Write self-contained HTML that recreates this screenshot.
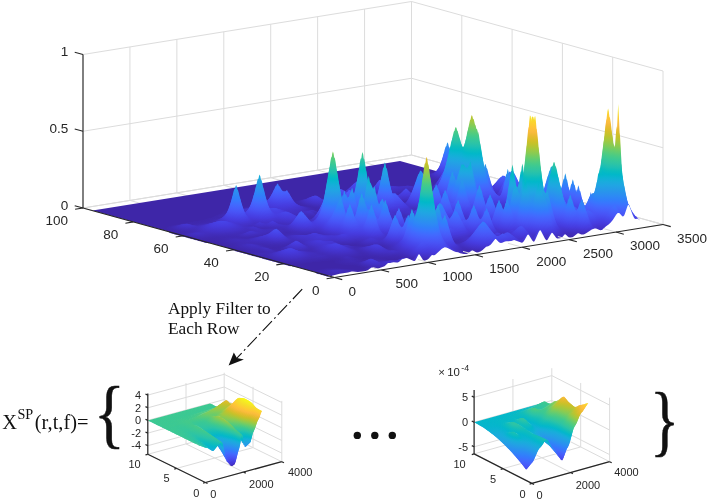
<!DOCTYPE html><html><head><meta charset="utf-8"><title>Figure</title><style>
html,body{margin:0;padding:0;background:#fff}
svg{display:block}
.g{stroke:#dcdcdc;stroke-width:1;fill:none}
.a{stroke:#262626;stroke-width:1.1;fill:none}
.t{font-family:"Liberation Sans",Arial,sans-serif;font-size:13.5px;fill:#262626}
.s{font-family:"Liberation Sans",Arial,sans-serif;font-size:11px;fill:#262626}
.a2{stroke:#262626;stroke-width:1.25;fill:none}
.r{font-family:"Liberation Serif","Times New Roman",serif;fill:#111}
</style></head><body>
<svg width="708" height="502" viewBox="0 0 708 502">
<defs><linearGradient id="pg" gradientUnits="userSpaceOnUse" x1="0" y1="0" x2="-19.551" y2="-121.181"><stop offset="0" stop-color="#3e26a8"/><stop offset="0.02778" stop-color="#4331c7"/><stop offset="0.05556" stop-color="#463bde"/><stop offset="0.08333" stop-color="#4747eb"/><stop offset="0.1111" stop-color="#4853f5"/><stop offset="0.1389" stop-color="#465efb"/><stop offset="0.1667" stop-color="#4269fe"/><stop offset="0.1944" stop-color="#3975fe"/><stop offset="0.2222" stop-color="#3080fa"/><stop offset="0.25" stop-color="#2d8af4"/><stop offset="0.2778" stop-color="#2993ed"/><stop offset="0.3056" stop-color="#259ce7"/><stop offset="0.3333" stop-color="#20a5e3"/><stop offset="0.3611" stop-color="#19acdc"/><stop offset="0.3889" stop-color="#0db3d3"/><stop offset="0.4167" stop-color="#01b8c9"/><stop offset="0.4444" stop-color="#0abdbd"/><stop offset="0.4722" stop-color="#1fc0b2"/><stop offset="0.5" stop-color="#2dc4a5"/><stop offset="0.5278" stop-color="#37c898"/><stop offset="0.5556" stop-color="#45cb89"/><stop offset="0.5833" stop-color="#59cc78"/><stop offset="0.6111" stop-color="#6fcd65"/><stop offset="0.6389" stop-color="#88cb53"/><stop offset="0.6667" stop-color="#9fc942"/><stop offset="0.6944" stop-color="#b5c533"/><stop offset="0.7222" stop-color="#c9c129"/><stop offset="0.75" stop-color="#dbbd29"/><stop offset="0.7778" stop-color="#ebba31"/><stop offset="0.8056" stop-color="#f9ba3d"/><stop offset="0.8333" stop-color="#fec13a"/><stop offset="0.8611" stop-color="#fdcb33"/><stop offset="0.8889" stop-color="#fad52e"/><stop offset="0.9167" stop-color="#f6df29"/><stop offset="0.9444" stop-color="#f5e825"/><stop offset="0.9722" stop-color="#f6f21e"/><stop offset="1" stop-color="#f9fb15"/></linearGradient><linearGradient id="sg1" gradientUnits="userSpaceOnUse" x1="7.695" y1="28.265" x2="-5.611" y2="-20.610"><stop offset="0" stop-color="#3e26a8"/><stop offset="0.04167" stop-color="#4331c7"/><stop offset="0.08333" stop-color="#463de0"/><stop offset="0.125" stop-color="#484cef"/><stop offset="0.1667" stop-color="#475bf9"/><stop offset="0.2083" stop-color="#426afe"/><stop offset="0.25" stop-color="#347afd"/><stop offset="0.2917" stop-color="#2d89f5"/><stop offset="0.3333" stop-color="#2797eb"/><stop offset="0.375" stop-color="#21a3e3"/><stop offset="0.4167" stop-color="#17aeda"/><stop offset="0.4583" stop-color="#02b7cb"/><stop offset="0.5" stop-color="#12beb9"/><stop offset="0.5417" stop-color="#2cc4a6"/><stop offset="0.5833" stop-color="#3dc990"/><stop offset="0.625" stop-color="#5ccc76"/><stop offset="0.6667" stop-color="#81cc59"/><stop offset="0.7083" stop-color="#a6c83c"/><stop offset="0.75" stop-color="#c8c129"/><stop offset="0.7917" stop-color="#e5bb2d"/><stop offset="0.8333" stop-color="#fbbc3d"/><stop offset="0.875" stop-color="#feca33"/><stop offset="0.9167" stop-color="#f7db2b"/><stop offset="0.9583" stop-color="#f5eb23"/><stop offset="1" stop-color="#f9fb15"/></linearGradient><linearGradient id="sg2" gradientUnits="userSpaceOnUse" x1="7.167" y1="25.662" x2="-8.447" y2="-30.245"><stop offset="0" stop-color="#3e26a8"/><stop offset="0.04167" stop-color="#4331c7"/><stop offset="0.08333" stop-color="#463de0"/><stop offset="0.125" stop-color="#484cef"/><stop offset="0.1667" stop-color="#475bf9"/><stop offset="0.2083" stop-color="#426afe"/><stop offset="0.25" stop-color="#347afd"/><stop offset="0.2917" stop-color="#2d89f5"/><stop offset="0.3333" stop-color="#2797eb"/><stop offset="0.375" stop-color="#21a3e3"/><stop offset="0.4167" stop-color="#17aeda"/><stop offset="0.4583" stop-color="#02b7cb"/><stop offset="0.5" stop-color="#12beb9"/><stop offset="0.5417" stop-color="#2cc4a6"/><stop offset="0.5833" stop-color="#3dc990"/><stop offset="0.625" stop-color="#5ccc76"/><stop offset="0.6667" stop-color="#81cc59"/><stop offset="0.7083" stop-color="#a6c83c"/><stop offset="0.75" stop-color="#c8c129"/><stop offset="0.7917" stop-color="#e5bb2d"/><stop offset="0.8333" stop-color="#fbbc3d"/><stop offset="0.875" stop-color="#feca33"/><stop offset="0.9167" stop-color="#f7db2b"/><stop offset="0.9583" stop-color="#f5eb23"/><stop offset="1" stop-color="#f9fb15"/></linearGradient></defs>
<rect width="708" height="502" fill="#fff"/>
<line class="g" x1="334.50" y1="277.50" x2="83.00" y2="208.00"/>
<line class="g" x1="381.43" y1="269.93" x2="129.93" y2="200.43"/>
<line class="g" x1="428.36" y1="262.36" x2="176.86" y2="192.86"/>
<line class="g" x1="475.29" y1="254.79" x2="223.79" y2="185.29"/>
<line class="g" x1="522.21" y1="247.21" x2="270.71" y2="177.71"/>
<line class="g" x1="569.14" y1="239.64" x2="317.64" y2="170.14"/>
<line class="g" x1="616.07" y1="232.07" x2="364.57" y2="162.57"/>
<line class="g" x1="663.00" y1="224.50" x2="411.50" y2="155.00"/>
<line class="g" x1="334.50" y1="277.50" x2="663.00" y2="224.50"/>
<line class="g" x1="284.20" y1="263.60" x2="612.70" y2="210.60"/>
<line class="g" x1="233.90" y1="249.70" x2="562.40" y2="196.70"/>
<line class="g" x1="183.60" y1="235.80" x2="512.10" y2="182.80"/>
<line class="g" x1="133.30" y1="221.90" x2="461.80" y2="168.90"/>
<line class="g" x1="83.00" y1="208.00" x2="411.50" y2="155.00"/>
<line class="g" x1="83.00" y1="208.00" x2="83.00" y2="54.50"/>
<line class="g" x1="129.93" y1="200.43" x2="129.93" y2="46.93"/>
<line class="g" x1="176.86" y1="192.86" x2="176.86" y2="39.36"/>
<line class="g" x1="223.79" y1="185.29" x2="223.79" y2="31.79"/>
<line class="g" x1="270.71" y1="177.71" x2="270.71" y2="24.21"/>
<line class="g" x1="317.64" y1="170.14" x2="317.64" y2="16.64"/>
<line class="g" x1="364.57" y1="162.57" x2="364.57" y2="9.07"/>
<line class="g" x1="411.50" y1="155.00" x2="411.50" y2="1.50"/>
<line class="g" x1="83.00" y1="208.00" x2="411.50" y2="155.00"/>
<line class="g" x1="83.00" y1="131.25" x2="411.50" y2="78.25"/>
<line class="g" x1="83.00" y1="54.50" x2="411.50" y2="1.50"/>
<line class="g" x1="663.00" y1="224.50" x2="663.00" y2="71.00"/>
<line class="g" x1="612.70" y1="210.60" x2="612.70" y2="57.10"/>
<line class="g" x1="562.40" y1="196.70" x2="562.40" y2="43.20"/>
<line class="g" x1="512.10" y1="182.80" x2="512.10" y2="29.30"/>
<line class="g" x1="461.80" y1="168.90" x2="461.80" y2="15.40"/>
<line class="g" x1="411.50" y1="155.00" x2="411.50" y2="1.50"/>
<line class="g" x1="411.50" y1="155.00" x2="663.00" y2="224.50"/>
<line class="g" x1="411.50" y1="78.25" x2="663.00" y2="147.75"/>
<line class="g" x1="411.50" y1="1.50" x2="663.00" y2="71.00"/>
<polygon fill="#3e26a8" points="92.6,210.6 400.0,161.0 640.0,227.3 332.5,276.9"/><g fill="url(#pg)"><polygon transform="translate(132.8,221.7)" points="290.7,-47.4 298.4,-48.9 306.1,-49.9 307.3,-47.8 291.9,-45.3"/>
<polygon transform="translate(134,222.1)" points="287.9,-46.9 298.4,-49.2 307.5,-50.2 308.7,-48.1 289.1,-44.9"/>
<polygon transform="translate(135.3,222.4)" points="285.8,-46.5 297.7,-49.4 307.5,-50.4 308.7,-48.1 287,-44.6"/>
<polygon transform="translate(136.5,222.8)" points="284.4,-46.3 297.7,-49.9 301.2,-50.3 307.5,-50.6 308.7,-48.1 285.6,-44.3"/>
<polygon transform="translate(137.8,223.1)" points="283,-46.1 297.7,-50.5 301.2,-50.9 307.5,-50.8 308.7,-48.1 284.2,-44.1"/>
<polygon transform="translate(139,223.5)" points="282.3,-46 288.6,-47.9 295.6,-50.9 297.7,-51.6 301.2,-51.8 307.5,-51.1 308.7,-48.1 283.5,-44"/>
<polygon transform="translate(140.3,223.8)" points="110.7,-18.4 124,-20.5 125.2,-18.5 111.9,-16.3"/>
<polygon transform="translate(140.3,223.8)" points="281.6,-45.9 288.6,-48.2 295.6,-52.1 297.7,-53 300.5,-53.2 307.5,-51.5 308.7,-48.1 282.8,-43.9"/>
<polygon transform="translate(141.5,224.2)" points="105.1,-17.5 117.7,-19.9 128.2,-21.2 129.4,-19.1 106.3,-15.4"/>
<polygon transform="translate(141.5,224.2)" points="280.9,-45.7 285.1,-47 288.6,-48.6 290.7,-49.9 295.6,-53.8 297,-54.6 298.4,-55.1 299.8,-55.1 301.2,-54.7 307.5,-51.9 308.7,-48.1 282.1,-43.8"/>
<polygon transform="translate(142.8,224.5)" points="81.2,-13.6 89,-15.1 101.6,-17 117.7,-20.2 130.3,-21.5 131.5,-19.5 82.5,-11.6"/>
<polygon transform="translate(142.8,224.5)" points="280.2,-45.6 285.1,-47.2 288.6,-49 291.4,-51.3 296.3,-56.7 298.4,-57.8 299.1,-57.8 300.5,-57.3 305.4,-53.6 307.5,-52.4 308.7,-48.1 281.4,-43.7"/>
<polygon transform="translate(144.1,224.9)" points="78.4,-13.2 88.3,-15.2 102.3,-17.3 117.7,-20.6 132.4,-21.9 133.6,-19.8 79.7,-11.1"/>
<polygon transform="translate(144.1,224.9)" points="185.6,-30.5 189.8,-31.2 191.1,-29.1 186.9,-28.4"/>
<polygon transform="translate(144.1,224.9)" points="279.5,-45.5 285.1,-47.3 288.6,-49.4 290,-50.7 292.1,-53.3 297,-60.9 298.4,-61.9 299.1,-61.8 300.5,-60.7 304.7,-55.4 307.5,-53 308.7,-48.1 280.7,-43.5"/>
<polygon transform="translate(145.3,225.2)" points="76.3,-12.8 88.3,-15.5 103,-17.7 117.7,-21.1 121.2,-21.5 134.5,-22.2 135.7,-20.1 77.6,-10.8"/>
<polygon transform="translate(145.3,225.2)" points="180,-29.5 187.7,-31.1 196.1,-32.2 197.4,-30.1 181.3,-27.5"/>
<polygon transform="translate(145.3,225.2)" points="279.5,-45.5 283,-46.6 285.8,-47.8 287.9,-49.2 289.3,-50.6 291.4,-53.4 292.8,-55.9 297,-66 297.7,-66.9 298.4,-67.3 299.1,-67.1 299.8,-66.4 304,-57.8 305.4,-55.7 307.5,-53.5 308.7,-48.1 280.7,-43.5"/>
<polygon transform="translate(146.6,225.6)" points="74.9,-12.6 88.3,-15.7 103.7,-18.1 117.7,-21.9 121.2,-22.2 129.6,-22 135.9,-22.4 137.1,-20.4 76.2,-10.5"/>
<polygon transform="translate(146.6,225.6)" points="148.5,-24.4 154.1,-25.6 159,-26.1 160.2,-24.1 149.7,-22.4"/>
<polygon transform="translate(146.6,225.6)" points="177.9,-29.2 186.3,-31.1 194.7,-32.3 202.4,-33.8 212.9,-34.9 214.2,-32.8 179.2,-27.2"/>
<polygon transform="translate(146.6,225.6)" points="279.5,-45.5 283,-46.6 285.8,-47.9 287.9,-49.5 290,-52 291.4,-54.3 292.8,-57.5 297,-71.6 297.7,-73 298.4,-73.6 299.1,-73.3 299.8,-72.1 304,-59.3 305.4,-56.6 307.5,-54 308.7,-48.1 280.7,-43.5"/>
<polygon transform="translate(147.8,225.9)" points="72.1,-12.2 88.3,-16.1 104.4,-18.6 108.6,-19.8 114.9,-22.1 117.7,-22.8 121.2,-23 130.3,-22.3 137.3,-22.6 138.5,-20.6 73.4,-10.1"/>
<polygon transform="translate(147.8,225.9)" points="146.4,-24 154.1,-26 161.1,-26.4 162.3,-24.4 147.6,-22.1"/>
<polygon transform="translate(147.8,225.9)" points="175.8,-28.8 185.6,-31.2 193.3,-32.5 202.4,-34.8 205.9,-35.1 216.4,-35.4 217.7,-33.4 177.1,-26.8"/>
<polygon transform="translate(147.8,225.9)" points="278.8,-45.4 283.7,-46.9 286.5,-48.5 288.6,-50.4 290.7,-53.6 292.8,-58.8 297,-76.7 297.7,-79 298.4,-80 299.1,-79.3 299.8,-77.2 304,-60.6 305.4,-57.3 307.5,-54.3 308.7,-48.1 280,-43.4"/>
<polygon transform="translate(149.1,226.3)" points="68.6,-11.6 77,-13.4 88.3,-16.4 104.4,-19 107.9,-20 114.9,-23 117.7,-23.8 121.2,-24 131,-22.5 138,-22.7 139.2,-20.7 69.9,-9.5"/>
<polygon transform="translate(149.1,226.3)" points="145,-23.8 154.1,-26.5 162.5,-26.6 163.7,-24.7 146.2,-21.8"/>
<polygon transform="translate(149.1,226.3)" points="174.4,-28.7 184.9,-31.4 191.9,-32.8 198.9,-35.4 202.4,-36.3 205.9,-36.5 214.3,-35.7 219.2,-35.8 220.5,-33.8 175.7,-26.6"/>
<polygon transform="translate(149.1,226.3)" points="224.8,-36.8 232.5,-38.3 240.9,-39.4 242.2,-37.3 226.1,-34.7"/>
<polygon transform="translate(149.1,226.3)" points="278.8,-45.4 283.7,-47 286.5,-48.5 288.6,-50.5 290.7,-53.8 292.1,-57 293.5,-61.9 297.7,-82.4 298.4,-84.1 299.1,-82.6 302.6,-66.3 304,-61 305.4,-57.5 307.5,-54.4 308.7,-48.1 280,-43.4"/>
<polygon transform="translate(150.3,226.6)" points="65.1,-11 77.7,-13.8 88.3,-16.8 105.1,-19.6 108.6,-20.9 114.9,-24.2 117.7,-25.1 121.2,-25.1 128.2,-23.3 131,-22.8 134.5,-22.7 139.4,-22.9 140.6,-20.9 66.4,-9"/>
<polygon transform="translate(150.3,226.6)" points="144.3,-23.7 152,-26.6 154.1,-27.1 156.2,-27.2 161.1,-26.8 163.9,-26.9 165.1,-24.9 145.5,-21.7"/>
<polygon transform="translate(150.3,226.6)" points="172.3,-28.3 177.2,-29.5 184.9,-31.8 190.5,-33.1 193.3,-34.3 198.9,-37.3 202.4,-38.3 205.9,-38.3 213.6,-36.4 218.5,-36 222,-36.4 233.2,-38.8 244.4,-40 245.7,-37.9 173.6,-26.3"/>
<polygon transform="translate(150.3,226.6)" points="278.8,-45.4 283.7,-46.9 286.5,-48.5 288.6,-50.4 290.7,-53.6 292.8,-58.8 297,-76.7 297.7,-79 298.4,-80 299.1,-79.3 299.8,-77.2 304,-60.6 305.4,-57.3 307.5,-54.3 308.7,-48.1 280,-43.4"/>
<polygon transform="translate(151.6,227)" points="62.3,-10.6 79.1,-14.4 88.3,-17.2 105.1,-20.1 108.6,-21.6 115.6,-25.9 118.4,-26.8 121.2,-26.5 127.5,-24 131,-23.1 135.2,-22.9 140.1,-23.1 141.3,-21.1 63.6,-8.5"/>
<polygon transform="translate(151.6,227)" points="142.9,-23.4 145.7,-24.3 151.3,-27 154.1,-27.8 156.2,-27.9 161.8,-27 165.3,-27.2 166.6,-25.1 144.1,-21.5"/>
<polygon transform="translate(151.6,227)" points="168.1,-27.7 175.8,-29.3 184.2,-32.1 189.8,-33.6 192.6,-35 198.9,-39.4 201,-40.3 202.4,-40.6 203.8,-40.7 205.9,-40.3 214.3,-36.9 218.5,-36.2 221.3,-36.5 233.2,-39.3 249.3,-40.8 250.6,-38.7 169.4,-25.6"/>
<polygon transform="translate(151.6,227)" points="278.8,-45.4 283,-46.6 285.8,-47.9 287.9,-49.5 290,-52 291.4,-54.3 292.8,-57.5 297,-71.6 297.7,-73 298.4,-73.6 299.1,-73.3 299.8,-72.1 304,-59.3 305.4,-56.6 307.5,-54 308.7,-48.1 280,-43.4"/>
<polygon transform="translate(152.9,227.3)" points="60.2,-10.3 64.4,-11.2 72.8,-13.4 79.8,-14.9 88.3,-17.6 105.1,-20.6 108.6,-22.3 116.3,-28.1 118.4,-28.9 120.5,-28.5 126.8,-25 130.3,-23.6 134.5,-23 140.8,-23.2 142,-21.2 61.5,-8.2"/>
<polygon transform="translate(152.9,227.3)" points="142.2,-23.4 145.7,-24.5 151.3,-27.6 154.1,-28.6 156.2,-28.6 161.1,-27.4 163.2,-27.2 170.9,-28.4 177.2,-30 183.5,-32.4 190.5,-34.7 193.3,-36.6 198.9,-41.5 201,-42.7 202.4,-43.1 203.8,-43 205.2,-42.6 214.3,-37.5 216.4,-36.8 218.5,-36.5 221.3,-36.7 229,-39 233.2,-39.9 243.7,-40.5 254.2,-41.5 255.5,-39.5 143.4,-21.4"/>
<polygon transform="translate(152.9,227.3)" points="278.8,-45.5 282.3,-46.4 285.1,-47.4 287.2,-48.7 289.3,-50.6 291.4,-53.4 292.8,-55.9 297,-66 297.7,-66.9 298.4,-67.3 299.1,-67.1 299.8,-66.4 304,-57.8 305.4,-55.7 307.5,-53.5 308.7,-48.1 280,-43.4"/>
<polygon transform="translate(154.1,227.7)" points="57.4,-9.9 63.7,-11.1 73.5,-14 80.5,-15.4 88.3,-18 105.8,-21.4 107.9,-22.5 110,-24 112.8,-26.6 116.3,-30.6 117.7,-31.7 118.4,-31.9 119.1,-31.8 120.5,-31 124.7,-27.2 128.2,-25 131.7,-23.6 135.2,-23.2 140.8,-23.3 143.6,-23.8 146.4,-25.1 152,-28.8 154.1,-29.5 156.2,-29.4 161.1,-27.7 163.2,-27.4 166.7,-27.9 174.4,-29.5 177.9,-30.6 184.2,-33.3 190.5,-35.4 193.3,-37.5 199.6,-43.9 201,-44.9 202.4,-45.4 203.8,-45.1 205.2,-44.4 211.5,-39.8 214.3,-38 216.4,-37.1 218.5,-36.7 221.3,-37 229.7,-39.8 233.2,-40.6 243,-40.8 257,-41.9 258.3,-39.9 58.7,-7.7"/>
<polygon transform="translate(154.1,227.7)" points="278.1,-45.4 284.4,-47.1 286.5,-48 288.6,-49.4 290,-50.7 292.1,-53.3 297,-60.9 298.4,-61.9 299.1,-61.8 300.5,-60.7 304.7,-55.4 307.5,-53 308.7,-48.1 279.3,-43.3"/>
<polygon transform="translate(155.4,228)" points="51.1,-8.9 62.3,-10.9 73.5,-14.4 81.2,-15.8 88.3,-18.4 98.8,-20.8 103.7,-21.4 105.8,-21.9 108.6,-23.6 111.4,-26.2 113.5,-29 116.3,-33.7 117.7,-35.2 118.4,-35.4 119.1,-35.3 120.5,-34.1 124.7,-28.4 126.8,-26.6 128.9,-25.2 131,-24.2 133.8,-23.5 140.1,-23.3 142.9,-23.7 145,-24.5 147.1,-25.9 151.3,-29.1 152.7,-30 154.1,-30.4 156.2,-30.2 161.1,-28.1 163.2,-27.7 167.4,-28.4 177.9,-31 184.9,-34.2 189.8,-35.6 191.2,-36.3 194,-38.5 200.3,-45.4 201.7,-46.5 202.4,-46.7 204.5,-45.7 210.8,-40.6 213.6,-38.7 216.4,-37.4 218.5,-36.9 221.3,-37.2 229.7,-40.5 233.2,-41.4 242.3,-41.2 250,-41.9 258.4,-42.1 259.7,-40.2 52.4,-6.7"/>
<polygon transform="translate(155.4,228)" points="276,-45.1 283.7,-46.8 287.9,-48.5 290.7,-50.7 296.3,-56.7 298.4,-57.8 299.1,-57.8 300.5,-57.3 305.4,-53.6 307.5,-52.4 308.7,-48.1 277.2,-43"/>
<polygon transform="translate(156.6,228.3)" points="23.8,-4.4 61.6,-10.8 65.8,-12 73.5,-14.8 81.2,-16.1 88.3,-18.6 98.1,-21.3 104.4,-22 105.8,-22.4 108.6,-24.1 111.4,-27 113.5,-30.6 117,-38.1 117.7,-39 118.4,-39.3 119.1,-39.1 119.8,-38.3 123.3,-31.8 124.7,-29.7 128.2,-26.3 130.3,-24.9 133.1,-23.9 135.9,-23.4 139.4,-23.3 142.2,-23.6 145,-24.7 147.1,-26.2 152,-30.4 154.1,-31.3 156.2,-31 161.1,-28.5 163.2,-28.1 166,-28.5 177.9,-31.5 185.6,-35.2 190.5,-36.2 191.9,-36.8 194,-38.3 199.6,-43.7 201,-44.7 202.4,-45.2 203.8,-45 205.2,-44.3 211.5,-39.9 213.6,-38.7 216.4,-37.7 219.2,-37.2 222,-37.6 230.4,-41.4 233.2,-42.1 241.6,-41.6 249.3,-42.3 259.8,-42.3 261.1,-40.4 25.1,-2.3"/>
<polygon transform="translate(156.6,228.3)" points="273.9,-44.7 284.4,-47 287.2,-47.9 290.7,-49.9 296.3,-54.3 298.4,-55.1 299.8,-55.1 301.2,-54.7 307.5,-51.9 308.7,-48.1 275.1,-42.6"/>
<polygon transform="translate(157.9,228.7)" points="10.5,-2.2 17.5,-3.6 48.3,-8.5 61.6,-10.9 65.8,-12.1 73.5,-14.9 81.9,-16.4 87.6,-18.5 92.5,-19.9 98.1,-21.8 100.2,-22.2 103.7,-22.3 105.8,-22.8 108.6,-24.6 111.4,-27.7 113.5,-31.8 117,-41.2 117.7,-42.6 118.4,-43.1 119.1,-42.7 119.8,-41.5 122.6,-35 124,-32.4 128.2,-27.2 130.3,-25.4 132.4,-24.4 135.2,-23.6 138.7,-23.4 142.2,-23.7 145,-24.9 147.1,-26.5 152,-31.2 153.4,-32 154.1,-32.2 155.5,-32.1 160.4,-29.2 161.8,-28.6 163.2,-28.4 164.6,-28.7 172.3,-31.2 179.3,-32.7 186.3,-36.2 191.2,-36.5 192.6,-36.9 194.7,-38.1 199.6,-41.8 201,-42.5 202.4,-42.9 203.8,-42.9 205.2,-42.5 212.2,-39.2 220.6,-37.7 223.4,-38.4 231.1,-42.2 233.2,-42.8 240.9,-42 248.6,-42.7 260.5,-42.5 261.8,-40.5 11.8,-0.1"/>
<polygon transform="translate(157.9,228.7)" points="271.8,-44.3 287.2,-47.7 290.7,-49.2 295.6,-52.1 298.4,-53.1 301.2,-53.1 307.5,-51.5 308.7,-48.1 273,-42.3"/>
<polygon transform="translate(159.1,229)" points="7.7,-1.8 16.1,-3.6 25.9,-4.9 44.8,-8 63,-11.4 73.5,-14.7 81.9,-16.5 98.1,-22.1 100.2,-22.5 103.7,-22.6 105.8,-23.1 107.2,-23.8 109.3,-25.5 110.7,-27 112.1,-29.2 114.2,-34.3 117.7,-44.6 118.4,-45.6 119.1,-44.8 122.6,-36.5 128.2,-28.2 129.6,-26.6 131,-25.4 133.1,-24.4 135.9,-23.7 138.7,-23.5 142.2,-23.7 145,-25 147.1,-26.7 152,-31.8 153.4,-32.9 154.1,-33.1 155.5,-32.8 161.1,-29.2 163.2,-28.9 165.3,-29.5 172.3,-32.5 180,-33.7 186.3,-37 187.7,-37.1 191.9,-36.6 194,-37 199.6,-39.8 202.4,-40.7 205.2,-40.7 209.4,-39.5 210.8,-39.4 215.7,-40.4 217.1,-40.1 220.6,-38.4 222,-38.2 224.1,-38.7 231.1,-42.2 233.2,-42.8 240.2,-42.1 247.9,-43.2 257,-42.6 261.2,-42.6 262.5,-40.6 9,0.3"/>
<polygon transform="translate(159.1,229)" points="271.1,-44.2 279.5,-46.3 287.2,-47.5 290,-48.4 295.6,-50.9 298.4,-51.7 301.2,-51.8 307.5,-51.1 308.7,-48.1 272.3,-42.2"/>
<polygon transform="translate(160.4,229.4)" points="5.6,-1.4 16.1,-4 26.6,-5.1 42.7,-7.7 64.4,-11.8 73.5,-14.5 81.9,-16.7 98.1,-22 103.7,-22.7 105.8,-23.2 108.6,-25 111.4,-28 113.5,-32.1 117,-41.5 117.7,-42.9 118.4,-43.5 119.1,-43.1 121.9,-38.4 124.7,-35.6 128.9,-28.2 130.3,-26.5 131.7,-25.3 133.8,-24.4 136.6,-23.7 139.4,-23.6 142.2,-23.8 145,-25.1 147.8,-27.6 152.7,-33 154.1,-33.9 155.5,-33.4 160.4,-29.7 162.5,-29.2 164.6,-29.9 170.2,-33 172.3,-34 174.4,-34.4 178.6,-34.3 180.7,-34.6 186.3,-37.6 187.7,-37.7 192.6,-36.7 194.7,-36.6 196.8,-37 203.1,-38.9 205.2,-39.1 208.7,-39 210.1,-39.4 213.6,-42.1 215,-42.7 215.7,-42.7 217.1,-42.3 221.3,-39 222.7,-38.5 224.1,-38.7 230.4,-41.5 233.2,-42.2 240.2,-42.1 247.2,-43.6 257,-42.6 261.9,-42.6 263.2,-40.7 6.9,0.6"/>
<polygon transform="translate(160.4,229.4)" points="269.7,-43.9 279.5,-46.5 287.9,-47.5 297.7,-50.5 301.2,-50.9 307.5,-50.8 308.7,-48.1 270.9,-42"/>
<polygon transform="translate(161.6,229.7)" points="4.9,-1.3 16.1,-4.4 18.9,-4.8 25.9,-5.1 29.4,-5.6 45.5,-8.3 57.4,-10.9 66.5,-12.4 81.9,-16.8 96.7,-21.6 105.1,-23 106.5,-23.6 108.6,-24.9 111.4,-27.7 113.5,-31.2 117,-38.7 117.7,-39.6 118.4,-40.1 119.1,-40 121.2,-38.6 121.9,-38.4 124,-38.5 124.7,-37.8 128.9,-28.9 130.3,-26.9 131.7,-25.6 133.1,-24.9 135.2,-24.1 140.1,-23.7 142.9,-24 145.7,-25.6 147.8,-27.6 152.7,-33.2 154.1,-34.2 155.5,-33.6 159.7,-30.3 161.1,-29.6 162.5,-29.6 165.3,-31 170.9,-34.9 173.7,-36 175.8,-36 179.3,-35.4 180.7,-35.4 182.8,-36 186.3,-37.8 187.7,-38.1 189.1,-37.9 194.7,-36.4 197.5,-36.3 205.2,-38.2 208,-38.6 209.4,-39.4 213.6,-44.4 215,-45.3 215.7,-45.3 217.1,-44.6 221.3,-39.9 222.7,-38.8 223.4,-38.6 224.8,-38.8 231.8,-41.3 240.9,-42.1 246.5,-43.8 248.6,-43.7 257,-42.7 261.9,-42.7 263.2,-40.7 6.2,0.8"/>
<polygon transform="translate(161.6,229.7)" points="269,-43.8 276.7,-46.1 280.2,-46.9 287.9,-47.4 299.1,-50.1 307.5,-50.6 308.7,-48.1 270.2,-41.8"/>
<polygon transform="translate(162.9,230.1)" points="3.5,-1.1 7,-2 16.1,-5 19.6,-5.3 25.9,-5.3 29.4,-5.7 45.5,-8.4 58.1,-11.4 67.9,-12.9 96,-21.4 105.1,-23 107.9,-24.3 111.4,-27.2 113.5,-30 116.3,-34.6 117.7,-36.2 118.4,-36.6 121.2,-37.1 124,-40 124.7,-39 128.9,-29.3 131,-26.4 133.1,-25 135.2,-24.3 138,-23.9 140.8,-23.8 143.6,-24.3 145.7,-25.6 147.8,-27.6 152.7,-32.9 154.1,-33.8 155.5,-33.3 159.7,-30.3 161.1,-29.8 161.8,-29.8 163.2,-30.3 164.6,-31.2 170.9,-36.4 172.3,-37.2 173.7,-37.7 175.8,-37.6 179.3,-36.4 181.4,-36.1 182.8,-36.4 186.3,-38 188.4,-38.4 195.4,-36.4 198.2,-36.1 201,-36.5 207.3,-38.3 208.7,-39.2 209.4,-39.9 213.6,-46.7 215,-48 215.7,-48 216.4,-47.6 217.8,-45.9 222,-39.8 223.4,-38.8 224.1,-38.6 225.5,-38.8 231.8,-40.8 240.2,-41.8 247.2,-43.5 257.7,-42.6 261.9,-42.7 263.2,-40.7 4.8,1"/>
<polygon transform="translate(162.9,230.1)" points="267.6,-43.6 279.5,-47.1 282.3,-47.4 288.6,-47.4 298.4,-49.5 307.5,-50.4 308.7,-48.1 268.8,-41.6"/>
<polygon transform="translate(164.2,230.4)" points="2.8,-1 7,-2.1 13.3,-4.7 16.1,-5.6 18.9,-5.9 25.9,-5.5 29.4,-5.8 45.5,-8.5 58.1,-12 68.6,-13.3 79.1,-16.8 95.3,-21.3 105.8,-23.2 107.9,-24.1 110.7,-26 112.8,-27.9 117,-32.5 120.5,-34.5 123.3,-37.8 124,-38 124.7,-37.5 125.4,-36.4 128.9,-29.2 131,-26.5 133.1,-25.2 135.2,-24.4 138,-24 141.5,-23.9 143.6,-24.3 145.7,-25.5 152,-31.7 153.4,-32.8 154.1,-33 155.5,-32.7 159,-30.5 160.4,-29.9 161.1,-29.8 162.5,-30.2 165.3,-32.3 170.9,-37.8 172.3,-38.9 173.7,-39.4 175.8,-39.1 179.3,-37.3 181.4,-36.7 183.5,-36.9 187,-38.4 188.4,-38.7 190.5,-38.3 196.1,-36.5 198.2,-36.1 201,-36.3 206.6,-37.8 208,-38.6 209.4,-40.3 213.6,-48.4 215,-50.4 215.7,-50.3 216.4,-49.5 222,-40.2 223.4,-38.9 224.1,-38.6 225.5,-38.6 231.1,-40.2 239.5,-41.3 247.2,-43.1 250,-43.1 257.7,-42.5 261.9,-42.7 263.2,-40.7 4.1,1.1"/>
<polygon transform="translate(164.2,230.4)" points="264.8,-43.2 279.5,-47.4 282.3,-47.6 289.3,-47.5 299.1,-49.3 307.5,-50.2 308.7,-48.1 266,-41.2"/>
<polygon transform="translate(165.4,230.8)" points="2.1,-0.9 6.3,-2 13.3,-5.2 16.1,-6.2 18.9,-6.4 25.2,-5.8 28,-5.8 43.4,-8.3 48.3,-9.5 57.4,-12.7 60.2,-13.1 65.8,-13.2 68.6,-13.6 79.8,-17.6 86.8,-19.1 96.7,-21.9 106.5,-23.4 110,-25 116.3,-29.6 119.8,-31.6 122.6,-34.5 123.3,-35 124,-35.2 124.7,-34.9 125.4,-34.2 129.6,-27.7 131.7,-26 133.8,-25 135.9,-24.4 141.5,-24 143.6,-24.3 145.7,-25.4 151.3,-30.5 153.4,-31.9 154.1,-32.1 155.5,-31.9 159,-30.2 160.4,-29.7 161.1,-29.7 162.5,-30.3 165.3,-32.6 171.6,-39.7 173,-40.8 173.7,-41 175.1,-40.8 179.3,-38 181.4,-37.1 183.5,-37.2 187,-38.6 188.4,-38.8 190.5,-38.5 197.5,-36.3 200.3,-36.1 203.1,-36.6 206.6,-37.5 208,-38.4 208.7,-39.2 210.1,-41.4 214.3,-49.9 215,-50.7 215.7,-50.6 216.4,-49.7 222,-40.2 223.4,-38.8 224.8,-38.3 231.1,-39.8 238.8,-40.8 247.2,-42.5 250,-42.7 257.7,-42.5 261.9,-42.8 264.8,-43.5 273.2,-46.4 278.8,-47.7 281.6,-47.9 287.2,-47.5 290,-47.5 299.1,-49 306.1,-49.9 307.3,-47.8 3.4,1.2"/>
<polygon transform="translate(166.7,231.1)" points="1.4,-0.8 6.3,-2.1 14,-6 16.1,-6.8 18.9,-7 24.5,-6.1 27.3,-5.9 42.7,-8.3 47.6,-9.6 54.6,-12.8 57.4,-13.8 60.2,-14.1 65.8,-13.8 68.6,-14 71.4,-14.9 77,-17.5 79.8,-18.4 87.6,-19.7 97.4,-22.4 107.2,-23.5 110,-24.6 115.6,-27.6 119.1,-29.2 122.6,-31.8 124,-32.3 125.4,-31.7 129.6,-27.3 132.4,-25.6 134.5,-24.8 137.3,-24.3 141.5,-24 143.6,-24.2 146.4,-25.7 151.3,-29.8 153.4,-31 155.5,-31.1 159.7,-29.5 161.1,-29.5 161.8,-29.8 163.2,-30.8 165.3,-32.8 171.6,-40.6 173,-42 173.7,-42.2 175.1,-41.7 179.3,-38.4 181.4,-37.3 183.5,-37.2 187,-38.6 189.1,-38.8 196.8,-36.4 198.9,-36 201,-36 205.9,-36.8 208,-38 210.1,-40.8 213.6,-47 215,-48.4 215.7,-48.4 217.1,-47.2 221.3,-40.7 222.7,-39.1 223.4,-38.5 224.8,-38.1 247.2,-42 257.7,-42.4 260.5,-42.7 264.1,-43.8 271.1,-47.3 274.6,-48.3 280.2,-48.5 286.5,-47.7 289.3,-47.5 299.8,-48.9 301,-46.8 2.7,1.3"/>
<polygon transform="translate(167.9,231.5)" points="0.7,-0.6 3.5,-1.3 6.3,-2.2 16.1,-7.4 18.2,-7.6 24.5,-6.3 27.3,-6.1 43.4,-8.7 46.2,-9.4 48.3,-10.2 54.6,-13.9 57.4,-15.1 60.2,-15.4 66.5,-14.3 68.6,-14.4 70.7,-15.1 76.3,-18.2 79.1,-19.3 81.9,-19.8 87.6,-20.2 94.6,-22.2 98.1,-22.9 107.9,-23.6 110,-24.2 119.1,-27.7 123.3,-29.8 124,-29.9 125.4,-29.5 130.3,-26.4 133.8,-25 138.7,-24.2 143.6,-24.2 146.4,-25.4 151.3,-29.1 153.4,-30.1 155.5,-30.3 159.7,-29.2 161.8,-29.6 165.3,-32.7 172.3,-41.1 173.7,-42 175.1,-41.6 180,-37.9 182.1,-37.1 183.5,-37.2 187,-38.4 188.4,-38.6 190.5,-38.3 197.5,-36.1 201.7,-35.8 205.9,-36.4 208,-37.3 209.4,-38.8 212.9,-43.9 214.3,-45.4 215,-45.7 215.7,-45.8 217.1,-45 222,-39.2 223.4,-38.1 224.8,-37.8 247.2,-41.6 257,-42.3 259.8,-42.7 261.9,-43.4 264.1,-44.6 271.1,-49.7 273.9,-50.7 277.4,-50.4 284.4,-48.3 287.9,-47.7 299.1,-48.8 300.3,-46.7 2,1.4"/>
<polygon transform="translate(169.2,231.8)" points="0,-0.5 3.5,-1.3 6.3,-2.3 15.4,-7.5 16.8,-8 18.2,-8 23.8,-6.6 26.6,-6.3 42.7,-8.8 45.5,-9.5 47.6,-10.4 55.3,-15.8 58.1,-16.9 60.9,-16.8 66.5,-15 68.6,-15 70.7,-15.8 76.3,-19.4 79.1,-20.6 81.9,-21 86.1,-20.7 88.3,-20.8 95.3,-22.8 98.1,-23.3 108.6,-23.6 123.3,-28 125.4,-28 131.7,-25.6 135.9,-24.5 140.8,-24.1 144.3,-24.3 146.4,-25.2 151.3,-28.3 153.4,-29.3 155.5,-29.5 159.7,-28.8 161.8,-29.4 165.3,-32.4 171.6,-39.4 173.7,-40.6 174.4,-40.6 175.8,-40.2 180,-37.6 182.1,-36.9 183.5,-36.9 187,-37.9 189.1,-38.1 197.5,-35.9 199.6,-35.6 202.4,-35.6 205.9,-36 208,-36.6 209.4,-37.7 212.9,-41.7 215,-43.1 215.7,-43.1 217.1,-42.6 222,-38.4 223.4,-37.7 224.8,-37.5 247.2,-41.2 259.1,-42.7 261.2,-43.6 263.4,-45.1 269,-50.9 271.1,-52.7 272.5,-53.5 273.9,-53.8 275.3,-53.7 276.7,-53.3 283,-49.4 286.5,-48.1 288.6,-47.8 294.2,-48.7 300.5,-48.9 301.7,-46.9 1.3,1.5"/>
<polygon transform="translate(170.4,232.2)" points="0,-0.6 3.5,-1.3 6.3,-2.3 14.7,-7.1 16.8,-8 18.2,-7.9 23.8,-6.6 26.6,-6.5 44.8,-9.6 48.3,-11.3 55.3,-17.6 56.7,-18.5 58.1,-19 60.2,-18.9 65.8,-16.1 67.9,-15.5 70,-16.1 76.3,-20.9 78.4,-22 79.8,-22.3 81.9,-22.4 86.1,-21.6 88.3,-21.4 90.4,-21.8 95.3,-23.3 98.1,-23.8 109.3,-23.6 122.6,-26.7 124.7,-27 126.8,-26.7 132.4,-25.1 135.9,-24.4 140.8,-24 144.3,-24.3 146.4,-25 151.3,-27.7 153.4,-28.6 155.5,-28.9 159.7,-28.7 161.8,-29.3 164.6,-31.2 170.9,-37.5 172.3,-38.5 173.7,-39 175.8,-38.9 180,-37 182.1,-36.5 189.1,-37.4 198.2,-35.5 202.4,-35.2 206.6,-35.7 208.7,-36.3 212.9,-39.5 215,-40.6 217.1,-40.4 222,-37.6 224.1,-37.3 257.7,-42.5 260.5,-43.6 262.7,-45.3 264.8,-47.8 270.4,-55.4 271.8,-56.6 273.2,-57.3 274.6,-57.3 276.7,-56.3 283,-50.4 285.1,-48.9 286.5,-48.3 288.6,-48.1 294.2,-49.1 301.2,-49 302.4,-47 1.3,1.5"/>
<polygon transform="translate(171.7,232.5)" points="0,-0.6 3.5,-1.3 6.3,-2.3 14.7,-6.8 16.8,-7.5 18.2,-7.6 23.1,-6.8 25.9,-6.6 44.8,-9.9 46.9,-10.9 49,-12.6 51.8,-15.6 56,-20.7 57.4,-21.8 58.1,-22.1 58.8,-22.1 60.2,-21.5 65.8,-17 67.2,-16.4 68.6,-16.3 70.7,-17.4 77,-23.1 78.4,-23.9 79.8,-24.2 81.9,-24.1 86.8,-22.3 89,-22 97.4,-24.2 100.2,-24.2 107.2,-23.4 110,-23.4 124.7,-25.9 127.5,-25.8 137.3,-24.1 141.5,-24 144.3,-24.3 147.1,-25.2 153.4,-28.2 155.5,-28.6 160.4,-29 162.5,-29.6 165.3,-31.3 170.9,-36.1 173,-37.2 174.4,-37.5 176.5,-37.3 181.4,-36 189.8,-36.7 198.2,-35.2 203.1,-35 208.7,-35.7 213.6,-38 215,-38.5 217.1,-38.4 222,-37.1 224.1,-37.2 257,-42.4 259.8,-43.5 262.7,-46.1 264.8,-49.1 270.4,-58.5 271.8,-60.2 273.2,-61.1 274.6,-61 276,-60 283,-51.3 285.1,-49.4 286.5,-48.6 288.6,-48.5 292.1,-49.5 294.2,-49.8 299.8,-49.2 302.6,-49.1 303.8,-47.3 1.3,1.5"/>
<polygon transform="translate(173,232.9)" points="0,-0.6 6.3,-2.2 14,-6 16.1,-6.8 18.2,-7.1 25.2,-6.8 35,-8.9 43.4,-10 45.5,-10.6 47.6,-12 50.4,-15 52.5,-18 56,-24.5 57.4,-26.2 58.1,-26.6 58.8,-26.5 60.2,-25.3 63,-21 65.1,-18.6 67.2,-17.1 68.6,-17 70.7,-18.3 77,-25.4 79.1,-26.7 81.2,-26.5 86.1,-23.5 87.6,-22.9 89,-22.6 91.1,-22.9 96,-24.4 98.1,-24.7 100.9,-24.5 107.2,-23.4 110,-23.2 114.2,-23.5 122.6,-24.9 125.4,-25.1 136.6,-24 142.2,-23.9 145.7,-24.7 154.8,-28.5 163.2,-29.9 165.3,-31 170.9,-35.1 173.7,-36 175.8,-36.1 180.7,-35.4 189.8,-36 198.9,-34.8 204.5,-34.7 209.4,-35.4 215,-36.9 220.6,-36.9 224.1,-37.3 243.7,-40.2 257,-42.5 258.4,-43 259.8,-43.8 261.2,-45 262.7,-46.7 265.5,-51.4 271.1,-62.4 272.5,-64.3 273.2,-64.8 273.9,-64.8 275.3,-63.7 282.3,-53 284.4,-50.4 285.8,-49.3 287.2,-48.8 287.9,-48.8 292.1,-50.2 294.2,-50.5 300.5,-49.3 303.3,-49.2 304.5,-47.4 1.3,1.5"/>
<polygon transform="translate(174.2,233.2)" points="0,-0.6 6.3,-2.1 13.3,-5.3 16.1,-6.2 18.2,-6.6 24.5,-6.9 34.3,-9.3 44.1,-10.6 46.2,-11.4 48.3,-13.2 51.1,-17 53.2,-21.4 56.7,-30.9 57.4,-31.9 58.1,-32.4 58.8,-32.2 60.2,-30.1 63,-23.2 64.4,-20.6 66.5,-18.2 67.9,-17.6 69.3,-18 70.7,-19.2 72.8,-22 77,-28.8 78.4,-30.2 79.1,-30.5 79.8,-30.6 81.2,-29.8 85.4,-25.2 87.6,-23.7 89,-23.2 91.1,-23.3 95.3,-24.8 98.1,-25.1 100.9,-24.8 107.9,-23.2 110.7,-22.9 114.2,-23 125.4,-24.4 137.3,-23.7 141.5,-23.8 145.7,-24.7 156.2,-29.2 157.6,-29.5 161.8,-30 163.9,-30.6 166,-31.9 169.5,-34.9 171.6,-35.9 173.7,-35.9 178.6,-34.7 189.1,-35.4 199.6,-34.4 204.5,-34.5 210.1,-35.1 222,-37.2 233.9,-39.1 243.7,-40.3 257,-42.6 258.4,-43.1 259.8,-43.9 261.2,-45.2 262.7,-47 265.5,-51.8 271.8,-65.3 273.2,-67.2 273.9,-67.2 274.6,-66.4 282.3,-53.3 284.4,-50.6 285.8,-49.4 286.5,-49.2 287.9,-49.2 291.4,-50.8 293.5,-51.3 295.6,-51 300.5,-49.6 304,-49.3 305.2,-47.5 1.3,1.5"/>
<polygon transform="translate(175.5,233.6)" points="0,-0.6 6.3,-2.1 16.1,-5.7 23.8,-7 33.6,-9.8 37.1,-10.4 43.4,-10.9 46.2,-11.9 47.6,-13 49,-14.6 50.4,-16.6 51.8,-19.5 53.2,-23.7 56.7,-36.6 57.4,-38.2 58.1,-38.8 58.8,-38.4 59.5,-37.1 63,-25.5 64.4,-21.8 65.8,-19.6 67.2,-18.4 67.9,-18.2 69.3,-18.6 71.4,-21.1 73.5,-25 77,-33.3 78.4,-35.5 79.1,-35.9 79.8,-35.8 81.2,-34.3 84,-28.8 86.1,-25.7 88.3,-24 89.7,-23.5 91.1,-23.7 95.3,-25.3 97.4,-25.6 100.2,-25.2 107.9,-23 111.4,-22.6 114.9,-22.7 125.4,-23.8 139.4,-23.5 142.2,-23.8 145,-24.4 156.2,-29.1 162.5,-30.9 165.3,-32.8 169.5,-37.5 170.9,-38.4 171.6,-38.5 173,-38.1 176.5,-35.2 178.6,-34.1 189.1,-34.8 198.9,-34.1 203.1,-34.1 212.9,-35.3 222,-37.5 233.9,-39.4 244.4,-40.6 257,-42.7 258.4,-43.1 259.8,-43.9 261.2,-45.1 262.7,-46.8 265.5,-51.5 271.1,-62.7 272.5,-64.8 273.2,-65.3 273.9,-65.3 275.3,-64.1 282.3,-53 284.4,-50.5 285.8,-49.5 287.2,-49.4 291.4,-51.6 293.5,-52.1 295.6,-51.7 300.5,-49.8 304,-49.4 305.2,-47.5 1.3,1.5"/>
<polygon transform="translate(176.7,233.9)" points="0,-0.7 7,-2.2 14.7,-4.9 22.4,-6.9 32.2,-10.1 37.1,-11 44.1,-11.5 45.5,-11.9 46.9,-12.7 48.3,-14.1 49.7,-16 51.8,-20.5 53.2,-25.4 56.7,-41.8 57.4,-44.1 58.1,-45.2 58.8,-44.4 59.5,-42.3 63,-27.2 64.4,-22.7 65.8,-20.1 67.2,-18.8 67.9,-18.6 68.6,-18.7 70,-20 72.1,-23.5 74.2,-29.2 77,-38.8 78.4,-41.8 79.1,-42.4 79.8,-42.1 81.2,-39.7 84,-31.4 85.4,-28 86.8,-25.8 88.3,-24.5 89.7,-23.9 91.1,-23.9 95.3,-25.7 97.4,-26 99.5,-25.5 107.9,-22.8 110.7,-22.3 113.5,-22.2 125.4,-23.4 131.7,-23.7 136.6,-23.3 140.1,-23.4 142.9,-23.8 145.7,-24.5 157.6,-29.3 162.5,-32.2 165.3,-34.6 169.5,-40.6 170.9,-42 171.6,-42 173,-40.9 176.5,-36 177.9,-34.4 178.6,-33.9 180,-33.6 188.4,-34.2 199.6,-33.8 203.8,-34.1 214.3,-35.6 221.3,-37.6 231.8,-39.4 243.7,-40.7 257.7,-43 259.1,-43.4 260.5,-44.2 262.7,-46.3 264.8,-49.3 270.4,-59 271.8,-60.7 273.2,-61.7 274.6,-61.5 276,-60.5 282.3,-52.2 283.7,-50.6 285.1,-49.6 285.8,-49.3 287.2,-49.6 291.4,-52.5 293.5,-53 295.6,-52.4 301.2,-49.8 304.7,-49.5 305.9,-47.6 1.3,1.5"/>
<polygon transform="translate(178,234.2)" points="0,-0.7 9.8,-3 21,-6.6 32.2,-10.8 37.1,-11.7 44.8,-12.1 46.2,-12.6 47.6,-13.6 49.7,-16.2 51.8,-20.8 53.9,-29.4 57.4,-47.5 58.1,-49.2 58.8,-47.7 62.3,-30.9 63.7,-25.2 64.4,-23.1 65.8,-20.3 67.2,-19 67.9,-18.8 68.6,-19.1 70,-20.5 72.1,-24.6 73.5,-29 77.7,-46.9 78.4,-48.6 79.1,-49.3 79.8,-48.9 81.2,-45.2 84,-34 85.4,-29.4 86.8,-26.5 88.3,-24.8 89.7,-24 91.1,-24 92.5,-24.4 95.3,-25.9 97.4,-26.1 107.9,-22.6 112.8,-21.9 131.7,-24 137.3,-23.2 141.5,-23.4 145.7,-24.4 152.7,-26.8 156.9,-28.9 165.3,-36.2 167.4,-38.8 170.9,-44.2 171.6,-44.2 172.3,-43.4 176.5,-36.2 177.9,-34.3 179.3,-33.3 180.7,-33.1 184.9,-33.5 189.8,-33.7 199.6,-33.6 202.4,-33.9 209.4,-35.8 215.7,-36.2 221.3,-37.9 226.2,-38.7 231.8,-39.8 243.7,-41 257.7,-43.2 259.8,-43.7 261.2,-44.4 263.4,-46.3 270.4,-55.8 271.8,-57.2 273.2,-57.9 274.6,-57.9 276.7,-56.7 283,-50.4 285.1,-49.2 285.8,-49.2 287.2,-49.9 291.4,-53.3 292.8,-53.8 293.5,-53.8 295.6,-53.1 301.2,-50 303.3,-49.5 305.4,-49.6 306.6,-47.7 1.3,1.5"/>
<polygon transform="translate(179.2,234.6)" points="0,-0.8 8.4,-2.6 14,-4.3 20.3,-6.6 29.4,-10.5 32.9,-11.7 37.1,-12.4 44.8,-12.6 46.2,-12.9 47.6,-13.8 49.7,-16.1 51.8,-20.5 53.2,-25.4 56.7,-41.7 57.4,-44.1 58.1,-45.1 58.8,-44.4 59.5,-42.2 63,-27.1 64.4,-22.7 65.1,-21.2 66.5,-19.3 67.2,-18.9 67.9,-18.9 68.6,-19.2 69.3,-19.8 70.7,-22 72.8,-27.7 74.2,-33.8 77.7,-52.3 78.4,-55 79.1,-56.1 79.8,-55.3 80.5,-52.9 84,-35.8 85.4,-30.4 86.1,-28.4 87.6,-25.8 88.3,-25 89.7,-24 90.4,-23.8 91.8,-24 95.3,-25.5 97.4,-25.8 107.9,-22.3 110.7,-21.8 112.8,-21.6 121.9,-22.8 125.4,-23.6 128.2,-23.6 131,-24.4 132.4,-24.3 137.3,-23.1 140.8,-23.2 142,-21.2 1.3,1.5"/>
<polygon transform="translate(179.2,234.6)" points="143.6,-23.6 151.3,-25.9 154.8,-27.5 156.9,-29.3 161.1,-34.2 163.2,-36.3 169.5,-41 170.9,-41.7 171.6,-41.6 173,-40.4 177.2,-34.5 179.3,-32.7 180.7,-32.6 186.3,-33.1 198.2,-33.4 201.7,-34 206.6,-36.3 209.4,-37.1 216.4,-36.8 221.3,-38.3 225.5,-38.8 232.5,-40.4 243.7,-41.3 260.5,-43.9 262.7,-44.9 264.1,-46 269,-51.3 271.1,-53.2 272.5,-54 273.9,-54.3 275.3,-54.2 276.7,-53.7 282.3,-49.9 284.4,-48.9 285.1,-48.9 286.5,-49.5 291.4,-54 292.8,-54.7 293.5,-54.7 294.9,-54.1 299.1,-51.2 301.2,-50.1 303.3,-49.6 305.4,-49.6 306.6,-47.7 144.8,-21.6"/>
<polygon transform="translate(180.5,234.9)" points="0,-0.9 9.1,-2.9 14,-4.4 19.6,-6.6 29.4,-11.1 32.9,-12.4 37.1,-13.1 44.8,-13 46.2,-13.2 47.6,-13.8 49.7,-15.8 51.8,-19.6 53.2,-23.7 56.7,-36.6 57.4,-38.1 58.1,-38.7 58.8,-38.3 59.5,-37 63,-25.3 64.4,-21.7 65.1,-20.5 66.5,-18.9 67.2,-18.6 67.9,-18.7 68.6,-19.1 69.3,-19.8 70.7,-22.1 72.8,-28.1 74.2,-34.5 78.4,-58.4 79.1,-60.3 79.8,-58.7 84,-36.4 85.4,-30.6 86.8,-27 87.6,-25.8 89,-24.3 89.7,-23.8 91.1,-23.6 96,-25 98.1,-25 107.9,-22 112.1,-21.4 114.2,-21.5 119.1,-22.5 121.9,-22.9 125.4,-23.9 128.2,-23.8 131,-24.8 132.4,-24.6 137.3,-23.1 140.1,-23 141.3,-21.1 1.3,1.5"/>
<polygon transform="translate(180.5,234.9)" points="145.7,-23.9 151.3,-25.5 154.1,-27.1 156.9,-30 162.5,-37.7 164.6,-39.4 166,-39.8 169.5,-39.4 171.6,-38.6 173,-37.6 177.2,-33.1 179.3,-32 186.3,-32.6 197.5,-33.1 200.3,-33.7 206.6,-37.7 209.4,-38.6 211.5,-38.6 215,-37.8 216.4,-37.8 220.6,-39.1 226.2,-39.4 232.5,-40.8 243,-41.5 252.1,-43 261.9,-44.3 264.8,-45.6 271.1,-50.2 273.9,-51.2 276.7,-51 283,-48.8 285.1,-48.8 287.2,-50.2 291.4,-54.6 292.8,-55.4 294.2,-55 299.1,-51.4 301.2,-50.2 303.3,-49.7 305.4,-49.6 306.6,-47.7 146.9,-22"/>
<polygon transform="translate(181.7,235.3)" points="0,-1 9.1,-3.1 14,-4.5 18.9,-6.5 29.4,-11.7 33.6,-13.3 37.1,-13.8 44.8,-13.4 47.6,-13.8 49.7,-15.4 51.8,-18.4 53.2,-21.5 56,-29.3 57.4,-31.8 58.1,-32.3 58.8,-32.1 59.5,-31.2 63,-23 65.1,-19.5 66.5,-18.3 67.2,-18.2 68.6,-18.8 70.7,-21.8 72.8,-27.6 74.2,-33.6 77.7,-52.2 78.4,-54.8 79.1,-55.9 79.8,-55.1 80.5,-52.7 84,-35.5 85.4,-30.1 86.1,-28.1 87.6,-25.4 88.3,-24.6 89.7,-23.5 91.8,-23.2 96,-24.3 98.1,-24.4 100.9,-23.8 107.9,-21.7 112.1,-21.1 114.9,-21.5 119.1,-22.6 121.9,-22.9 125.4,-24.2 128.2,-23.8 131,-24.7 132.4,-24.5 137.3,-23.1 140.1,-22.9 141.3,-21.1 1.3,1.5"/>
<polygon transform="translate(181.7,235.3)" points="147.8,-24.3 151.3,-25.4 154.1,-27.4 156.9,-30.8 162.5,-39.7 163.9,-41.2 165.3,-41.9 166.7,-41.5 168.1,-40.4 175.8,-32.7 177.9,-31.5 179.3,-31.4 184.9,-32.1 196.8,-32.9 198.9,-33.3 201.7,-35 207.3,-39.5 209.4,-40.3 210.8,-40.2 213.6,-39.2 215,-39 216.4,-39.3 219.2,-40.6 220.6,-41 222,-41.1 226.9,-40.2 233.2,-41.4 242.3,-41.8 252.8,-43.6 264.1,-44.8 266.2,-45.5 272.5,-48.4 276,-49.5 278.8,-49.7 283.7,-48.7 285.1,-48.8 287.2,-50.3 291.4,-54.8 292.8,-55.8 294.2,-55.2 300.5,-50.6 302.6,-49.8 305.4,-49.7 306.6,-47.7 149,-22.3"/>
<polygon transform="translate(183,235.6)" points="0,-1.2 10.5,-3.6 14.7,-5 19.6,-7.2 30.1,-12.6 33.6,-14 37.1,-14.4 45.5,-13.6 46.9,-13.7 48.3,-14 49.7,-14.9 51.8,-17.1 56,-24.4 57.4,-26.1 58.1,-26.4 58.8,-26.4 60.2,-25.1 63,-20.8 65.1,-18.4 66.5,-17.6 67.9,-17.8 68.6,-18.3 70,-20.1 72.1,-24.3 73.5,-28.8 77.7,-46.5 78.4,-48.2 79.1,-48.9 79.8,-48.5 81.2,-44.8 84,-33.4 85.4,-28.8 86.1,-27.1 87.6,-24.8 89.7,-23.1 91.8,-22.9 96,-23.8 98.1,-23.9 100.9,-23.4 107.9,-21.4 111.4,-20.9 114.2,-21.2 119.1,-22.5 121.9,-22.9 125.4,-24.6 128.2,-23.7 132.4,-24 137.3,-22.9 139.4,-22.8 140.6,-20.9 1.3,1.5"/>
<polygon transform="translate(183,235.6)" points="147.8,-24.2 151.3,-25.6 154.8,-28.8 157.6,-32.6 163.2,-42.5 164.6,-43.9 165.3,-44.1 166,-43.9 167.4,-42.5 172.3,-35.5 174.4,-32.9 176.5,-31.3 178.6,-30.9 184.2,-31.6 195.4,-32.6 198.2,-33.2 201,-34.8 207.3,-40.7 208.7,-41.7 209.4,-41.8 210.8,-41.5 212.9,-40.5 214.3,-40.2 215.7,-40.7 219.2,-43.1 220.6,-43.6 222.7,-43.2 226.2,-41.3 227.6,-40.9 229,-40.9 233.2,-41.8 240.9,-42 252.8,-44.1 264.1,-44.9 267.6,-45.5 270.4,-46.4 276,-49.6 278.1,-50.3 280.2,-50.3 283.7,-49.2 285.1,-49 286.5,-49.7 291.4,-54.5 292.8,-55.3 294.2,-54.9 299.1,-51.4 301.2,-50.2 303.3,-49.7 305.4,-49.7 306.6,-47.7 149,-22.3"/>
<polygon transform="translate(184.3,236)" points="0,-1.4 11.2,-4 14.7,-5.1 19.6,-7.4 30.8,-13.4 34.3,-14.8 37.8,-15 46.9,-13.7 49,-14 50.4,-14.8 51.8,-16 56.7,-21.3 58.1,-21.9 58.8,-21.9 60.2,-21.3 65.1,-17.3 66.5,-16.8 67.9,-17.2 70,-19.4 72.1,-23.1 74.2,-28.8 77,-38.3 78.4,-41.3 79.1,-41.8 79.8,-41.5 81.2,-39 84,-30.6 86.1,-25.9 87.6,-24.1 89.7,-22.8 91.1,-22.6 95.3,-23.5 98.1,-23.6 100.9,-23.1 107.9,-21 111.4,-20.7 113.5,-20.9 121.9,-22.8 125.4,-24.7 128.9,-23.3 132.4,-23.4 137.3,-22.8 139.4,-22.8 140.6,-20.9 1.3,1.5"/>
<polygon transform="translate(184.3,236)" points="147.1,-24 149.2,-24.7 151.3,-26.1 156.2,-31.5 159,-35.7 163.9,-45 164.6,-45.8 165.3,-46 166.7,-44.7 171.6,-36.7 174.4,-32.8 176.5,-31.1 178.6,-30.6 192.6,-32.2 198.2,-33.2 199.6,-33.9 201.7,-35.5 208.7,-42.3 209.4,-42.5 210.1,-42.3 212.9,-40.9 214.3,-41 215.7,-41.9 219.2,-45.6 220.6,-46.3 222,-45.8 226.2,-42.2 228.3,-41.3 233.2,-42.2 240.2,-42.2 252.8,-44.9 264.8,-45.2 268.3,-45.6 270.4,-46.4 275.3,-50.4 276.7,-51.3 278.1,-51.8 280.2,-51.7 284.4,-49.6 285.8,-49.4 287.2,-50.1 291.4,-53.9 292.8,-54.5 293.5,-54.5 294.9,-54 299.1,-51.2 301.2,-50.1 303.3,-49.7 305.4,-49.7 306.6,-47.7 148.3,-22.2"/>
<polygon transform="translate(185.5,236.3)" points="0,-1.7 4.9,-3 11.9,-4.4 14.7,-5.3 18.9,-7.3 32.2,-14.4 35,-15.5 37.8,-15.4 46.9,-13.6 49,-13.6 51.1,-14.4 56.7,-18.4 58.8,-18.9 60.9,-18.4 65.1,-16.2 66.5,-16 67.2,-16.1 69.3,-17.7 71.4,-20.6 73.5,-24.4 77,-32.6 78.4,-34.7 79.1,-35.1 79.8,-35 81.2,-33.4 85.4,-25.5 86.8,-23.9 89,-22.6 90.4,-22.5 94.6,-23.5 97.4,-23.7 100.2,-23.2 107.2,-20.9 110.7,-20.5 112.8,-20.7 121.2,-22.3 125.4,-24.3 129.6,-22.8 138,-22.6 139.2,-20.7 1.3,1.5"/>
<polygon transform="translate(185.5,236.3)" points="147.1,-24.1 149.2,-25 150.6,-26.1 154.8,-31.6 158.3,-35.1 159.7,-37.2 163.9,-45 164.6,-45.9 165.3,-46.1 166.7,-44.8 171.6,-36.7 174.4,-32.8 176.5,-31 177.9,-30.4 179.3,-30.4 190.5,-31.8 198.9,-33.5 201.7,-35.3 208,-40.8 209.4,-41.3 212.9,-40.6 214.3,-41 215.7,-42.2 219.2,-46.8 219.9,-47.6 220.6,-47.8 222,-46.8 226.2,-42.5 227.6,-41.7 229,-41.5 232.5,-42.3 237.4,-42.3 240.2,-42.6 249.3,-45.2 252.8,-45.8 256.3,-45.9 265.5,-45.6 268.3,-45.8 270.4,-46.9 275.3,-51.8 276.7,-52.9 278.1,-53.5 279.5,-53.4 280.9,-52.9 284.4,-50.4 285.8,-49.7 287.2,-50 291.4,-53.2 293.5,-53.7 295.6,-53 299.1,-51 301.2,-50 303.3,-49.6 305.4,-49.7 306.6,-47.7 148.3,-22.2"/>
<polygon transform="translate(186.8,236.7)" points="0,-1.9 4.9,-3.4 11.9,-4.6 15.4,-5.7 32.9,-15 35,-15.7 37.1,-15.6 46.2,-13.6 49,-13.3 51.1,-13.7 56,-16.1 58.1,-16.8 60.9,-16.6 65.1,-15.2 67.2,-15.4 68.6,-16.3 70.7,-18.5 72.8,-21.3 77,-27.9 78.4,-29.3 79.1,-29.5 80.5,-29.2 85.4,-23.9 86.8,-22.9 88.3,-22.4 89.7,-22.4 94.6,-24 96.7,-24.1 99.5,-23.6 107.2,-20.7 110.7,-20.3 121.2,-22 125.4,-23.8 130.3,-22.3 137.3,-22.5 138.5,-20.6 1.3,1.5"/>
<polygon transform="translate(186.8,236.7)" points="139.4,-22.9 143.6,-24 147.1,-24.3 149.2,-25.3 151.3,-27.9 154.8,-33.8 156.2,-35.2 158.3,-36 159.7,-37.1 163.9,-43.5 164.6,-44.1 165.3,-44.3 166,-44 167.4,-42.6 172.3,-35.2 174.4,-32.5 176.5,-30.8 177.9,-30.4 179.3,-30.3 189.8,-31.7 199.6,-33.7 201.7,-34.8 205.9,-38 208,-39.3 210.1,-39.7 212.9,-39.6 214.3,-40.1 218.5,-44.5 219.9,-45.6 220.6,-45.7 222,-45.3 226.2,-42.1 228.3,-41.3 232.5,-42.1 239.5,-42.8 248.6,-46.1 252.1,-46.9 256.3,-47 265.5,-46 268.3,-46.2 270.4,-47.4 276,-54 278.1,-55.3 278.8,-55.3 280.2,-54.8 285.1,-50.6 286.5,-49.9 287.9,-50.1 291.4,-52.4 293.5,-52.8 295.6,-52.3 301.2,-49.9 303.3,-49.6 305.4,-49.7 306.6,-47.7 140.6,-20.9"/>
<polygon transform="translate(188,237)" points="0,-2.2 5.6,-3.9 11.9,-4.8 15.4,-5.8 32.2,-14.4 35,-15.5 37.8,-15.4 46.9,-13.3 49.7,-12.9 51.8,-13.2 56.7,-14.8 58.8,-15.2 60.9,-15.1 65.1,-14.4 66.5,-14.5 67.9,-15.1 69.3,-16.1 76.3,-23.8 77.7,-24.9 79.1,-25.5 81.2,-25.2 85.4,-22.6 87.6,-21.9 89.7,-22.4 93.9,-24.5 95.3,-24.8 96.7,-24.8 99.5,-23.9 106.5,-20.9 110,-20.1 121.2,-21.7 125.4,-23.3 126.8,-23.1 129.6,-22.2 131.7,-22.1 138,-22.8 143.6,-24.7 147.8,-24.7 149.2,-25.6 150.6,-27.6 154.1,-34.9 155.5,-37.1 156.2,-37.6 156.9,-37.7 159,-36.9 159.7,-36.9 161.1,-38.1 163.9,-41.4 165.3,-42 166.7,-41.5 168.1,-40.1 172.3,-34.5 174.4,-32.1 176.5,-30.7 178.6,-30.3 189.1,-31.5 196.1,-33.1 200.3,-33.8 202.4,-34.7 208,-37.7 209.4,-38.1 213.6,-38.4 215,-39.2 218.5,-42.2 220.6,-43 222.7,-42.7 226.9,-40.8 229,-40.9 238.8,-43 248.6,-47.6 252.8,-48.5 256.3,-48.3 264.8,-46.6 266.9,-46.4 268.3,-46.6 270.4,-48 276,-55.4 277.4,-56.8 278.1,-57.1 278.8,-57.1 280.2,-56.3 285.1,-51.1 286.5,-50 287.2,-49.8 288.6,-50.1 292.1,-51.8 293.5,-52 295.6,-51.6 301.2,-49.7 305.4,-49.7 306.6,-47.7 1.3,1.5"/>
<polygon transform="translate(189.3,237.4)" points="0,-2.3 5.6,-4.3 12.6,-5.1 15.4,-5.8 31.5,-13.7 35,-14.9 38.5,-14.8 47.6,-12.9 50.4,-12.5 52.5,-12.7 58.8,-13.9 64.4,-13.9 66.5,-14.1 69.3,-15.4 75.6,-20.9 77.7,-22.3 79.1,-22.7 80.5,-22.8 85.4,-21.4 87.6,-21.5 89.7,-22.4 93.2,-24.8 95.3,-25.6 96.7,-25.4 98.1,-24.9 107.2,-20.6 110.7,-20 121.2,-21.4 125.4,-22.8 130.3,-22.2 137.3,-23.1 138.7,-23.4 142.2,-25.4 143.6,-25.9 145,-25.8 147.8,-25.1 148.5,-25.3 149.2,-25.9 150.6,-28.1 154.8,-38.4 155.5,-39.6 156.2,-40.2 156.9,-40 159,-37.3 159.7,-36.7 160.4,-36.5 161.1,-36.8 163.2,-38.6 164.6,-39.4 165.3,-39.6 166.7,-39.2 168.8,-37.6 172.3,-33.6 174.4,-31.6 176.5,-30.6 178.6,-30.5 189.1,-31.6 196.1,-33.1 201.7,-33.9 208,-36.4 213.6,-37 215,-37.6 218.5,-39.7 220.6,-40.4 222,-40.5 226.2,-40 228.3,-40.3 238.1,-43.2 240.9,-44.7 247.2,-48.7 249.3,-49.7 251.4,-50.3 253.5,-50.4 255.6,-50.2 264.1,-47.4 266.9,-46.9 268.3,-47 269.7,-47.7 271.1,-49.2 276.7,-57.5 278.1,-58.7 278.8,-58.7 279.5,-58.2 285.1,-51.4 287.2,-49.7 288.6,-49.6 291.4,-50.7 293.5,-51.2 295.6,-51 301.2,-49.6 305.4,-49.7 306.6,-47.7 1.3,1.5"/>
<polygon transform="translate(190.5,237.7)" points="0,-2.4 6.3,-4.8 11.9,-5 15.4,-5.7 30.8,-12.9 35,-14.3 39.2,-14.2 49,-12.4 51.8,-12.1 60.9,-13.2 67.9,-14.5 70,-15.3 75.6,-19.2 77.7,-20.3 79.8,-20.8 84.7,-20.4 86.8,-20.8 89,-21.9 93.9,-25.7 95.3,-26.2 97.4,-25.6 106.5,-20.8 108.6,-20.1 110.7,-19.8 121.2,-21.1 125.4,-22.3 128.9,-22.5 138,-23.8 139.4,-24.6 142.2,-27 143.6,-27.6 145,-27.4 147.8,-25.7 148.5,-25.6 149.2,-26.1 150.6,-28.5 155.5,-41.5 156.2,-42.4 156.9,-41.7 159,-37.4 160.4,-35.6 161.1,-35.3 161.8,-35.5 164.6,-37 166.7,-37 168.8,-35.7 173.7,-31.6 175.1,-30.9 177.2,-30.7 182.1,-31.3 189.8,-31.8 196.8,-33.1 202.4,-33.8 208.7,-36 214.3,-36.1 219.9,-38.2 226.9,-39.5 234.6,-42 237.4,-43.3 240.2,-45.2 247.2,-50.7 249.3,-51.9 251.4,-52.5 253.5,-52.7 255.6,-52.2 262.7,-48.8 265.5,-47.8 267.6,-47.4 269,-47.7 270.4,-48.6 271.8,-50.3 276.7,-58 278.1,-59.5 278.8,-59.4 279.5,-58.8 285.8,-50.7 287.9,-49.3 289.3,-49.3 292.1,-50.2 294.2,-50.4 300.5,-49.6 306.1,-49.8 307.3,-47.8 1.3,1.5"/>
<polygon transform="translate(191.8,238.1)" points="0,-2.4 6.3,-4.7 12.6,-5 15.4,-5.6 18.2,-6.6 30.1,-12.1 35,-13.6 37.1,-13.7 39.9,-13.6 51.1,-11.9 56.7,-12.1 59.5,-12.4 65.1,-14.7 69.3,-14.9 70.7,-15.3 77.7,-18.7 79.8,-19.1 84,-19.3 85.4,-19.6 88.3,-21.2 93.9,-25.7 95.3,-26.1 97.4,-25.5 106.5,-20.7 109.3,-19.9 111.4,-19.7 121.2,-20.9 131.7,-23.8 138,-24.7 139.4,-25.7 142.2,-29 143.6,-29.8 145,-29.4 148.5,-26.2 149.2,-26.3 150.6,-28.4 154.8,-39.5 155.5,-41.1 156.2,-41.9 156.9,-41.3 159.7,-35.5 161.1,-33.9 161.8,-33.8 165.3,-34.9 166.7,-34.8 168.8,-33.9 173,-31.3 174.4,-30.9 175.8,-30.9 181.4,-31.7 191.2,-32.1 201.7,-33.6 204.5,-34.2 208.7,-36.2 210.1,-36.2 213.6,-35.6 215,-35.6 224.1,-38.2 232.5,-41.3 236,-43 239.5,-45.6 247.2,-53 249.3,-54.4 251.4,-55.2 253.5,-55.3 255.6,-54.6 264.1,-49.2 267.6,-48 269.7,-48.3 271.1,-49.4 276.7,-57.3 278.1,-58.5 278.8,-58.5 279.5,-58.1 285.1,-51.3 286.5,-49.9 287.9,-49 289.3,-48.9 294.2,-49.8 301.2,-49.8 307.5,-50.1 308.7,-48.1 1.3,1.5"/>
<polygon transform="translate(193.1,238.4)" points="0,-2.3 6.3,-4.3 12.6,-4.8 16.1,-5.6 30.1,-11.5 35,-12.8 39.9,-13 50.4,-11.7 58.8,-12 60.2,-12.5 65.1,-15.7 66.5,-15.8 69.3,-15.1 70.7,-15.1 77.7,-17.4 82.6,-18.1 84.7,-18.6 87.6,-20.3 93.2,-24.6 95.3,-25.4 96.7,-25.3 98.1,-24.8 107.2,-20.4 110,-19.7 112.1,-19.6 121.2,-20.8 123.3,-21.4 131.7,-24.8 133.8,-25.2 138,-25.6 139.4,-26.9 142.2,-31.3 142.9,-32 143.6,-32.3 144.3,-32.1 145,-31.6 147.8,-27.7 148.5,-26.8 149.2,-26.5 149.9,-27 150.6,-28 154.8,-37.8 155.5,-38.9 156.2,-39.3 156.9,-39.1 157.6,-38.2 159.7,-34.3 161.1,-32.4 161.8,-32.1 162.5,-32.1 164.6,-32.7 166.7,-32.8 173,-30.9 174.4,-31 180.7,-32.3 191.9,-32.3 200.3,-33.3 203.8,-34.1 208.7,-36.5 209.4,-36.6 213.6,-35.6 216.4,-35.7 221.3,-37.1 226.9,-39 231.8,-41 234.6,-42.5 236.7,-44 238.8,-46 247.2,-55.7 249.3,-57.4 251.4,-58.4 252.8,-58.4 254.9,-57.8 257,-56.3 264.1,-50.3 266.2,-49 268.3,-48.4 269.7,-48.5 271.1,-49.3 276,-55.3 277.4,-56.5 278.1,-56.8 278.8,-56.9 280.2,-56.1 285.8,-50.2 287.2,-49.1 288.6,-48.6 290,-48.6 294.2,-49.7 297.7,-50.1 307.5,-50.2 308.7,-48.1 1.3,1.5"/>
<polygon transform="translate(194.3,238.8)" points="0,-2.1 5.6,-3.7 13.3,-4.7 16.1,-5.3 29.4,-10.6 34.3,-12 39.2,-12.4 49,-11.5 53.9,-12 58.1,-11.7 60.2,-12.6 65.1,-16.5 65.8,-16.6 69.3,-15.3 70.7,-15.2 82.6,-17.2 86.1,-18.8 92.5,-23.4 95.3,-24.5 96.7,-24.5 98.8,-24 106.5,-20.6 110,-19.6 113.5,-19.6 121.2,-20.9 124,-21.8 132.4,-25.9 134.5,-26.2 137.3,-26.1 138,-26.4 139.4,-28.1 142.2,-33.7 142.9,-34.6 143.6,-34.9 144.3,-34.7 145,-33.9 148.5,-27.6 149.2,-26.8 149.9,-26.7 151.3,-28.6 154.8,-35.4 155.5,-36.2 156.2,-36.5 156.9,-36.4 157.6,-35.8 161.1,-31 162.5,-30.6 166,-31.2 170.9,-30.7 172.3,-30.8 177.9,-32.8 180.7,-33.2 191.2,-32.6 196.8,-32.8 203.8,-34.2 208,-36.1 209.4,-36.5 214.3,-35.6 218.5,-36.2 223.4,-37.6 228.3,-39.4 231.8,-41.1 234.6,-42.9 236.7,-44.7 239.5,-48 247.9,-59.7 250,-61.6 251.4,-62.2 252.8,-62.2 254.9,-61.1 263.4,-52.1 266.2,-49.9 268.3,-48.9 269.7,-48.8 271.1,-49.2 272.5,-50.2 276.7,-54.4 278.1,-55 278.8,-55.1 280.9,-54.1 286.5,-49.2 288.6,-48.3 290,-48.5 295.6,-50.5 298.4,-51.1 300.5,-51.1 307.5,-50.5 308.7,-48.1 1.3,1.5"/>
<polygon transform="translate(195.6,239.1)" points="0,-1.8 5.6,-3.3 13.3,-4.4 16.1,-5 29.4,-10 34.3,-11.3 39.9,-11.8 49,-11.3 53.9,-12.4 58.8,-11.8 60.2,-12.4 65.1,-16.2 66.5,-16.2 68.6,-15.5 70,-15.4 73.5,-16.1 78.4,-15.9 81.9,-16.3 85.4,-17.9 92.5,-22.6 95.3,-23.7 96.7,-23.8 98.8,-23.5 107.2,-20.3 110.7,-19.6 113.5,-19.6 121.9,-21.4 125.4,-22.7 133.1,-26.9 134.5,-27 137.3,-26.6 138,-26.9 139.4,-29 142.2,-35.9 142.9,-37.1 143.6,-37.6 144.3,-37.2 145,-36.1 148.5,-28.3 149.2,-27.2 149.9,-26.6 150.6,-26.8 151.3,-27.7 154.8,-32.9 156.2,-33.8 157.6,-33.3 161.1,-29.7 162.5,-29.4 170.9,-30.6 177.2,-33.7 180,-34.5 192.6,-33.2 196.8,-33.1 203.1,-34.2 208.7,-36.1 215,-36 220.6,-36.7 225.5,-38.3 229.7,-40.1 232.5,-41.7 235.3,-44 237.4,-46.4 240.2,-50.4 247.9,-63.8 250,-66.3 251.4,-67 252.8,-66.8 254.2,-65.8 255.6,-64.2 260.5,-57 263.4,-53.4 266.2,-50.7 269,-49.2 270.4,-49 271.8,-49.3 276.7,-52.8 278.8,-53.3 280.9,-52.6 285.8,-49.1 287.9,-48.3 290,-48.7 295.6,-51.7 298.4,-52.4 301.2,-52.2 307.5,-50.8 308.7,-48.1 1.3,1.5"/>
<polygon transform="translate(196.8,239.5)" points="0,-1.5 5.6,-2.9 16.1,-4.8 29.4,-9.3 34.3,-10.6 39.2,-11.1 49,-11.1 53.9,-12.8 58.8,-11.8 60.2,-12.2 63.7,-14.5 65.1,-15.2 69.3,-15.4 72.1,-16.7 73.5,-17 74.9,-16.9 79.1,-15.7 81.9,-15.9 85.4,-17.4 92.5,-21.9 96,-23.2 97.4,-23.3 99.5,-23.1 107.2,-20.3 110.7,-19.7 113.5,-20 119.1,-21.8 124.7,-22.6 132.4,-26.4 133.8,-26.7 136.6,-26.5 137.3,-26.6 138,-27.1 139.4,-29.6 142.9,-39.3 143.6,-40.1 144.3,-39.3 145,-37.7 148.5,-28.7 149.9,-26.6 150.6,-26.4 151.3,-26.8 154.1,-29.9 155.5,-31 156.2,-31.2 157.6,-31 159.7,-29.6 161.1,-29.1 164.6,-29.8 168.8,-30.1 170.9,-30.9 176.5,-34.9 177.9,-35.7 179.3,-36.2 181.4,-36.2 186.3,-34.9 195.4,-33.6 197.5,-33.5 202.4,-34.4 210.8,-36.5 215,-37 220.6,-37 222.7,-37.4 226.9,-38.9 231.1,-41.1 233.9,-43.2 236,-45.5 238.8,-49.5 241.6,-54.6 248.6,-70.1 250,-72 251.4,-72.9 252.8,-72.5 254.2,-71 260.5,-59.1 264.1,-53.9 266.9,-50.9 269.7,-49.3 271.8,-49.2 276.7,-51.3 278.8,-51.7 280.9,-51.1 285.8,-48.5 287.9,-48.3 290,-49.3 295.6,-53.1 298.4,-54 301.2,-53.6 307.5,-51.2 308.7,-48.1 1.3,1.5"/>
<polygon transform="translate(198.1,239.8)" points="0,-1.3 5.6,-2.6 16.1,-4.5 29.4,-8.7 34.3,-9.9 39.2,-10.5 48.3,-10.8 50.4,-11.5 53.9,-13.3 55.3,-13.1 58.1,-11.9 60.2,-11.9 64.4,-13.9 68.6,-15.1 72.1,-17.8 73.5,-18.3 74.9,-18 79.1,-15.8 80.5,-15.6 82.6,-15.8 85.4,-17 93.2,-21.8 96.7,-23.1 99.5,-22.9 107.2,-20.3 110.7,-19.9 112.8,-20.4 117,-22.5 119.1,-23.2 121.2,-23.5 126.1,-23.3 132.4,-25.5 136.6,-26.1 137.3,-26.3 138,-26.9 138.7,-28.1 142.9,-39.9 143.6,-40.9 144.3,-39.9 148.5,-28.9 149.9,-26.7 150.6,-26.3 152,-26.6 154.8,-28.6 156.2,-29.1 159.7,-29.1 163.2,-30.7 164.6,-31 168.8,-30.6 170.2,-31.1 172.3,-32.6 177.2,-37.7 179.3,-38.9 180.7,-38.8 185.6,-36.6 190.5,-35.8 195.4,-34.3 197.5,-34 199.6,-34.2 203.8,-35.1 210.8,-38 213.6,-38.8 216.4,-38.7 221.3,-37.7 222.7,-37.7 224.8,-38.2 229,-40 232.5,-42.4 235.3,-45.3 237.4,-48.3 240.2,-53.5 242.3,-58.2 248.6,-76.2 250,-78.7 250.7,-79.5 251.4,-79.8 252.1,-79.7 252.8,-79.2 254.2,-77.1 259.8,-62.9 262.7,-57.3 266.2,-52.4 268.3,-50.5 269.7,-49.7 271.8,-49.3 276,-50.3 278.1,-50.3 280.9,-49.8 285.1,-48.2 287.2,-48.2 289.3,-49.4 295.6,-54.8 297,-55.6 298.4,-55.9 299.8,-55.8 301.2,-55.3 307.5,-51.7 308.7,-48.1 1.3,1.5"/>
<polygon transform="translate(199.3,240.1)" points="0,-1.1 16.1,-4.3 29.4,-8.2 33.6,-9.2 37.8,-9.8 48.3,-10.7 50.4,-11.5 53.9,-13.7 58.8,-11.8 60.9,-11.8 67.2,-13.9 69.3,-15.5 72.8,-19.2 73.5,-19.4 78.4,-16.2 79.8,-15.8 81.9,-15.7 85.4,-16.7 94.6,-22.2 97.4,-23.2 99.5,-22.9 107.2,-20.4 110,-20.1 112.1,-20.9 117.7,-24.7 119.8,-25.4 121.9,-25.4 126.1,-24 128.2,-23.7 135.9,-25.4 137.3,-26 138.7,-27.8 142.2,-36.9 142.9,-38.4 143.6,-39 144.3,-38.4 145,-37.1 148.5,-28.8 149.9,-26.8 151.3,-26.3 152.7,-26.5 157.6,-28.2 159,-29.1 162.5,-32.1 163.9,-32.8 165.3,-32.8 168.8,-31.5 170.2,-31.8 172.3,-33.6 174.4,-36.5 177.2,-41.2 178.6,-42.7 179.3,-43.1 180.7,-42.7 183.5,-39.9 185.6,-38.5 190.5,-37.4 196.1,-35 198.2,-34.6 201,-34.9 204.5,-36.1 210.8,-40.7 212.2,-41.4 213.6,-41.8 215,-41.8 216.4,-41.4 222,-38.6 223.4,-38.4 225.5,-38.7 229,-40.3 232.5,-42.8 235.3,-46 238.1,-50.5 240.2,-55 242.3,-60.5 248.6,-82.8 250,-86 250.7,-87 251.4,-87.4 252.1,-87.2 252.8,-86.5 254.2,-83.7 259.1,-67.7 261.9,-60.3 263.4,-57.5 265.5,-54.2 267.6,-51.6 269,-50.5 271.1,-49.7 274.6,-50.2 276,-50.2 283.7,-48 285.8,-47.8 287.2,-48.3 289.3,-50 295.6,-56.7 297,-57.6 298.4,-58 299.8,-57.8 301.2,-57.1 307.5,-52.3 308.7,-48.1 1.3,1.5"/>
<polygon transform="translate(200.6,240.5)" points="0,-0.9 15.4,-3.9 32.9,-8.5 47.6,-10.5 49.7,-11.2 53.9,-13.6 59.5,-11.7 61.6,-11.8 64.4,-12.4 67.2,-13.4 72.1,-17.8 73.5,-18.5 74.9,-18.1 79.1,-16.1 81.2,-15.8 84,-16.1 86.8,-17.2 95.3,-22.3 97.4,-23.2 99.5,-22.8 106.5,-20.6 109.3,-20.4 110.7,-20.9 112.1,-22 117,-26.7 118.4,-27.6 119.8,-28.1 121.2,-28.1 122.6,-27.6 128.2,-24 129.6,-23.7 131.7,-23.9 135.9,-25.2 137.3,-25.9 138,-26.6 139.4,-28.9 142.2,-35.1 142.9,-36.1 143.6,-36.5 144.3,-36.2 145,-35.3 147.8,-29.7 149.2,-27.6 149.9,-27.1 151.3,-26.6 154.8,-26.8 156.2,-27.3 157.6,-28.3 161.8,-33.2 163.2,-34.4 163.9,-34.8 165.3,-34.6 168.8,-32.4 170.2,-32.5 170.9,-33 172.3,-34.7 173.7,-37.2 177.9,-47.8 178.6,-48.8 179.3,-49.3 180,-49.1 180.7,-48.4 183.5,-43 184.9,-41.2 186.3,-40.3 190.5,-39.2 196.1,-36 198.2,-35.2 201,-35.4 203.8,-36.6 205.9,-38.5 210.8,-44.4 212.2,-45.5 213.6,-46 215,-45.9 216.4,-45.2 221.3,-40.8 222.7,-39.9 224.8,-39.2 226.9,-39.6 230.4,-41.5 233.2,-43.9 236,-47.7 238.8,-53 240.9,-58.2 243,-65.2 248.6,-89.4 250,-93.6 250.7,-94.8 251.4,-95.3 252.1,-95 252.8,-94.1 254.2,-90.3 259.1,-70.7 261.9,-61.9 263.4,-58.8 265.5,-55.1 267.6,-52.3 269,-51 270.4,-50.3 271.1,-50.3 273.9,-50.9 275.3,-50.9 276.7,-50.5 279.5,-48.8 281.6,-47.9 283.7,-47.5 285.8,-47.8 287.2,-48.6 289.3,-50.5 295.6,-58.6 297,-59.8 298.4,-60.2 299.8,-59.9 301.2,-59 307.5,-52.9 308.7,-48.1 1.3,1.5"/>
<polygon transform="translate(201.8,240.8)" points="0,-0.7 15.4,-3.8 32.2,-7.8 46.9,-10.3 49,-10.9 53.9,-13.2 55.3,-13 59.5,-11.8 61.6,-11.9 65.8,-12.5 67.9,-13.4 71.4,-16 73.5,-17 74.9,-17 80.5,-16.1 82.6,-16.1 84.7,-16.4 87.6,-17.4 95.3,-21.8 97.4,-22.6 99.5,-22.5 106.5,-20.6 108.6,-20.6 110,-21.2 111.4,-22.5 117,-29.6 118.4,-30.7 119.8,-31.2 121.2,-31.1 122.6,-30.4 128.2,-25 129.6,-24.1 131,-23.8 133.8,-24.6 138,-26.9 139.4,-28.6 142.2,-33.2 142.9,-33.9 143.6,-34.2 144.3,-34 145,-33.4 147.8,-29.3 149.2,-27.9 152,-27 154.1,-26.9 155.5,-27.1 157.6,-28.6 162.5,-35.1 163.9,-36.5 164.6,-36.4 165.3,-35.9 167.4,-33.9 168.8,-33 169.5,-32.9 170.2,-33.1 170.9,-33.7 172.3,-35.8 173.7,-39.2 177.9,-55 178.6,-56.6 179.3,-57.2 180,-56.9 180.7,-55.7 183.5,-46.7 184.9,-43.7 186.3,-42.5 189.1,-41.8 190.5,-41.2 196.1,-36.9 198.2,-35.9 199.6,-35.7 201,-35.9 202.4,-36.5 203.8,-37.7 205.9,-40.6 210.8,-48.9 212.2,-50.4 213.6,-51.1 215,-50.9 216.4,-49.9 221.3,-43.7 223.4,-41.5 225.5,-40.4 226.9,-40.3 228.3,-40.7 229.7,-41.4 231.8,-43 234.6,-46.1 237.4,-50.9 240.2,-57.5 242.3,-64.5 243.7,-70.4 249.3,-98.4 250.7,-102.6 251.4,-103.2 252.1,-102.8 253.5,-99.2 259.1,-73.3 261.2,-65.5 262.7,-61.6 264.8,-57.2 266.9,-53.8 268.3,-52.2 269.7,-51.1 270.4,-50.9 271.8,-51.1 273.9,-52 275.3,-52 276.7,-51.3 280.2,-48.4 281.6,-47.7 283.7,-47.3 285.1,-47.5 286.5,-48.3 288.6,-50.2 290.7,-52.9 295.6,-60.4 297,-61.9 298.4,-62.4 299.8,-61.9 301.2,-60.7 305.4,-55.6 307.5,-53.4 308.7,-48.1 1.3,1.5"/>
<polygon transform="translate(203.1,241.2)" points="0,-0.6 13.3,-3.3 32.2,-7.4 44.1,-9.6 48.3,-10.7 53.2,-12.7 54.6,-12.8 58.8,-12 62.3,-12.1 67.9,-13.1 72.1,-15.2 74.2,-15.9 77.7,-16.4 82.6,-16.3 85.4,-16.7 89,-18 95.3,-21.2 97.4,-21.9 99.5,-21.9 105.8,-20.7 107.9,-20.8 109.3,-21.4 110.7,-22.9 117,-32.7 118.4,-34.1 119.8,-34.7 121.2,-34.5 122.6,-33.5 128.2,-26.3 129.6,-25 131,-24.3 133.1,-24.7 137.3,-27.2 139.4,-28.8 142.2,-31.8 143.6,-32.5 145,-32 147.8,-29.4 149.9,-28.2 154.1,-27.3 156.2,-27.5 158.3,-29.3 162.5,-34.9 163.9,-36.1 164.6,-36.1 165.3,-35.7 167.4,-33.9 168.8,-33.1 169.5,-33.1 170.2,-33.5 171.6,-35.4 173,-38.8 173.7,-41.2 177.9,-62.7 178.6,-64.9 179.3,-65.8 180,-65.2 180.7,-63.3 183.5,-50.6 184.9,-46.2 185.6,-45.2 186.3,-44.7 189.1,-43.9 190.5,-43.1 196.1,-37.8 198.2,-36.5 199.6,-36.2 201,-36.5 203.1,-38.1 205.2,-41.4 210.8,-53.8 212.2,-55.8 213.6,-56.8 215,-56.5 216.4,-55.2 222,-46.2 224.8,-42.9 226.2,-41.9 227.6,-41.5 229.7,-42 231.8,-43.4 233.2,-44.8 236,-48.8 238.8,-54.6 240.9,-60.6 243.7,-72.2 249.3,-103.8 250.7,-109.5 251.4,-110.5 252.1,-109.8 253.5,-104.6 258.4,-78.7 261.2,-67 262.7,-62.8 264.8,-58.1 266.9,-54.5 268.3,-52.8 269.7,-51.7 270.4,-51.6 271.8,-52 273.9,-53.1 275.3,-53.1 276.7,-52.3 280.2,-48.7 281.6,-47.7 283,-47.3 285.1,-47.6 286.5,-48.4 288.6,-50.5 290.7,-53.4 296.3,-62.9 297.7,-64.3 298.4,-64.4 299.1,-64.3 300.5,-63.1 305.4,-56.3 307.5,-53.8 308.7,-48.1 1.3,1.5"/>
<polygon transform="translate(204.4,241.5)" points="0,-0.6 33.6,-7.5 42,-9 46.9,-10.3 53.2,-12.4 54.6,-12.5 59.5,-12 68.6,-13.3 77.7,-16.4 83.3,-16.6 87.6,-17.4 95.3,-20.6 97.4,-21.2 99.5,-21.3 105.1,-20.8 107.2,-20.9 108.6,-21.5 110,-23 112.1,-26.5 117,-36 118.4,-37.8 119.8,-38.5 121.2,-38.1 122.6,-36.8 128.2,-27.7 129.6,-26 131,-25 132.4,-25.1 133.8,-25.8 141.5,-31.2 142.9,-31.8 143.6,-31.9 145,-31.6 150.6,-28.9 153.4,-28 155.5,-27.7 157.6,-28.5 162.5,-33.5 163.9,-34.3 165.3,-34.2 168.1,-32.9 169.5,-33 170.2,-33.6 171.6,-35.9 173,-39.8 173.7,-42.7 177.9,-69.4 178.6,-72.9 179.3,-74.3 180,-73.2 180.7,-70 183.5,-53.5 184.9,-48.3 185.6,-47.1 186.3,-46.6 188.4,-46.3 189.8,-45.4 195.4,-39.3 197.5,-37.4 198.9,-36.7 200.3,-36.8 201.7,-37.5 203.1,-39.1 204.5,-41.6 205.9,-45 210.8,-58.6 212.2,-61.4 212.9,-62.3 213.6,-62.8 214.3,-62.7 215,-62.3 216.4,-60.5 222.7,-48.6 225.5,-44.7 226.9,-43.4 228.3,-42.7 229,-42.7 230.4,-43.1 231.8,-44 233.2,-45.3 236,-49.3 238.8,-55.1 240.9,-61.2 242.3,-66.6 244.4,-76.9 250,-110.1 250.7,-113.2 251.4,-114.6 252.1,-113.5 252.8,-110.7 257.7,-83.7 260.5,-70.7 261.9,-65.9 264.1,-60.5 266.2,-56.4 268.3,-53.5 269.7,-52.4 270.4,-52.3 271.8,-52.8 273.9,-54.3 274.6,-54.5 275.3,-54.3 276.7,-53.2 280.2,-49.1 281.6,-47.9 283,-47.4 285.1,-47.6 287.2,-49 289.3,-51.5 291.4,-54.8 296.3,-63.8 297.7,-65.6 298.4,-66 299.1,-65.8 300.5,-64.2 305.4,-56.6 307.5,-54 308.7,-48.1 1.3,1.5"/>
<polygon transform="translate(205.6,241.9)" points="1.4,-0.8 28,-6.1 35,-7.9 44.1,-9.6 52.5,-12 54.6,-12.2 58.8,-12.1 70,-13.6 72.8,-14.3 77.7,-16.1 89,-18 97.4,-20.5 100.2,-20.8 105.1,-20.9 107.2,-21.2 108.6,-22.2 110,-24 112.1,-28.1 117,-39.3 118.4,-41.5 119.8,-42.3 120.5,-42.2 121.2,-41.8 122.6,-40 128.2,-29 129.6,-27 131,-25.8 131.7,-25.7 133.1,-26.2 140.1,-31.4 141.5,-32.2 142.9,-32.7 144.3,-32.7 145.7,-32.3 152,-29.3 154.8,-28.7 156.9,-28.9 158.3,-29.4 162.5,-31.9 163.9,-32.4 165.3,-32.5 167.4,-32.1 168.8,-32.3 170.2,-33.6 171.6,-36.1 173,-40.2 173.7,-43.3 175.1,-51.7 178.6,-77.2 179.3,-79.7 180,-77.5 183.5,-54.8 184.9,-49.4 185.6,-48.3 186.3,-48 187.7,-48.3 189.1,-47.6 195.4,-39.8 197.5,-37.7 198.9,-37 199.6,-37 201,-37.4 202.4,-38.7 203.8,-41.1 206.6,-48.5 211.5,-64.6 212.9,-67.8 213.6,-68.5 214.3,-68.3 215,-67.6 216.4,-65.3 222.7,-51.8 225.5,-46.9 226.9,-45.1 228.3,-43.9 229,-43.7 230.4,-43.8 231.8,-44.5 233.2,-45.8 236,-49.6 238.8,-55.4 240.9,-61.4 243.7,-73.1 249.3,-104.6 250.7,-110.4 251.4,-111.4 252.1,-110.7 253.5,-105.7 258.4,-80.6 261.2,-69.2 262.7,-65 264.8,-60 266.9,-56.2 268.3,-54.3 269.7,-53.2 270.4,-53 271.8,-53.6 273.9,-55.5 274.6,-55.7 275.3,-55.5 280.9,-48.6 283,-47.5 285.1,-47.6 287.2,-49 289.3,-51.4 291.4,-54.8 296.3,-63.8 297.7,-65.8 298.4,-66.2 299.1,-66 299.8,-65.3 305.4,-56.7 307.5,-54 308.7,-48.1 2.7,1.3"/>
<polygon transform="translate(206.9,242.2)" points="2.8,-1 18.2,-4.3 28.7,-6.1 35,-8.3 39.9,-9.5 46.9,-10.5 52.5,-11.8 58.1,-12.1 64.4,-13.2 71.4,-13.8 84.7,-18 91.1,-18.6 98.1,-20.2 106.5,-21.4 107.9,-22.1 108.6,-22.8 110,-24.8 112.1,-29.4 117,-42.3 118.4,-45 119.1,-45.9 119.8,-46.2 120.5,-46 121.9,-44.2 128.2,-30.2 129.6,-27.9 131,-26.6 132.4,-26.6 133.8,-27.4 140.1,-33 141.5,-34 142.9,-34.4 144.3,-34.5 145.7,-34.1 151.3,-30.9 152.7,-30.5 154.1,-30.5 158.3,-31.5 166,-31.1 168.1,-31.5 169.5,-32.6 170.9,-34.5 172.3,-37.6 173,-39.9 174.4,-46.4 177.9,-69.4 178.6,-72.9 179.3,-74.4 180,-73.2 180.7,-70.1 183.5,-53.9 184.9,-49.2 185.6,-48.5 186.3,-48.4 187.7,-49 188.4,-48.9 189.1,-48.3 195.4,-39.9 196.8,-38.4 198.2,-37.4 199.6,-37 201,-37.4 202.4,-38.8 203.8,-41.3 206.6,-49.1 212.2,-68.9 212.9,-70.7 213.6,-71.6 214.3,-71.3 215,-70.4 217.8,-65.8 223.4,-52.4 226.2,-47.2 227.6,-45.4 229,-44.4 229.7,-44.3 231.1,-44.6 233.9,-46.9 236,-49.8 238.1,-53.8 240.2,-59.1 242.3,-66.3 243.7,-72.3 249.3,-100.3 250.7,-104.6 251.4,-105.4 252.1,-105.1 253.5,-102 259.1,-77.9 261.9,-68.1 265.5,-59.7 267.6,-56.2 269,-54.6 270.4,-53.9 271.1,-54 272.5,-55 273.9,-56.5 274.6,-56.8 275.3,-56.4 276,-55.5 278.8,-51.4 280.9,-48.8 283,-47.6 285.1,-47.7 287.2,-48.9 289.3,-51.2 296.3,-62.7 297.7,-64.3 298.4,-64.7 299.1,-64.6 300.5,-63.3 305.4,-56.4 307.5,-53.9 308.7,-48.1 4.1,1.1"/>
<polygon transform="translate(208.1,242.6)" points="3.5,-1.1 18.2,-4.4 28.7,-6.1 31.5,-7.1 37.1,-9.7 39.9,-10.6 42,-10.9 47.6,-10.8 58.1,-12.1 64.4,-13.4 71.4,-13.8 76.3,-15.3 79.1,-16.5 83.3,-18.8 85.4,-19.5 86.8,-19.6 91.1,-19 93.2,-19 106.5,-21.9 108.6,-23.4 110.7,-27 112.8,-32.2 117.7,-46.5 119.1,-49.3 119.8,-49.7 120.5,-49.4 121.9,-46.8 128.2,-31.1 129.6,-28.6 131,-27.4 132.4,-27.4 133.8,-28.3 135.9,-30.2 140.8,-35.6 142.2,-36.5 143.6,-36.8 145,-36.6 146.4,-36 150.6,-33 152,-32.5 153.4,-32.7 156.9,-34.7 159,-34.9 161.1,-34 165.3,-31 166.7,-30.7 167.4,-30.8 168.8,-31.7 170.2,-33.2 171.6,-35.4 173,-38.8 174.4,-44.3 177.9,-62.7 178.6,-65 179.3,-65.9 180,-65.3 180.7,-63.5 183.5,-51.3 184.2,-49.2 184.9,-47.9 185.6,-47.4 187.7,-47.8 189.1,-47.3 190.5,-45.9 196.1,-38.9 197.5,-37.6 198.9,-36.9 200.3,-36.8 201.7,-37.7 203.8,-40.9 206.6,-48.5 211.5,-64.6 212.9,-67.9 213.6,-68.7 214.3,-68.8 215,-68.5 217.8,-65.5 219.2,-62.8 223.4,-52.6 226.2,-47.5 228.3,-45 229,-44.7 230.4,-44.6 233.2,-46.4 235.3,-48.7 237.4,-52.2 239.5,-56.9 241.6,-63 243,-68 249.3,-95.2 250.7,-98.8 251.4,-99.6 252.1,-99.8 252.8,-99.2 253.5,-98.1 254.9,-94.5 260.5,-73.9 263.4,-65.8 266.2,-59.7 267.6,-57.5 269,-55.9 270.4,-55.1 271.1,-55.1 272.5,-55.7 273.9,-56.9 274.6,-57.2 275.3,-56.7 278.8,-51.5 280.9,-48.9 283,-47.7 285.1,-47.8 286.5,-48.4 288.6,-50.3 290.7,-53 295.6,-60.3 297,-61.9 298.4,-62.6 299.8,-62.2 301.2,-61 305.4,-55.7 307.5,-53.5 308.7,-48.1 4.8,1"/>
<polygon transform="translate(209.4,242.9)" points="3.5,-1.1 18.2,-4.5 28.7,-6 31.5,-7.1 38.5,-11.1 40.6,-11.9 46.2,-11 49,-10.9 57.4,-12 63.7,-13.5 70,-13.6 72.8,-14 75.6,-14.9 77.7,-16 83.3,-20.6 85.4,-21.5 87.6,-21.3 91.8,-19.5 93.9,-19.2 96.7,-19.7 106.5,-22.6 108.6,-24 110.7,-27.5 112.8,-32.8 118.4,-49.7 119.1,-51.2 119.8,-51.8 120.5,-51.2 121.2,-49.8 126.1,-36.6 128.2,-31.6 129.6,-29.1 130.3,-28.4 131,-28 131.7,-27.9 133.1,-28.5 135.2,-30.4 141.5,-38.5 142.2,-39.1 143.6,-39.6 145.7,-39.2 150.6,-35.1 152,-34.7 153.4,-35.4 156.9,-38.7 158.3,-39.1 159,-38.9 161.1,-37.3 164.6,-33 166,-31.6 167.4,-31 168.8,-31.5 170.9,-33.7 173,-37.4 174.4,-41.5 177.9,-55.1 178.6,-56.7 179.3,-57.3 180,-57 180.7,-55.9 183.5,-47.8 184.2,-46.5 184.9,-45.8 185.6,-45.5 187.7,-45.8 189.1,-45.5 191.2,-43.8 195.4,-39.2 197.5,-37.3 199.6,-36.4 201,-36.6 202.4,-37.8 204.5,-41.4 211.5,-60.3 212.9,-62.8 214.3,-63.7 215.7,-63.3 217.8,-61.2 219.2,-59 224.1,-49.8 226.2,-46.6 228.3,-44.6 229,-44.3 230.4,-44.4 233.2,-46.2 235.3,-48.5 237.4,-51.9 239.5,-56.4 243,-66.6 249.3,-90.9 250.7,-94.5 251.4,-95.6 252.1,-96.3 252.8,-96.4 253.5,-96 254.2,-95.2 256.3,-90.6 261.2,-73.9 264.1,-65.7 266.2,-61.2 267.6,-59.2 269,-57.8 271.1,-56.7 272.5,-56.6 274.6,-56.9 275.3,-56.4 280.2,-49.6 281.6,-48.4 283,-47.8 285.1,-48.1 287.2,-49.3 289.3,-51.4 294.9,-58.6 296.3,-59.8 297.7,-60.5 299.1,-60.5 300.5,-59.8 307.5,-53 308.7,-48.1 4.8,1"/>
<polygon transform="translate(210.6,243.3)" points="3.5,-1.1 18.2,-4.6 29.4,-6.2 32.2,-7.3 38.5,-11 40.6,-11.8 42,-11.7 46.9,-10.8 49.7,-10.8 56.7,-11.7 63.7,-13.5 70,-13.6 72.8,-13.9 75.6,-15 77.7,-16.4 83.3,-22.7 85.4,-24 86.1,-24 87.6,-23.5 92.5,-20 94.6,-19.6 97.4,-20.2 107.2,-23.7 109.3,-25.4 110.7,-27.7 112.8,-32.7 117.7,-47 119.1,-49.9 119.8,-50.4 120.5,-50 121.9,-47.4 128.2,-31.8 129.6,-29.4 131,-28.4 132.4,-28.7 134.5,-30.5 136.6,-33.4 141.5,-41.5 142.9,-43.1 144.3,-43.7 145,-43.5 146.4,-42.4 149.9,-37.9 151.3,-36.9 152,-36.9 153.4,-37.9 156.9,-42.6 157.6,-43.1 158.3,-43.2 159,-42.9 160.4,-41.3 166,-32.5 167.4,-31.4 168.8,-31.4 170.9,-33.1 173,-36 174.4,-38.9 177.9,-47.9 178.6,-49 179.3,-49.5 180,-49.4 180.7,-48.7 182.8,-45.3 184.2,-43.7 185.6,-43.4 188.4,-43.6 189.8,-43.1 191.9,-41.7 197.5,-36.7 199.6,-35.9 201,-36.1 202.4,-37 204.5,-39.9 210.1,-52.5 211.5,-55.2 212.9,-57 214.3,-57.8 215.7,-57.6 217.8,-55.9 223.4,-48.3 226.2,-45.1 228.3,-43.8 230.4,-44 233.2,-45.9 235.3,-48.2 237.4,-51.5 239.5,-55.8 241.6,-61.1 243.7,-67.5 250,-90.6 252.1,-95.7 252.8,-96.6 253.5,-97 254.2,-97 254.9,-96.5 255.6,-95.5 257,-92.2 262.7,-71.9 264.1,-67.6 265.5,-64.3 266.2,-63.1 267.6,-61.5 270.4,-60 272.5,-58.1 275.3,-56 279.5,-50.4 280.9,-48.9 282.3,-48.1 283,-48 284.4,-48.3 285.8,-49.2 288.6,-51.8 293.5,-57.9 294.9,-58.9 296.3,-59.5 297.7,-59.5 299.8,-58.6 307.5,-52.5 308.7,-48.1 4.8,1"/>
<polygon transform="translate(211.9,243.6)" points="4.2,-1.2 18.9,-4.9 28,-5.8 30.1,-6.2 32.2,-7 37.8,-9.7 40.6,-10.5 49.7,-10.5 56,-11.4 63.7,-13.3 70,-13.5 72.8,-13.9 75.6,-15.2 77.7,-17 83.3,-25.1 84.7,-26.4 85.4,-26.6 86.1,-26.6 87.6,-25.9 91.8,-21.3 93.2,-20.4 95.3,-20.1 97.4,-20.6 103.7,-23.5 107.9,-25.1 110,-26.9 112.1,-30.6 117.7,-44.8 119.1,-46.9 119.8,-47.3 120.5,-47.1 121.9,-45.3 128.2,-31.9 129.6,-29.7 131,-28.7 131.7,-28.7 133.1,-29.6 135.2,-32.3 138,-37.6 142.2,-47.4 143.6,-49.3 144.3,-49.6 145,-49.4 145.7,-48.7 149.9,-40.4 151.3,-38.7 152,-38.5 152.7,-38.7 153.4,-39.3 156.9,-45.3 157.6,-46.2 158.3,-46.3 159.7,-44.5 165.3,-34 166.7,-32.2 168.1,-31.3 168.8,-31.3 170.2,-32 172.3,-33.9 174.4,-36.7 177.9,-42.2 179.3,-43.3 180.7,-43.1 182.8,-41.7 184.2,-41.1 187.7,-41.4 189.8,-41.1 191.9,-40.1 196.1,-37 198.2,-35.8 200.3,-35.4 201.7,-35.7 203.1,-36.7 205.2,-39.3 209.4,-46.7 211.5,-49.9 212.9,-51.3 214.3,-51.9 215.7,-51.8 217.1,-51.1 222.7,-45.9 225.5,-43.9 227.6,-43.2 229,-43.3 230.4,-43.8 233.2,-45.6 236,-48.8 238.1,-52.3 240.9,-58.5 243,-64.2 245.1,-71 251.4,-96.1 252.8,-100 253.5,-101.2 254.2,-101.8 254.9,-101.8 255.6,-101.1 257,-98 258.4,-93 262.7,-74.7 264.1,-69.7 265.5,-66.3 266.2,-65.3 266.9,-64.9 269,-65.3 269.7,-65.1 270.4,-64.5 273.9,-58 278.1,-51.9 280.2,-49.5 281.6,-48.5 282.3,-48.4 283,-48.4 284.4,-49.2 287.2,-52 292.8,-59.5 294.2,-60.6 294.9,-60.8 296.3,-60.7 297.7,-59.9 303.3,-54.7 305.4,-53.1 307.5,-52 308.7,-48.1 5.5,0.9"/>
<polygon transform="translate(213.2,244)" points="4.2,-1.2 18.9,-5.1 30.8,-6.2 37.8,-8.6 40.6,-9.3 47.6,-9.9 53.9,-10.8 63.7,-13.1 70,-13.4 72.8,-13.9 75.6,-15.4 77.7,-17.5 79.1,-19.6 83.3,-27.4 84.7,-29.1 85.4,-29.4 86.1,-29.3 87.6,-28.2 91.1,-23.2 93.2,-21.1 94.6,-20.6 96.7,-20.9 104.4,-25.2 109.3,-27.1 110.7,-28.2 112.8,-31.5 117.7,-41.9 119.1,-43.5 119.8,-43.8 120.5,-43.7 121.2,-43.3 122.6,-41.7 126.1,-36.3 129.6,-30.3 131,-29.1 131.7,-29.1 132.4,-29.4 133.8,-31 136.6,-36.2 138.7,-41.9 142.2,-54.2 143.6,-57.2 144.3,-57.7 145,-57.4 146.4,-54.6 149.9,-43.2 151.3,-40.3 152,-39.5 152.7,-39.2 153.4,-39.4 154.8,-40.8 156.9,-43.6 157.6,-44.2 158.3,-44.2 159,-43.8 160.4,-42 165.3,-33.7 166.7,-32 168.1,-31.3 169.5,-31.4 171.6,-32.6 177.9,-38.4 180,-39.3 183.5,-38.8 187.7,-39.3 189.8,-39.2 192.6,-38.2 196.1,-36.2 198.2,-35.3 200.3,-35 201.7,-35.2 203.8,-36.2 205.2,-37.5 211.5,-45.2 212.9,-46.2 214.3,-46.7 215.7,-46.6 217.1,-46.2 222,-43.5 224.1,-42.9 227.6,-43.1 231.1,-44.1 233.9,-46 236.7,-49.5 239.5,-54.6 242.3,-61.5 244.4,-67.9 246.5,-76.1 252.1,-103.1 253.5,-107.6 254.2,-108.7 254.9,-109.1 255.6,-108.5 256.3,-107.1 257.7,-102.2 262.7,-77.5 264.8,-69.8 265.5,-68.3 266.2,-67.8 266.9,-68 269,-70.7 269.7,-70.9 270.4,-70.1 274.6,-57.5 276.7,-53.7 279.5,-50 280.9,-48.9 281.6,-48.7 282.3,-48.7 283.7,-49.7 285.8,-52.3 292.1,-61.7 293.5,-63.2 294.9,-63.8 295.6,-63.6 297,-62.5 301.2,-56.4 303.3,-54 305.4,-52.5 307.5,-51.7 308.7,-48.1 5.5,0.9"/>
<polygon transform="translate(214.4,244.3)" points="4.2,-1.2 18.9,-5.2 31.5,-6.2 40.6,-8.4 56,-11 63,-12.8 70,-13.2 72.8,-13.9 75.6,-15.5 77.7,-17.9 79.8,-21.7 84,-30.5 84.7,-31.6 85.4,-32 86.1,-31.8 86.8,-31.1 91.1,-24.2 92.5,-22.3 93.9,-21.3 94.6,-21.1 96,-21.3 98.8,-22.9 105.1,-27.6 106.5,-28.2 110,-28.9 111.4,-29.6 113.5,-32 117.7,-38.8 119.1,-40.1 119.8,-40.4 121.2,-40.2 123.3,-39.1 125.4,-38.9 126.1,-38.6 127.5,-36.4 128.9,-33.2 130.3,-30.6 131,-30 131.7,-29.8 132.4,-30.1 133.1,-30.7 134.5,-32.9 135.9,-35.9 137.3,-39.7 138.7,-45 142.2,-62.3 143.6,-66.6 144.3,-67.3 145,-66.8 145.7,-65.2 147.1,-59.6 149.9,-46.2 150.6,-43.7 152,-40.2 152.7,-39.2 153.4,-38.7 154.1,-38.6 157.6,-40.3 159,-40.1 161.1,-38.2 165.3,-32.7 166.7,-31.5 167.4,-31.2 168.8,-31.2 170.9,-32 178.6,-36.3 180,-36.6 184.2,-36.9 187.7,-37.4 189.8,-37.5 191.9,-37.2 196.8,-35.3 198.9,-34.7 201,-34.7 202.4,-34.9 205.2,-36.2 210.8,-40.9 213.6,-42.3 215.7,-42.6 220.6,-41.8 222,-41.8 226.9,-43.7 231.1,-44.5 232.5,-45 233.9,-46 235.3,-47.4 238.1,-51.5 240.9,-57.4 243.7,-65.3 245.8,-73.3 247.2,-80.1 252.8,-112 254.2,-116.7 254.9,-117.3 255.6,-116.7 257,-112 262.7,-79.9 264.8,-71.4 265.5,-70.1 266.2,-69.9 266.9,-70.7 269,-76.3 269.7,-76.9 270.4,-75.8 271.1,-73.3 274.6,-58.2 276,-54.7 278.1,-51.4 280.2,-49.3 281.6,-48.9 282.3,-49.3 283.7,-51 287.9,-58.3 292.8,-66 294.2,-67.2 294.9,-67.3 295.6,-66.9 297,-65.1 301.2,-57 303.3,-53.9 305.4,-52.3 307.5,-51.6 308.7,-48.1 5.5,0.9"/>
<polygon transform="translate(215.7,244.7)" points="4.2,-1.2 18.9,-5.4 31.5,-6.3 49,-9.7 55.3,-10.7 63,-12.6 69.3,-13 72.1,-13.6 74.2,-14.6 75.6,-15.6 77.7,-18.1 79.8,-22.1 84,-31.7 84.7,-33 85.4,-33.7 86.1,-33.3 86.8,-32.3 90.4,-25.9 92.5,-22.8 93.9,-21.8 95.3,-21.7 96.7,-22.3 98.1,-23.3 103.7,-29.1 105.8,-30.8 107.9,-31.5 111.4,-30.9 112.8,-31.1 113.5,-31.5 118.4,-36.5 119.8,-37.2 121.9,-37.6 122.6,-38 123.3,-39 125.4,-43.3 126.1,-43.7 126.8,-43 127.5,-41.2 130.3,-32.3 131,-31.3 131.7,-30.8 132.4,-30.9 133.8,-32.4 135.2,-35.2 137.3,-41.5 138.7,-48 142.9,-74 143.6,-76.5 144.3,-77.4 145,-76.6 145.7,-74.3 149.9,-49.2 151.3,-43.1 152.7,-39.3 153.4,-38.1 154.8,-36.8 155.5,-36.5 158.3,-36.4 159.7,-35.9 161.1,-35 164.6,-31.9 166,-31.2 168.1,-31.2 179.3,-34.7 189.1,-36 192.6,-36 198.9,-34.5 201,-34.5 203.1,-34.8 205.9,-35.8 212.9,-39.3 215,-39.9 219.2,-40.5 220.6,-41 225.5,-44.4 226.9,-45 228.3,-45.3 231.8,-45.2 233.2,-45.7 234.6,-46.7 236,-48.1 238.8,-52.5 241.6,-58.8 244.4,-67.6 247.2,-81 252.8,-117.5 254.2,-124.2 254.9,-125.3 255.6,-124.3 257,-117.9 261.9,-85.7 263.4,-77.9 264.8,-72.4 265.5,-71 266.2,-70.9 266.9,-71.9 269,-79.5 269.7,-81 270.4,-79 273.2,-64.4 274.6,-58.4 276,-54.5 277.4,-52.1 278.8,-50.3 280.2,-49.2 280.9,-49.1 281.6,-49.4 282.3,-50.1 283.7,-52.6 287.9,-61.6 292.8,-69.3 294.2,-70.8 294.9,-70.8 296.3,-69.1 301.2,-57.8 303.3,-54.1 305.4,-52.3 307.5,-51.6 308.7,-48.1 5.5,0.9"/>
<polygon transform="translate(216.9,245)" points="4.2,-1.2 19.6,-5.6 30.1,-6.3 47.6,-9.4 55.3,-10.5 63,-12.3 69.3,-12.8 72.1,-13.5 74.2,-14.6 75.6,-15.6 77.7,-18.1 79.8,-22 84,-31.1 84.7,-32.1 85.4,-32.6 86.1,-32.5 86.8,-31.8 91.1,-24.8 92.5,-23.1 93.9,-22.2 95.3,-22.3 96.7,-23.1 98.8,-25.2 104.4,-33.4 106.5,-35.6 107.2,-35.9 108.6,-35.7 112.8,-32.4 114.2,-32 115.6,-32.3 121.2,-35.3 121.9,-36.1 122.6,-37.6 125.4,-49 126.1,-50.2 126.8,-49.1 130.3,-34.3 131,-32.9 131.7,-32.1 132.4,-31.9 133.1,-32.3 134.5,-34.4 135.9,-37.8 138,-46.2 139.4,-55 142.9,-81.9 143.6,-85.7 144.3,-87.3 145,-85.9 145.7,-82.2 149.2,-56 151.3,-44.2 152.7,-39.5 154.1,-36.5 155.5,-34.7 156.9,-33.7 163.9,-30.9 165.3,-30.7 166.7,-30.8 171.6,-32.5 182.8,-33.8 191.2,-35.4 193.3,-35.4 198.9,-34.5 201.7,-34.6 207.3,-36 218.5,-39.9 220.6,-41.2 224.8,-45.2 226.9,-46.5 228.3,-46.6 231.8,-45.9 233.9,-46.4 235.3,-47.4 236.7,-49 239.5,-53.7 242.3,-60.4 244.4,-67.4 245.8,-73.5 247.9,-85.5 253.5,-124.6 254.2,-128.3 254.9,-130 255.6,-128.6 256.3,-125.1 261.9,-86.5 263.4,-78.4 264.8,-72.6 265.5,-71 266.2,-70.5 266.9,-71.2 269,-76.4 269.7,-77.1 270.4,-75.9 271.1,-73.3 274.6,-57.8 276,-54 277.4,-51.7 279.5,-49.5 280.2,-49.2 280.9,-49.3 281.6,-49.9 283,-52.5 286.5,-62 287.9,-65 291.4,-69.3 294.2,-74 294.9,-73.9 295.6,-72.8 300.5,-60 302.6,-55.4 304.7,-52.8 306.1,-52 307.5,-51.7 308.7,-48.1 5.5,0.9"/>
<polygon transform="translate(218.2,245.4)" points="4.2,-1.2 19.6,-5.7 28.7,-6.3 42,-8.8 56,-10.5 62.3,-11.9 69.3,-12.7 72.1,-13.5 74.9,-15 77,-17 79.1,-20.3 83.3,-28.5 84.7,-30.3 85.4,-30.7 86.1,-30.7 87.6,-29.6 91.1,-24.6 92.5,-23.1 93.9,-22.6 94.6,-22.6 96,-23.4 97.4,-24.8 99.5,-27.8 105.1,-39.9 106.5,-41.8 107.2,-42.1 107.9,-42.1 109.3,-40.9 112.8,-34.9 114.9,-32.4 115.6,-32 117,-31.8 119.8,-32.4 121.2,-33.6 121.9,-34.9 122.6,-37.2 125.4,-52.6 126.1,-55.1 126.8,-53 128.9,-42.1 130.3,-36.7 131.7,-33.9 132.4,-33.3 133.1,-33.3 133.8,-33.8 134.5,-34.9 135.9,-38.2 138,-46.9 139.4,-56.2 143.6,-90.7 144.3,-93.3 145,-90.8 149.2,-57.1 151.3,-44.6 152.7,-39.7 154.1,-36.3 156.2,-33 158.3,-31.3 161.1,-30.4 163.9,-30.2 166,-30.7 170.2,-32.4 171.6,-32.8 176.5,-32.5 180.7,-32.7 187.7,-34.4 191.9,-35.1 198.9,-34.6 201.7,-34.9 212.2,-37.5 217.1,-39.4 219.9,-41.2 225.5,-47.1 226.9,-48 228.3,-48 231.1,-46.9 232.5,-46.6 234.6,-47.1 236.7,-49 239.5,-53.5 242.3,-60.1 244.4,-66.9 245.8,-72.9 247.9,-84.6 253.5,-122.2 254.2,-125.3 254.9,-126.7 255.6,-126 257,-119.8 261.9,-86 263.4,-77.9 264.8,-72 265.5,-70 266.2,-69 266.9,-68.9 269,-71.1 269.7,-71.1 270.4,-70.3 271.8,-66.3 274.6,-56.4 276.7,-52.1 278.8,-49.7 280.2,-49.2 280.9,-49.5 281.6,-50.4 283,-53.6 286.5,-64.8 287.9,-68.4 288.6,-69.4 289.3,-69.9 291.4,-70.8 294.2,-74.7 294.9,-74.5 295.6,-73.2 300.5,-60 302.6,-55.4 304.7,-52.8 306.1,-52 307.5,-51.8 308.7,-48.1 5.5,0.9"/>
<polygon transform="translate(219.4,245.7)" points="4.2,-1.2 19.6,-5.6 27.3,-6.3 42,-9.2 56,-10.4 71.4,-13.2 74.9,-14.8 77,-16.7 79.1,-19.7 83.3,-27.1 84,-27.9 85.4,-28.8 86.8,-28.6 87.6,-28.1 91.8,-23.4 93.2,-22.8 94.6,-23.1 96.7,-24.9 98.8,-28.3 100.9,-33.6 105.1,-47.3 106.5,-49.9 107.2,-50.3 107.9,-50.2 109.3,-48.3 114.2,-35.2 115.6,-32.9 117,-31.6 118.4,-31.1 119.8,-31.3 121.2,-32.4 121.9,-33.8 123.3,-39.3 125.4,-49.7 126.1,-51.4 126.8,-50.9 127.5,-49 131.7,-36.6 132.4,-35.2 133.1,-34.5 133.8,-34.5 134.5,-35.2 135.9,-38.2 138,-46.5 139.4,-55.3 142.9,-82.1 143.6,-86 144.3,-87.5 145,-86.1 145.7,-82.4 149.2,-56.2 151.3,-44.3 152.7,-39.5 154.8,-34.8 156.9,-31.9 159,-30.5 161.1,-30 163.9,-30.2 171.6,-32.8 177.2,-32.1 180.7,-32.2 182.8,-32.7 187,-34.3 191.2,-35 198.2,-34.7 201,-35.1 206.6,-36.8 212.9,-38 216.4,-39.4 219.9,-41.9 225.5,-48.2 226.9,-49.3 227.6,-49.3 231.8,-47.2 233.2,-46.9 234.6,-47.3 236.7,-49 239.5,-53.2 242.3,-59.5 244.4,-66 247.2,-78.7 253.5,-116.7 254.2,-119.4 254.9,-121 255.6,-121.1 256.3,-119.8 257.7,-113.2 261.9,-84.3 263.4,-76.6 264.8,-70.7 266.2,-67.1 266.9,-66.2 267.6,-65.9 269,-65.8 269.7,-65.5 270.4,-64.7 271.8,-61.8 274.6,-54.8 276.7,-51.4 278.1,-49.9 279.5,-49.1 280.2,-49.1 280.9,-49.7 281.6,-50.8 283.7,-56.8 287.2,-69.5 287.9,-71.5 288.6,-72.5 289.3,-72.5 290.7,-71.5 291.4,-71.2 292.1,-71.3 294.2,-72.4 294.9,-72.1 296.3,-69.9 300.5,-59.4 302.6,-55.1 304.7,-52.7 306.1,-52.1 307.5,-51.9 308.7,-48.1 5.5,0.9"/>
<polygon transform="translate(220.7,246)" points="4.2,-1.2 18.2,-5.2 26.6,-6.4 39.2,-9.4 44.8,-10 56.7,-10.5 71.4,-13.2 74.9,-14.7 77,-16.4 79.1,-19 83.3,-25.3 84,-26 85.4,-26.6 86.1,-26.6 87.6,-26.1 90.4,-23.7 91.8,-22.9 93.2,-22.8 93.9,-23 95.3,-24.1 96.7,-25.8 98.8,-30.1 100.9,-37.2 105.1,-55.9 106.5,-59.4 107.2,-59.9 107.9,-59.7 109.3,-56.9 113.5,-40.3 114.9,-36 116.3,-33.2 117.7,-31.6 119.1,-30.9 119.8,-30.9 121.2,-31.7 121.9,-32.8 123.3,-37 125.4,-45.3 126.1,-47.2 126.8,-48.4 127.5,-49 128.2,-49.1 128.9,-48.6 129.6,-47.4 133.1,-36 133.8,-35.3 134.5,-35.5 135.2,-36.4 136.6,-39.7 138,-45 142.2,-70.9 143.6,-77 144.3,-77.9 145,-77.1 145.7,-74.7 149.9,-49.4 152,-40.8 153.4,-37.2 155.5,-33.4 156.9,-31.7 159,-30.4 161.1,-30.1 163.9,-30.4 171.6,-32.4 177.2,-31.7 180,-31.7 182.1,-32.3 186.3,-34.3 189.1,-34.9 191.9,-35.2 197.5,-34.9 199.6,-35.1 206.6,-37.8 212.9,-38.5 215.7,-39.5 218.5,-41.6 224.8,-48.3 226.9,-49.7 228.3,-49.4 231.8,-47.3 233.2,-47 234.6,-47.3 236.7,-48.9 239.5,-52.9 242.3,-58.8 244.4,-64.8 247.2,-76.1 253.5,-110.4 254.9,-115.8 255.6,-117.2 256.3,-116.9 257,-114.5 261.9,-81.7 263.4,-74.5 264.8,-69 266.9,-63.9 270.4,-60.1 275.3,-52.2 277.4,-49.9 278.8,-49 279.5,-48.8 280.2,-49 280.9,-49.7 281.6,-50.9 283,-54.8 287.2,-70.9 287.9,-73.3 288.6,-74.5 289.3,-73.9 291.4,-70.8 292.1,-70.3 294.2,-69.6 295.6,-68.4 297,-66.1 301.2,-56.9 303.3,-53.7 304.7,-52.6 307.5,-52.1 308.7,-48.1 5.5,0.9"/>
<polygon transform="translate(221.9,246.4)" points="3.5,-1 17.5,-5 25.9,-6.4 35,-9 39.2,-10 44.8,-10.7 56.7,-10.6 70.7,-13.1 74.2,-14.2 76.3,-15.4 78.4,-17.3 82.6,-22.4 84.7,-24.1 86.8,-24.2 90.4,-22.7 91.8,-22.4 93.2,-22.7 93.9,-23.1 95.3,-24.5 96.7,-26.7 98.8,-31.9 100.9,-40.9 105.1,-64.9 106.5,-69.5 107.2,-70.2 107.9,-69.8 109.3,-65.9 113.5,-44 114.9,-38.3 115.6,-36.2 117,-33.3 118.4,-31.7 119.8,-31.2 121.2,-31.5 121.9,-32.2 123.3,-34.9 124.7,-39.6 127.5,-51.4 128.2,-53.7 128.9,-54.6 129.6,-53.3 130.3,-50.5 133.1,-37.5 133.8,-35.9 134.5,-35.5 135.2,-36 136.6,-38.7 138,-43 142.2,-63 143.6,-67.3 144.3,-67.9 145,-67.4 146.4,-63.3 149.9,-46.5 152,-39.6 153.4,-36.4 155.5,-33 156.9,-31.5 159,-30.5 161.1,-30.3 163.9,-30.6 171.6,-31.9 177.9,-31.4 180,-31.4 182.1,-32.1 186.3,-34.2 189.8,-35.3 191.9,-35.4 196.8,-35 198.9,-35.3 201,-36.2 205.2,-38.8 206.6,-39.3 208.7,-39.5 212.2,-39.1 214.3,-39.5 215.7,-40.1 217.1,-41.2 219.2,-43.5 222.7,-48.2 224.1,-49.5 225.5,-50.2 226.9,-50.2 227.6,-49.9 231.1,-47.7 232.5,-47.1 234.6,-47.2 236,-48.1 237.4,-49.5 240.2,-53.7 243,-59.6 245.1,-65.5 246.5,-70.3 248.6,-79.3 254.9,-110.4 255.6,-113.2 256.3,-114.3 257,-111.5 261.2,-82.2 262.7,-75 264.1,-69.3 265.5,-65 267.6,-60.6 273.9,-52.6 276,-50.4 278.1,-49 279.5,-48.6 280.2,-48.8 280.9,-49.5 281.6,-50.8 283,-54.6 287.2,-69.9 287.9,-71.9 288.6,-72.9 289.3,-72.5 291.4,-69.4 294.9,-66.1 296.3,-64.5 301.2,-55.8 302.6,-53.9 303.3,-53.3 304.7,-52.6 307.5,-52.4 308.7,-48.1 4.8,1"/>
<polygon transform="translate(223.2,246.7)" points="3.5,-1 16.8,-4.7 25.9,-6.6 35.7,-9.9 40.6,-11 45.5,-11.4 52.5,-10.7 56.7,-10.7 72.1,-13.6 74.9,-14.4 77,-15.5 82.6,-20.6 84.7,-21.9 86.8,-22.2 91.1,-21.8 93.2,-22.6 95.3,-24.9 96.7,-27.3 98.8,-33.4 100.9,-44.2 105.1,-73.4 106.5,-79.6 107.2,-80.7 107.9,-80 109.3,-74.5 113.5,-47.3 114.9,-40.3 115.6,-37.7 117,-34.3 118.4,-32.4 119.8,-31.6 121.2,-31.7 121.9,-32 123.3,-33.9 124,-35.6 125.4,-41.3 128.2,-56.9 128.9,-59.1 129.6,-56.9 133.1,-38.1 133.8,-36.1 134.5,-35.3 135.2,-35.4 135.9,-36.3 137.3,-39 138.7,-42.9 142.2,-55.1 143.6,-58.1 144.3,-58.5 145,-58.2 146.4,-55.4 149.9,-43.5 152.7,-36.7 154.8,-33.4 156.2,-31.8 157.6,-30.9 159,-30.5 165.3,-30.8 171.6,-31.5 179.3,-31.1 182.1,-31.9 187,-34.5 189.8,-35.6 191.2,-35.7 195.4,-35.2 197.5,-35.3 198.9,-35.7 200.3,-36.5 204.5,-40.4 206.6,-41.7 208.7,-41.5 212.2,-40.1 214.3,-40.1 215.7,-40.8 217.8,-43.1 222.7,-51.9 224.1,-53.3 224.8,-53.5 226.2,-52.8 229.7,-49 231.8,-47.4 233.2,-47 235.3,-47.5 237.4,-49.3 240.2,-53.1 243,-58.4 245.1,-63.5 247.2,-69.9 249.3,-77.7 254.9,-102.1 255.6,-104.2 256.3,-104.8 257,-103 257.7,-99.5 261.2,-78 262.7,-71.7 264.1,-66.9 265.5,-63.1 267.6,-58.8 269.7,-55.8 272.5,-52.7 275.3,-50.2 278.1,-48.6 279.5,-48.3 280.2,-48.5 280.9,-49.2 281.6,-50.3 283,-53.8 287.2,-67.2 287.9,-68.6 288.6,-69.3 289.3,-69.2 290,-68.5 292.1,-65.9 296.3,-61.5 300.5,-55.5 301.9,-54 304,-52.9 307.5,-52.9 308.7,-48.1 4.8,1"/>
<polygon transform="translate(224.5,247.1)" points="2.8,-0.9 14.7,-4.2 25.2,-6.5 36.4,-10.7 42,-12.1 45.5,-12.3 52.5,-11 56.7,-10.9 74.2,-14.1 77.7,-15.5 84,-19.7 86.1,-20.4 90.4,-21 91.8,-21.5 93.2,-22.5 95.3,-25 96.7,-27.7 98.1,-31.7 99.5,-37.8 101.6,-51.6 105.8,-85 106.5,-88.8 107.2,-90.4 107.9,-89.2 108.6,-85.8 112.8,-54.5 114.9,-41.8 115.6,-38.8 117,-35 118.4,-33 119.1,-32.5 120.5,-32 121.9,-32.1 122.6,-32.5 124,-34.7 125.4,-39.7 127.5,-50.3 128.2,-53.1 128.9,-54.3 129.6,-53.2 130.3,-50.5 133.1,-37.3 133.8,-35.5 134.5,-34.6 135.2,-34.7 136.6,-36.2 138.7,-40.3 142.2,-48.4 143.6,-50.3 144.3,-50.6 145,-50.4 146.4,-48.5 150.6,-39.3 153.4,-34.5 154.8,-32.7 156.2,-31.4 157.6,-30.7 159,-30.4 170.9,-31.1 179.3,-30.9 182.1,-31.9 187,-34.8 189.8,-36 191.2,-36.2 196.1,-35.3 197.5,-35.5 198.9,-36.2 200.3,-37.4 205.2,-44.4 206.6,-45.4 208,-45.2 212.2,-41.3 213.6,-40.8 215,-41.1 216.4,-42.3 217.8,-44.4 219.2,-47.5 222,-55.6 223.4,-58.4 224.1,-58.9 224.8,-58.9 225.5,-58.2 229,-51.1 231.1,-48.2 231.8,-47.6 233.2,-47 235.3,-47.4 237.4,-49 239.5,-51.4 241.6,-54.6 244.4,-60 246.5,-64.9 248.6,-70.8 254.9,-91.9 255.6,-93.2 256.3,-93.4 257,-92.3 257.7,-90 261.2,-73.5 264.1,-64.4 266.2,-59.7 268.3,-56.1 270.4,-53.5 273.2,-50.9 276,-49.1 278.1,-48.3 279.5,-48.1 280.9,-48.8 281.6,-49.8 283,-52.7 286.5,-62.3 287.9,-64.8 288.6,-65.3 289.3,-65.3 290,-64.9 293.5,-60.9 301.2,-53.9 303.3,-53.3 307.5,-53.4 308.7,-48.1 4.1,1.1"/>
<polygon transform="translate(225.7,247.4)" points="2.8,-0.9 13.3,-3.9 25.2,-6.6 29.4,-8.1 37.8,-11.8 42.7,-13.4 45.5,-13.5 51.8,-11.5 56,-11 74.9,-14.2 78.4,-15.4 84.7,-18.6 90.4,-20.3 92.5,-21.7 94.6,-24 96.7,-27.8 98.1,-31.9 99.5,-38.2 101.6,-52.6 105.8,-88.6 106.5,-93.6 107.2,-96 107.9,-93.9 108.6,-89.3 112.8,-55.5 114.9,-42.3 116.3,-37 117.7,-34.1 119.1,-32.9 121.2,-32.2 122.6,-32.3 124,-33.7 125.4,-37.2 127.5,-44.9 128.2,-46.6 128.9,-47.3 129.6,-46.8 130.3,-45.2 133.1,-35.6 133.8,-34.3 134.5,-33.7 135.2,-33.7 136.6,-35 142.2,-43.6 143.6,-44.6 144.3,-44.8 145,-44.6 146.4,-43.5 152,-35.3 154.1,-32.7 156.2,-30.9 158.3,-30.3 170.9,-30.8 178.6,-30.7 181.4,-31.7 187,-35.5 189.8,-36.6 191.9,-36.6 195.4,-35.7 197.5,-35.8 198.9,-36.7 200.3,-38.4 201.7,-40.9 205.2,-48.9 205.9,-49.8 206.6,-50.2 207.3,-50.2 208,-49.6 211.5,-43.7 212.9,-42 214.3,-41.5 215.7,-42.3 217.1,-44.3 218.5,-47.7 222.7,-63.1 223.4,-64.7 224.1,-65.4 224.8,-65.2 225.5,-64 229,-53.2 230.4,-49.9 231.1,-48.8 232.5,-47.5 233.9,-47.2 235.3,-47.4 237.4,-48.7 239.5,-50.8 241.6,-53.6 243.7,-57 247.9,-65.3 254.2,-80.7 255.6,-82.8 256.3,-82.9 257,-82.1 257.7,-80.6 261.9,-67.2 265.5,-59.2 267.6,-55.7 269.7,-53 271.8,-51 273.9,-49.6 276,-48.6 278.1,-48 279.5,-47.9 280.9,-48.6 283,-51.7 286.5,-59.2 287.9,-61.1 288.6,-61.4 289.3,-61.4 290,-61.1 294.2,-57.1 299.8,-54 301.9,-53.7 307.5,-54 308.7,-48.1 4.1,1.1"/>
<polygon transform="translate(227,247.8)" points="2.1,-0.8 13.3,-4 21.7,-5.6 25.9,-6.8 32.9,-9.7 41.3,-14 43.4,-14.9 44.8,-15 46.2,-14.7 52.5,-11.7 54.6,-11.3 56.7,-11.3 63.7,-12.6 73.5,-13.8 77,-14.5 88.3,-18.8 91.8,-20.9 93.9,-23 96,-26.2 97.4,-29.4 98.8,-34.4 100.9,-46.4 105.8,-85 106.5,-88.8 107.2,-90.4 107.9,-89.2 108.6,-85.8 113.5,-49.7 115.6,-39 116.3,-36.8 117.7,-34.1 119.1,-33 121.9,-32.1 123.3,-32.2 124.7,-33.4 127.5,-39.2 128.2,-40.2 128.9,-40.6 129.6,-40.3 130.3,-39.4 133.1,-33.7 133.8,-32.9 134.5,-32.7 135.2,-32.8 136.6,-33.8 141.5,-39.7 142.9,-40.6 144.3,-40.8 145.7,-40.4 147.1,-39.4 153.4,-32.6 155.5,-30.9 156.9,-30.3 159,-30 170.2,-30.6 175.8,-30.4 178.6,-30.8 181.4,-32.1 187,-36.4 189.1,-37.4 191.2,-37.5 196.1,-35.9 197.5,-36.1 198.2,-36.5 199.6,-38.1 201,-40.9 205.2,-53.7 205.9,-55 206.6,-55.6 207.3,-55.4 208,-54.5 212.2,-44.2 213.6,-42.4 214.3,-42.2 215,-42.3 216.4,-43.8 217.1,-45.1 218.5,-49.2 222.7,-68.5 223.4,-70.9 224.1,-72 224.8,-71.4 225.5,-69.4 229.7,-52.8 231.1,-49.7 231.8,-48.8 233.2,-48 235.3,-48 237.4,-48.7 238.8,-49.6 240.9,-51.7 245.8,-58.8 253.5,-72 254.9,-73.7 255.6,-74.1 256.3,-74.1 257.7,-72.8 264.1,-59.8 266.9,-55.2 270.4,-51.3 272.5,-49.8 274.6,-48.8 278.1,-47.8 279.5,-48 280.2,-48.4 282.3,-50.5 286.5,-56.6 287.9,-57.7 288.6,-57.9 290,-57.6 293.5,-54.9 295.6,-54.2 299.1,-53.8 304.7,-54.5 307.5,-54.5 308.7,-48.1 3.4,1.2"/>
<polygon transform="translate(228.2,248.1)" points="1.4,-0.6 13.3,-4.2 22.4,-5.7 27.3,-7.2 35.7,-10.8 37.8,-12.2 42,-15.6 44.1,-16.5 46.2,-16.1 52.5,-12 53.9,-11.5 56,-11.4 63.7,-12.9 72.8,-13.6 77,-14.3 80.5,-15.2 85.4,-17.1 88.3,-18.3 90.4,-19.6 93.2,-22.2 95.3,-25 97.4,-29.1 98.8,-33.5 100.9,-44.2 105.1,-73.4 106.5,-79.7 107.2,-80.7 107.9,-80 109.3,-74.5 113.5,-47.5 115.6,-38 117,-34.6 118.4,-33 119.8,-32.3 122.6,-31.6 124,-31.7 124.7,-32 127.5,-34.7 128.9,-35.5 130.3,-34.9 133.1,-32.2 133.8,-31.8 135.2,-31.9 136.6,-32.7 141.5,-37.2 143.6,-37.9 145,-37.8 147.1,-36.9 149.9,-34.9 154.8,-30.8 156.2,-30.1 158.3,-29.7 170.2,-30.4 175.1,-30.3 177.2,-30.6 180.7,-32.3 187,-37.5 189.1,-38.5 191.2,-38.4 196.1,-36.3 197.5,-36.4 198.9,-37.6 199.6,-38.7 201,-42 205.2,-58 205.9,-60 206.6,-60.9 207.3,-60.4 208,-58.8 212.2,-45.3 213.6,-43.1 214.3,-42.7 215,-42.7 215.7,-43.3 217.1,-45.7 218.5,-50.1 223.4,-74.6 224.1,-76.4 224.8,-75.1 228.3,-59.2 229.7,-54 231.1,-51 231.8,-50.3 232.5,-50.2 235.3,-50.3 238.1,-49.6 238.8,-49.6 240.2,-50.3 243.7,-54 252.1,-65 254.2,-67.1 255.6,-67.7 257,-67.5 259.1,-65.6 261.2,-62.7 265.5,-55.7 268.3,-52.2 271.8,-49.6 276,-48 278.1,-47.8 279.5,-48.4 284.4,-54 286.5,-55.3 288.6,-55.3 292.8,-53.2 294.2,-53 303.3,-55 307.5,-55.1 308.7,-48.1 2.7,1.3"/>
<polygon transform="translate(229.5,248.5)" points="1.4,-0.7 13.3,-4.3 21.7,-5.4 24.5,-6.1 32.2,-8.8 34.3,-9.7 36.4,-11.1 42,-16.9 43.4,-17.9 44.1,-18.1 44.8,-18.1 46.2,-17.4 50.4,-13.8 52.5,-12.3 53.9,-11.7 55.3,-11.6 63.7,-13.3 72.8,-13.5 77,-14 83.3,-15.8 88.3,-18 91.1,-20.2 93.9,-23.4 96.7,-27.5 98.1,-30.4 99.5,-34.8 100.9,-41.1 105.1,-65 106.5,-69.6 107.2,-70.3 107.9,-69.9 109.3,-66.1 113.5,-44.2 115.6,-36.5 117,-33.7 118.4,-32.3 120.5,-31.5 123.3,-31 125.4,-31.3 128.9,-32.8 130.3,-32.6 133.8,-31.3 135.2,-31.3 136.6,-31.8 141.5,-35 142.9,-35.5 144.3,-35.5 145.7,-35.3 147.8,-34.5 149.9,-33.4 154.1,-30.6 156.9,-29.5 159.7,-29.3 170.2,-30.3 174.4,-30.3 176.5,-30.8 179.3,-32.1 182.1,-34.3 187,-38.8 189.1,-39.9 189.8,-39.9 191.2,-39.6 196.1,-36.7 197.5,-36.7 198.9,-37.8 199.6,-38.9 201,-42.5 205.9,-62.8 206.6,-64.3 207.3,-63.2 210.8,-50.1 212.2,-45.9 213.6,-43.4 214.3,-43 215,-43.1 216.4,-44.7 217.8,-48 219.2,-53.2 222.7,-69.7 223.4,-72.1 224.1,-73.2 224.8,-72.6 225.5,-70.7 229,-57.2 230.4,-54 231.1,-53.5 231.8,-53.6 233.9,-55 234.6,-55.1 235.3,-55 236.7,-53.7 238.8,-51 239.5,-50.4 240.2,-50.2 241.6,-50.8 243,-51.9 249.3,-58.6 252.1,-61.2 254.2,-62.6 256.3,-63.1 258.4,-62.8 260.5,-61.4 265.5,-54.3 268.3,-51.3 271.8,-49.2 276,-47.8 277.4,-47.7 278.8,-48.3 280.2,-49.9 283,-54.2 284.4,-55.7 285.1,-56.1 286.5,-56 290.7,-52.7 292.1,-52.1 292.8,-52.1 294.2,-52.6 297,-54.2 298.4,-54.8 304,-55.7 307.5,-55.6 308.7,-48.1 2.7,1.3"/>
<polygon transform="translate(230.7,248.8)" points="0.7,-0.5 13.3,-4.6 16.1,-5 23.8,-5.7 28,-6.9 32.9,-8.7 35,-9.9 36.4,-11 42.7,-18.7 44.1,-19.6 44.8,-19.5 46.2,-18.5 51.8,-12.9 53.2,-12.1 54.6,-11.7 56.7,-11.9 60.2,-13 63.7,-13.7 72.8,-13.5 77,-13.9 82.6,-15.2 86.8,-17 89.7,-19.1 91.8,-21.4 96.7,-28 98.8,-31.6 100.9,-37.9 105.1,-56.1 106.5,-59.5 107.2,-60.1 107.9,-59.9 109.3,-57.1 113.5,-40.6 114.9,-36.3 116.3,-33.5 117,-32.6 118.4,-31.5 121.2,-30.6 124,-30.5 125.4,-30.8 128.9,-32.5 130.3,-32.7 131.7,-32.5 134.5,-31.4 135.9,-31.2 137.3,-31.4 141.5,-33.1 144.3,-33.5 147.8,-32.7 154.8,-29.5 158.3,-29 166.7,-29.6 173.7,-30.6 176.5,-31.4 180,-33.5 187,-40.1 189.1,-41.4 189.8,-41.4 191.2,-40.8 196.1,-37.2 197.5,-36.9 198.2,-37.2 199.6,-38.8 201,-42.1 205.2,-58.1 205.9,-60.1 206.6,-61 207.3,-60.5 208,-58.9 212.2,-45.6 213.6,-43.5 214.3,-43.2 215,-43.5 216.4,-45.5 217.8,-48.8 222.7,-66.6 223.4,-68.2 224.1,-69 224.8,-68.9 225.5,-68 228.3,-60.4 229.7,-57.7 230.4,-57.3 231.1,-57.7 233.9,-61.5 234.6,-61.7 235.3,-61.4 236.7,-59.3 240.2,-51.1 240.9,-50.4 241.6,-50.3 243.7,-51.4 249.3,-56.1 252.1,-58 254.9,-59.3 259.1,-60.4 260.5,-60.1 261.2,-59.5 265.5,-53.3 267.6,-51.2 272.5,-48.7 276,-47.6 277.4,-47.7 278.8,-48.7 283,-56.1 284.4,-57.9 285.1,-58.3 285.8,-58.2 286.5,-57.7 290.7,-52.4 292.1,-51.8 293.5,-52.5 296.3,-55.3 297.7,-56.2 299.1,-56.3 301.2,-56.1 304.7,-56.3 307.5,-56 308.7,-48.1 2,1.4"/>
<polygon transform="translate(232,249.2)" points="0.7,-0.5 13.3,-4.8 16.1,-5.2 21.7,-5.3 24.5,-5.7 28.7,-6.9 32.9,-8.4 35,-9.6 36.4,-10.8 38.5,-13.4 42.7,-19.3 44.1,-20.5 44.8,-20.3 45.5,-19.7 51.8,-13 53.2,-12.1 54.6,-11.8 56.7,-12 60.2,-13.3 63.7,-14.1 66.5,-14.1 72.1,-13.7 76.3,-13.9 81.2,-14.7 85.4,-16.1 87.6,-17.4 89.7,-19.4 95.3,-27.3 99.5,-32.7 101.6,-37.1 105.1,-47.6 106.5,-50.1 107.2,-50.6 107.9,-50.5 109.3,-48.6 113.5,-37 114.9,-34.1 116.3,-32.1 118.4,-30.6 121.2,-30 124,-30.2 125.4,-31 128.9,-34.4 130.3,-35.1 131.7,-34.7 135.2,-32 137.3,-31.1 138.7,-31.1 142.9,-31.7 145,-31.7 147.8,-31.1 154.8,-28.9 158.3,-28.6 167.4,-29.5 177.2,-32.8 180,-34.6 187,-41.3 189.1,-42.8 190.5,-42.3 196.1,-37.7 197.5,-37.2 198.2,-37.3 199.6,-38.5 201,-41.1 205.2,-53.9 205.9,-55.2 206.6,-55.9 207.3,-55.7 208,-54.8 212.2,-45 212.9,-44.1 213.6,-43.6 214.3,-43.6 215.7,-45.3 217.1,-48.5 222.7,-65.6 224.1,-67.7 224.8,-67.9 225.5,-67.5 226.2,-66.7 228.3,-63 229,-62 229.7,-61.6 230.4,-62 231.1,-63.1 233.2,-68 233.9,-69 234.6,-69.3 235.3,-68.9 236.7,-65.7 240.2,-53.1 240.9,-51.4 241.6,-50.3 242.3,-49.9 243.7,-50.3 250.7,-54.7 256.3,-57.1 259.8,-59.5 260.5,-59.5 261.2,-58.8 264.1,-54.5 266.2,-52.2 273.9,-48.3 276,-47.6 277.4,-47.7 278.8,-49.1 283.7,-59.2 284.4,-60.2 285.1,-60.6 285.8,-60.4 286.5,-59.6 290,-53.5 291.4,-52.1 292.1,-52 292.8,-52.4 296.3,-57.6 297.7,-58.6 299.1,-58.4 301.9,-56.8 304.7,-56.7 307.5,-56.2 308.7,-48.1 2,1.4"/>
<polygon transform="translate(233.2,249.5)" points="0.7,-0.6 14,-5.2 16.1,-5.5 21.7,-5.3 24.5,-5.6 28,-6.4 32.9,-8.2 35,-9.4 36.4,-10.6 42,-17.8 43.4,-19.2 44.1,-19.5 44.8,-19.5 46.2,-18.5 51.8,-12.9 53.2,-12.1 54.6,-11.7 56.7,-12.1 61.6,-14 63.7,-14.5 65.8,-14.5 72.1,-14 76.3,-14.1 80.5,-14.6 84,-15.5 86.8,-16.9 89,-18.9 91.1,-21.9 96,-30 97.4,-31.7 101.6,-35.3 105.8,-41.6 107.2,-42.6 107.9,-42.5 109.3,-41.3 113.5,-34 115.6,-31.4 117.7,-29.9 120.5,-29.3 122.6,-29.5 124,-30.4 124.7,-31.1 126.1,-33.1 128.9,-38.6 129.6,-39.5 130.3,-40 131,-39.8 131.7,-39.2 135.2,-33.7 136.6,-32 138,-31 140.1,-30.4 146.4,-30.1 153.4,-28.5 156.2,-28.2 164.6,-28.9 166.7,-29.3 168.8,-30.1 173.7,-32.8 177.9,-34.4 179.3,-35.2 186.3,-41.9 187.7,-43 189.1,-43.5 189.8,-43.4 191.2,-42.6 195.4,-38.8 196.8,-37.8 198.2,-37.4 198.9,-37.6 199.6,-38.1 201,-39.9 205.2,-49.2 206.6,-50.8 207.3,-50.9 208.7,-49.7 212.2,-44.6 212.9,-44.1 213.6,-44 214.3,-44.4 215,-45.3 216.4,-48.5 221.3,-64.2 223.4,-69.3 224.1,-70.2 224.8,-70.6 225.5,-70.6 226.2,-70.1 229,-66.4 229.7,-66.2 230.4,-66.9 231.1,-68.5 233.2,-75.3 233.9,-76.8 234.6,-77.3 235.3,-76.6 236.7,-71.9 239.5,-58.3 240.9,-52.7 241.6,-50.8 242.3,-49.7 243,-49.4 244.4,-49.6 250,-52.3 254.9,-54.1 257,-55.6 259.8,-58.4 260.5,-58.5 264.8,-53.4 266.2,-52.8 269,-52.5 270.4,-51.7 274.6,-48.2 276,-47.7 277.4,-47.8 278.1,-48.4 279.5,-50.6 283.7,-60.5 284.4,-61.9 285.1,-62.6 285.8,-62.1 286.5,-60.9 290,-53.9 291.4,-52.3 292.1,-52.4 292.8,-53.2 296.3,-60.5 297,-61.3 297.7,-61.7 298.4,-61.6 299.1,-61 301.2,-58.2 302.6,-57 307.5,-56.1 308.7,-48.1 2,1.4"/>
<polygon transform="translate(234.5,249.9)" points="0,-0.4 4.9,-1.9 14,-5.4 16.1,-5.7 21.7,-5.3 24.5,-5.5 28,-6.2 32.2,-7.7 34.3,-8.6 35.7,-9.6 37.8,-11.7 42,-16.6 43.4,-17.7 44.1,-17.9 44.8,-17.9 46.2,-17.3 51.8,-12.6 53.2,-11.9 54.6,-11.7 56.7,-12.1 61.6,-14.3 63.7,-14.9 70.7,-14.5 78.4,-14.6 81.2,-14.8 84,-15.5 86.1,-16.5 88.3,-18.4 90.4,-21.5 96.7,-33.2 98.1,-34.8 100.2,-36 103.7,-35.7 106.5,-36.5 107.9,-36.5 110,-35.2 113.5,-31.6 116.3,-29.5 119.1,-28.6 120.5,-28.6 121.9,-28.9 123.3,-29.9 124,-30.8 125.4,-33.5 128.9,-45.5 129.6,-47.2 130.3,-47.9 131,-47.5 131.7,-46.2 134.5,-37.8 136.6,-33.6 138,-31.7 139.4,-30.4 140.8,-29.7 142.2,-29.4 155.5,-27.8 160.4,-28.1 166,-29 168.8,-30.4 174.4,-34.5 177.9,-35.5 179.3,-36.2 181.4,-38.1 185.6,-42.5 187,-43.5 188.4,-44.1 189.8,-44 191.2,-43.1 196.8,-38.2 198.2,-37.7 199.6,-37.9 201.7,-39.8 205.9,-46.1 207.3,-47.1 208,-47.2 209.4,-46.9 212.9,-44.7 213.6,-44.7 214.3,-45.3 215,-46.5 216.4,-50.3 221.3,-68 223.4,-74 224.1,-75.1 224.8,-75.7 225.5,-75.8 226.9,-74.2 229,-70.7 229.7,-70.4 230.4,-71 231.8,-75.2 233.9,-84 234.6,-85 235.3,-83.6 236,-80.6 239.5,-60.4 240.9,-53.8 242.3,-49.7 243,-48.9 244.4,-48.7 254.2,-51.9 256.3,-53.3 259.1,-56.2 259.8,-56.7 260.5,-56.8 261.2,-56.5 263.4,-54.4 264.8,-53.9 265.5,-54.1 267.6,-55.8 268.3,-56 269,-55.8 270.4,-54.3 273.2,-50.3 274.6,-48.8 276,-47.9 277.4,-47.8 278.1,-48.4 279.5,-50.6 283.7,-60.5 284.4,-61.9 285.1,-62.6 285.8,-62.1 286.5,-60.9 290,-53.8 290.7,-52.9 291.4,-52.5 292.1,-52.9 292.8,-54.1 296.3,-63.7 297,-64.8 297.7,-65.2 298.4,-64.9 299.1,-64 301.2,-59.5 302.6,-57.1 304,-56.3 307.5,-55.8 308.7,-48.1 1.3,1.5"/>
<polygon transform="translate(235.8,250.2)" points="0,-0.4 4.9,-1.9 14,-5.6 16.1,-5.9 21.7,-5.4 24.5,-5.4 27.3,-5.9 30.8,-7 33.6,-8 35.7,-9.2 42,-15.2 44.1,-16.2 46.2,-15.8 51.1,-12.5 52.5,-11.8 53.9,-11.5 56.7,-12.1 61.6,-14.5 63.7,-15.3 80.5,-15 82.6,-15.2 84.7,-15.8 86.8,-17.1 89,-19.6 91.8,-24.7 97.4,-37.1 98.8,-39 100.2,-39.8 100.9,-39.7 101.6,-39.2 105.1,-34.2 106.5,-33.1 110,-31.7 114.2,-29.3 116.3,-28.4 119.1,-27.8 121.2,-28.2 122.6,-29.2 123.3,-30.1 124.7,-33.1 125.4,-35.3 128.9,-54 129.6,-56.6 130.3,-57.7 131,-57.1 131.7,-54.9 134.5,-42.1 136.6,-35.8 138,-32.9 139.4,-30.9 140.8,-29.6 142.9,-28.6 150.6,-27.6 155.5,-27.4 161.8,-28.1 166,-29 168.8,-30.7 174.4,-35.7 175.8,-36.3 177.9,-36.4 179.3,-37 181.4,-38.9 185.6,-43.6 187.7,-44.9 189.1,-44.9 190.5,-44.2 195.4,-39.7 197.5,-38.3 198.9,-37.9 200.3,-38.2 201.7,-39 203.1,-40.3 207.3,-45.3 208.7,-46.6 210.1,-47 212.9,-45.6 213.6,-45.6 214.3,-46.3 215,-47.6 216.4,-51.7 222,-74.3 224.1,-80.7 224.8,-81.5 225.5,-81.5 226.9,-79.2 229,-74.3 229.7,-73.5 230.4,-73.6 231.1,-74.9 231.8,-77.2 233.9,-87.2 234.6,-88.7 235.3,-86.6 239.5,-61 240.9,-54 242.3,-49.5 243,-48.5 243.7,-48 245.1,-48.1 254.2,-50.4 255.6,-51.2 258.4,-53.9 259.8,-54.9 261.2,-54.9 263.4,-54.1 264.1,-54.4 264.8,-55.2 267.6,-61.2 268.3,-61.7 269,-61.3 269.7,-60.1 272.5,-53 273.9,-50.5 275.3,-48.7 276.7,-47.9 277.4,-47.9 278.1,-48.3 278.8,-49.1 283.7,-59.1 284.4,-60.2 285.1,-60.6 285.8,-60.4 286.5,-59.5 290,-53.4 290.7,-52.6 291.4,-52.5 292.1,-53.4 292.8,-55.1 296.3,-67.1 297,-68.5 297.7,-69 298.4,-68.5 299.1,-67.2 301.9,-59 303.3,-56.4 304.7,-55.6 307.5,-55.4 308.7,-48.1 1.3,1.5"/>
<polygon transform="translate(237,250.6)" points="0,-0.4 4.9,-1.9 14.7,-5.9 23.8,-5.3 26.6,-5.6 30.8,-6.8 35.7,-8.7 41.3,-13.1 42.7,-14 44.1,-14.5 46.2,-14.3 51.1,-11.9 52.5,-11.4 53.9,-11.3 56.7,-12.1 62.3,-15.1 63.7,-15.6 68.6,-15.5 74.2,-15.9 81.2,-15.4 83.3,-15.5 85.4,-16.2 87.6,-17.9 90.4,-22.2 93.9,-30.2 97.4,-40.2 98.8,-42.9 100.2,-44.5 100.9,-44.5 101.6,-43.8 102.3,-42.5 105.1,-34.5 105.8,-32.8 107.2,-30.8 109.3,-29.7 115.6,-27.6 119.1,-27.2 121.2,-27.7 122.6,-29 123.3,-30.2 124.7,-33.9 125.4,-36.8 126.8,-45.6 128.9,-61.8 129.6,-66.1 130.3,-68 131,-66.8 134.5,-47.5 137.3,-36.7 138.7,-33 140.1,-30.6 141.5,-29.1 142.9,-28.2 144.3,-27.7 147.1,-27.3 154.8,-27.1 161.1,-27.8 166,-29.1 168.8,-30.8 174.4,-35.9 175.8,-36.4 177.9,-36.6 179.3,-37.4 181.4,-39.4 185.6,-44.6 187,-45.8 187.7,-46 188.4,-45.9 189.8,-45.1 194.7,-40.6 196.8,-39 198.9,-38.3 201,-38.7 203.1,-39.8 204.5,-41.1 208,-46.5 209.4,-48.2 210.1,-48.4 210.8,-48.1 212.9,-46.5 213.6,-46.4 214.3,-47 215,-48.3 216.4,-52.5 217.8,-57.9 223.4,-82.7 224.1,-85.1 224.8,-86.4 225.5,-86.2 226.2,-84.9 229,-76.8 229.7,-75.4 230.4,-74.7 231.1,-75 231.8,-76.4 233.9,-82.7 234.6,-83.3 235.3,-82 236.7,-75.7 239.5,-59.8 240.9,-53.2 242.3,-49 243,-47.9 243.7,-47.4 245.1,-47.4 249.3,-48.4 254.2,-49.1 255.6,-49.9 259.1,-52.8 260.5,-53.3 262.7,-53.6 263.4,-54.1 264.1,-55.4 264.8,-57.4 266.9,-66.2 267.6,-68.3 268.3,-69.1 269,-68.4 269.7,-66.4 271.8,-57.4 273.2,-53 274.6,-50.2 276,-48.5 277.4,-47.9 278.1,-48.1 278.8,-48.7 280.2,-50.9 283,-56.1 284.4,-57.9 285.1,-58.2 285.8,-58.1 286.5,-57.6 290,-52.7 290.7,-52.2 291.4,-52.5 292.8,-56 296.3,-70.1 297,-72.1 297.7,-72.8 298.4,-72 299.1,-70 301.9,-59.8 303.3,-56.3 304,-55.4 304.7,-55.1 307.5,-54.9 308.7,-48.1 1.3,1.5"/>
<polygon transform="translate(238.3,250.9)" points="0,-0.4 4.9,-1.9 14.7,-5.9 23.8,-5.3 26.6,-5.6 30.1,-6.4 35.7,-8.3 41.3,-11.8 44.1,-12.8 46.2,-12.8 51.1,-11.3 53.2,-11.1 54.6,-11.3 56.7,-12.1 63.7,-15.9 67.9,-15.9 73.5,-16.8 81.2,-15.7 83.3,-15.8 85.4,-16.3 86.8,-17.2 88.3,-18.7 91.1,-23.7 94.6,-32.3 98.8,-45.8 100.2,-49.2 100.9,-49.6 101.6,-48.7 102.3,-46.6 105.8,-33.1 106.5,-31.2 107.9,-29 110,-28 116.3,-26.9 119.1,-26.7 121.2,-27.3 122.6,-28.8 123.3,-30.1 124.7,-34.1 125.4,-37.4 126.8,-46.9 129.6,-71.5 130.3,-75.1 131,-72.7 133.1,-60.2 136.6,-42.9 138.7,-34.3 140.1,-31.1 142.2,-28.5 144.3,-27.4 147.1,-26.8 152,-26.7 156.9,-27 162.5,-28 166.7,-29.4 168.8,-30.6 173.7,-34.3 177.9,-36.3 179.3,-37.2 181.4,-39.5 185.6,-44.8 187,-46.1 187.7,-46.3 189.1,-45.7 196.1,-39.7 197.5,-39 198.9,-38.9 202.4,-39.7 204.5,-41.2 205.9,-43.1 209.4,-49.5 210.1,-49.8 212.9,-47.1 213.6,-47 214.3,-47.6 215.7,-50.5 217.1,-55.2 223.4,-82.3 224.8,-86.3 225.5,-86.5 226.9,-84.2 229.7,-76.8 231.1,-74.2 231.8,-73.9 233.9,-75.7 234.6,-75.7 235.3,-74.7 236.7,-70.3 240.9,-51.6 242.3,-48.1 243,-47.2 243.7,-46.8 245.1,-46.8 250,-47.9 254.2,-48.1 255.6,-48.7 259.1,-51.2 261.9,-52.3 262.7,-53 263.4,-54.3 264.1,-56.4 267.6,-75.6 268.3,-77.1 269,-75.8 271.8,-59.9 273.2,-54.1 274.6,-50.7 275.3,-49.6 276.7,-48.2 278.1,-48 278.8,-48.4 280.2,-50 283,-54.2 284.4,-55.5 285.1,-55.8 286.5,-55.4 290,-51.8 290.7,-51.6 291.4,-52.3 292.8,-56.4 297,-75 297.7,-76.1 298.4,-74.6 301.9,-60.2 303.3,-56.1 304,-55 304.7,-54.5 307.5,-54.3 308.7,-48.1 1.3,1.5"/>
<polygon transform="translate(239.5,251.3)" points="0,-0.4 4.9,-1.9 12.6,-5.1 14.7,-5.7 23.1,-5.2 25.9,-5.4 29.4,-6.1 34.3,-7.4 42,-10.9 44.1,-11.4 46.2,-11.5 51.8,-10.8 53.9,-11 56.7,-12.1 63,-15.6 67.9,-16.3 72.1,-17.6 74.2,-17.6 79.1,-16.4 81.9,-16 84,-16.1 86.1,-16.7 87.6,-17.8 89.7,-20.7 93.2,-28 95.3,-33.8 100.2,-51.7 100.9,-52.9 101.6,-51.4 105.8,-33.1 106.5,-31 107.9,-28.4 109.3,-27.4 110.7,-27.2 119.1,-26.5 121.2,-27 122.6,-28.4 123.3,-29.7 124.7,-33.5 125.4,-36.5 126.8,-45.3 128.9,-61.8 129.6,-66.3 130.3,-68.8 131,-68.5 133.8,-62 134.5,-59.1 138,-38.4 139.4,-33.2 140.8,-30.3 142.9,-28 145,-26.9 147.8,-26.4 152.7,-26.4 157.6,-26.9 163.2,-28.3 168.1,-30.1 177.9,-35.6 180,-37.5 184.9,-43.3 187,-45 187.7,-45.1 189.1,-44.8 194,-41.1 196.1,-39.9 197.5,-39.5 198.9,-39.5 203.1,-40.7 204.5,-41.5 205.9,-43.2 209.4,-49.3 210.1,-49.6 212.2,-47.9 212.9,-47.6 213.6,-47.7 215,-49.5 216.4,-52.8 218.5,-59.8 223.4,-78.6 224.8,-82.3 225.5,-83.4 226.2,-83.9 226.9,-84 227.6,-83.6 228.3,-82.5 231.8,-71.7 232.5,-70.3 234.6,-68.3 236,-65.8 240.9,-49.6 241.6,-48.1 243,-46.4 243.7,-46.2 245.1,-46.2 250,-47.6 253.5,-47.2 254.9,-47.4 260.5,-50.3 261.9,-51.4 263.4,-54.1 264.1,-56.7 265.5,-64.8 267.6,-79.8 268.3,-82.6 269,-79.9 272.5,-57.2 273.2,-54.5 274.6,-51 275.3,-49.8 276.7,-48.4 278.1,-48 279.5,-48.5 283,-52.2 284.4,-53.3 285.1,-53.5 286.5,-53.3 290,-50.8 290.7,-51 291.4,-52.1 292.8,-56.4 296.3,-72.4 297,-75.3 297.7,-76.5 298.4,-74.9 301.9,-60.1 303.3,-55.8 304,-54.6 304.7,-54 307.5,-53.7 308.7,-48.1 1.3,1.5"/>
<polygon transform="translate(240.8,251.6)" points="0,-0.4 4.2,-1.6 12.6,-4.9 14.7,-5.5 16.8,-5.6 23.1,-5.2 26.6,-5.4 34.3,-7.2 43.4,-10.2 45.5,-10.5 51.1,-10.4 53.2,-10.7 56.7,-12 63,-15.4 67.9,-16.5 72.1,-18.5 74.2,-18.4 78.4,-17 81.2,-16.4 84,-16.3 86.1,-16.8 87.6,-17.7 89.7,-20.3 93.2,-27 96,-34.4 99.5,-46.5 100.2,-48.3 100.9,-49 101.6,-48.1 102.3,-46 105.8,-32.3 106.5,-30.3 107.9,-28 109.3,-27.4 114.2,-27.6 119.1,-26.7 121.2,-26.8 122.6,-27.9 123.3,-29 124.7,-32.2 126.1,-37.7 129.6,-57.3 130.3,-59.5 132.4,-62.7 133.1,-64.4 133.8,-65.3 134.5,-62.1 137.3,-43.1 138.7,-35.9 139.4,-33.5 140.1,-31.7 141.5,-29.3 142.9,-27.9 145,-26.8 147.1,-26.3 149.9,-26.1 153.4,-26.2 156.9,-26.7 161.8,-28 173,-32 175.8,-33.3 177.9,-34.8 184.2,-41.4 185.6,-42.6 187,-43.3 189.1,-43.3 194,-40.9 196.1,-40.3 198.2,-40.4 203.8,-41.6 205.2,-42.3 205.9,-43 209.4,-47.9 210.1,-48.2 212.2,-48.2 212.9,-48.5 215,-51.6 217.8,-57 219.2,-60.5 225.5,-80.3 226.9,-84 227.6,-85.2 228.3,-85.3 229,-83.7 231.8,-70.3 233.2,-65 236.7,-57.7 240.2,-48.9 241.6,-46.7 243,-45.7 245.1,-45.7 250,-47.4 253.5,-46.6 255.6,-46.7 260.5,-49 261.9,-50.4 263.4,-53.3 264.1,-55.8 266.9,-72.1 267.6,-75.6 268.3,-77.1 269,-75.7 271.8,-59.9 273.2,-54.1 274.6,-50.8 275.3,-49.8 276.7,-48.5 278.1,-48 279.5,-48.2 280.9,-48.9 283.7,-51 285.1,-51.4 286.5,-51.3 289.3,-50.1 290,-50 290.7,-50.5 291.4,-51.6 292.8,-55.9 296.3,-70.6 297,-72.7 297.7,-73.4 298.4,-72.5 299.1,-70.4 301.9,-59.4 303.3,-55.3 304,-54.1 304.7,-53.4 305.4,-53.2 307.5,-53.3 308.7,-48.1 1.3,1.5"/>
<polygon transform="translate(242,252)" points="0,-0.4 4.2,-1.6 11.9,-4.5 14.7,-5.3 16.8,-5.5 23.1,-5.1 26.6,-5.3 32.9,-6.6 43.4,-9.5 52.5,-10.4 56,-11.7 63,-15.1 67.9,-16.7 72.1,-19.1 73.5,-19.1 78.4,-17.3 81.2,-16.7 84.7,-16.6 86.8,-17.2 88.3,-18.1 89.7,-19.7 92.5,-24.4 95.3,-30.3 99.5,-41.7 100.2,-42.8 100.9,-43.2 101.6,-42.6 102.3,-41.3 105.8,-30.9 107.2,-28.6 107.9,-28.1 108.6,-28 112.1,-29.1 113.5,-29.2 115.6,-28.7 119.8,-27.1 121.2,-26.9 121.9,-27.1 123.3,-28.2 124,-29.3 125.4,-32.4 130.3,-50.8 133.1,-58.8 133.8,-59.3 134.5,-57.7 138,-38.6 139.4,-33.5 140.8,-30.4 142.2,-28.4 143.6,-27.3 145.7,-26.4 150.6,-26 156.2,-26.5 160.4,-27.6 168.8,-30.8 175.1,-32.3 177.9,-34.1 184.2,-40 187,-41.6 189.1,-41.8 193.3,-41.1 196.8,-41.8 201.7,-42.4 205.2,-42.4 206.6,-43.3 208.7,-45.6 211.5,-48.1 212.9,-50.5 215.7,-57 217.1,-58.5 219.2,-59.5 220.6,-61.4 222,-64.7 223.4,-68.9 227.6,-85.8 228.3,-87.1 229,-85 232.5,-65 233.9,-59 235.3,-55.3 238.8,-48.9 240.9,-46.2 242.3,-45.3 243.7,-45.1 245.1,-45.2 250,-46.7 254.2,-45.9 255.6,-45.9 259.1,-47.1 261.2,-48.4 262.7,-50.5 264.1,-54 266.9,-66 267.6,-68.2 268.3,-69 269,-68.3 269.7,-66.3 271.8,-57.4 273.2,-53 274.6,-50.4 275.3,-49.5 276.7,-48.5 279.5,-48.2 285.1,-49.8 289.3,-49.3 290,-49.4 290.7,-50 291.4,-51.1 292.8,-54.9 296.3,-67.5 297,-69.1 297.7,-69.6 298.4,-69 299.1,-67.5 301.9,-58.3 303.3,-54.6 304,-53.6 304.7,-53.1 307.5,-53.1 308.7,-48.1 1.3,1.5"/>
<polygon transform="translate(243.3,252.3)" points="0,-0.5 4.2,-1.6 14.7,-5.2 16.8,-5.4 22.4,-5 26.6,-5.2 32.2,-6.3 42.7,-8.8 51.8,-10.2 55.3,-11.4 62.3,-14.6 67.2,-16.4 72.1,-18.8 73.5,-18.9 80.5,-17.1 84.7,-16.9 86.8,-17.2 89,-18.5 91.8,-22 95.3,-28.4 98.8,-36 100.2,-37.8 100.9,-37.9 101.6,-37.5 102.3,-36.6 105.1,-30.9 106.5,-29 107.2,-28.8 107.9,-28.9 111.4,-31.5 112.8,-31.8 114.9,-31.1 120.5,-27.5 121.9,-27.2 122.6,-27.2 124,-28.2 126.1,-31.9 132.4,-50.4 133.1,-51.8 133.8,-52.2 134.5,-51.4 135.2,-49.5 138.7,-35.7 140.8,-30.6 142.2,-28.5 143.6,-27.2 145,-26.6 147.1,-26.2 152,-26 156.2,-26.4 160.4,-27.7 168.8,-31.3 170.9,-31.8 175.1,-32.2 176.5,-32.6 178.6,-33.9 184.9,-38.9 187,-39.9 191.9,-40.8 193.3,-41.8 195.4,-44 196.8,-44.9 198.2,-44.8 205.2,-42.4 206.6,-42.7 209.4,-45 210.8,-47.1 212.2,-50.9 215,-60.8 215.7,-62.4 216.4,-63.3 217.1,-63.3 217.8,-62.5 219.9,-59.3 220.6,-59 221.3,-59.3 222,-60.2 224.1,-66.2 226.9,-77.9 227.6,-80.1 228.3,-80.8 229,-79.7 229.7,-77 233.2,-58.9 234.6,-53.7 236,-50.6 237.4,-48.4 239.5,-46.1 241.6,-45 244.4,-44.6 250,-45.9 255.6,-45.3 258.4,-45.9 260.5,-46.8 261.9,-48.2 263.4,-50.5 266.9,-59.6 267.6,-60.9 268.3,-61.5 269,-61.1 269.7,-59.9 271.8,-54.6 273.2,-51.7 275.3,-49.2 276.7,-48.6 278.8,-48.4 285.1,-48.9 288.6,-48.8 290,-49 291.4,-50.5 292.1,-51.9 295.6,-62.4 297,-65.2 297.7,-65.6 298.4,-65.3 299.1,-64.2 301.9,-56.8 303.3,-54 304,-53.4 304.7,-53.3 307.5,-53.6 308.7,-48.1 1.3,1.5"/>
<polygon transform="translate(244.6,252.6)" points="0,-0.5 4.9,-1.7 15.4,-5.3 17.5,-5.3 22.4,-4.9 26.6,-5.1 42,-8.3 50.4,-9.8 53.9,-10.9 72.1,-18.3 74.2,-18.4 81.2,-17.3 85.4,-17.1 87.6,-17.5 89.7,-18.8 91.8,-21.2 94.6,-25.8 98.8,-33.9 100.2,-35.2 100.9,-35.2 101.6,-34.8 105.1,-30 105.8,-29.5 106.5,-29.5 107.9,-30.6 110,-34 111.4,-35.8 112.1,-36.2 112.8,-36.2 114.2,-35.2 117,-31.6 119.1,-29.4 121.2,-27.9 122.6,-27.3 123.3,-27.3 124.7,-28.2 126.1,-30.2 128.2,-35.1 132.4,-46.7 133.1,-47.9 133.8,-48.3 134.5,-47.9 135.2,-46.8 139.4,-34.7 141.5,-30 142.9,-28 145,-26.7 150.6,-26 155.5,-26.3 159.7,-27.6 166.7,-31 169.5,-32.1 171.6,-32.5 175.8,-32.4 177.2,-32.7 179.3,-33.6 184.9,-37.4 190.5,-39.6 191.9,-41.1 192.6,-42.3 195.4,-48.1 196.1,-49.1 196.8,-49.5 197.5,-49.5 198.2,-49 201,-45.6 204.5,-42.8 205.9,-42.2 206.6,-42.1 208,-42.7 209.4,-44.1 210.8,-47.2 212.2,-52.5 215,-65.6 215.7,-68 216.4,-69.2 217.1,-68.6 217.8,-66.8 220.6,-57.7 221.3,-56.6 222,-56.4 222.7,-57.1 223.4,-58.6 226.9,-70.3 227.6,-71.7 228.3,-72.2 229,-71.6 229.7,-69.9 233.2,-55.8 235.3,-49.8 236.7,-47.6 238.1,-46.2 240.2,-44.9 242.3,-44.3 245.1,-44.2 250,-45.1 256.3,-44.7 259.8,-45.6 261.2,-46.5 262.7,-47.9 266.9,-54.5 267.6,-55.2 268.3,-55.6 269,-55.4 269.7,-54.9 273.2,-50.4 275.3,-48.9 276.7,-48.7 281.6,-48.7 287.9,-48.7 290,-48.9 291.4,-49.9 292.1,-50.9 295.6,-59.3 297,-61.5 297.7,-61.8 298.4,-61.6 299.1,-60.8 302.6,-54.4 303.3,-54 304,-53.9 307.5,-54.7 308.7,-48.1 1.3,1.5"/>
<polygon transform="translate(245.8,253)" points="0,-0.6 7,-2.3 15.4,-5.3 16.8,-5.5 21.7,-4.8 26.6,-5.1 49,-9.4 52.5,-10.4 69.3,-17.2 72.1,-18 74.2,-18.1 85.4,-17.4 88.3,-17.8 90.4,-19.2 93.2,-22.8 95.3,-26.9 98.1,-34 99.5,-36.4 100.2,-36.8 100.9,-36.7 101.6,-36 104.4,-31.4 105.1,-30.6 105.8,-30.4 106.5,-30.8 107.2,-31.8 110.7,-40.6 111.4,-41.7 112.1,-42.3 112.8,-42.1 113.5,-41.4 117,-33.9 119.1,-30.7 121.9,-28 123.3,-27.4 124,-27.3 124.7,-27.7 125.4,-28.4 126.8,-31 131.7,-45.5 133.1,-48.4 133.8,-49 134.5,-48.8 135.9,-46.4 140.8,-32.3 142.9,-28.4 143.6,-27.7 145,-27 149.9,-26.3 154.1,-26.1 157.6,-26.9 160.4,-28.1 167.4,-32.2 170.2,-33.1 172.3,-33.3 176.5,-32.6 178.6,-32.7 188.4,-37.5 189.8,-38.5 191.2,-40.6 195.4,-53 196.1,-54.3 196.8,-54.9 197.5,-54.7 198.2,-53.7 201,-47.3 202.4,-45.1 203.8,-43.4 205.2,-42.2 206.6,-41.6 207.3,-41.6 208.7,-42.4 209.4,-43.4 210.8,-47.1 212.2,-53 215.7,-71.2 216.4,-73 217.1,-71.6 220.6,-56.7 221.3,-54.6 222,-53.4 222.7,-53.3 223.4,-54 226.9,-62.4 227.6,-63.4 228.3,-63.7 229,-63.4 229.7,-62.4 233.2,-52.5 235.3,-48.2 236.7,-46.5 238.1,-45.4 240.2,-44.4 242.3,-43.8 245.1,-43.7 250.7,-44.4 255.6,-44.2 259.1,-44.8 261.9,-46.2 266.2,-50.5 267.6,-51.6 268.3,-51.8 269.7,-51.6 273.2,-49.4 274.6,-49 288.6,-49.1 290.7,-49.3 292.1,-50.2 296.3,-57.3 297,-58 297.7,-58.3 298.4,-58.2 299.1,-57.7 301.2,-55.1 301.9,-54.5 302.6,-54.3 306.1,-55.9 307.5,-56.1 308.7,-48.1 1.3,1.5"/>
<polygon transform="translate(247.1,253.3)" points="0,-0.7 9.1,-2.9 15.4,-5.5 16.8,-5.6 21.7,-4.7 25.2,-4.9 47.6,-9 51.1,-10 68.6,-16.9 71.4,-17.8 81.9,-17.9 86.1,-17.6 87.6,-17.8 89,-18.2 90.4,-19.2 91.8,-20.7 93.9,-24.2 95.3,-27.9 98.8,-39.2 99.5,-40.6 100.2,-41.2 100.9,-40.9 101.6,-39.9 104.4,-33.1 105.1,-32.1 105.8,-31.9 106.5,-32.5 107.9,-36.3 110.7,-46.8 111.4,-48.4 112.1,-49.2 112.8,-48.9 113.5,-47.6 117,-36.4 118.4,-33.1 119.8,-31 121.2,-29.3 122.6,-28.1 124,-27.4 124.7,-27.6 125.4,-28.2 126.8,-31 132.4,-49.8 133.1,-51.5 133.8,-52.4 134.5,-52.2 135.2,-50.9 140.1,-35.2 142.2,-30 142.9,-29 144.3,-28 151.3,-26.4 154.8,-26.3 157.6,-27 160.4,-28.4 166,-32.5 169.5,-34 172.3,-34.1 177.9,-32.6 180,-32.6 182.1,-33.3 185.6,-34.9 188.4,-36.6 189.8,-38.2 191.2,-41.2 195.4,-57.4 196.1,-59.5 196.8,-60.4 197.5,-59.8 198.2,-58.1 201,-48.7 202.4,-45.3 203.8,-43.2 205.2,-41.9 206.6,-41.2 208,-41.2 209.4,-42.7 210.8,-46.2 215,-65.2 215.7,-67.6 216.4,-68.7 217.1,-68 217.8,-66.1 221.3,-52.6 222,-51 222.7,-50.2 223.4,-50.2 224.1,-50.9 226.2,-54.2 227.6,-55.9 228.3,-56.2 229,-56.1 230.4,-54.5 233.9,-48.4 236,-46 238.8,-44.3 243,-43.3 245.1,-43.2 250,-43.7 255.6,-43.8 259.1,-44.3 261.9,-45.5 266.2,-48.5 268.3,-49.4 269.7,-49.4 273.9,-48.9 285.1,-50 291.4,-49.8 292.8,-50.5 295.6,-53.8 297,-55.1 298.4,-55.3 300.5,-54.4 301.9,-54.3 305.4,-56.9 306.8,-57.5 307.5,-57.5 308.7,-48.1 1.3,1.5"/>
<polygon transform="translate(248.3,253.7)" points="0,-0.8 9.8,-3 11.9,-3.9 14.7,-5.5 16.1,-5.9 21,-4.7 24.5,-4.7 30.1,-5.6 38.5,-7.5 46.9,-8.8 50.4,-9.9 57.4,-12.8 63,-14.6 68.6,-17.1 70.7,-17.8 72.8,-18 77.7,-17.8 81.9,-18.3 86.1,-17.9 89,-18.5 90.4,-19.4 91.8,-20.8 93.9,-24.6 95.3,-29 98.8,-43.4 99.5,-45.5 100.2,-46.4 100.9,-45.8 101.6,-44 104.4,-34.9 105.1,-33.6 105.8,-33.2 106.5,-34 107.9,-38.7 110.7,-52.4 111.4,-55 112.1,-56.1 112.8,-55.4 113.5,-53.3 116.3,-41.3 118.4,-34.6 120.5,-31 123.3,-28.1 124,-27.7 124.7,-27.8 125.4,-28.3 126.8,-31 128.9,-37.8 132.4,-51.2 133.1,-53.5 133.8,-54.9 134.5,-54.4 135.2,-52.6 140.1,-35.5 142.2,-30.6 143.6,-29.4 146.4,-28.6 149.9,-27.1 152,-26.5 154.1,-26.3 156.2,-26.6 158.3,-27.5 160.4,-29 165.3,-33.3 166.7,-34.2 168.8,-35.1 170.2,-35.3 172.3,-35.1 178.6,-32.6 180.7,-32.3 182.1,-32.5 184.2,-33.3 187.7,-35.3 189.8,-37.9 191.2,-41.4 192.6,-46.6 196.1,-62.4 196.8,-63.9 197.5,-62.7 201,-49 202.4,-45 203.1,-43.7 204.5,-42 205.9,-41 207.3,-40.6 208.7,-41 210.1,-43.1 211.5,-47 215,-59.9 215.7,-61.5 216.4,-62.2 217.1,-61.9 217.8,-60.7 221.3,-50.3 222.7,-47.9 223.4,-47.6 224.1,-47.7 227.6,-50.3 229,-50.5 230.4,-49.7 233.9,-46.4 236.7,-44.5 240.2,-43.4 244.4,-42.8 254.9,-43.4 258.4,-43.8 261.9,-45 267.6,-47.7 280.2,-50.1 284.4,-51.2 286.5,-51.3 291.4,-50.3 292.8,-50.4 297,-52.9 299.8,-53.4 301.2,-53.9 306.1,-58.4 306.8,-58.7 307.5,-58.7 308.7,-48.1 1.3,1.5"/>
<polygon transform="translate(249.6,254)" points="0,-1 9.8,-2.9 11.9,-3.8 15.4,-6.1 16.1,-6.2 20.3,-4.8 23.1,-4.6 30.1,-5.7 38.5,-8.1 46.9,-8.8 50.4,-10 57.4,-13.1 63.7,-15 68.6,-17.3 70.7,-18 72.1,-18.2 77,-17.8 81.9,-18.5 86.1,-18.3 88.3,-18.7 89.7,-19.3 91.8,-21.1 93.2,-23.3 93.9,-24.9 96,-32.3 99.5,-48.3 100.2,-49.9 100.9,-48.7 104.4,-35.7 105.1,-34.2 105.8,-33.8 106.5,-34.7 107.9,-39.7 111.4,-58.7 112.1,-60.7 112.8,-59.3 116.3,-43 117.7,-38 119.8,-33.3 121.9,-30.3 123.3,-28.8 124.7,-28.2 125.4,-28.5 126.8,-30.8 128.2,-34.7 132.4,-49.2 133.1,-50.9 133.8,-51.9 134.5,-51.6 135.2,-50.4 139.4,-37.1 140.8,-33.4 141.5,-32.1 142.2,-31.5 144.3,-31.4 145.7,-30.9 148.5,-28.7 150.6,-27.3 152,-26.8 154.1,-26.5 156.2,-26.7 158.3,-27.8 160.4,-29.6 165.3,-34.8 166.7,-35.8 168.1,-36.3 170.2,-36.6 171.6,-36.3 173.7,-35.5 179.3,-32.6 181.4,-32.1 184.2,-32.6 187,-34.2 189.1,-36.4 190.5,-39.1 191.9,-43.2 195.4,-57.3 196.1,-59.4 196.8,-60.3 197.5,-59.7 198.2,-57.9 201,-48 202.4,-44.2 203.1,-42.9 204.5,-41.3 205.9,-40.5 207.3,-40.1 208.7,-40.3 210.1,-41.8 211.5,-44.6 215,-54 215.7,-55.1 216.4,-55.6 217.1,-55.5 217.8,-54.8 221.3,-47.9 222,-46.8 223.4,-45.7 224.8,-45.6 228.3,-46.8 229.7,-46.7 235.3,-44.2 238.1,-43.3 242.3,-42.7 246.5,-42.6 254.9,-43.1 259.1,-43.7 261.2,-44.5 266.2,-46.9 271.1,-48 276,-49.8 279.5,-50.6 285.1,-52.8 286.5,-52.9 287.9,-52.6 292.1,-51 294.2,-50.9 299.8,-52.8 301.9,-54.2 306.1,-58.2 307.5,-58.4 308.7,-48.1 1.3,1.5"/>
<polygon transform="translate(250.8,254.4)" points="0,-1.1 9.8,-2.8 11.9,-3.8 15.4,-6.1 16.1,-6.2 20.3,-4.8 23.1,-4.6 29.4,-5.7 36.4,-8.5 38.5,-9 41.3,-9.2 45.5,-8.9 47.6,-9.2 57.4,-13.4 63.7,-15 70.7,-17.9 72.1,-18.1 77,-17.8 81.2,-18.6 86.8,-18.9 89.7,-19.7 91.8,-21.4 93.9,-24.8 95.3,-29 98.8,-43.2 99.5,-45.4 100.2,-46.3 100.9,-45.8 101.6,-44.1 104.4,-35.2 105.1,-33.9 105.8,-33.5 106.5,-34.3 107.9,-39 110.7,-52.8 111.4,-55.4 112.1,-56.7 112.8,-56.2 113.5,-54.4 116.3,-43.6 118.4,-37.6 121.9,-31.6 124,-29.3 124.7,-29.1 125.4,-29.2 126.8,-30.7 128.2,-33.8 131.7,-43.6 133.1,-46.3 133.8,-46.9 134.5,-46.8 135.9,-44.8 139.4,-35.7 140.8,-33.2 141.5,-32.9 143.6,-34.7 144.3,-35 145,-34.8 146.4,-33.2 148.5,-29.9 149.9,-28.4 152,-27.1 154.1,-26.6 156.2,-26.8 158.3,-28 160.4,-30.2 165.3,-36.4 166,-37 167.4,-37.6 169.5,-37.7 171.6,-37.3 173.7,-36.3 179.3,-32.8 181.4,-32 183.5,-32 186.3,-33.3 188.4,-35.2 190.5,-38.3 191.9,-41.8 195.4,-52.8 196.1,-54.1 196.8,-54.7 197.5,-54.4 198.2,-53.4 201.7,-44.2 203.1,-41.7 203.8,-41 205.2,-40.2 208,-39.5 209.4,-40 210.8,-41.4 215,-48.6 216.4,-49.8 217.1,-49.8 217.8,-49.5 222,-45.1 224.1,-44.1 229.7,-44.5 236.7,-43 240.9,-42.5 248.6,-42.5 253.5,-42.8 257.7,-43.3 259.8,-43.8 266.2,-47.5 269.7,-47.7 271.8,-48.2 276,-50 279.5,-51.2 283.7,-54 285.1,-54.5 287.2,-54.4 292.1,-51.7 293.5,-51.3 294.9,-51.3 297.7,-51.8 299.8,-52.5 305.4,-56.5 307.5,-57.1 308.7,-48.1 1.3,1.5"/>
<polygon transform="translate(252.1,254.7)" points="0,-1.3 9.8,-2.8 11.9,-3.7 14.7,-5.4 16.1,-5.9 21.7,-4.5 27.3,-5.3 30.1,-6.2 35.7,-9.2 38.5,-10.2 40.6,-10.3 45.5,-9.4 47.6,-9.4 49.7,-10.1 57.4,-13.7 63.7,-15 70,-17.3 72.1,-17.6 77,-17.7 87.6,-19.7 89.7,-20.3 91.8,-21.6 93.9,-24.4 95.3,-27.8 98.8,-38.9 99.5,-40.3 100.2,-40.9 100.9,-40.7 101.6,-39.9 104.4,-33.7 105.1,-32.7 105.8,-32.5 106.5,-33.2 107.9,-36.9 110.7,-47.8 111.4,-49.7 112.1,-50.7 112.8,-50.8 113.5,-50.1 117,-42.2 120.5,-35.5 122.6,-32.1 124,-31 125.4,-31 127.5,-32.5 128.9,-34.4 132.4,-40.7 133.8,-41.8 134.5,-41.8 135.9,-40.4 138.7,-35 139.4,-33.9 140.1,-33.3 140.8,-33.5 141.5,-34.7 143.6,-39.1 144.3,-39.6 145,-39.2 146.4,-36.6 148.5,-31.3 149.9,-29.1 152,-27.3 153.4,-26.8 154.8,-26.7 156.9,-27.2 159,-28.8 161.1,-31.4 165.3,-37.6 166.7,-38.8 170.2,-38.5 172.3,-37.8 179.3,-33.1 181.4,-32.1 183.5,-31.9 185.6,-32.7 188.4,-34.9 190.5,-37.5 191.9,-40 194.7,-46.6 196.1,-48.7 196.8,-49.1 197.5,-49 198.2,-48.3 201.7,-42.1 203.1,-40.5 204.5,-39.7 208,-38.9 209.4,-39.2 210.1,-39.6 211.5,-40.9 215,-44.8 216.4,-45.7 217.1,-45.8 218.5,-45.6 223.4,-43.3 225.5,-42.9 230.4,-43.1 238.8,-42.5 244.4,-42.7 251.4,-42.5 254.9,-42.8 258.4,-43.3 260.5,-44.1 266.2,-48.1 266.9,-48.2 269.7,-47.8 272.5,-48.4 279.5,-51.8 283.7,-55.6 285.1,-56.3 285.8,-56.5 287.2,-56.1 292.1,-52.5 293.5,-51.8 294.9,-51.7 299.8,-52.3 305.4,-55.2 307.5,-55.6 308.7,-48.1 1.3,1.5"/>
<polygon transform="translate(253.3,255.1)" points="0,-1.4 10.5,-3.1 14.7,-5.1 16.1,-5.5 21.7,-4.5 26.6,-5.3 30.1,-6.6 35.7,-10.3 38.5,-11.5 40.6,-11.5 46.2,-9.8 48.3,-9.8 58.1,-14.2 64.4,-15.2 70.7,-16.9 77,-17.3 84.7,-19.7 90.4,-21 92.5,-22.4 93.9,-24 95.3,-26.4 98.8,-34.3 100.2,-35.7 100.9,-35.8 101.6,-35.4 104.4,-31.8 105.1,-31.3 105.8,-31.3 106.5,-31.8 107.9,-34.5 111.4,-44.3 112.1,-45.4 112.8,-46 113.5,-46.2 114.2,-46.1 115.6,-45.3 117,-43.8 121.2,-35.9 122.6,-33.9 123.3,-33.5 124,-33.5 126.8,-35.1 130.3,-35.4 132.4,-36.7 133.8,-37.3 134.5,-37.2 135.9,-36.2 138.7,-32.7 139.4,-32.3 140.1,-32.9 140.8,-34.4 142.9,-41.5 143.6,-43.5 144.3,-44.4 145,-43.7 145.7,-41.9 148.5,-32.5 149.9,-29.6 152,-27.5 153.4,-26.9 154.8,-26.8 156.9,-27.3 159,-28.9 161.1,-31.4 165.3,-37.7 166.7,-38.9 170.2,-39 171.6,-38.8 173,-38 180,-32.8 182.1,-31.9 183.5,-31.8 184.9,-32.2 186.3,-32.9 189.1,-35.1 191.2,-37.5 194.7,-42.6 196.1,-43.9 196.8,-44.1 198.2,-43.7 201.7,-40.1 203.1,-39.2 205.2,-38.7 208.7,-38.5 210.8,-39.4 215.7,-43.5 217.1,-44.2 218.5,-44.5 220.6,-44.1 224.8,-42.5 227.6,-42.2 236.7,-42.4 244.4,-43.2 253.5,-42.6 259.1,-43.4 261.2,-44.4 266.2,-47.6 269.7,-47.6 271.1,-47.8 277.4,-50.8 280.2,-52.9 284.4,-57.7 285.8,-58.4 287.2,-57.8 292.1,-53.1 294.2,-52.1 300.5,-52.3 305.4,-53.9 307.5,-54.2 308.7,-48.1 1.3,1.5"/>
<polygon transform="translate(254.6,255.4)" points="0,-1.4 10.5,-3.2 16.1,-5.2 21.7,-4.5 26.6,-5.4 30.1,-7 35.7,-11.4 37.1,-12.3 38.5,-12.8 40.6,-12.8 46.2,-10.3 48.3,-10 50.4,-10.8 56,-13.8 58.1,-14.6 60.2,-15 64.4,-15.1 70.7,-16.3 77,-17 79.8,-17.9 85.4,-20.6 91.1,-21.6 93.2,-23 94.6,-24.4 98.1,-29.7 99.5,-31.2 100.2,-31.6 101.6,-31.6 104.4,-30.1 105.1,-30 106.5,-30.7 107.9,-32.6 111.4,-40.2 112.8,-42.6 114.9,-45.3 115.6,-45.9 116.3,-46.1 117,-45.6 117.7,-44.4 120.5,-38.3 121.9,-36.1 122.6,-35.7 123.3,-36 126.1,-40 126.8,-40.4 127.5,-40.2 128.2,-39.6 130.3,-36.3 131.7,-34.7 135.2,-33.4 138,-31.2 138.7,-31 139.4,-31.4 140.1,-32.7 141.5,-37.4 143.6,-46 144.3,-47.6 145,-46.2 147.8,-35.3 149.2,-31.1 149.9,-29.8 151.3,-28.1 152.7,-27.2 154.8,-26.8 156.9,-27.3 159,-28.7 166,-37.3 167.4,-38.1 170.9,-39.2 172.3,-38.9 180,-32.9 182.1,-31.9 183.5,-31.7 185.6,-32.4 187.7,-33.6 194,-39.1 196.1,-40.3 198.2,-40.3 201.7,-38.6 203.8,-38 207.3,-37.9 209.4,-38.3 210.8,-39.1 212.2,-40.2 217.1,-45.2 218.5,-45.9 219.2,-45.9 220.6,-45.4 223.4,-43.4 225.5,-42.3 228.3,-41.7 233.2,-42 243.7,-43.8 246.5,-43.6 252.8,-42.8 259.1,-43.4 261.2,-44.1 266.2,-46.6 269.7,-47.2 271.8,-47.9 277.4,-50.6 280.2,-53.2 284.4,-59 285.1,-59.8 285.8,-60 287.2,-59 292.1,-53.7 294.2,-52.5 301.2,-52.1 307.5,-52.9 308.7,-48.1 1.3,1.5"/>
<polygon transform="translate(255.9,255.8)" points="0,-1.4 4.9,-2.5 11.2,-3.5 15.4,-4.7 21.7,-4.7 27.3,-5.7 30.1,-7.3 36.4,-12.9 38.5,-14.1 39.2,-14.2 40.6,-13.9 46.2,-10.7 48.3,-10.2 50.4,-10.9 56,-14.1 58.1,-15 60.2,-15.3 65.8,-15.3 76.3,-16.3 79.8,-17.7 84.7,-20.8 86.1,-21.5 89.7,-21.5 91.8,-21.9 93.9,-23.2 98.1,-27.4 99.5,-28.5 100.9,-29 104.4,-28.9 105.8,-29.5 106.5,-30.1 108.6,-32.9 114.9,-43.8 115.6,-44.8 116.3,-45.2 117,-44.9 117.7,-43.8 120.5,-38.2 121.2,-37.2 121.9,-36.9 122.6,-37.4 123.3,-38.8 126.1,-46 126.8,-46.5 127.5,-46.2 128.9,-43.3 131,-37.2 132.4,-34.3 133.8,-32.9 136.6,-31 138,-30.4 138.7,-30.5 139.4,-31 140.1,-32.2 142.9,-41.5 143.6,-43.5 144.3,-44.3 145,-43.6 145.7,-41.8 148.5,-32.5 149.9,-29.6 152,-27.5 153.4,-26.9 154.8,-26.8 156.9,-27.2 159,-28.5 166,-35.9 168.1,-37.4 170.9,-38.8 171.6,-38.9 173,-38.2 180,-32.8 182.1,-31.8 183.5,-31.7 186.3,-32.6 193.3,-37.1 195.4,-38 198.2,-38.2 203.8,-37.3 206.6,-37.4 208.7,-37.9 210.8,-39.2 212.2,-40.7 213.6,-42.7 216.4,-47.7 217.8,-49.5 218.5,-49.8 219.2,-49.8 220.6,-48.6 223.4,-44.7 224.8,-43.2 226.2,-42.3 228.3,-41.7 231.8,-41.9 243.7,-44.4 245.8,-44.3 252.8,-43 259.1,-43.5 261.2,-44 270.4,-47.1 276.7,-49.9 278.1,-51 279.5,-52.5 284.4,-59.5 285.1,-60.2 285.8,-60.5 287.2,-59.8 292.1,-54.4 294.2,-52.8 301.9,-51.9 307.5,-51.9 308.7,-48.1 1.3,1.5"/>
<polygon transform="translate(257.1,256.1)" points="0,-1.5 5.6,-2.8 11.2,-3.6 15.4,-4.6 21.7,-4.9 27.3,-5.9 28.7,-6.5 30.8,-8 37.1,-14.3 38.5,-15.3 39.2,-15.3 40.6,-14.7 46.2,-10.9 48.3,-10.4 50.4,-11.1 56,-14.5 58.1,-15.5 59.5,-15.7 65.1,-15.3 75.6,-15.7 79.1,-17 86.1,-21.8 90.4,-21.4 92.5,-21.9 94.6,-23.1 98.8,-26.1 104.4,-28.3 105.8,-29.8 109.3,-34.7 115.6,-41.3 116.3,-41.5 117,-41.3 117.7,-40.7 120.5,-36.9 121.2,-36.6 121.9,-37.1 123.3,-40.9 126.1,-51.7 126.8,-52.7 127.5,-52 128.2,-50 131.7,-37.2 132.4,-35.5 133.8,-33.4 135.2,-32.2 137.3,-30.9 138.7,-30.7 139.4,-31 140.8,-33 142.9,-37.9 143.6,-39.1 144.3,-39.6 145,-39.2 145.7,-38.1 148.5,-31.3 149.9,-29 152,-27.3 154.1,-26.7 156.9,-27.1 159,-28.1 161.1,-29.8 166.7,-35.2 169.5,-37.2 170.9,-37.8 171.6,-37.9 173,-37.5 180,-32.7 181.4,-32 182.8,-31.7 184.2,-31.8 185.6,-32.2 192.6,-35.8 194.7,-36.6 197.5,-37 203.8,-36.8 208,-37.5 210.1,-38.8 212.2,-41.6 213.6,-44.6 216.4,-52.4 217.8,-55 218.5,-55.4 219.2,-55.3 219.9,-54.5 223.4,-46.6 224.8,-44.2 226.9,-42.4 229,-41.9 231.8,-42.3 243,-45.1 245.1,-45.1 251.4,-43.4 254.2,-43.1 261.2,-44 267.6,-45.8 274.6,-48.6 277.4,-50.3 279.5,-52.7 284.4,-60.5 285.8,-61.6 286.5,-61.7 287.2,-61.5 288.6,-60.4 292.8,-54.8 294.9,-53 296.3,-52.5 299.8,-52 307.5,-51.4 308.7,-48.1 1.3,1.5"/>
<polygon transform="translate(258.4,256.5)" points="0,-1.4 6.3,-3 15.4,-4.6 24.5,-5.5 28,-6.2 30.8,-8 37.1,-14.3 38.5,-15.3 39.9,-15.1 46.2,-10.9 48.3,-10.4 50.4,-11.2 56.7,-15.2 58.8,-16.1 72.8,-15.2 75.6,-15.3 77,-15.7 79.1,-16.7 84.7,-20.5 86.1,-21.2 91.1,-21 93.2,-21.6 102.3,-26.4 103.7,-27.6 105.1,-29.9 107.9,-36.3 109.3,-38.1 110,-38.3 110.7,-38.1 112.1,-37.3 113.5,-36.9 115.6,-37.4 117,-37.3 119.8,-35.1 120.5,-34.8 121.2,-35.2 121.9,-36.4 122.6,-38.6 126.1,-55 126.8,-56.7 127.5,-55.3 130.3,-43.1 131.7,-38.3 133.1,-35.4 134.5,-33.6 137.3,-31.5 138.7,-31.2 139.4,-31.3 140.8,-32.1 143.6,-35 144.3,-35.2 145,-35 145.7,-34.3 148.5,-30 149.9,-28.4 152,-27 154.1,-26.6 156.9,-27 159.7,-28.2 168.1,-35.2 170.9,-36.7 173,-36.5 180,-32.5 181.4,-32.1 182.8,-32 186.3,-32.8 194.7,-35.8 198.2,-36.2 204.5,-36.5 208,-37.4 210.1,-39.1 212.2,-42.6 213.6,-46.7 217.1,-59.6 217.8,-61.2 218.5,-61.8 219.2,-61.5 219.9,-60.2 223.4,-48.8 224.8,-45.4 226.2,-43.5 226.9,-42.9 228.3,-42.5 231.1,-42.7 236,-44.2 239.5,-44.7 243.7,-45.9 245.8,-45.5 250.7,-43.8 252.8,-43.4 259.8,-43.9 265.5,-45 273.2,-47.7 276,-49.1 278.1,-51.2 280.2,-54.8 284.4,-63.3 285.8,-64.9 286.5,-65.2 287.2,-65.1 288.6,-63.9 293.5,-55.4 295.6,-53.2 297,-52.5 299.1,-52 307.5,-51.2 308.7,-48.1 1.3,1.5"/>
<polygon transform="translate(259.6,256.8)" points="0,-1.3 15.4,-4.8 25.9,-5.9 28,-6.3 30.8,-7.9 36.4,-13 38.5,-14.2 39.2,-14.3 40.6,-13.9 46.2,-10.7 48.3,-10.4 50.4,-11.3 57.4,-15.9 58.8,-16.4 63.7,-15.8 68.6,-15.8 73.5,-14.9 75.6,-14.9 78.4,-15.8 85.4,-20 87.6,-20.4 91.8,-20.4 93.9,-21 100.9,-24.5 102.3,-25.7 103,-26.6 104.4,-29.6 107.9,-41.1 108.6,-42.6 109.3,-43.3 110,-43.1 110.7,-42.1 112.8,-37.4 114.2,-35 114.9,-34.4 119.1,-32.5 119.8,-32.2 120.5,-32.4 121.2,-33.2 121.9,-34.8 125.4,-49.3 126.1,-51.6 126.8,-52.7 127.5,-52 128.2,-50.1 130.3,-42.3 131.7,-38.2 133.1,-35.8 134.5,-34 136.6,-32.3 138,-31.6 139.4,-31.5 143.6,-32.2 145,-31.8 149.9,-27.8 152.7,-26.6 154.1,-26.5 156.2,-26.7 159.7,-27.9 162.5,-29.7 168.1,-34.1 170.9,-35.5 172.3,-35.6 173.7,-35.3 178.6,-33 180.7,-32.6 194.7,-35.2 203.8,-36.1 206.6,-36.7 208.7,-37.9 210.1,-39.3 211.5,-41.7 212.2,-43.5 213.6,-48.4 217.1,-64.8 217.8,-67.1 218.5,-68.2 219.2,-67.4 219.9,-65.4 224.1,-48.2 225.5,-45 226.2,-44.1 227.6,-43.2 229.7,-43.2 235.3,-44.8 239.5,-45.2 243.7,-46.3 252.1,-43.6 254.2,-43.5 259.1,-44 265.5,-45.2 274.6,-48.1 276.7,-49.8 278.1,-51.9 280.2,-56.5 284.4,-67.8 285.8,-69.9 286.5,-70.4 287.2,-70.3 288.6,-68.8 293.5,-57.3 295.6,-54 297,-52.9 299.1,-52 302.6,-51.4 307.5,-51 308.7,-48.1 1.3,1.5"/>
<polygon transform="translate(260.9,257.2)" points="0,-1.2 15.4,-5.2 19.6,-5.8 26.6,-6.3 28.7,-6.7 31.5,-8.1 36.4,-11.9 38.5,-12.9 40.6,-12.8 45.5,-10.6 47.6,-10.2 49,-10.6 50.4,-11.3 57.4,-16 58.8,-16.6 63.7,-16 67.9,-16.2 74.2,-14.7 76.3,-14.7 78.4,-15.4 83.3,-18.1 85.4,-19 87.6,-19.4 91.8,-19.6 95.3,-20.7 98.8,-22.4 100.9,-23.7 102.3,-25.2 103,-26.5 104.4,-30.7 107.9,-45.8 108.6,-48 109.3,-49 110,-48.3 110.7,-46.4 113.5,-36.1 114.9,-32.5 116.3,-30.8 119.1,-29.5 119.8,-29.5 120.5,-29.9 121.2,-30.8 122.6,-34.5 125.4,-44.2 126.1,-45.8 126.8,-46.4 127.5,-46.2 128.2,-45.1 131.7,-36.6 133.1,-34.8 134.5,-33.5 136.6,-32.2 138,-31.6 144.3,-30.4 149.9,-27.2 152.7,-26.4 156.2,-26.6 159.7,-27.6 162.5,-29.1 168.1,-33.1 170.9,-34.4 173,-34.5 177.9,-33.1 179.3,-33 184.2,-34.7 186.3,-35.1 194.7,-34.9 203.1,-35.8 205.9,-36.4 208,-37.4 209.4,-38.6 210.8,-40.5 212.2,-43.8 214.3,-52.4 217.8,-70.5 218.5,-72.3 219.2,-70.8 222.7,-54.2 224.1,-48.8 225.5,-45.5 226.2,-44.6 227.6,-43.9 229.7,-44.1 236,-45.7 240.2,-45.5 243.7,-46 245.8,-45.6 251.4,-43.9 254.9,-43.7 260.5,-44.6 267.6,-46.6 274.6,-48.2 276,-49.2 276.7,-50.1 278.1,-52.6 280.2,-58.5 284.4,-72.8 285.8,-75.8 286.5,-76.4 287.2,-76.3 287.9,-75.6 288.6,-74.2 293.5,-59.2 295.6,-55 297,-53.6 299.8,-52.1 302.6,-51.4 307.5,-50.9 308.7,-48.1 1.3,1.5"/>
<polygon transform="translate(262.1,257.5)" points="0,-1.1 11.2,-4.7 15.4,-5.8 19.6,-6.4 27.3,-6.6 29.4,-6.9 31.5,-7.8 36.4,-10.8 38.5,-11.6 40.6,-11.6 45.5,-10.1 47.6,-10.1 50.4,-11.3 56.7,-15.4 58.8,-16.4 63.7,-16.1 67.9,-16.6 73.5,-14.8 76.3,-14.4 78.4,-14.9 85.4,-18 92.5,-19 97.4,-20.8 99.5,-21.9 100.9,-22.9 102.3,-24.8 103,-26.3 105.1,-34 108.6,-51.1 109.3,-52.8 110,-51.4 113.5,-36 114.9,-31.3 116.3,-28.7 117.7,-27.6 119.1,-27.2 119.8,-27.3 121.2,-28.6 122.6,-31.5 125.4,-38.6 126.1,-39.7 126.8,-40.2 127.5,-40.1 128.2,-39.5 131,-35.1 133.1,-33.2 135.9,-32 142.2,-30.6 149.9,-26.8 152.7,-26.2 156.9,-26.8 160.4,-27.8 163.2,-29.2 168.1,-32.2 170.2,-33.1 172.3,-33.5 176.5,-33 177.9,-33.1 179.3,-33.6 183.5,-35.9 185.6,-36.6 187.7,-36.6 193.3,-35.1 196.8,-34.8 203.8,-35.7 205.9,-36.3 208,-37.3 210.1,-39.4 211.5,-41.7 212.2,-43.5 213.6,-48.4 217.1,-64.7 217.8,-67.1 218.5,-68.2 219.2,-67.4 219.9,-65.4 222.7,-53.5 224.1,-48.5 225.5,-45.7 226.9,-44.8 229,-44.9 236,-46.6 240.2,-45.6 245.1,-45.4 250.7,-44.1 253.5,-43.8 259.1,-44.9 268.3,-48.2 274.6,-48.7 276,-49.5 276.7,-50.4 278.1,-53.2 280.2,-60.1 284.4,-77.5 285.8,-81.4 286.5,-82.2 287.2,-82 288.6,-79.1 293.5,-60.9 294.2,-59 295.6,-56.3 297.7,-54.2 301.2,-52 304,-51.2 307.5,-50.9 308.7,-48.1 1.3,1.5"/>
<polygon transform="translate(263.4,257.9)" points="0,-1 11.9,-5.4 16.1,-6.6 20.3,-7.1 27.3,-7 30.1,-7.2 32.2,-7.8 37.1,-10 39.2,-10.4 41.3,-10.4 45.5,-9.7 46.9,-9.8 49.7,-11 56.7,-15.2 58.8,-16 63.7,-16.1 67.9,-16.8 74.2,-14.6 77,-14.2 79.1,-14.7 84.7,-16.9 92.5,-18.2 96.7,-19.7 99.5,-21.2 100.9,-22.3 102.3,-24.2 103,-25.7 104.4,-30.2 107.9,-45.6 108.6,-47.9 109.3,-48.8 110,-48.1 110.7,-46.2 114.9,-30.3 115.6,-28.7 117,-26.7 117.7,-26.1 119.1,-25.7 120.5,-26.2 121.2,-26.8 125.4,-33.5 126.8,-34.7 128.2,-34.5 131,-32.4 133.1,-31.6 135.2,-31.4 139.4,-31.7 140.8,-31.4 142.9,-30.5 149.2,-26.9 151.3,-26.2 152.7,-26.2 156.2,-26.7 159.7,-27.7 168.1,-31.5 170.2,-32.2 172.3,-32.5 175.8,-32.6 177.2,-33 179.3,-34.1 183.5,-37.3 185.6,-38.2 187.7,-38 193.3,-35.4 196.1,-34.7 199.6,-34.8 205.2,-36.1 208.7,-37.9 210.1,-39.2 211.5,-41.3 213.6,-46.8 217.1,-59.6 217.8,-61.2 218.5,-61.8 219.2,-61.5 219.9,-60.3 224.1,-47.7 224.8,-46.6 226.2,-45.6 227.6,-45.6 236,-47.4 240.9,-45.5 252.1,-44.1 255.6,-44.7 259.1,-45.7 265.5,-49 268.3,-50.1 270.4,-50.3 275.3,-49.7 276,-50 276.7,-50.7 277.4,-51.9 278.8,-55.7 280.9,-64.4 284.4,-81.4 285.8,-86.5 286.5,-87.6 287.2,-87.2 287.9,-85.6 292.8,-64.8 294.2,-60.5 294.9,-59.1 296.3,-57.3 301.9,-52.3 304,-51.3 307.5,-50.8 308.7,-48.1 1.3,1.5"/>
<polygon transform="translate(264.7,258.2)" points="0,-1.1 11.9,-6 16.8,-7.4 20.3,-7.7 30.1,-7.3 32.9,-7.8 38.5,-9.2 44.1,-9.2 46.2,-9.5 49,-10.7 56,-14.6 58.8,-15.7 63.7,-16 67.9,-16.6 74.9,-14.3 77.7,-14 84.7,-16.1 91.1,-17.2 93.9,-18.1 99.5,-20.6 100.9,-21.7 102.3,-23.4 104.4,-28.4 107.9,-40.6 108.6,-42.1 109.3,-42.7 110,-42.4 110.7,-41.2 114.2,-30.7 115.6,-27.6 117,-25.8 118.4,-25 119.8,-24.9 121.2,-25.6 125.4,-29.8 126.8,-30.7 128.2,-30.9 131,-30.3 133.1,-30.3 135.2,-30.7 139.4,-32.3 141.5,-31.7 148.5,-27.1 150.6,-26.3 152,-26.2 156.9,-27.3 163.2,-30 166,-30.9 175.8,-32.3 177.9,-33.4 184.2,-38.8 185.6,-39.5 187,-39.2 194,-35.3 196.8,-34.5 198.9,-34.5 201,-34.9 206.6,-36.9 208.7,-38 210.1,-39.1 212.2,-41.9 213.6,-44.8 217.1,-54.1 217.8,-55.2 218.5,-55.6 219.2,-55.5 219.9,-54.8 223.4,-47.9 224.1,-47.1 225.5,-46.2 226.9,-46.3 231.1,-47.6 236,-47.7 240.9,-45.6 247.9,-44.5 250,-44.4 252.1,-44.8 259.1,-46.9 261.2,-48 266.2,-51.4 268.3,-52.3 269.7,-52.5 271.1,-52.3 274.6,-51 276,-50.7 276.7,-51.1 277.4,-52.1 278.1,-53.7 279.5,-58.6 285.1,-87.2 285.8,-90.2 286.5,-91.9 287.2,-91.2 287.9,-88.7 292.1,-68.6 293.5,-63.9 294.2,-62.4 297,-59.5 301.2,-53.9 302.6,-52.5 304.7,-51.2 307.5,-50.7 308.7,-48.1 1.3,1.5"/>
<polygon transform="translate(265.9,258.5)" points="0,-1.1 3.5,-2.6 11.9,-6.6 16.1,-8.1 20.3,-8.5 27.3,-7.7 30.8,-7.6 44.1,-8.9 47.6,-10.1 55.3,-14.2 58.8,-15.4 67.9,-16.1 74.9,-14.1 77.7,-13.8 91.1,-16.8 99.5,-20.4 100.9,-21.2 102.3,-22.6 104.4,-26.3 107.9,-35.1 108.6,-36.1 109.3,-36.5 110,-36.4 110.7,-35.7 114.2,-28.6 115.6,-26.4 117,-25.1 118.4,-24.4 119.8,-24.3 121.2,-24.8 125.4,-27.8 126.8,-28.5 128.2,-28.9 131.7,-29 133.8,-29.5 139.4,-32.9 140.8,-32.5 148.5,-27.2 150.6,-26.5 152,-26.4 154.1,-26.8 156.9,-27.9 162.5,-31.5 164.6,-32.3 167.4,-32.5 173,-31.5 175.1,-31.8 177.9,-33.3 183.5,-38 185.6,-39 187.7,-38.6 193.3,-35.5 196.1,-34.5 198.9,-34.5 202.4,-35.5 208,-38 210.8,-39.9 212.9,-42.5 217.1,-49.8 218.5,-50.9 219.2,-50.9 219.9,-50.5 222.7,-47.8 224.1,-47 226.2,-47 229.7,-48.4 231.1,-48.6 236,-47.7 240.2,-46.2 243,-46 247.9,-44.8 249.3,-45.1 254.2,-47.2 258.4,-48 259.8,-48.5 261.9,-49.8 266.9,-53.7 269,-54.7 271.1,-54.4 275.3,-51.8 276,-51.5 276.7,-51.6 277.4,-52.2 278.1,-53.6 279.5,-58.2 285.1,-86.2 285.8,-89.1 286.5,-90.5 287.2,-89.9 287.9,-87.7 291.4,-71.6 292.8,-67 293.5,-66 294.2,-65.7 295.6,-65.7 296.3,-65.1 300.5,-56.4 302.6,-53.2 304.7,-51.4 307.5,-50.7 308.7,-48.1 1.3,1.5"/>
<polygon transform="translate(267.2,258.9)" points="0,-1.2 3.5,-2.8 12.6,-7.6 15.4,-8.7 17.5,-9.1 21,-9.1 26.6,-8.2 30.1,-7.9 40.6,-8.3 43.4,-8.7 45.5,-9.3 55.3,-14.2 58.8,-15.3 67.9,-15.6 74.9,-14 77.7,-13.6 80.5,-14 88.3,-15.6 91.8,-16.9 100.9,-21 102.3,-21.9 104.4,-24.3 107.9,-30 109.3,-31 110,-31 111.4,-30 114.2,-26.6 115.6,-25.3 117,-24.4 118.4,-23.9 119.8,-23.9 121.2,-24.3 125.4,-27 127.5,-27.9 131.7,-28.1 133.1,-28.4 134.5,-29.1 138,-31.8 139.4,-32.5 140.8,-32.3 146.4,-28.5 148.5,-27.4 150.6,-26.8 152,-26.8 154.1,-27.3 156.2,-28.4 162.5,-34 163.9,-34.8 165.3,-35.2 167.4,-34.9 172.3,-32.2 174.4,-31.7 176.5,-32.4 182.8,-36.8 185.6,-37.7 188.4,-37.3 194,-35.1 196.1,-34.6 198.2,-34.5 200.3,-35 207.3,-38.2 210.8,-40.4 212.9,-42.7 216.4,-48.3 217.8,-49.6 218.5,-49.8 219.9,-49.4 222,-48.1 223.4,-47.6 225.5,-47.7 229.7,-49.3 231.1,-49.4 238.8,-46.8 243,-47.2 245.8,-46 247.2,-45.7 248.6,-46.3 251.4,-48.6 253.5,-49.9 255.6,-50.3 259.1,-50 261.2,-50.5 263.4,-52 267.6,-55.8 269,-56.6 270.4,-56.3 275.3,-52.4 276.7,-51.8 277.4,-52.1 278.1,-53.2 279.5,-57.2 284.4,-79.3 285.8,-83.9 286.5,-84.8 287.2,-84.5 287.9,-83.1 290.7,-72.8 292.1,-68.8 292.8,-68.4 293.5,-69.3 294.9,-72.3 295.6,-72.8 296.3,-72 297,-70.2 299.8,-59.8 301.2,-56.4 302.6,-53.9 304,-52.2 305.4,-51.3 307.5,-50.8 308.7,-48.1 1.3,1.5"/>
<polygon transform="translate(268.4,259.2)" points="0,-1.3 4.2,-3.4 12.6,-8.2 15.4,-9.4 17.5,-10 20.3,-9.9 26.6,-8.6 29.4,-8.2 39.9,-8.1 42.7,-8.6 44.8,-9.2 54.6,-14 58.8,-15.3 61.6,-15.4 67.9,-15.1 74.9,-13.8 77.7,-13.6 80.5,-13.8 86.8,-15 90.4,-16.3 97.4,-20 103,-21.9 104.4,-22.9 107.9,-26.2 109.3,-26.9 110,-27 111.4,-26.6 116.3,-23.9 117.7,-23.5 119.1,-23.5 120.5,-23.8 121.9,-24.5 126.8,-27.6 128.2,-27.9 131,-27.6 133.1,-27.9 134.5,-28.5 138,-31 140.1,-31.6 141.5,-31.2 147.8,-28.1 150.6,-27.5 152.7,-27.6 154.8,-28.4 156.2,-29.5 162.5,-37 163.9,-38.1 165.3,-38.5 167.4,-37.9 173,-33.2 175.1,-32.4 177.2,-33.1 181.4,-36 184.2,-36.9 187.7,-36.7 195.4,-35 198.9,-35 201,-35.7 203.8,-37 208.7,-39.7 210.8,-41.2 212.9,-43.9 216.4,-51.2 217.8,-52.7 218.5,-52.7 219.2,-52.3 222,-49.4 223.4,-48.6 225.5,-48.6 229.7,-49.6 231.1,-49.6 236.7,-47.4 238.8,-47 240.2,-47.4 242.3,-48.6 243,-48.5 245.8,-47 246.5,-46.9 247.2,-47.2 252.1,-53 254.2,-54.4 256.3,-54.2 260.5,-52 261.9,-52.1 264.1,-53.2 267.6,-55.9 269,-56.5 269.7,-56.5 271.1,-55.8 276,-51.9 276.7,-51.6 277.4,-51.7 278.1,-52.4 279.5,-55.7 283.7,-72 285.1,-76.4 285.8,-77.8 286.5,-78.4 287.2,-78.3 287.9,-77.4 290.7,-70 291.4,-68.6 292.1,-68.6 292.8,-70.1 294.9,-79.4 295.6,-80.7 296.3,-79.4 299.1,-64.6 299.8,-61.5 301.2,-57.3 302.6,-54.4 304,-52.5 305.4,-51.4 307.5,-50.8 308.7,-48.1 1.3,1.5"/>
<polygon transform="translate(269.7,259.6)" points="0,-1.4 4.2,-3.6 13.3,-9.2 15.4,-10.2 17.5,-10.8 20.3,-10.6 25.9,-9 28.7,-8.5 35.7,-8.1 40.6,-8.3 44.8,-9.4 53.9,-14 58.1,-15.3 62.3,-15.4 77.7,-13.7 81.2,-13.9 86.1,-14.7 89.7,-16 98.1,-20.7 103.7,-21.7 109.3,-24.3 111.4,-24.4 117,-23.1 119.1,-23.1 121.9,-24.3 126.1,-27.2 127.5,-27.9 131.7,-27.2 133.1,-27.4 134.5,-27.9 138,-29.9 139.4,-30.4 141.5,-30.4 145.7,-29.4 150.6,-28.6 153.4,-28.7 154.8,-29.4 156.2,-30.8 162.5,-40.5 163.9,-41.8 165.3,-42.2 166.7,-41.9 168.1,-40.8 173,-34.8 174.4,-33.7 175.1,-33.5 175.8,-33.4 177.2,-34 180.7,-37.2 182.8,-38 184.2,-37.9 188.4,-36.6 195.4,-35.6 197.5,-35.4 199.6,-35.6 203.8,-37.6 208.7,-40.5 210.8,-42.1 212.2,-44.1 212.9,-45.6 216.4,-55.5 217.1,-56.8 217.8,-57.4 218.5,-57.3 219.2,-56.5 222,-51.3 223.4,-49.9 226.2,-49.5 231.1,-49.4 236.7,-47.2 238.1,-46.9 239.5,-47.1 242.3,-48.9 243,-48.9 245.1,-47.9 245.8,-47.9 246.5,-48.3 247.9,-50.2 252.1,-57.8 253.5,-59.2 254.2,-59.5 254.9,-59.6 256.3,-59 260.5,-54.5 261.9,-53.6 263.4,-53.4 267.6,-55 269.7,-55.1 271.8,-54.2 276,-51.3 277.4,-51 278.1,-51.4 279.5,-53.9 283.7,-67.1 285.1,-70.5 285.8,-71.5 286.5,-72 287.2,-72 287.9,-71.4 290.7,-66.6 291.4,-66.4 292.1,-67.7 292.8,-70.6 294.9,-83.7 295.6,-86.4 296.3,-83.8 299.1,-65.8 300.5,-59.7 301.9,-56 304,-52.7 305.4,-51.5 307.5,-50.8 308.7,-48.1 1.3,1.5"/>
<polygon transform="translate(270.9,259.9)" points="0,-1.5 4.2,-3.7 13.3,-9.7 16.1,-11.2 17.5,-11.6 19.6,-11.4 25.2,-9.5 28,-8.8 35.7,-8.3 40.6,-8.4 44.8,-9.6 53.9,-14.4 57.4,-15.6 60.9,-15.7 67.9,-14.8 78.4,-13.9 81.2,-14 84.7,-14.4 86.8,-14.8 89,-15.7 97.4,-20.9 98.8,-21.5 104.4,-21.4 110.7,-23 117,-22.7 119.1,-22.9 121.2,-23.8 126.1,-27.1 127.5,-27.8 128.9,-27.7 131.7,-27 133.1,-26.9 134.5,-27.3 138.7,-29.2 140.8,-29.7 147.8,-30.3 153.4,-29.8 154.8,-30.5 156.2,-32.2 162.5,-44.1 163.9,-45.7 165.3,-46.3 166,-46.1 167.4,-45 168.8,-43.2 173,-36.6 174.4,-35.1 175.1,-34.7 175.8,-34.7 177.2,-35.6 180.7,-40.6 182.1,-41.5 183.5,-41.2 186.3,-38.6 188.4,-37.5 197.5,-36.1 200.3,-36.3 203.1,-37.7 208.7,-41.4 210.1,-42.4 211.5,-44.1 212.2,-45.4 213.6,-49.3 216.4,-59.6 217.1,-61.5 217.8,-62.4 218.5,-62 222,-52.9 223.4,-51 226.9,-49.8 231.8,-48.9 237.4,-46.7 239.5,-46.8 242.3,-48.1 244.4,-48.1 245.1,-48.3 245.8,-48.8 247.2,-51.2 252.1,-62.8 253.5,-64.8 254.2,-65.2 254.9,-65.2 256.3,-64.1 260.5,-57.5 262.7,-55.3 264.1,-54.6 267.6,-54.4 269.7,-53.9 271.8,-53 276,-50.5 277.4,-50.1 278.1,-50.3 279.5,-52 283.7,-62.2 285.1,-64.8 285.8,-65.5 286.5,-65.9 287.2,-65.9 287.9,-65.6 290,-63.5 290.7,-63.2 291.4,-63.8 292.1,-65.6 292.8,-68.7 294.9,-79.6 295.6,-80.9 296.3,-79.7 299.1,-65 299.8,-61.9 301.2,-57.5 302.6,-54.6 304,-52.7 305.4,-51.5 307.5,-50.9 308.7,-48.1 1.3,1.5"/>
<polygon transform="translate(272.2,260.3)" points="0,-1.5 4.2,-3.8 11.9,-9.1 16.1,-11.6 17.5,-12.1 19.6,-11.8 24.5,-9.8 27.3,-9 34.3,-8.4 38.5,-8.3 41.3,-8.6 44.1,-9.4 46.9,-10.8 53.9,-14.8 56,-15.7 58.1,-16.2 60.9,-16.1 67.2,-15 73.5,-14.8 79.1,-14.1 85.4,-14.6 87.6,-15.1 89.7,-16 98.8,-21.7 100.2,-21.7 103,-21.2 105.1,-21.1 112.1,-22.4 118.4,-22.6 121.2,-23.7 126.1,-26.8 127.5,-27.3 128.9,-27.3 132.4,-26.5 134.5,-26.7 147.1,-31.9 149.2,-31.9 152,-31.1 153.4,-31 154.8,-31.7 156.2,-33.7 162.5,-47.7 163.9,-49.7 164.6,-50.2 165.3,-50.4 166,-50.1 167.4,-48.6 173,-38.3 174.4,-36.5 175.1,-36.1 175.8,-36 176.5,-36.5 177.2,-37.5 180.7,-45.2 181.4,-46.1 182.1,-46.6 182.8,-46.4 183.5,-45.8 187,-40 188.4,-38.8 193.3,-37.9 197.5,-36.7 198.9,-36.5 200.3,-36.7 202.4,-37.6 205.2,-39.5 210.1,-43.3 211.5,-44.9 212.2,-46.2 213.6,-50.2 217.1,-64.2 217.8,-65.7 218.5,-64.7 222,-53.4 223.4,-51.1 225.5,-50 231.8,-48.4 237.4,-46.3 239.5,-46.2 243.7,-47.5 245.1,-48.6 247.2,-53 252.8,-69.2 253.5,-70.4 254.2,-70.9 254.9,-70.8 256.3,-69.1 261.2,-59.6 263.4,-57.1 274.6,-50.4 276.7,-49.5 278.1,-49.4 278.8,-49.7 280.2,-51.4 283.7,-57.7 285.8,-60.2 287.2,-60.6 289.3,-59.8 290,-59.8 290.7,-60.2 291.4,-61.2 292.1,-63 294.9,-72.9 295.6,-73.7 296.3,-73 297,-71.2 299.8,-60.8 301.9,-55.7 303.3,-53.4 304.7,-52 306.1,-51.2 307.5,-50.9 308.7,-48.1 1.3,1.5"/>
<polygon transform="translate(273.4,260.6)" points="0,-1.5 4.2,-3.8 11.9,-9.3 16.1,-11.6 17.5,-12.1 18.9,-12 25.2,-9.6 28,-8.9 35.7,-8.4 40.6,-8.6 42.7,-9.1 44.8,-9.9 53.9,-15.3 57.4,-16.6 60.2,-16.6 67.2,-15.2 72.8,-15.3 79.1,-14.3 86.1,-14.8 87.6,-15.1 89.7,-16 96.7,-20.3 98.8,-21.3 100.2,-21.4 103.7,-20.9 105.8,-20.9 112.8,-22.6 119.1,-22.8 121.2,-23.6 125.4,-26 127.5,-26.8 128.9,-26.8 133.1,-26.1 135.9,-26.5 139.4,-28.2 145,-32.6 147.1,-33.7 149.2,-33.7 152,-32.4 153.4,-32.1 154.1,-32.3 154.8,-32.9 156.9,-36.7 161.8,-49.6 163.2,-52.5 164.6,-54.3 165.3,-54.4 166.7,-52.9 173,-39.7 174.4,-37.7 175.1,-37.2 175.8,-37.3 176.5,-38.1 177.2,-39.5 180.7,-50.3 181.4,-51.7 182.1,-52.2 182.8,-52 183.5,-50.9 187,-42 188.4,-40.2 189.1,-39.8 192.6,-39 198.2,-37 200.3,-37 202.4,-37.8 205.2,-39.7 208.7,-42.6 210.8,-44.5 212.2,-46.3 213.6,-49.8 216.4,-59.8 217.1,-61.7 217.8,-62.6 218.5,-62.1 219.2,-60.6 222,-52.6 222.7,-51.2 224.1,-49.7 231.1,-48 238.1,-45.9 239.5,-45.8 241.6,-46.2 243.7,-47.2 244.4,-47.9 245.8,-50.4 247.9,-56.2 252.8,-73 253.5,-74.9 254.2,-75.9 254.9,-75.6 255.6,-74.3 259.8,-65.1 261.9,-61.7 270.4,-52.8 272.5,-51.1 274.6,-49.9 277.4,-49 278.8,-49.1 279.5,-49.4 280.9,-50.6 285.1,-55.3 286.5,-56 289.3,-56.6 290,-57.2 291.4,-59.5 294.2,-67.5 294.9,-68.9 295.6,-69.4 296.3,-69 297,-67.8 299.8,-60 302.6,-54.2 304.7,-52 306.1,-51.3 307.5,-51 308.7,-48.1 1.3,1.5"/>
<polygon transform="translate(274.7,261)" points="0,-1.5 4.2,-3.8 11.9,-9.1 15.4,-10.8 17.5,-11.5 19.6,-11.3 25.2,-9.4 28,-8.8 34.3,-8.4 39.9,-8.6 42.7,-9.2 44.8,-10 54.6,-16.1 57.4,-17.2 60.2,-17.1 67.2,-15.3 72.8,-15.4 79.8,-14.4 86.1,-14.9 88.3,-15.3 89.7,-15.9 96,-19.5 98.8,-20.6 105.8,-20.8 107.9,-21.5 111.4,-23.3 112.8,-23.7 114.2,-23.8 118.4,-23.1 119.8,-23.2 121.2,-23.6 125.4,-25.6 127.5,-26.3 129.6,-26.3 133.8,-25.7 135.9,-25.9 137.3,-26.5 139.4,-28.1 145,-34 147.1,-35.5 147.8,-35.7 149.2,-35.4 152,-33.6 153.4,-33.1 154.1,-33.2 154.8,-33.9 155.5,-35 156.9,-38.4 161.1,-51 163.2,-55.4 164.6,-57.4 165.3,-57.4 166,-56.6 167.4,-53.7 172.3,-41.9 173.7,-39.3 174.4,-38.4 175.1,-38 175.8,-38.2 176.5,-39.2 177.2,-41.1 180.7,-54.9 181.4,-57 182.1,-57.9 182.8,-57.2 183.5,-55.5 186.3,-45.6 187.7,-42.1 188.4,-41.2 189.1,-40.7 191.9,-40 196.1,-37.9 198.2,-37.2 200.3,-37.1 202.4,-37.8 205.2,-39.7 211.5,-44.9 212.9,-46.8 213.6,-48.4 216.4,-55.9 217.1,-57.2 217.8,-57.7 218.5,-57.5 219.2,-56.7 222,-50.8 222.7,-49.7 224.1,-48.6 229.7,-48 237.4,-45.9 239.5,-45.7 241.6,-46.1 243.7,-47.2 245.8,-50.6 247.9,-56.3 252.8,-73.1 253.5,-74.9 254.2,-75.9 254.9,-75.8 255.6,-75 260.5,-66.6 265.5,-60.4 270.4,-53.4 272.5,-51.1 274.6,-49.8 277.4,-49.1 278.8,-49 280.2,-49.3 285.1,-52.3 288.6,-54 290,-56 290.7,-57.4 292.1,-61.4 294.2,-69.1 294.9,-70.8 295.6,-71.5 296.3,-71 297,-69.4 299.8,-60.1 301.9,-55.4 303.3,-53.3 304.7,-52 306.1,-51.4 307.5,-51.1 308.7,-48.1 1.3,1.5"/>
<polygon transform="translate(276,261.3)" points="0,-1.5 4.2,-3.7 11.2,-8.4 14,-9.6 16.8,-10.6 19.6,-10.6 25.9,-9 29.4,-8.4 37.8,-8.5 42,-9 46.2,-10.9 54.6,-16.6 57.4,-17.8 59.5,-17.7 65.8,-15.6 68.6,-15.1 79.1,-14.4 86.8,-15.1 89.7,-15.8 96,-18.9 98.1,-19.8 100.2,-20.2 103.7,-20.3 105.8,-20.9 107.9,-22.3 111.4,-25.3 112.8,-25.9 114.2,-25.9 118.4,-23.9 120.5,-23.6 121.9,-23.8 127.5,-25.8 129.6,-25.9 133.8,-25.4 135.9,-25.6 137.3,-26.3 139.4,-28.1 145.7,-35.8 147.1,-37.1 147.8,-37.3 148.5,-37.1 152.7,-33.9 153.4,-33.7 154.1,-33.9 154.8,-34.6 156.2,-37.8 160.4,-52.4 161.8,-55.2 163.2,-56.7 164.6,-57.6 165.3,-57.4 166.7,-55.5 172.3,-42.1 173.7,-39.5 174.4,-38.6 175.1,-38.2 175.8,-38.5 176.5,-39.7 177.2,-41.7 181.4,-59.9 182.1,-61.5 182.8,-60.2 186.3,-46.4 187.7,-42.5 188.4,-41.4 189.1,-40.8 191.9,-39.8 196.8,-37.6 198.9,-37 200.3,-37 201.7,-37.3 203.8,-38.5 212.2,-44.5 213.6,-46.5 216.4,-51.9 217.1,-52.8 217.8,-53.2 218.5,-53.1 219.2,-52.5 222,-48.8 223.4,-47.8 224.8,-47.8 227.6,-48.3 229,-48.3 234.6,-46.5 237.4,-46 240.9,-46.5 243.7,-47.6 245.1,-49.1 246.5,-51.8 252.8,-70.1 254.2,-72.5 254.9,-73 256.3,-73 257.7,-72.1 263.4,-66.2 265.5,-63.1 270.4,-54.2 271.8,-52.3 273.2,-50.9 275.3,-49.8 279.5,-49.3 282.3,-49.7 285.8,-51 287.2,-51.7 288.6,-53.2 290.7,-57.6 292.1,-62.7 294.9,-76.3 295.6,-77.5 296.3,-76.5 299.1,-63.5 299.8,-60.8 301.2,-56.9 302.6,-54.4 304,-52.7 305.4,-51.8 307.5,-51.2 308.7,-48.1 1.3,1.5"/>
<polygon transform="translate(277.2,261.7)" points="0,-1.4 4.2,-3.5 11.2,-7.9 14,-9 16.8,-9.8 20.3,-9.8 26.6,-8.5 30.1,-8.2 39.2,-8.6 42,-9.1 46.2,-10.9 55.3,-17.4 57.4,-18.3 59.5,-18.1 67.2,-15.2 70.7,-14.6 77.7,-14.3 89,-15.5 97.4,-18.9 103,-20 105.1,-20.8 107.2,-22.7 111.4,-28.6 112.8,-29.5 114.2,-29.2 118.4,-25.1 120.5,-24.1 122.6,-24.1 128.2,-25.5 134.5,-25.2 135.9,-25.4 137.3,-26.2 139.4,-28.1 145.7,-36.2 147.1,-37.6 147.8,-37.8 148.5,-37.5 152.7,-34.1 153.4,-33.9 154.1,-34.1 154.8,-35 156.2,-38.6 160.4,-55.5 161.1,-57.1 161.8,-57.5 162.5,-57.3 164.6,-55.8 166.7,-53.3 173,-40.3 174.4,-38.3 175.1,-37.9 175.8,-38.2 176.5,-39.3 177.2,-41.1 180.7,-54.9 181.4,-57 182.1,-57.9 182.8,-57.3 183.5,-55.5 186.3,-45.7 187.7,-42 188.4,-40.9 189.8,-39.7 196.8,-37.2 198.9,-36.7 200.3,-36.7 203.1,-37.7 211.5,-42.7 213.6,-44.8 216.4,-48.8 217.1,-49.5 217.8,-49.7 219.2,-49.2 221.3,-47.6 222.7,-47.2 224.1,-47.8 226.9,-49.6 228.3,-49.9 229.7,-49.6 233.9,-47.2 236,-46.7 239.5,-47 244.4,-48.7 245.8,-49.9 247.2,-52.3 252.1,-65.1 254.2,-69.5 256.3,-72.1 257.7,-72.8 259.1,-72.3 261.9,-70.6 263.4,-69.3 264.8,-67 270.4,-55.1 271.8,-52.8 273.2,-51.2 275.3,-50.1 278.1,-49.7 281.6,-49.6 284.4,-50.1 286.5,-50.9 287.9,-52.2 289.3,-54.4 290.7,-57.8 292.1,-63.5 294.9,-80 295.6,-82.4 296.3,-80.1 299.1,-64.2 300.5,-58.8 301.9,-55.6 303.3,-53.5 305.4,-51.9 307.5,-51.4 308.7,-48.1 1.3,1.5"/>
<polygon transform="translate(278.5,262)" points="0,-1.3 3.5,-3 11.2,-7.3 16.1,-8.9 20.3,-9.1 26.6,-8.1 30.1,-7.9 39.2,-8.6 42,-9.1 44.1,-9.8 46.9,-11.4 55.3,-17.4 57.4,-18.5 59.5,-18.1 67.9,-14.9 72.8,-14 76.3,-14.1 82.6,-15.1 89,-15.5 91.1,-15.9 97.4,-18.3 103,-19.8 105.1,-21.2 107.2,-24 111.4,-33 112.1,-33.9 112.8,-34.3 113.5,-34.2 114.9,-32.7 118.4,-26.7 119.8,-25.3 121.2,-24.5 123.3,-24.3 128.9,-25.3 134.5,-25.2 135.9,-25.4 137.3,-26.1 138.7,-27.3 145,-34.6 147.1,-36.4 147.8,-36.5 149.2,-36.1 152.7,-33.7 153.4,-33.6 154.1,-33.9 154.8,-34.9 156.2,-38.7 160.4,-57.1 161.1,-58.9 161.8,-58.5 163.9,-54.4 168.1,-48.1 173,-39.3 174.4,-37.6 175.1,-37.2 175.8,-37.3 176.5,-38.1 177.9,-41.5 180.7,-50.3 181.4,-51.7 182.1,-52.3 182.8,-52.1 183.5,-51.1 187,-42.3 187.7,-41 189.1,-39.3 191.2,-38.1 196.8,-36.5 198.9,-36.2 200.3,-36.2 203.1,-37.2 211.5,-41.7 213.6,-43.5 217.1,-47.6 217.8,-47.8 220.6,-46.7 222,-46.9 223.4,-48.2 226.2,-52.2 227.6,-53.2 229,-53 233.2,-49.1 234.6,-48.2 236,-47.7 237.4,-47.6 239.5,-47.9 245.8,-49.9 247.2,-51.3 248.6,-53.7 253.5,-65.8 256.3,-72 257.7,-73.9 258.4,-74 260.5,-73.1 262.7,-72.7 263.4,-72 269.7,-57.1 271.8,-53.2 273.2,-51.5 275.3,-50.2 278.1,-49.9 282.3,-50 285.8,-50.8 287.2,-51.7 288.6,-53.3 290.7,-57.7 292.1,-62.9 294.9,-76.4 295.6,-77.6 296.3,-76.5 299.1,-63.3 299.8,-60.5 301.2,-56.8 302.6,-54.4 304,-52.8 305.4,-52 307.5,-51.5 308.7,-48.1 1.3,1.5"/>
<polygon transform="translate(279.7,262.4)" points="0,-1.2 11.2,-6.7 16.1,-8.1 20.3,-8.4 26.6,-7.8 30.1,-7.7 39.9,-8.6 42,-9 46.2,-10.9 55.3,-17.2 57.4,-18.2 59.5,-17.9 65.8,-15.5 69.3,-14.4 72.1,-13.8 74.2,-13.8 82.6,-15.5 91.1,-15.8 100.9,-18.8 103,-19.7 104.4,-20.8 106.5,-23.8 107.9,-27.2 111.4,-37.8 112.1,-39 112.8,-39.6 113.5,-39.4 114.2,-38.5 118.4,-28.4 119.8,-26.4 121.2,-25.2 122.6,-24.6 124,-24.5 129.6,-25.3 135.2,-25.6 136.6,-25.9 138.7,-27.1 144.3,-32.8 146.4,-34.4 148.5,-34.8 152.7,-33 153.4,-33 154.1,-33.3 154.8,-34.2 156.2,-37.8 159.7,-51.6 160.4,-53.8 161.1,-55 161.8,-54.9 165.3,-49 168.8,-44.7 173,-38.3 174.4,-36.7 175.1,-36.3 175.8,-36.3 176.5,-36.7 177.2,-37.6 180.7,-45.3 181.4,-46.3 182.1,-46.8 182.8,-46.7 183.5,-46.3 187.7,-40 189.1,-38.5 190.5,-37.4 192.6,-36.6 197.5,-35.7 199.6,-35.7 201,-35.9 211.5,-40.9 213.6,-42.6 217.1,-46.4 217.8,-46.6 219.9,-46.2 220.6,-46.3 221.3,-46.7 222.7,-48.8 226.2,-57.4 226.9,-58.6 227.6,-59.1 228.3,-59.1 229,-58.4 231.8,-53.4 233.2,-51.5 234.6,-50.2 236,-49.5 238.1,-48.9 239.5,-48.8 243.7,-49.9 245.8,-50.1 247.2,-50.7 248.6,-52.4 250,-55.2 257,-73.7 257.7,-74.8 258.4,-75 260.5,-73.7 262.7,-73.5 263.4,-72.8 270.4,-56 272.5,-52.4 274.6,-50.5 277.4,-50 282.3,-50.3 285.8,-51.2 287.9,-52.6 289.3,-54.5 290.7,-57.4 292.1,-61.7 294.2,-69.6 294.9,-71.2 295.6,-71.7 296.3,-70.9 297,-69.1 299.1,-61.5 301.2,-56.3 302.6,-54.2 304,-52.9 305.4,-52.2 307.5,-51.7 308.7,-48.1 1.3,1.5"/>
<polygon transform="translate(281,262.7)" points="0,-1.1 10.5,-5.8 15.4,-7.2 19.6,-7.6 29.4,-7.4 42,-9 46.2,-10.8 54.6,-16.4 57.4,-17.6 60.2,-17.3 69.3,-14.2 73.5,-13.7 75.6,-14 79.8,-15.3 82.6,-15.8 90.4,-15.8 92.5,-15.9 100.2,-18.3 102.3,-19.3 103.7,-20.3 105.1,-22 106.5,-24.6 107.9,-28.7 111.4,-42 112.1,-44 112.8,-44.9 113.5,-44.4 114.2,-42.8 117.7,-31.7 119.1,-28.6 121.2,-26 122.6,-25.2 124,-24.8 126.1,-24.9 131.7,-26 136.6,-26.2 138,-26.6 140.1,-27.9 145,-32 147.1,-33 149.2,-33.1 152.7,-32 154.1,-32.4 154.8,-33.2 156.2,-36.2 159.7,-47.1 160.4,-48.6 161.1,-49.4 161.8,-49.6 162.5,-49.2 165.3,-46 168.8,-43.3 173.7,-36.9 175.1,-35.7 175.8,-35.4 176.5,-35.5 177.2,-36 180.7,-40.8 182.1,-42 182.8,-42.2 184.2,-42 185.6,-41.4 189.8,-37.3 191.9,-35.9 196.8,-35.1 200.3,-35.4 211.5,-40.1 212.9,-41.1 216.4,-44.4 217.8,-45.2 219.9,-45.6 220.6,-46.3 221.3,-47.3 222.7,-50.8 226.2,-65.4 226.9,-67.4 227.6,-68.3 228.3,-67.9 229,-66.5 231.1,-59.4 232.5,-55.8 234.6,-53.1 238.1,-50.6 240.2,-49.7 245.8,-49.9 247.2,-50.3 248.6,-51.7 250,-54.2 252.1,-59.4 257,-72.9 257.7,-74 258.4,-74.3 262.7,-71.9 263.4,-71.1 264.8,-68.5 269,-58.7 271.1,-54.5 273.2,-51.5 274.6,-50.5 276.7,-50.1 281.6,-50.6 285.8,-51.7 287.9,-52.9 289.3,-54.6 290.7,-57.4 293.5,-66.8 294.2,-68.9 294.9,-69.9 295.6,-69.7 296.3,-68.4 299.1,-59.8 301.2,-55.7 302.6,-54 304,-52.9 307.5,-51.9 308.7,-48.1 1.3,1.5"/>
<polygon transform="translate(282.2,263.1)" points="0,-1 9.8,-5 14.7,-6.4 19.6,-7 28.7,-7.1 42,-8.9 45.5,-10.3 53.9,-15.5 56,-16.5 57.4,-16.9 60.2,-16.8 68.6,-14.2 72.8,-13.6 74.9,-13.9 81.9,-16.2 84.7,-16.4 92.5,-15.9 95.3,-16.4 99.5,-17.8 101.6,-18.8 103.7,-20.4 105.1,-22.2 106.5,-24.9 108.6,-32 112.1,-46.9 112.8,-48.4 113.5,-47.3 117,-35.1 119.1,-29.8 120.5,-27.8 121.9,-26.5 123.3,-25.7 124.7,-25.3 126.8,-25.5 132.4,-26.8 138.7,-27 140.8,-27.9 145,-30.6 147.1,-31.4 149.2,-31.5 152,-31.1 153.4,-31.2 154.8,-32.2 155.5,-33.2 159.7,-42.3 160.4,-43.4 161.8,-44.5 164.6,-44.2 167.4,-44.3 168.8,-43.7 170.2,-42.3 173.7,-37.3 175.1,-35.9 175.8,-35.6 176.5,-35.5 177.9,-35.9 182.1,-39 184.2,-40.3 185.6,-40.8 186.3,-40.6 187,-40.1 190.5,-36.2 192.6,-34.9 194,-34.6 196.8,-34.5 200.3,-35.2 206.6,-38.2 212.2,-39.9 216.4,-43 219.2,-44.6 219.9,-45.3 221.3,-48.1 222.7,-53.2 226.2,-75.2 226.9,-78.3 227.6,-79.6 228.3,-78.9 229,-76.4 231.1,-64.9 232.5,-59.9 233.9,-57.7 238.8,-52.1 240.2,-50.8 241.6,-50 243.7,-49.5 245.8,-49.4 247.2,-49.8 248.6,-51.2 250,-53.6 251.4,-56.8 256.3,-69.6 257.7,-71.8 258.4,-72.1 259.1,-72 260.5,-71.1 263.4,-68.6 265.5,-65.1 271.1,-54.2 272.5,-52.2 273.9,-50.9 275.3,-50.3 278.1,-50.3 282.3,-51.1 286.5,-52.4 288.6,-53.9 290,-56 290.7,-57.6 292.1,-62.8 294.2,-72.6 294.9,-73.9 295.6,-72.9 298.4,-61.1 299.1,-59.1 300.5,-56.2 301.9,-54.5 303.3,-53.4 307.5,-52.1 308.7,-48.1 1.3,1.5"/>
<polygon transform="translate(283.5,263.4)" points="0,-0.9 9.8,-4.5 14,-5.6 18.2,-6.2 28,-6.9 42,-8.9 46.2,-10.5 54.6,-15.3 57.4,-16.2 60.9,-16.1 68.6,-14.1 72.1,-13.6 74.2,-13.9 79.8,-16.1 82.6,-16.8 85.4,-16.8 93.2,-16.1 96,-16.5 98.8,-17.4 100.9,-18.4 103,-19.8 104.4,-21.2 105.8,-23.3 107.9,-28.8 111.4,-42.3 112.1,-44.3 112.8,-45.2 113.5,-44.8 114.2,-43.4 117,-35.5 119.1,-31.1 120.5,-29.2 122.6,-27.2 124,-26.3 125.4,-26 126.8,-26.1 131,-27.5 133.1,-27.9 138.7,-27.6 140.8,-27.7 146.4,-29.7 152,-30.4 153.4,-30.8 154.8,-31.8 156.2,-33.2 159.7,-38.5 161.1,-40.2 166,-45 167.4,-45.8 168.1,-45.8 169.5,-44.9 173.7,-38.9 175.1,-37.7 176.5,-37.4 180.7,-38.1 182.8,-39.1 185.6,-41.1 186.3,-41 187,-40.3 191.2,-35.4 192.6,-34.5 194,-34.1 196.8,-34.2 199.6,-34.9 207.3,-39.4 208.7,-39.7 212.2,-39.9 213.6,-40.3 217.8,-42.8 219.2,-44.1 220.6,-46.8 221.3,-48.9 222.7,-55.2 223.4,-59.7 226.2,-84.3 226.9,-89.2 227.6,-91.4 228.3,-89.8 229,-85.6 231.1,-70.2 231.8,-66.8 232.5,-64.8 235.3,-61.4 238.1,-55.6 240.2,-52.1 241.6,-50.5 243,-49.6 245.1,-49.1 246.5,-49.2 247.9,-50 248.6,-50.8 250.7,-54.4 256.3,-67.3 257.7,-69.1 258.4,-69.4 259.1,-69.4 260.5,-68.6 263.4,-66 265.5,-63.1 271.1,-53.7 272.5,-52 273.9,-50.8 276,-50.3 278.1,-50.5 283,-51.7 287.2,-53.2 289.3,-55 290.7,-57.8 292.1,-63.4 294.2,-75.6 294.9,-78.1 295.6,-75.7 298.4,-60.9 299.8,-57.1 301.2,-55.1 302.6,-54 307.5,-52.4 308.7,-48.1 1.3,1.5"/>
<polygon transform="translate(284.8,263.8)" points="0,-0.7 9.1,-3.8 13.3,-4.9 17.5,-5.6 25.9,-6.4 33.6,-7.8 42.7,-9 46.2,-10.3 53.9,-14.4 57.4,-15.5 60.9,-15.5 69.3,-13.7 72.1,-13.5 74.2,-14 79.8,-16.6 82.6,-17.3 85.4,-17.3 93.2,-16.2 95.3,-16.4 98.1,-17.1 100.9,-18.4 103,-19.7 104.4,-21 105.8,-22.8 107.9,-27.5 111.4,-38.3 112.1,-39.7 112.8,-40.4 113.5,-40.4 114.2,-39.8 117.7,-34.9 123.3,-28 124.7,-27 126.1,-26.7 127.5,-27 131.7,-28.7 133.8,-29.2 138.7,-29.5 143.6,-28.7 145.7,-28.6 149.9,-29.5 152.7,-30.7 156.2,-33.1 159.7,-36.7 162.5,-40.5 166,-46.8 167.4,-48.3 168.1,-48.4 168.8,-48.1 169.5,-47.4 173,-41.8 174.4,-40.5 175.8,-40.4 177.9,-40.8 182.1,-40.5 185.6,-41.8 186.3,-41.5 191.2,-35.4 192.6,-34.5 194,-34.1 196.8,-34.2 199.6,-35.2 202.4,-37.2 205.9,-40.7 208,-41.9 209.4,-41.8 212.9,-40.5 214.3,-40.5 215.7,-41 217.8,-42.3 219.2,-43.9 220.6,-46.9 222,-52.1 223.4,-60.9 226.9,-95.4 227.6,-99.3 228.3,-96 230.4,-78.2 231.1,-74 231.8,-71.8 232.5,-71.4 233.9,-71.7 234.6,-70.9 236,-66.8 238.1,-58.8 239.5,-54.9 240.9,-52.1 243,-49.8 244.4,-49.1 245.8,-49 247.2,-49.4 248.6,-50.6 250.7,-53.8 255.6,-63.8 257,-65.7 258.4,-66.6 259.1,-66.6 260.5,-66 263.4,-63.7 266.2,-60.5 271.8,-52.8 273.2,-51.5 274.6,-50.7 276,-50.4 278.8,-50.9 287.2,-53.6 289.3,-55.2 290.7,-57.5 292.1,-62.4 294.2,-72.1 294.9,-73.3 295.6,-72.2 298.4,-60 299.8,-56.8 300.5,-55.8 301.9,-54.8 307.5,-52.8 308.7,-48.1 1.3,1.5"/>
<polygon transform="translate(286,264.1)" points="0,-0.6 9.1,-3.5 13.3,-4.5 25.2,-6 33.6,-7.8 42.7,-8.9 46.2,-10.1 53.9,-13.8 57.4,-14.8 60.9,-14.9 68.6,-13.6 71.4,-13.4 74.2,-14.1 79.8,-17.1 82.6,-18 85.4,-17.9 93.2,-16.4 95.3,-16.5 97.4,-16.9 101.6,-18.8 103.7,-20.2 105.1,-21.5 107.2,-24.4 110.7,-32.5 112.1,-35.1 113.5,-36.2 117.7,-37.6 119.1,-37.1 119.8,-36.3 123.3,-29.8 124,-28.8 125.4,-27.7 126.8,-27.5 128.2,-28 136.6,-32.5 138.7,-33.3 140.1,-33.2 141.5,-32.6 146.4,-29 147.1,-28.8 148.5,-28.9 150.6,-29.8 153.4,-31.6 158.3,-35.5 160.4,-37.5 162.5,-40.9 166.7,-50.2 167.4,-51.1 168.1,-51.4 168.8,-50.9 169.5,-49.9 172.3,-44.4 173.7,-42.7 174.4,-42.4 175.1,-42.5 177.2,-44 177.9,-44.1 180,-43.4 182.8,-43.5 184.9,-43.1 186.3,-42.1 189.1,-38.1 191.2,-35.7 192.6,-34.7 194,-34.3 196.1,-34.3 197.5,-34.6 200.3,-36.2 202.4,-38.4 206.6,-44.7 208,-45.7 209.4,-45.3 212.2,-42.3 213.6,-41.2 215,-41 216.4,-41.4 218.5,-42.9 219.9,-45.1 221.3,-48.9 222,-51.6 223.4,-59.7 226.2,-84.1 226.9,-89.1 227.6,-91.3 228.3,-89.9 230.4,-78.2 231.1,-76.7 231.8,-77.5 233.2,-81.7 233.9,-82.4 234.6,-81.4 235.3,-78.6 238.1,-62 239.5,-56.3 241.6,-51.5 242.3,-50.5 243.7,-49.4 244.4,-49.1 245.8,-49.1 247.2,-49.7 248.6,-50.8 250.7,-53.5 255.6,-61.7 257.7,-63.7 259.1,-64 261.9,-63 265.5,-60.8 267.6,-58.7 271.8,-53.5 273.9,-51.6 276,-50.7 277.4,-50.8 279.5,-51.3 284.4,-53.3 287.9,-54.4 290,-55.9 291.4,-58.2 294.2,-66.2 294.9,-66.9 295.6,-66.3 298.4,-58.7 299.8,-56.6 301.2,-55.8 304.7,-54.9 307.5,-53.4 308.7,-48.1 1.3,1.5"/>
<polygon transform="translate(287.3,264.4)" points="0,-0.5 12.6,-3.9 23.8,-5.5 33.6,-7.6 42.7,-8.7 46.2,-9.8 53.9,-13.2 57.4,-14.1 60.9,-14.3 69.3,-13.3 72.1,-13.5 74.9,-14.6 80.5,-18 82.6,-18.7 85.4,-18.6 91.1,-17 93.2,-16.6 95.3,-16.6 98.1,-17.3 100.9,-18.4 103.7,-20.1 105.8,-21.8 107.2,-23.4 114.2,-34.6 117,-40.6 117.7,-41.7 118.4,-42 119.1,-41.7 119.8,-40.7 124,-30.3 124.7,-29.2 126.1,-28.2 127.5,-28.3 129.6,-29.6 133.1,-32.8 137.3,-37.6 138.7,-38.5 139.4,-38.6 140.8,-38.1 142.2,-36.7 147.1,-30 147.8,-29.4 149.2,-29.3 151.3,-30.4 154.1,-32.6 159,-36.8 161.1,-38.9 163.2,-42.9 166.7,-52 167.4,-53.4 168.1,-53.8 168.8,-53 172.3,-45 173.7,-42.8 174.4,-42.3 175.1,-42.2 175.8,-42.5 179.3,-44.6 182.1,-47.1 182.8,-47.4 183.5,-47.2 184.2,-46.7 185.6,-44.8 188.4,-39.6 189.8,-37.6 191.9,-35.6 194,-34.8 196.1,-34.7 197.5,-34.9 198.9,-35.6 200.3,-36.8 202.4,-39.8 206.6,-49.4 207.3,-50.3 208,-50.7 208.7,-50.6 209.4,-49.9 212.2,-44.7 213.6,-42.6 215,-41.8 216.4,-42 217.8,-42.8 219.2,-44.2 220.6,-46.6 221.3,-48.3 222.7,-53.3 223.4,-56.8 226.2,-75.1 226.9,-78.2 227.6,-79.8 228.3,-79.5 229.7,-76.4 230.4,-76.3 231.1,-78.5 233.2,-91.9 233.9,-93.8 234.6,-91.9 235.3,-87.4 237.4,-69.6 238.8,-60.3 239.5,-57.1 240.9,-52.9 242.3,-50.4 243.7,-49.3 244.4,-49.1 245.8,-49.4 247.9,-50.9 250,-53 255.6,-60.2 257,-61.4 259.1,-62.1 264.1,-62.1 266.2,-61.4 268.3,-59.5 273.2,-53.1 274.6,-51.8 276,-51.2 277.4,-51.1 279.5,-51.7 284.4,-54.6 289.3,-55.2 290.7,-56.2 293.5,-60.3 294.2,-61.2 294.9,-61.5 295.6,-61.3 297.7,-58.5 299.1,-57.1 300.5,-56.6 302.6,-56.7 304,-56.5 305.4,-55.7 307.5,-54.1 308.7,-48.1 1.3,1.5"/>
<polygon transform="translate(288.5,264.8)" points="0,-0.5 11.9,-3.4 23.1,-5.1 33.6,-7.3 42.7,-8.6 46.2,-9.6 53.9,-12.6 57.4,-13.5 60.9,-13.8 68.6,-13.1 71.4,-13.3 74.2,-14.4 80.5,-18.6 82.6,-19.4 85.4,-19.2 91.1,-17.1 93.2,-16.7 96,-16.8 98.8,-17.6 103,-19.7 105.8,-21.5 108.6,-24.2 111.4,-27.9 113.5,-32.3 117,-44.3 117.7,-46.2 118.4,-47 119.1,-46.4 119.8,-44.8 124,-31.4 125.4,-29.2 126.8,-28.6 127.5,-28.8 128.9,-29.6 131,-31.8 133.8,-36.1 137.3,-42.6 138.7,-44.2 139.4,-44.4 140.1,-44.2 141.5,-42.6 146.4,-32.7 147.8,-30.5 149.2,-29.6 150.6,-30 158.3,-35.6 160.4,-37.5 162.5,-41 166.7,-51.6 167.4,-52.9 168.1,-53.2 168.8,-52.5 169.5,-51.2 172.3,-44.4 173.7,-41.7 175.1,-40.2 175.8,-40.1 177.2,-41 177.9,-42 181.4,-50.4 182.1,-51.6 182.8,-52.1 183.5,-51.8 184.9,-49.4 187.7,-42.1 189.1,-39.3 190.5,-37.6 191.9,-36.6 195.4,-35.3 196.8,-35.2 198.2,-35.6 199.6,-36.6 201,-38.4 203.1,-43.2 206.6,-54.5 207.3,-55.8 208,-56.4 208.7,-56.1 209.4,-55 212.2,-47.3 213.6,-44.2 214.3,-43.4 215,-43 216.4,-43.2 219.2,-44.9 221.3,-47.9 223.4,-53.8 226.9,-67.8 227.6,-69.1 229,-69.8 229.7,-70.9 230.4,-73.7 231.1,-78.4 233.2,-97.7 233.9,-101.4 234.6,-97.9 237.4,-70.9 238.8,-60.5 239.5,-57.1 240.9,-52.6 241.6,-51.1 243,-49.5 244.4,-49.3 246.5,-50.6 253.5,-58 255.6,-59.7 264.8,-64 266.2,-63.8 267.6,-62.7 273.9,-53.4 275.3,-52.1 276.7,-51.4 278.1,-51.5 279.5,-52.1 283,-55.3 284.4,-56.2 285.8,-56.2 288.6,-55.3 290,-55.4 291.4,-56.1 293.5,-57.8 294.9,-58.4 295.6,-58.4 297.7,-57.5 299.1,-57.2 301.9,-58.1 303.3,-58.3 304.7,-57.6 307.5,-55 308.7,-48.1 1.3,1.5"/>
<polygon transform="translate(289.8,265.1)" points="1.4,-0.7 11.9,-3.1 22.4,-4.8 33.6,-7 42.7,-8.4 46.2,-9.3 53.2,-11.9 56.7,-12.8 60.9,-13.2 68.6,-12.9 71.4,-13.2 74.2,-14.5 80.5,-19.2 82.6,-20.1 84,-20.2 85.4,-19.9 90.4,-17.5 93.2,-16.7 96,-16.9 98.8,-17.8 103,-19.8 106.5,-22.1 109.3,-24.4 111.4,-27 113.5,-32 117.7,-48.8 118.4,-50.3 119.1,-49.2 122.6,-36.2 124,-32 125.4,-29.6 126.1,-29.1 126.8,-28.9 127.5,-29.1 128.9,-29.9 130.3,-31.4 131.7,-33.5 133.8,-37.7 138,-48 138.7,-49.2 139.4,-49.8 140.1,-49.3 140.8,-48 147.1,-32.5 148.5,-30.4 149.2,-29.9 149.9,-29.8 150.6,-30.1 154.8,-33.1 159,-35.3 160.4,-36.5 162.5,-39.9 166.7,-49.2 167.4,-50.1 168.1,-50.3 168.8,-49.9 169.5,-49 174.4,-39 175.1,-38.2 175.8,-38 176.5,-38.5 177.9,-41.4 181.4,-54.4 182.1,-56.3 182.8,-57.2 183.5,-56.6 184.2,-55 187.7,-43.4 189.1,-40.5 190.5,-39.2 194.7,-36.5 196.8,-35.8 198.2,-36 199.6,-37 200.3,-37.8 201.7,-40.5 203.1,-44.8 206.6,-59.1 207.3,-61.2 208,-62.1 208.7,-61.4 209.4,-59.6 212.9,-47.4 213.6,-45.9 214.3,-45 215,-44.6 215.7,-44.7 218.5,-46.2 220.6,-47.6 222,-49.4 223.4,-51.9 226.9,-60.2 229,-63.9 229.7,-66.2 230.4,-70 233.2,-91.2 233.9,-93.1 234.6,-91.3 235.3,-86.7 237.4,-68.8 238.8,-59.4 239.5,-56.1 240.9,-51.9 241.6,-50.6 242.3,-49.7 243,-49.4 243.7,-49.4 245.1,-50.2 251.4,-57.6 253.5,-59.5 254.9,-60.4 258.4,-61.5 259.8,-62.2 264.1,-66.5 265.5,-67 266.2,-66.7 267.6,-65.4 273.9,-54.4 275.3,-52.7 276.7,-51.8 278.1,-51.8 279.5,-52.5 284.4,-58 285.1,-58 285.8,-57.6 288.6,-55.5 290,-55.2 294.9,-57 298.4,-57.3 301.9,-59.7 303.3,-60 304.7,-59.2 307.5,-55.8 308.7,-48.1 2.7,1.3"/>
<polygon transform="translate(291,265.5)" points="2.8,-0.9 11.2,-2.8 42.7,-8.2 52.5,-11.2 56.7,-12.3 60.9,-12.7 68.6,-12.7 70.7,-12.9 74.2,-14.6 81.2,-20.3 82.6,-20.9 84,-20.9 85.4,-20.5 90.4,-17.6 92.5,-16.8 93.9,-16.7 95.3,-16.8 98.1,-17.7 102.3,-19.8 105.8,-21.9 109.3,-24.6 111.4,-26.9 112.8,-29.6 113.5,-31.5 117,-44.2 117.7,-46.2 118.4,-47 119.1,-46.5 119.8,-44.9 124,-31.8 125.4,-29.7 126.8,-29.1 128.2,-29.4 129.6,-30.5 131.7,-33.3 133.8,-37.5 138,-47.6 138.7,-48.7 139.4,-49.2 140.1,-48.8 141.5,-46.1 147.1,-32.5 148.5,-30.4 149.2,-30 149.9,-30.1 150.6,-30.5 155.5,-34.7 156.9,-35.3 159.7,-35.8 161.1,-36.7 162.5,-38.7 166,-45.3 167.4,-46.8 168.1,-47 168.8,-46.7 170.2,-45.1 174.4,-37.5 175.1,-36.8 175.8,-36.7 176.5,-37.5 177.9,-41.2 182.1,-59.1 182.8,-60.6 183.5,-59.4 187,-46.4 188.4,-43.3 189.1,-42.6 191.9,-41.1 196.1,-36.9 197.5,-36.3 198.2,-36.4 199.6,-37.3 200.3,-38.1 201.7,-40.9 202.4,-43 207.3,-64.2 208,-65.8 208.7,-64.5 212.2,-50.8 213.6,-47.4 214.3,-46.9 215,-47 217.8,-49.1 221.3,-50.3 223.4,-52.3 228.3,-59.4 229,-60.8 230.4,-65.8 232.5,-77.5 233.2,-80.2 233.9,-81.2 234.6,-80.2 235.3,-77.4 238.8,-57.1 240.2,-52.5 241.6,-50 242.3,-49.5 243,-49.4 243.7,-49.8 245.1,-51.1 250.7,-59.4 252.8,-61.9 254.9,-63.1 258.4,-63.1 259.8,-63.7 261.2,-65.2 264.1,-69.3 264.8,-69.9 265.5,-70.1 266.2,-69.8 267.6,-68 273.9,-55.2 275.3,-53.3 276.7,-52.2 278.1,-52 279.5,-52.7 284.4,-58.5 285.1,-58.5 288.6,-55.4 289.3,-55.1 290.7,-55.1 296.3,-56.6 297.7,-57.1 301.9,-61.4 302.6,-61.9 303.3,-61.9 304,-61.5 307.5,-56.4 308.7,-48.1 4.1,1.1"/>
<polygon transform="translate(292.3,265.8)" points="5.6,-1.4 42,-7.8 50.4,-10.3 56.7,-11.8 60.9,-12.3 67.9,-12.4 70,-12.7 72.1,-13.4 74.9,-15.1 81.2,-20.7 82.6,-21.4 84.7,-21.4 90.4,-17.8 92.5,-16.9 94.6,-16.8 96.7,-17.4 100.9,-19.4 104.4,-21.5 107.2,-23.7 111.4,-27.7 113.5,-30.9 117,-40.3 117.7,-41.5 118.4,-42.1 119.1,-41.8 119.8,-40.9 124,-31.1 125.4,-29.5 126.8,-29.1 128.9,-29.7 131,-31.4 133.1,-34.4 137.3,-42.1 138.7,-43.6 139.4,-43.8 140.1,-43.6 141.5,-42.1 146.4,-32.6 147.8,-30.5 148.5,-30 149.2,-30 149.9,-30.4 154.8,-36.1 156.2,-37.2 157.6,-37.4 160.4,-36.5 161.8,-37 166,-42.5 167.4,-43.5 168.1,-43.6 169.5,-43 170.9,-41.3 174.4,-36.2 175.1,-35.8 175.8,-36 176.5,-36.9 177.2,-38.4 181.4,-54.2 182.1,-56.2 182.8,-57.1 183.5,-56.6 186.3,-48.3 187,-46.7 187.7,-45.8 188.4,-45.5 190.5,-46.1 191.2,-45.8 192.6,-44.1 196.1,-38 197.5,-36.9 198.9,-36.9 200.3,-38.2 201,-39.3 202.4,-42.8 206.6,-59.5 207.3,-61.6 208,-62.5 208.7,-62 209.4,-60.2 212.2,-51.1 212.9,-49.8 213.6,-49.3 214.3,-49.8 216.4,-53.2 217.8,-54.6 219.2,-54.7 221.3,-53.8 222,-53.9 223.4,-54.7 229.7,-61.9 232.5,-68.9 233.2,-70.2 233.9,-70.5 234.6,-69.7 235.3,-67.9 238.1,-56.9 239.5,-52.8 240.9,-50.3 241.6,-49.6 242.3,-49.5 243.7,-50.4 245.1,-52.2 251.4,-64.3 252.8,-66.3 254.2,-67.3 254.9,-67.5 256.3,-67.1 258.4,-65.8 259.8,-65.7 261.2,-66.9 264.8,-72.7 265.5,-72.9 266.2,-72.4 267.6,-69.9 271.8,-60.1 273.9,-55.8 275.3,-53.8 276.7,-52.6 278.1,-52.3 279.5,-52.7 283,-56 284.4,-56.9 285.8,-56.7 287.9,-55.3 289.3,-54.9 290.7,-55.1 293.5,-56.3 296.3,-56.6 297.7,-57.5 301.2,-62 302.6,-63.5 303.3,-63.6 304,-62.9 307.5,-56.9 308.7,-48.1 6.9,0.6"/>
<polygon transform="translate(293.5,266.2)" points="22.4,-4.2 42,-7.7 49,-9.9 56,-11.2 60.9,-11.9 67.9,-12.2 70,-12.6 72.1,-13.4 74.9,-15.1 77.7,-17.4 81.2,-20.8 83.3,-21.8 84.7,-21.7 89.7,-18.2 91.8,-17.1 93.2,-16.8 95.3,-17.1 100.2,-19.4 104.4,-22.2 106.5,-24.2 110.7,-29.2 114.2,-32.2 117,-36.2 118.4,-37.3 119.1,-37.1 119.8,-36.6 124,-30.4 125.4,-29.5 126.8,-29.2 128.9,-29.6 131.7,-31.1 133.1,-32.4 137.3,-37.3 138.7,-38.1 139.4,-38.3 140.1,-38.1 141.5,-37.2 142.9,-35.6 146.4,-30.5 147.8,-29.4 148.5,-29.4 149.9,-30.4 155.5,-37.6 156.2,-38.2 156.9,-38.5 159.7,-36.8 161.1,-36.4 162.5,-37 166,-39.9 167.4,-40.5 168.1,-40.5 168.8,-40.3 170.2,-39.4 173.7,-35.6 174.4,-35.1 175.1,-35.1 175.8,-35.4 177.2,-37.6 181.4,-49.9 182.1,-51.2 182.8,-51.8 183.5,-51.6 186.3,-47.1 187,-46.9 187.7,-47.4 189.8,-50.5 190.5,-50.8 191.2,-50.5 192.6,-48 196.1,-39.2 197.5,-37.4 198.2,-37.1 198.9,-37.1 199.6,-37.4 201,-39.1 202.4,-42.1 205.9,-54 207.3,-57.6 208,-58.3 208.7,-58.2 209.4,-57.3 211.5,-52.6 212.2,-51.6 212.9,-51.4 213.6,-52.2 214.3,-53.9 216.4,-60 217.1,-61.3 217.8,-62 218.5,-62 219.2,-61.5 221.3,-58.7 222,-58.2 222.7,-58.2 223.4,-58.7 226.2,-62.3 227.6,-63.6 229.7,-64.4 232.5,-64.7 233.2,-64.6 233.9,-64.1 235.3,-61.7 238.1,-54.5 239.5,-51.6 240.9,-49.9 241.6,-49.6 242.3,-49.8 243.7,-51.2 245.1,-53.4 247.2,-58 251.4,-69.2 252.8,-71.9 254.2,-73.2 254.9,-73.3 255.6,-72.9 259.1,-68.6 259.8,-68.1 260.5,-68 261.9,-69.1 264.8,-74.1 265.5,-74.4 266.2,-73.7 266.9,-72.3 273.2,-57.5 275.3,-54.3 276,-53.6 277.4,-52.9 278.8,-52.8 280.2,-53.1 284.4,-55.2 285.8,-55.2 287.9,-54.6 289.3,-54.7 290.7,-55.7 292.8,-57.9 293.5,-58.3 294.2,-58.1 295.6,-57.3 296.3,-57.2 297,-57.4 298.4,-59 301.2,-63.1 302.6,-64.2 303.3,-64.1 304,-63.4 307.5,-57.1 308.7,-48.1 23.7,-2.1"/>
<polygon transform="translate(294.8,266.5)" points="29.4,-5.3 42,-7.6 49.7,-10.1 60.2,-11.4 67.2,-12 70,-12.6 74.2,-14.6 77,-16.7 81.2,-20.5 83.3,-21.4 84,-21.5 85.4,-21 89.7,-18.1 91.8,-17.1 93.2,-16.9 95.3,-17.3 100.9,-20.2 104.4,-23 107.2,-26.8 110.7,-33.3 112.1,-34.6 113.5,-34.6 115.6,-33.5 119.1,-33.4 123.3,-30.5 124.7,-30 126.8,-29.6 128.9,-29.7 131,-30.3 133.8,-31.3 137.3,-33 139.4,-33.4 141.5,-32.6 146.4,-28.6 147.8,-28.2 148.5,-28.5 149.9,-29.7 154.8,-35 156.9,-36.1 161.1,-35.4 165.3,-37.3 166.7,-37.6 168.1,-37.7 169.5,-37.2 173.7,-34.3 175.1,-34.4 175.8,-34.9 177.2,-36.6 180.7,-43.9 182.1,-46 182.8,-46.5 183.5,-46.5 185.6,-45.5 186.3,-46 187,-47.2 189.8,-55 190.5,-55.7 191.2,-55.1 191.9,-53.5 196.1,-40.2 197.5,-37.8 198.2,-37.3 198.9,-37.2 200.3,-38 202.4,-41.5 206.6,-54.3 208,-56.8 208.7,-57 209.4,-56.6 211.5,-53.5 212.2,-53.1 212.9,-53.9 213.6,-55.8 216.4,-67.5 217.1,-69.4 217.8,-70.3 218.5,-70.1 219.2,-69 221.3,-64 222,-63.1 222.7,-63 223.4,-63.7 226.9,-69.6 228.3,-70.5 229.7,-69.9 231.1,-68.3 233.2,-64.9 238.8,-52.5 240.2,-50.5 240.9,-50.1 241.6,-50 242.3,-50.3 243.7,-52 245.8,-56.3 247.9,-62.6 252.1,-76.9 253.5,-79.6 254.2,-80.1 254.9,-80 256.3,-78.4 259.1,-72 260.5,-69.8 261.2,-69.5 261.9,-69.7 264.8,-72.8 265.5,-73 266.2,-72.4 267.6,-69.9 273.2,-57.7 274.6,-55.6 276.7,-53.9 278.1,-53.6 280.2,-53.5 284.4,-54.1 287.2,-54.1 288.6,-54.5 290,-55.8 292.8,-62.6 293.5,-63.3 294.2,-62.7 296.3,-58.6 297,-58.5 298.4,-60 300.5,-63.5 301.9,-64.7 302.6,-64.7 304,-63.5 307.5,-57.1 308.7,-48.1 30.7,-3.2"/>
<polygon transform="translate(296.1,266.9)" points="37.1,-6.6 42.7,-7.7 49.7,-10.3 55.3,-10.5 66.5,-11.8 69.3,-12.4 72.1,-13.4 74.2,-14.6 80.5,-19.4 82.6,-20.6 84,-20.7 85.4,-20.4 89.7,-17.9 91.8,-17 93.9,-17.1 96,-17.8 98.8,-19.3 101.6,-21.2 103.7,-23.1 105.1,-24.8 107.2,-29 110.7,-38.9 111.4,-40 112.1,-40.6 112.8,-40.5 113.5,-39.8 117,-33.4 117.7,-32.6 119.1,-31.8 121.9,-31 127.5,-30.1 133.1,-31.1 138,-30.7 140.8,-29.9 146.4,-27.3 147.1,-27.2 148.5,-27.6 154.1,-32 156.9,-33.2 161.1,-33.5 165.3,-34.9 167.4,-35.2 169.5,-34.7 173,-33.4 174.4,-33.5 176.5,-35 181.4,-40.9 182.8,-41.8 184.9,-42.6 185.6,-43.4 187,-47.1 189.8,-57.5 190.5,-58.8 191.2,-57.7 194.7,-44.8 196.1,-40.6 197.5,-38 198.2,-37.4 198.9,-37.2 199.6,-37.4 201,-38.8 202.4,-41.4 203.8,-45.4 206.6,-55.6 208,-59.1 208.7,-59.7 209.4,-59.4 211.5,-55.9 212.2,-55.5 212.9,-56.5 214.3,-62.2 216.4,-74.1 217.1,-77.2 217.8,-78.6 218.5,-77.9 220.6,-70.6 221.3,-68.8 222,-67.9 222.7,-68.1 223.4,-69.3 225.5,-75.5 226.9,-78.8 227.6,-79.6 228.3,-79.7 229,-79.2 229.7,-78.2 231.1,-75 238.1,-55.1 240.2,-51.4 240.9,-50.9 241.6,-50.8 242.3,-51.1 243.7,-52.9 245.8,-57.8 247.9,-65.4 252.1,-83.5 253.5,-86.9 254.2,-87.5 254.9,-87.4 256.3,-84.9 259.8,-73.4 261.2,-70.4 261.9,-69.8 262.7,-69.6 264.8,-70.4 265.5,-70.3 266.2,-69.9 267.6,-68.1 273.2,-57.9 274.6,-56.2 276,-55.2 278.1,-54.6 285.1,-53.9 287.2,-54.1 288.6,-54.8 290,-56.9 290.7,-59.1 292.8,-68.7 293.5,-70 294.2,-68.8 296.3,-60.7 297,-59.9 297.7,-60.3 298.4,-61.3 300.5,-65.1 301.2,-65.9 301.9,-66.1 302.6,-65.8 304,-64 307.5,-57.3 308.7,-48.1 38.4,-4.4"/>
<polygon transform="translate(297.3,267.2)" points="37.1,-6.5 42.7,-7.8 48.3,-10.1 49.7,-10.5 56,-10.3 65.1,-11.4 68.6,-12.2 74.2,-14.5 80.5,-18.9 82.6,-19.8 84,-19.9 85.4,-19.6 89.7,-17.6 91.8,-17 93.9,-17.2 96.7,-18.5 100.2,-20.6 102.3,-22.3 103.7,-23.8 105.1,-26 107.2,-31.6 110.7,-45.1 111.4,-46.7 112.1,-47.4 112.8,-47.1 113.5,-45.9 117,-35.1 117.7,-33.6 119.1,-32 120.5,-31.6 123.3,-31.6 127.5,-31 128.9,-31.1 132.4,-32.4 133.8,-32.4 135.9,-31.7 143.6,-27.8 145.7,-27 147.8,-26.7 149.9,-27.3 155.5,-30.2 165.3,-32.8 167.4,-33 171.6,-32.4 173.7,-32.6 175.8,-33.7 180.7,-37.3 183.5,-38.8 184.9,-40.2 185.6,-41.6 189.1,-53 189.8,-54.8 190.5,-55.6 191.2,-55 191.9,-53.4 195.4,-42 196.8,-38.8 198.2,-37.2 198.9,-37.1 199.6,-37.3 201,-38.8 201.7,-40 203.1,-43.7 208,-63.5 208.7,-64.5 209.4,-63.9 211.5,-58.3 212.2,-57.4 212.9,-57.9 214.3,-63.6 217.1,-81.3 217.8,-83.7 218.5,-82.2 220.6,-73.6 221.3,-72.2 222,-72.1 222.7,-73.4 223.4,-75.8 226.2,-88.9 226.9,-91 227.6,-92.1 228.3,-92.2 229,-91.2 229.7,-89.4 235.3,-66.7 238.1,-57.5 240.2,-53.1 240.9,-52.4 241.6,-52 242.3,-52.2 243.7,-53.8 245.8,-59.1 247.9,-67.9 252.1,-89.7 253.5,-94.3 254.2,-95.1 254.9,-94.7 256.3,-91 259.8,-75.8 261.2,-71.1 261.9,-69.6 263.4,-68.2 265.5,-67.6 266.9,-66.6 272.5,-59.1 274.6,-57.1 276.7,-56 285.1,-54.6 287.2,-54.6 288.6,-55.4 289.3,-56.3 290,-57.8 290.7,-60.4 292.8,-72.5 293.5,-75.3 294.2,-72.7 295.6,-65 296.3,-62.3 297,-61.4 297.7,-61.8 298.4,-62.8 301.2,-67.9 301.9,-68 303.3,-66.2 307.5,-57.6 308.7,-48.1 38.4,-4.4"/>
<polygon transform="translate(298.6,267.6)" points="35.7,-6.3 43.4,-8.1 49,-10.4 56.7,-10.2 64.4,-11.2 67.9,-11.9 74.2,-14.4 80.5,-18.2 82.6,-19 85.4,-18.9 89.7,-17.4 91.8,-17 94.6,-17.7 98.1,-19.6 100.9,-21.6 103,-23.7 104.4,-25.7 105.8,-28.8 107.2,-33.7 110.7,-50.7 111.4,-53.2 112.1,-54.3 112.8,-53.6 113.5,-51.5 117,-37.1 117.7,-35.2 118.4,-33.9 119.1,-33.2 120.5,-32.8 123.3,-32.9 127.5,-32.1 128.9,-32.6 132.4,-35.1 133.8,-35.1 135.2,-34.3 138.7,-31 141.5,-28.9 144.3,-27.5 147.1,-26.7 149.2,-26.5 151.3,-26.8 165.3,-31.3 173,-31.7 175.1,-32.5 182.8,-36.3 184.2,-37.4 184.9,-38.4 186.3,-41.5 189.1,-49 189.8,-50.2 190.5,-50.7 191.2,-50.4 191.9,-49.4 195.4,-40.6 196.8,-38.1 198.2,-36.9 198.9,-36.9 199.6,-37.2 201,-38.7 201.7,-40 203.1,-43.8 208,-66.3 208.7,-68 209.4,-66.7 211.5,-59 212.2,-57.6 212.9,-57.6 213.6,-59.2 214.3,-62.3 217.1,-77.2 217.8,-78.8 218.5,-78.5 220.6,-74 221.3,-74 222,-75.6 223.4,-83 226.2,-102.6 226.9,-105.7 227.6,-107.3 228.3,-107.4 229,-105.9 229.7,-103.3 233.9,-78.7 236.7,-65.6 238.1,-60.6 239.5,-56.8 240.9,-54.4 241.6,-53.8 242.3,-53.7 243,-54 243.7,-54.9 245.1,-57.9 245.8,-60.2 247.9,-69.7 252.8,-98.3 253.5,-101 254.2,-102.2 254.9,-101.4 255.6,-99.1 259.8,-77.3 261.2,-71.4 262.7,-67.7 264.1,-65.9 267.6,-63.6 273.9,-58.6 276,-57.4 280.9,-56.6 285.1,-55.5 286.5,-55.5 287.9,-55.9 288.6,-56.4 290,-58.4 290.7,-60.4 292.8,-69.5 293.5,-70.9 294.2,-69.9 295.6,-64.9 296.3,-63.3 297,-63 298.4,-64.6 301.2,-69.5 301.9,-69.6 303.3,-67.5 307.5,-58.2 308.7,-48.1 37,-4.2"/>
<polygon transform="translate(299.8,267.9)" points="35,-6.2 43.4,-8.2 49,-10.2 56.7,-10 66.5,-11.5 73.5,-13.9 79.8,-17.2 81.9,-18.1 84.7,-18.3 89.7,-17.3 91.8,-17.1 94.6,-17.9 98.1,-20 100.9,-22.2 103,-24.4 104.4,-26.6 105.8,-29.9 107.9,-38.3 111.4,-57.1 112.1,-58.9 112.8,-57.5 117,-38.6 117.7,-36.6 118.4,-35.3 119.1,-34.6 120.5,-34.4 123.3,-34.6 126.1,-33.6 127.5,-33.6 128.9,-34.6 131.7,-38.9 132.4,-39.6 133.1,-39.9 133.8,-39.7 135.2,-38.2 138,-33.3 140.1,-30.5 142.9,-28.3 147.1,-26.7 149.9,-26.3 152.7,-26.5 156.2,-27.5 164.6,-30.6 167.4,-31 171.6,-31.1 173.7,-31.4 182.1,-34.4 183.5,-35.2 184.9,-36.7 189.1,-44.5 189.8,-45.3 190.5,-45.7 191.2,-45.5 191.9,-44.9 195.4,-38.9 196.8,-37.2 198.2,-36.5 199.6,-36.9 201,-38.4 201.7,-39.6 203.1,-43.2 208,-63.1 208.7,-64.1 209.4,-63.5 211.5,-57.4 212.2,-55.9 212.9,-55.6 213.6,-56.6 214.3,-59 217.1,-70.3 217.8,-71.6 218.5,-72.2 219.9,-72.3 220.6,-73.1 221.3,-75.1 222.7,-83.8 226.2,-117.1 226.9,-121.6 227.6,-124.1 228.3,-124.2 229,-122.3 229.7,-118.7 233.9,-86.3 235.3,-77 236.7,-69.7 238.1,-64 239.5,-59.8 240.9,-56.8 241.6,-56 242.3,-55.5 243,-55.5 243.7,-56 244.4,-57.1 245.8,-60.8 246.5,-63.5 248.6,-74.4 252.8,-101 253.5,-104.6 254.2,-106.2 254.9,-104.9 255.6,-101.7 259.1,-81.4 261.2,-71.1 262.7,-66.5 263.4,-65 264.8,-63.2 266.9,-62 271.8,-60.9 276,-58.4 280.9,-57.9 285.1,-56.7 286.5,-56.8 288.6,-58 290,-59.6 292.8,-65.8 293.5,-66.7 294.2,-66.6 295.6,-65.3 296.3,-65.1 297,-65.3 298.4,-66.7 300.5,-69.6 301.2,-70.3 301.9,-70.4 303.3,-68.2 307.5,-58.9 308.7,-48.1 36.3,-4.1"/>
<polygon transform="translate(301.1,268.3)" points="33.6,-5.9 43.4,-8.3 49,-9.9 56.7,-9.9 65.8,-11.3 72.8,-13.4 79.8,-16.7 81.9,-17.4 84.7,-17.7 92.5,-17.5 94.6,-18.2 96.7,-19.4 99.5,-21.4 101.6,-23.5 103.7,-26.3 105.1,-29.1 107.2,-35.8 110.7,-51.9 111.4,-54.3 112.1,-55.4 112.8,-54.7 113.5,-52.6 117,-39.5 118.4,-36.9 119.8,-36.1 122.6,-36.5 124,-36.1 126.1,-35 126.8,-34.9 127.5,-35.2 128.9,-37.4 131.7,-44.7 132.4,-45.7 133.1,-46.1 133.8,-45.8 134.5,-44.9 138,-35.4 140.1,-31.3 141.5,-29.6 143.6,-28 145.7,-27.1 147.8,-26.5 150.6,-26.2 152.7,-26.4 156.2,-27.4 165.3,-30.8 168.1,-31.2 174.4,-31.2 180.7,-32.8 182.8,-33.7 184.2,-34.6 185.6,-35.9 189.1,-40.4 190.5,-41.2 191.9,-40.8 195.4,-37.3 196.8,-36.3 198.2,-36 199.6,-36.5 201.7,-38.9 203.1,-42 206.6,-54 208,-57.5 208.7,-58.1 209.4,-57.9 212.2,-53.1 212.9,-52.8 213.6,-53.6 217.1,-64.4 219.9,-69.9 220.6,-72.3 221.3,-76.1 222.7,-87.8 226.2,-130.2 226.9,-137.2 227.6,-141.1 228.3,-141.1 229.7,-133.6 234.6,-88.3 236.7,-73.8 238.1,-67.4 239.5,-62.8 240.9,-59.3 242.3,-57.4 243,-57 243.7,-57.1 244.4,-57.8 245.1,-59.1 246.5,-63.4 247.9,-70.1 252.8,-98.6 253.5,-101.2 254.2,-102.3 254.9,-101.4 255.6,-99 259.8,-76.4 261.9,-67.3 263.4,-63.4 264.1,-62.2 265.5,-60.8 266.2,-60.4 267.6,-60.4 270.4,-61.9 271.1,-62 271.8,-61.8 274.6,-59.7 276,-59 277.4,-58.9 280.2,-59.4 284.4,-58.4 285.8,-58.4 287.2,-59 288.6,-60.3 293.5,-67.1 299.8,-70.7 301.2,-71 301.9,-70.6 303.3,-68.6 307.5,-59.9 308.7,-48.1 34.9,-3.9"/>
<polygon transform="translate(302.3,268.6)" points="32.9,-5.8 48.3,-9.6 50.4,-9.8 56,-9.8 60.2,-10.3 61.5,-8.2 34.2,-3.8"/>
<polygon transform="translate(302.3,268.6)" points="63.7,-10.9 71.4,-12.7 79.1,-15.9 81.9,-16.9 87.6,-17.9 92.5,-17.9 93.9,-18.2 96,-19.2 98.8,-21.3 100.9,-23.3 102.3,-25.1 104.4,-28.8 106.5,-34.6 110,-47.1 111.4,-50.4 112.1,-51 112.8,-50.7 113.5,-49.6 116.3,-42.4 117.7,-39.7 118.4,-38.9 119.8,-38.2 122.6,-38.4 123.3,-38.3 126.1,-36.3 126.8,-36.3 127.5,-36.9 128.2,-38.3 131.7,-50.9 132.4,-52.6 133.1,-53.2 133.8,-52.7 134.5,-51.2 138,-37.8 140.1,-32.1 141.5,-30 143.6,-28.1 145.7,-27.1 148.5,-26.4 151.3,-26.2 154.1,-26.7 157.6,-28 164.6,-30.9 166.7,-31.5 175.1,-31 180.7,-32 184.2,-33.5 188.4,-36.8 190.5,-37.8 191.9,-37.7 196.8,-35.5 198.9,-35.7 200.3,-36.6 201.7,-38.1 203.1,-40.4 206.6,-49.2 208,-51.7 208.7,-52.2 209.4,-52.3 211.5,-50.6 212.2,-50.4 212.9,-50.9 214.3,-54.1 217.1,-62.8 219.9,-69.5 221.3,-76.8 222.7,-89.7 226.9,-146.9 227.6,-153.1 228.3,-152.7 230.4,-140.2 234.6,-94.6 236.7,-77.3 238.1,-70.4 239.5,-65.3 240.9,-61.3 242.3,-58.7 243,-58 243.7,-57.8 244.4,-58.1 245.8,-60.7 247.9,-68.9 252.1,-90.7 253.5,-94.9 254.2,-95.5 254.9,-94.8 256.3,-90.7 260.5,-70.8 261.9,-65.5 263.4,-61.8 264.1,-60.5 265.5,-59.1 266.2,-58.9 267.6,-59.3 270.4,-62.3 271.1,-62.6 271.8,-62.3 274.6,-59.7 276,-59.1 277.4,-59.3 280.2,-60.7 284.4,-60.7 285.8,-60.9 287.2,-61.8 288.6,-63.4 292.8,-70.5 294.2,-72.3 295.6,-73.6 297.7,-74.5 299.8,-74.3 301.2,-73.3 301.9,-72.5 303.3,-70.2 307.5,-61.5 308.7,-48.1 65,-8.7"/>
<polygon transform="translate(303.6,269)" points="32.2,-5.6 42,-8.2 46.9,-9.2 49.7,-9.6 56,-9.8 59.5,-10.2 60.8,-8.1 33.5,-3.7"/>
<polygon transform="translate(303.6,269)" points="64.4,-11 72.1,-12.8 79.8,-15.8 88.3,-18.5 92.5,-18.2 93.9,-18.5 96,-19.5 98.1,-21 100.9,-23.9 103,-27.1 105.1,-32.3 109.3,-46 110.7,-48.7 112.1,-49.9 112.8,-49.8 114.2,-48.6 117.7,-43 119.1,-41.3 120.5,-40.5 122.6,-40.5 123.3,-40.1 125.4,-37.9 126.1,-37.4 126.8,-37.4 127.5,-38.2 128.2,-40 131.7,-56.6 132.4,-59.1 133.1,-60.2 133.8,-59.3 134.5,-56.9 138,-39.5 140.1,-32.6 141.5,-30.2 142.9,-28.7 144.3,-27.7 146.4,-26.8 149.2,-26.2 152,-26.3 156.9,-27.7 166,-31.7 168.1,-31.9 175.1,-30.9 179.3,-31.3 182.8,-32.2 189.8,-35.5 191.9,-35.7 196.1,-34.9 197.5,-34.9 198.9,-35.3 201,-36.8 203.8,-40.1 207.3,-45.9 208.7,-47.2 210.8,-47.8 211.5,-48.3 212.2,-49.4 213.6,-53.6 215.7,-62.5 217.1,-67.2 217.8,-68.7 219.9,-71.8 220.6,-73.9 221.3,-77.3 222.7,-89 226.9,-143.2 227.6,-149.2 228.3,-152 229,-152.6 229.7,-152 230.4,-149.3 231.1,-143.5 234.6,-98.8 236.7,-79.2 238.1,-71.5 239.5,-66 241.6,-60.1 243,-58 243.7,-57.6 244.4,-57.8 245.1,-58.6 245.8,-60.1 247.2,-64.7 251.4,-83.7 252.8,-87.6 253.5,-88.5 254.2,-88.6 254.9,-88 256.3,-84.6 260.5,-67.9 261.9,-63.3 264.1,-58.9 265.5,-57.6 266.2,-57.4 267.6,-58.1 270.4,-61.2 271.1,-61.6 271.8,-61.4 274.6,-59.2 276,-58.8 276.7,-59 281.6,-62.9 286.5,-64.6 288.6,-67.2 294.2,-78.7 295.6,-80.5 297,-81.3 297.7,-81.3 299.1,-80.5 301.2,-77.8 303.3,-73.5 307.5,-63.7 308.7,-48.1 65.7,-8.8"/>
<polygon transform="translate(304.9,269.3)" points="32.2,-5.6 44.8,-9 56.7,-9.8 69.3,-11.9 72.8,-12.8 83.3,-16.4 88.3,-18.5 92.5,-18.3 93.9,-18.6 95.3,-19.3 97.4,-20.8 99.5,-22.8 101.6,-25.5 103,-28.1 105.1,-34.2 109.3,-50.1 110.7,-52.3 112.1,-53.6 113.5,-54.1 114.9,-53.3 116.3,-51.3 119.1,-45.4 120.5,-43.3 123.3,-41.8 126.1,-38 126.8,-37.9 127.5,-38.8 128.9,-43.6 132.4,-62.8 133.1,-64.7 133.8,-63 137.3,-43.7 139.4,-34.6 140.1,-32.7 141.5,-30.2 142.9,-28.6 145,-27.3 148.5,-26.3 152,-26.3 156.9,-27.8 165.3,-31.7 166.7,-32.1 168.8,-32 175.1,-30.9 180,-31.2 182.1,-31.7 187,-33.6 189.8,-34.3 191.9,-34.5 196.1,-34.3 197.5,-34.6 200.3,-36.2 203.8,-39.1 209.4,-44.4 210.8,-46.2 212.2,-50.2 212.9,-53.2 215.7,-69 217.1,-75 217.8,-76.5 218.5,-76.8 219.9,-75.9 220.6,-76.1 221.3,-77.6 222,-81 223.4,-92.8 227.6,-139.7 229.7,-152.5 230.4,-153 231.1,-147.1 234.6,-99.7 236.7,-78.8 238.8,-67.2 240.9,-60.4 242.3,-57.6 243,-56.8 243.7,-56.5 244.4,-56.9 245.8,-59.4 247.2,-64.4 250.7,-79.4 252.1,-82.8 252.8,-83.5 253.5,-83.5 254.2,-82.9 255.6,-80.3 261.2,-62.7 262.7,-59.5 264.1,-57.2 265.5,-56.1 266.9,-56.2 269.7,-58.7 271.1,-59.5 272.5,-59.2 274.6,-58.2 276,-58.3 277.4,-59.5 280.9,-64.9 282.3,-66.5 283.7,-67.4 286.5,-68.4 287.9,-70 290,-74.8 294.2,-86.8 295.6,-89.6 296.3,-90.4 297,-90.7 297.7,-90.5 298.4,-89.9 299.8,-87.6 307.5,-66.3 308.7,-48.1 33.5,-3.7"/>
<polygon transform="translate(306.1,269.7)" points="32.2,-5.6 44.8,-9 56,-9.8 70.7,-12.1 83.3,-16 87.6,-17.6 93.2,-18.4 96,-19.9 98.1,-21.7 100.2,-24.1 101.6,-26.2 103,-29 104.4,-33.1 105.8,-38.6 109.3,-55.3 112.1,-60.9 113.5,-62.7 114.2,-62.8 114.9,-62.4 116.3,-59.8 119.8,-48.4 121.2,-45.1 123.3,-42.6 125.4,-39 126.1,-38.2 126.8,-37.9 127.5,-38.5 128.2,-40.2 131.7,-56.4 132.4,-59 133.1,-60 133.8,-59.1 134.5,-56.7 138,-39.3 140.1,-32.4 141.5,-29.9 142.9,-28.4 145,-27.2 147.1,-26.5 150.6,-26.2 154.1,-27 157.6,-28.2 164.6,-31.4 166.7,-32 168.8,-32.1 175.1,-31 177.9,-30.9 180.7,-31.3 185.6,-33.5 187.7,-34.1 189.8,-34.3 196.1,-34 198.2,-34.9 203.1,-38.7 207.3,-40.8 208.7,-42 210.1,-44.2 211.5,-48.3 212.9,-55.4 217.1,-83.5 217.8,-85.3 218.5,-84.7 220.6,-78.2 221.3,-77.6 222,-78.9 223.4,-87 228.3,-133 229.7,-140.7 230.4,-141 231.1,-137.2 231.8,-130.5 234.6,-96.9 236.7,-76.9 238.1,-68.3 239.5,-62.4 240.9,-58.2 242.3,-55.6 243,-55 243.7,-55 244.4,-55.6 245.1,-57 246.5,-61.8 250,-78.2 251.4,-81.9 252.1,-82.5 252.8,-82 254.2,-79 260.5,-61.5 262.7,-57.5 264.1,-55.7 265.5,-54.8 266.2,-54.7 267.6,-55.2 269.7,-56.6 271.1,-57.3 274.6,-57 276,-57.8 277.4,-59.8 282.3,-70.3 283.7,-71.6 285.8,-71.8 286.5,-72.2 287.9,-74 290,-79.9 294.9,-99.7 296.3,-102.8 297,-103.3 297.7,-103 298.4,-101.9 299.8,-97.9 304,-80.9 307.5,-69.1 308.7,-48.1 33.5,-3.7"/>
<polygon transform="translate(307.4,270)" points="32.2,-5.6 44.8,-8.9 55.3,-9.7 72.1,-12.4 87.6,-16.9 92.5,-18.1 94.6,-19.1 96.7,-20.7 98.8,-22.7 100.9,-25.5 102.3,-28.1 103.7,-31.7 105.8,-39.8 109.3,-58.6 110.7,-64.9 112.8,-72 113.5,-73.2 114.2,-73.7 114.9,-73.2 116.3,-69.8 121.2,-47.8 122.6,-44.2 125.4,-38.8 126.1,-37.9 126.8,-37.5 127.5,-37.8 128.2,-39 131.7,-51.4 132.4,-53 133.1,-53.6 133.8,-53 134.5,-51.4 138,-37.5 139.4,-33.2 141.5,-29.5 142.9,-28.2 145,-27 148.5,-26.3 152,-26.7 156.9,-28.2 164.6,-31.4 167.4,-32.1 170.2,-32.1 176.5,-30.9 178.6,-31 180.7,-31.7 185.6,-34.7 187.7,-35.3 189.8,-35.2 194.7,-34 196.1,-34 198.2,-35.1 203.1,-39.6 203.8,-39.9 205.9,-39.7 207.3,-40.1 208.7,-41.3 209.4,-42.4 210.8,-45.8 211.5,-48.5 213.6,-61.1 217.1,-88.3 217.8,-91.1 218.5,-89.2 219.9,-81.5 220.6,-78.4 221.3,-76.4 222,-76.2 222.7,-77.7 224.1,-85.2 228.3,-118.1 229,-121.8 229.7,-123.9 230.4,-124 231.1,-121.7 231.8,-117.4 235.3,-84.6 237.4,-69.5 239.5,-60.2 240.9,-56 242.3,-53.6 243,-53.1 243.7,-53.4 244.4,-54.4 245.1,-56.3 246.5,-62.3 250,-81.3 250.7,-83.4 251.4,-84.1 252.1,-83.5 252.8,-81.8 255.6,-71.2 257.7,-64.8 259.8,-60 262.7,-55.8 264.8,-54.1 266.2,-53.6 267.6,-53.9 271.1,-55.3 273.9,-55.6 275.3,-56.4 276,-57.3 277.4,-60.1 281.6,-72 283,-75.1 283.7,-75.6 285.8,-75.2 286.5,-75.5 287.9,-77.6 288.6,-79.6 290.7,-88.6 294.9,-113.3 296.3,-117.9 297,-118.6 297.7,-118 299.1,-113.8 304,-86 305.4,-79.6 307.5,-71.8 308.7,-48.1 33.5,-3.7"/>
<polygon transform="translate(308.6,270.3)" points="32.9,-5.8 44.8,-8.8 54.6,-9.6 63,-11.2 72.8,-12.4 91.1,-17.3 94.6,-19.2 97.4,-21.5 99.5,-23.8 101.6,-27.2 103,-30.3 104.4,-34.7 106.5,-44.6 112.1,-79.9 113.5,-84.7 114.2,-85.4 114.9,-84.8 116.3,-80.2 120.5,-54.4 121.9,-47.6 123.3,-42.9 124.7,-39.7 126.1,-37.5 126.8,-37.1 127.5,-37.3 128.2,-38.2 128.9,-39.9 131.7,-48.1 132.4,-49.1 133.1,-49.2 133.8,-48.6 134.5,-47.2 138,-35.6 140.1,-30.9 141.5,-29.1 142.9,-27.9 144.3,-27.1 146.4,-26.5 148.5,-26.4 151.3,-26.9 156.9,-28.8 164.6,-31.7 167.4,-32.4 170.2,-32.4 176.5,-30.9 178.6,-31.1 180.7,-32.2 185.6,-36.1 187.7,-36.8 189.8,-36.4 194.7,-34.3 196.1,-34.2 198.2,-35.4 203.1,-40.2 203.8,-40.3 206.6,-39.6 208,-40.1 209.4,-41.9 210.1,-43.4 211.5,-47.8 212.2,-51.1 217.1,-83.1 217.8,-84.8 218.5,-84 221.3,-73.4 222,-72.7 222.7,-73.4 223.4,-75.3 224.8,-81.9 228.3,-102.8 229,-105.6 229.7,-107.2 230.4,-107.4 231.1,-106 232.5,-99.3 235.3,-79.2 237.4,-66.7 238.8,-60.6 240.2,-55.9 241.6,-52.7 242.3,-51.8 243,-51.5 243.7,-52 244.4,-53.2 245.1,-55.4 246.5,-62 250,-82.9 250.7,-85.4 251.4,-84.8 252.1,-82.8 255.6,-68 257,-63.3 258.4,-59.9 260.5,-56.4 261.9,-55 263.4,-54.1 266.2,-53.3 268.3,-53.4 273.9,-54.7 275.3,-55.9 277.4,-60 283,-76.3 283.7,-77.1 285.8,-77.4 286.5,-78 287.9,-80.8 288.6,-83.2 290.7,-94.5 294.9,-127.5 296.3,-134.2 297,-135.2 297.7,-134.4 299.1,-128 304,-90.8 305.4,-83 307.5,-74 308.7,-48.1 34.2,-3.8"/>
<polygon transform="translate(309.9,270.7)" points="32.9,-5.7 44.1,-8.5 54.6,-9.6 63,-11.3 72.1,-12.2 85.4,-15.3 89.7,-16.6 92.5,-17.9 95.3,-19.8 98.1,-22.3 100.2,-25.1 102.3,-29 103.7,-32.8 105.1,-38.3 107.2,-50.8 112.1,-89.4 113.5,-96.2 114.2,-97.3 114.9,-96.4 116.3,-90 120.5,-58.1 121.9,-49.3 123.3,-43.3 124.7,-39.4 126.1,-37.2 126.8,-36.9 127.5,-37.3 128.2,-38.6 131,-47.3 131.7,-48.8 132.4,-49.6 133.1,-49.3 134.5,-46.4 137.3,-36.7 139.4,-31.5 140.8,-29.4 142.2,-28.1 145,-26.7 147.1,-26.4 149.2,-26.7 160.4,-31.1 167.4,-33.1 170.2,-32.9 175.8,-31.1 177.9,-31 180,-32 185.6,-37.1 187,-38.1 188.4,-38 194,-34.9 196.1,-34.7 197.5,-35.3 201.7,-38.9 203.1,-39.6 204.5,-39.8 206.6,-39.4 208,-39.8 209.4,-41.3 210.1,-42.6 211.5,-46.4 212.9,-52.4 215.7,-68.4 217.1,-74.1 217.8,-75.3 218.5,-75.1 221.3,-69.7 222,-69.5 222.7,-70.3 224.8,-75.9 228.3,-89.3 229.7,-92.5 230.4,-92.8 231.1,-92.1 232.5,-88.3 238.8,-58.8 240.9,-52.5 242.3,-50.3 243,-50.1 243.7,-50.7 245.1,-54.1 246.5,-60.3 249.3,-75.5 250,-78.5 250.7,-80.1 251.4,-79.9 252.1,-78.4 255.6,-64.9 257,-60.4 258.4,-57.3 259.8,-55.3 261.2,-54.2 262.7,-53.9 269,-53.8 273.9,-54.7 275.3,-55.7 276.7,-57.9 278.8,-63.2 283,-75.8 284.4,-78.3 286.5,-80.8 287.2,-82 288.6,-86.4 290.7,-99.4 295.6,-145.7 296.3,-150 297,-151.7 297.7,-150.2 298.4,-146 304,-94.5 305.4,-85.5 307.5,-75.7 308.7,-48.1 34.2,-3.8"/>
<polygon transform="translate(311.1,271)" points="33.6,-5.9 46.2,-8.7 55.3,-9.8 63,-11.4 72.8,-12.3 86.1,-15.2 89.7,-16.5 93.2,-18.3 96,-20.4 98.8,-23.3 100.9,-26.4 103,-31.1 104.4,-35.8 105.8,-42.7 107.9,-58.1 112.8,-102.5 113.5,-106.7 114.2,-108.4 114.9,-106.9 115.6,-103 120.5,-60.5 121.9,-50.6 123.3,-43.4 124.7,-39 126.1,-36.8 126.8,-36.8 127.5,-37.6 128.9,-41.8 131,-50.4 131.7,-52.6 132.4,-53.5 133.1,-52.8 133.8,-50.8 137.3,-36.7 138.7,-32.5 139.4,-31 140.8,-29 142.2,-27.8 144.3,-26.8 146.4,-26.5 148.5,-26.9 159.7,-32.4 162.5,-33.2 166.7,-34.1 169.5,-33.9 175.1,-31.5 176.5,-31.1 177.9,-31 180,-32 185.6,-36.9 187,-37.7 188.4,-37.7 193.3,-35.3 195.4,-35 196.8,-35.6 201,-38.7 202.4,-39.5 204.5,-39.9 207.3,-39.6 208.7,-40.1 210.1,-41.7 210.8,-43 212.2,-46.7 215.7,-60.8 217.1,-65 217.8,-66.1 218.5,-66.6 219.9,-66.8 220.6,-67.2 221.3,-68 223.4,-71.8 226.2,-75.4 229,-80.2 230.4,-81.7 231.1,-81.8 231.8,-81.6 232.5,-81 233.9,-78.3 235.3,-73.4 239.5,-55.1 240.9,-51.3 242.3,-49.2 243,-49 243.7,-49.5 245.1,-52.3 249.3,-69.6 250,-71.7 250.7,-72.8 251.4,-73 252.1,-72.2 252.8,-70.7 257,-57.9 258.4,-55.2 259.8,-53.8 261.2,-53.5 264.8,-55 269.7,-55 273.9,-55.5 275.3,-56.1 276.7,-57.7 278.1,-60.5 280.2,-66.9 283.7,-80.4 285.1,-83.7 287.2,-86.1 287.9,-87.4 289.3,-92.9 291.4,-108.9 295.6,-153.4 296.3,-159.5 297,-162.4 297.7,-159.6 298.4,-153.4 301.9,-115.7 304,-96.4 305.4,-86.9 307.5,-76.6 308.7,-48.1 34.9,-3.9"/>
<polygon transform="translate(312.4,271.4)" points="7,-1.7 16.1,-3.2 17.4,-1.1 8.3,0.4"/>
<polygon transform="translate(312.4,271.4)" points="35,-6.1 49,-9.4 55.3,-9.8 63,-11.5 72.8,-12.3 74.1,-10.2 36.3,-4.1"/>
<polygon transform="translate(312.4,271.4)" points="74.9,-12.6 86.1,-15.1 89.7,-16.4 93.2,-18.4 96,-20.4 98.8,-23.3 100.9,-26.5 103,-31.1 105.1,-39.1 106.5,-47.6 108.6,-65.3 112.8,-106.5 113.5,-112 114.2,-114.6 114.9,-112.3 115.6,-107.1 121.2,-55.7 122.6,-46.6 124,-40.5 125.4,-37.1 126.1,-36.3 126.8,-36.4 127.5,-37.5 128.9,-42.3 131.7,-55.1 132.4,-56.7 133.1,-55.3 136.6,-39.5 138.7,-32.2 139.4,-30.7 140.8,-28.7 142.2,-27.6 144.3,-26.8 146.4,-26.6 148.5,-27.3 157.6,-33.2 159.7,-34.3 161.8,-35 165.3,-35.4 168.8,-35.3 175.1,-31.8 176.5,-31.3 177.9,-31.1 180,-31.8 184.9,-35.2 187,-36.2 189.1,-36.2 192.6,-35.2 194.7,-35.2 196.1,-35.9 200.3,-39.2 202.4,-40.5 204.5,-40.9 208,-40.1 209.4,-40.4 210.8,-41.8 212.9,-46 216.4,-55.8 219.2,-62.3 222,-72.9 222.7,-75.1 223.4,-76.3 224.1,-76.6 224.8,-76 226.9,-73.2 227.6,-72.8 228.3,-72.8 229.7,-73.9 233.2,-79 233.9,-78.8 234.6,-77.1 239.5,-54.3 240.9,-50.3 242.3,-48.3 243,-48.1 243.7,-48.3 245.1,-50.4 246.5,-54.3 249.3,-63.7 250.7,-66.5 251.4,-67 252.1,-66.8 252.8,-66 254.2,-63.2 257,-56.3 258.4,-53.9 259.1,-53.3 259.8,-53.1 260.5,-53.2 264.1,-56.1 265.5,-56.7 268.3,-56.6 274.6,-57 276,-57.4 277.4,-58.9 278.1,-60.3 279.5,-64.6 283,-83.1 284.4,-89.1 285.1,-90.8 285.8,-91.5 287.2,-91.4 287.9,-91.8 288.6,-93.1 289.3,-95.7 291.4,-110.2 295.6,-149 296.3,-153.1 297,-154.6 297.7,-152.9 298.4,-148.6 304,-96.1 305.4,-86.9 307.5,-76.7 308.7,-48.1 76.2,-10.5"/>
<polygon transform="translate(313.6,271.7)" points="2.1,-0.9 9.8,-2.3 19.6,-3.7 20.9,-1.6 3.4,1.2"/>
<polygon transform="translate(313.6,271.7)" points="37.1,-6.5 43.4,-8 47.6,-9.6 49.7,-10.1 55.3,-10 63,-11.5 72.8,-12.3 74.1,-10.2 38.4,-4.4"/>
<polygon transform="translate(313.6,271.7)" points="77.7,-13.1 83.3,-14.2 86.8,-15.2 90.4,-16.7 93.9,-18.9 96.7,-21.2 99.5,-24.3 101.6,-27.8 103,-31 105.1,-38.6 106.5,-46.8 108.6,-64 112.1,-96.8 113.5,-106.5 114.2,-108.3 114.9,-106.8 115.6,-102.9 120.5,-60.2 121.9,-49.9 123.3,-42.4 124.7,-37.7 125.4,-36.3 126.1,-35.5 126.8,-35.6 127.5,-36.6 128.9,-41 131,-49.5 131.7,-51.7 132.4,-52.6 133.1,-51.9 133.8,-49.9 137.3,-35.7 138.7,-31.5 139.4,-30.1 140.8,-28.3 142.2,-27.3 144.3,-26.6 146.4,-26.7 148.5,-27.7 157.6,-35.3 159.7,-36.6 161.8,-37.3 164.6,-37.4 168.1,-36.7 169.5,-36 174.4,-32.4 176.5,-31.5 177.9,-31.3 180,-31.8 186.3,-34.6 188.4,-34.9 192.6,-35 194,-35.3 196.1,-36.6 201,-41.2 203.1,-42.4 205.2,-42.4 208.7,-40.6 209.4,-40.4 210.8,-40.9 212.2,-42.6 214.3,-46.3 216.4,-50.9 217.8,-55 219.2,-61.3 222,-78.3 222.7,-81.7 223.4,-83.4 224.1,-82.9 227.6,-71.8 228.3,-70.6 229,-70.1 229.7,-70.3 230.4,-71.1 231.8,-74.5 233.2,-79.1 233.9,-80.1 234.6,-78.2 238.1,-59.6 239.5,-53.4 240.9,-49.4 242.3,-47.5 243,-47.2 243.7,-47.4 245.1,-48.9 246.5,-51.7 250,-61.8 251.4,-64.5 252.1,-65.1 252.8,-65.1 253.5,-64.4 254.2,-63.3 257.7,-54.8 258.4,-53.8 259.1,-53.2 259.8,-53.2 260.5,-53.6 264.1,-57.7 264.8,-58.2 268.3,-58.3 271.1,-58.8 275.3,-58.2 276.7,-58.6 278.1,-60.6 279.5,-65.4 284.4,-96.8 285.1,-99 285.8,-99.1 287.2,-96.6 287.9,-96 288.6,-96.5 289.3,-98.3 290.7,-105.5 294.9,-136.3 295.6,-139.8 296.3,-141.9 297,-142.4 297.7,-141.2 299.1,-134 304,-94.3 305.4,-85.9 307.5,-76.2 308.7,-48.1 79,-11"/>
<polygon transform="translate(314.9,272.1)" points="0,-0.5 9.8,-2.5 21,-3.9 22.3,-1.8 1.3,1.5"/>
<polygon transform="translate(314.9,272.1)" points="39.2,-6.9 42.7,-7.8 47.6,-10.3 49.7,-10.9 51.1,-10.9 56,-10.3 63,-11.6 72.8,-12.3 74.1,-10.2 40.5,-4.8"/>
<polygon transform="translate(314.9,272.1)" points="79.8,-13.4 84,-14.3 87.6,-15.5 90.4,-16.7 93.2,-18.5 96.7,-21.5 99.5,-24.6 101.6,-27.8 103,-30.7 105.1,-37.6 106.5,-45 112.1,-89 113.5,-95.9 114.2,-97 114.9,-96.2 116.3,-89.8 121.9,-47.9 123.3,-41.1 124.7,-36.7 126.1,-34.5 126.8,-34.3 127.5,-34.9 128.2,-36.3 131,-44.5 131.7,-45.9 132.4,-46.4 133.1,-46 133.8,-44.8 137.3,-33.8 138.7,-30.5 140.8,-27.7 142.2,-26.9 143.6,-26.5 145.7,-26.6 147.8,-27.7 149.9,-29.5 157.6,-37.5 159.7,-39 161.8,-39.8 163.9,-39.8 166.7,-38.7 168.8,-37.5 174.4,-32.8 175.8,-32.1 177.2,-31.8 178.6,-31.9 184.2,-33.4 190.5,-34.4 193.3,-35.4 196.1,-37.3 201.7,-43.3 203.8,-44.4 205.2,-44.3 205.9,-43.9 209.4,-40.7 210.8,-40.4 211.5,-40.7 213.6,-43 215.7,-46.6 217.1,-50.5 217.8,-53.3 219.2,-61 222.7,-85.9 223.4,-88.6 224.1,-87.1 226.9,-75.2 229,-69.9 229.7,-69.1 230.4,-69 231.1,-69.7 233.2,-74.3 233.9,-74.8 234.6,-73.6 239.5,-52.1 240.9,-48.5 242.3,-46.7 243,-46.5 243.7,-46.6 244.4,-47 245.8,-49 247.9,-54.5 251.4,-66.7 252.1,-68.1 252.8,-68.6 253.5,-68.1 254.2,-66.8 257.7,-56.1 258.4,-54.8 259.1,-54.3 259.8,-54.3 260.5,-54.8 264.1,-59.3 264.8,-59.8 267.6,-59.7 270.4,-60.6 271.8,-60.7 275.3,-59.3 276.7,-59.3 277.4,-59.8 278.1,-60.9 279.5,-65.7 280.9,-74.2 284.4,-101.4 285.1,-104.6 285.8,-103.7 287.2,-99.3 287.9,-98.3 288.6,-98.6 289.3,-100.2 290.7,-106.7 294.2,-127.6 295.6,-132.4 296.3,-133.2 297,-132.8 297.7,-131.2 299.1,-125.1 304,-91.8 305.4,-84.2 307.5,-75.1 308.7,-48.1 81.1,-11.3"/>
<polygon transform="translate(316.2,272.4)" points="0,-0.6 9.8,-2.7 22.4,-4.1 23.7,-2.1 1.3,1.5"/>
<polygon transform="translate(316.2,272.4)" points="39.2,-6.7 42.7,-7.9 47.6,-11 49.7,-11.7 51.1,-11.7 56,-10.5 63,-11.7 73.5,-12.4 74.8,-10.3 40.5,-4.8"/>
<polygon transform="translate(316.2,272.4)" points="81.2,-13.6 87.6,-15.4 90.4,-16.7 92.5,-18.1 95.3,-20.6 99.5,-25.2 101.6,-28 103,-30.4 105.1,-36.1 106.5,-42.3 112.1,-79.1 113.5,-84.2 114.2,-85 114.9,-84.5 116.3,-80 121.9,-45.2 123.3,-39.3 124.7,-35.5 126.1,-33.3 126.8,-32.9 127.5,-33 128.9,-34.9 131,-39 131.7,-39.9 132.4,-40.2 133.1,-40 134.5,-38 137.3,-31.6 138.7,-29.2 140.8,-27.1 142.2,-26.4 143.6,-26.2 145.7,-26.6 147.8,-28 149.9,-30.2 157.6,-39.7 159.7,-41.6 161.8,-42.5 163.9,-42.2 166,-41.1 168.1,-39.4 173.7,-33.8 175.1,-32.8 176.5,-32.4 177.9,-32.5 182.8,-33.9 189.1,-34.2 192.6,-35.5 194.7,-36.8 196.1,-37.9 201.7,-44.8 202.4,-45.4 203.8,-46 205.2,-45.9 205.9,-45.3 208.7,-41.7 210.1,-40.4 210.8,-40.1 212.2,-40.4 213.6,-41.6 215,-43.7 216.4,-46.7 217.1,-48.8 218.5,-55.2 222,-77.6 222.7,-81.2 223.4,-83.1 224.1,-82.9 226.2,-77.9 227.6,-75.4 229.7,-68.9 230.4,-67.4 231.1,-66.7 231.8,-66.8 233.2,-67.7 233.9,-67.6 234.6,-66.8 236,-62.9 239.5,-50.3 240.9,-47.4 242.3,-46 243,-45.8 243.7,-46 244.4,-46.4 245.8,-48.4 246.5,-50.1 247.9,-54.8 251.4,-70.8 252.1,-73.1 252.8,-74.1 253.5,-73.4 254.2,-71.3 257,-60 257.7,-58.1 258.4,-57 259.1,-56.6 260.5,-57.2 264.8,-60.9 266.9,-60.4 267.6,-60.5 271.1,-62.3 272.5,-61.8 276,-59.6 276.7,-59.5 277.4,-59.9 278.1,-60.8 278.8,-62.5 280.2,-68.6 284.4,-96.7 285.1,-99.1 285.8,-99.4 287.2,-97.8 287.9,-97.7 288.6,-98.7 290,-103.9 293.5,-123.9 294.9,-128.9 295.6,-129.5 296.3,-128.9 297,-127.3 298.4,-122 304,-89.2 305.4,-82.2 307.5,-73.7 308.7,-48.1 82.5,-11.6"/>
<polygon transform="translate(317.4,272.8)" points="0,-0.8 9.8,-3 23.1,-4.2 24.4,-2.2 1.3,1.5"/>
<polygon transform="translate(317.4,272.8)" points="39.2,-6.7 42,-7.7 47.6,-11.8 49.7,-12.7 51.1,-12.6 55.3,-10.9 56.7,-10.8 63,-11.8 74.9,-12.6 76.2,-10.5 40.5,-4.8"/>
<polygon transform="translate(317.4,272.8)" points="81.9,-13.7 87.6,-15.4 89.7,-16.4 91.8,-17.7 95.3,-21.2 102.3,-29.4 103.7,-31.5 105.8,-36.8 107.2,-42.5 112.1,-68.5 113.5,-72.5 114.2,-73.2 114.9,-72.9 115.6,-71.7 116.3,-69.6 117.7,-63.6 121.9,-42.2 123.3,-37.4 125.4,-33 126.8,-31.5 127.5,-31.3 128.2,-31.4 131.7,-34.6 132.4,-34.8 133.1,-34.6 134.5,-33.4 137.3,-29.5 138.7,-28 140.8,-26.5 142.9,-25.9 145,-26.3 146.4,-27.1 147.8,-28.4 150.6,-31.8 155.5,-39 158.3,-42.8 160.4,-44.7 161.8,-45.2 163.2,-45.1 165.3,-43.8 167.4,-41.6 173,-35 174.4,-33.8 175.8,-33.2 177.2,-33.2 180.7,-34.6 182.8,-35.1 184.9,-35.1 188.4,-34.7 189.8,-34.9 191.2,-35.4 194.7,-37.2 196.1,-38.3 198.2,-40.6 201.7,-45.6 202.4,-46.3 203.1,-46.6 204.5,-46.5 205.2,-46.2 210.1,-40.2 211.5,-39.6 212.9,-40.1 215,-42.5 217.1,-47.1 218.5,-52.4 221.3,-67.3 222.7,-73.1 223.4,-74.7 224.1,-75.4 225.5,-75.5 226.9,-76.5 227.6,-76.6 229.7,-68.2 231.1,-63.6 231.8,-62.3 234.6,-60 236,-57.3 239.5,-48.3 240.9,-46.2 242.3,-45.2 243.7,-45.4 244.4,-45.9 245.8,-48.1 246.5,-49.8 248.6,-58.2 252.1,-76.3 252.8,-78 253.5,-76.5 256.3,-64 257.7,-60.3 258.4,-59.9 260.5,-61.1 261.9,-61.3 264.8,-61.1 266.2,-60.5 267.6,-60.4 270.4,-62.1 271.1,-62.3 272.5,-61.8 276,-59.4 277.4,-59.4 278.1,-60.1 278.8,-61.4 280.2,-66.2 284.4,-88.6 285.1,-90.7 285.8,-91.9 287.2,-93.2 288.6,-96.5 290,-102.8 293.5,-123.6 294.2,-127 294.9,-128.9 295.6,-128.8 296.3,-127.2 297.7,-121.6 304,-86.5 305.4,-80.1 307.5,-72.2 308.7,-48.1 83.2,-11.7"/>
<polygon transform="translate(318.7,273.1)" points="0,-0.9 9.8,-3.2 24.5,-4.4 25.8,-2.4 1.3,1.5"/>
<polygon transform="translate(318.7,273.1)" points="39.2,-6.6 42,-7.8 47.6,-12.6 49.7,-13.6 51.1,-13.4 54.6,-11.6 56.7,-11 62.3,-12 70.7,-12.3 79.1,-13.3 80.4,-11.2 40.5,-4.8"/>
<polygon transform="translate(318.7,273.1)" points="81.9,-13.7 87.6,-15.4 91.1,-17.3 93.9,-20.1 100.2,-28.3 103,-30.5 104.4,-32.1 105.8,-34.8 107.2,-38.9 112.1,-58.5 113.5,-61.5 114.2,-62.1 114.9,-61.9 115.6,-61.1 116.3,-59.7 117.7,-55.4 121.9,-39.3 123.3,-35.5 125.4,-31.8 126.8,-30.3 128.2,-29.7 129.6,-29.9 131.7,-30.7 133.1,-30.6 134.5,-30 139.4,-26.6 141.5,-25.8 142.9,-25.6 145,-26.2 147.8,-28.6 150.6,-32.4 158.3,-44.9 160.4,-47.3 161.8,-47.9 163.2,-47.6 164.6,-46.6 173,-35.6 174.4,-34.4 175.8,-33.8 177.2,-34.1 180.7,-35.9 182.8,-36.5 184.9,-36.4 189.1,-35.5 191.2,-35.9 196.1,-38.4 198.2,-40.6 201.7,-45.1 203.1,-46 204.5,-45.6 205.9,-44.6 209.4,-40.5 210.8,-39.3 211.5,-39.1 212.9,-39.4 215,-41.4 217.1,-45.2 218.5,-49.2 221.3,-60.2 222.7,-64.7 224.1,-67.5 226.9,-71.2 227.6,-71.2 228.3,-70 231.1,-60 232.5,-56.6 235.3,-53.2 239.5,-46.4 240.9,-45.1 242.3,-44.5 243.7,-44.9 244.4,-45.4 245.8,-47.5 246.5,-49.2 247.9,-54 251.4,-70.4 252.1,-72.7 252.8,-73.8 253.5,-73.1 256.3,-63.9 257,-62.6 257.7,-62.4 259.8,-65.4 260.5,-66 261.2,-65.9 261.9,-65.2 264.8,-61.2 266.2,-59.9 267.6,-59.5 270.4,-60.5 271.8,-60.6 276,-58.6 277.4,-58.5 278.1,-58.9 278.8,-59.8 280.2,-63.3 284.4,-80.3 287.9,-89.6 289.3,-95.6 293.5,-118 295.6,-126.7 296.3,-128.2 297,-127.6 297.7,-124.3 299.8,-106.7 302.6,-90.1 304.7,-80.7 307.5,-70.9 308.7,-48.1 83.2,-11.7"/>
<polygon transform="translate(319.9,273.5)" points="0,-1 6.3,-2.8 9.8,-3.5 25.2,-4.6 26.5,-2.5 1.3,1.5"/>
<polygon transform="translate(319.9,273.5)" points="39.2,-6.6 41.3,-7.5 42.7,-8.4 48.3,-13.9 49.7,-14.5 51.1,-14.1 54.6,-11.9 56.7,-11.3 62.3,-12.2 70,-12.5 81.9,-13.7 86.1,-14.8 89.7,-16.3 91.8,-17.9 93.9,-20.2 100.9,-29.9 101.6,-30.3 103.7,-30.8 105.1,-32 105.8,-33 107.9,-37.6 112.1,-49.7 113.5,-52 114.2,-52.5 114.9,-52.5 115.6,-52 117,-49.8 121.9,-36.7 124,-32.6 126.1,-29.9 128.2,-28.5 133.8,-28 139.4,-25.8 142.2,-25.3 143.6,-25.5 145,-26.1 146.4,-27.3 148.5,-29.6 152,-35.1 159,-47.7 160.4,-49.6 161.8,-50.5 163.2,-50 164.6,-48.4 170.9,-38.9 173,-36.1 174.4,-34.9 175.8,-34.5 177.2,-35 180.7,-37.2 182.8,-37.9 184.9,-37.7 189.1,-36.2 191.2,-36.3 196.8,-38.8 201,-43.2 202.4,-44.2 203.1,-44.4 204.5,-44.1 205.9,-43.2 209.4,-39.8 210.8,-38.8 211.5,-38.5 212.9,-38.8 215,-40.5 217.1,-43.4 218.5,-46.2 222.7,-56.9 225.5,-62.3 226.9,-64 227.6,-64.1 228.3,-63.4 229,-62.1 231.8,-54 233.2,-51.3 238.8,-45.5 240.2,-44.5 241.6,-43.9 243,-44 244.4,-44.9 245.8,-46.7 246.5,-48.1 247.9,-52.2 250.7,-62.9 252.1,-66.6 252.8,-67.3 253.5,-67.1 255.6,-63.4 256.3,-62.7 257,-63 257.7,-64.3 259.8,-70.3 260.5,-71.2 261.2,-70.6 261.9,-69.1 264.8,-61.2 265.5,-59.9 266.9,-58.3 268.3,-58 271.8,-58.5 276,-57.2 277.4,-57.2 278.1,-57.5 279.5,-59.1 280.9,-62.2 287.2,-81.4 288.6,-86.9 292.8,-106.7 294.2,-115.9 296.3,-143.7 297,-147.3 297.7,-142.2 299.8,-106.7 301.2,-93.2 303.3,-83 307.5,-69.8 308.7,-48.1 40.5,-4.8"/>
<polygon transform="translate(321.2,273.8)" points="0,-1.1 6.3,-3 9.8,-3.8 26.6,-4.8 27.9,-2.7 1.3,1.5"/>
<polygon transform="translate(321.2,273.8)" points="39.2,-6.6 41.3,-7.5 42.7,-8.5 48.3,-14.4 49.7,-15.3 51.1,-14.6 54.6,-12.1 56.7,-11.6 62.3,-12.6 69.3,-12.7 75.6,-13.6 82.6,-13.9 86.1,-14.7 89,-15.8 91.1,-17.2 93.2,-19.2 100.2,-28.3 101.6,-29.2 104.4,-30.1 105.8,-31.3 107.9,-34.6 112.1,-43.1 113.5,-44.8 114.2,-45.2 114.9,-45.2 115.6,-44.9 117,-43.5 123.3,-32.2 124.7,-30.3 126.8,-28.4 129.6,-27.2 133.8,-26.5 139.4,-25.3 142.2,-25 143.6,-25.3 145,-26 146.4,-27.2 148.5,-29.7 152,-35.3 159.7,-50.1 161.1,-52 161.8,-52.3 162.5,-52.1 163.9,-50.5 172.3,-37.3 173.7,-35.8 175.1,-35.1 176.5,-35.4 180.7,-38.5 182.8,-39.3 184.9,-38.9 189.1,-36.8 191.2,-36.6 193.3,-37.4 195.4,-37.8 196.8,-38.3 201,-41.7 203.1,-42.6 204.5,-42.4 205.9,-41.7 209.4,-39 210.8,-38.1 211.5,-38 212.9,-38.2 215,-39.6 217.1,-41.8 219.2,-44.9 225.5,-55.6 226.9,-57.1 227.6,-57.3 228.3,-56.9 229,-56.1 231.8,-50.3 233.9,-47.4 238.8,-44.1 240.9,-43.3 242.3,-43.2 244.4,-44.2 246.5,-46.8 247.9,-49.8 250.7,-57.6 252.1,-60.3 252.8,-60.9 253.5,-61 254.9,-60.6 255.6,-60.7 256.3,-61.6 257.7,-65.5 259.8,-73.4 260.5,-74.8 261.2,-73.5 264.8,-60.7 265.5,-58.9 266.9,-56.7 268.3,-56.1 272.5,-56.3 276.7,-55.6 278.1,-56 279.5,-57.2 280.9,-59.5 285.8,-71.5 288.6,-80.9 292.8,-98.1 293.5,-102.9 294.2,-111.5 297,-169.9 297.7,-158.1 299.8,-106.4 300.5,-95.2 301.2,-88.6 302.6,-81.4 304,-77.1 305.4,-74.4 307.5,-68.6 308.7,-48.1 40.5,-4.8"/>
<polygon transform="translate(322.4,274.2)" points="0,-1.2 6.3,-3.3 9.8,-4.1 28,-5 29.3,-3 1.3,1.5"/>
<polygon transform="translate(322.4,274.2)" points="39.2,-6.6 41.3,-7.5 42.7,-8.5 48.3,-14.5 49.7,-15.3 51.1,-14.7 54.6,-12.3 56.7,-11.8 62.3,-12.9 69.3,-13.1 75.6,-14.1 83.3,-14.1 86.1,-14.7 89,-15.7 91.1,-17 92.5,-18.2 97.4,-23.9 99.5,-26 100.9,-27 104.4,-28.6 105.8,-29.7 107.9,-32.3 112.1,-38.6 113.5,-40 114.2,-40.3 115.6,-40.2 117,-39.2 124,-30 125.4,-28.6 127.5,-27.2 130.3,-26.2 138,-25 141.5,-24.7 143.6,-25.1 145,-25.9 146.4,-27.1 149.2,-30.5 152.7,-36.4 159.7,-49.8 161.1,-51.7 161.8,-52 162.5,-51.8 163.9,-50.3 170.2,-40.2 172.3,-37.3 173.7,-35.9 175.1,-35.4 176.5,-36 181.4,-40.3 182.8,-40.7 184.9,-40.1 188.4,-37.7 190.5,-36.8 191.9,-36.8 196.8,-37.6 201,-40.3 203.1,-40.9 205.2,-40.5 210.8,-37.5 212.9,-37.6 215,-38.8 217.1,-40.5 219.9,-43.5 225.5,-50.1 226.9,-51.2 227.6,-51.3 229,-50.7 232.5,-46.5 234.6,-44.8 239.5,-42.8 241.6,-42.6 243,-42.8 245.1,-44.1 246.5,-45.6 247.9,-47.6 251.4,-53.9 254.9,-58.2 256.3,-61.6 259.1,-70.1 259.8,-71.6 260.5,-72 261.2,-71.1 261.9,-69.1 264.8,-59.2 266.2,-55.9 266.9,-54.9 267.6,-54.4 269,-54 272.5,-54.2 276,-54 278.1,-54.5 279.5,-55.7 280.9,-57.7 286.5,-69.5 290,-79.4 292.8,-89.7 293.5,-94.2 294.2,-101.9 296.3,-137.1 297,-141.6 297.7,-136.8 299.8,-98.8 301.2,-83.6 301.9,-79.8 303.3,-75 306.1,-69.9 307.5,-66.8 308.7,-48.1 40.5,-4.8"/>
<polygon transform="translate(323.7,274.5)" points="0,-1.3 7,-3.7 9.8,-4.4 28.7,-5.1 30,-3.1 1.3,1.5"/>
<polygon transform="translate(323.7,274.5)" points="39.2,-6.6 41.3,-7.5 42.7,-8.4 48.3,-14 49.7,-14.8 51.1,-14.5 54.6,-12.4 56,-12 63,-13.5 65.8,-13.7 69.3,-13.5 74.9,-14.7 84,-14.3 86.1,-14.7 89,-15.6 91.1,-16.7 92.5,-17.8 98.1,-23.6 105.1,-27.5 107.2,-29.7 112.1,-35.8 113.5,-37 114.2,-37.3 115.6,-37.1 117,-36.2 124,-28.9 126.1,-27.3 128.2,-26.2 131.7,-25.3 137.3,-24.6 141.5,-24.4 143.6,-24.9 146.4,-26.9 149.2,-30.2 152,-34.7 159,-47.2 160.4,-49.1 161.8,-49.9 162.5,-49.8 163.9,-48.8 171.6,-38 173,-36.6 174.4,-35.9 175.1,-35.9 176.5,-36.6 181.4,-41.4 182.8,-42 184.2,-41.4 189.1,-37.5 191.2,-36.6 196.8,-36.9 201,-38.8 203.1,-39.3 205.9,-38.9 210.1,-37.1 212.2,-36.9 214.3,-37.8 216.4,-39 225.5,-46.1 227.6,-46.9 229,-46.6 233.2,-44.1 236.7,-42.7 240.2,-42 243,-42.3 245.1,-43.4 247.2,-45.2 250,-48.4 252.1,-51.3 254.2,-55.9 257.7,-67.1 258.4,-68.4 259.1,-69 259.8,-68.9 260.5,-68.3 261.2,-67.1 264.8,-56.8 265.5,-55.1 266.9,-52.9 268.3,-52.1 269.7,-51.9 276,-52.4 277.4,-52.8 278.8,-53.8 280.9,-56.8 285.1,-65.1 289.3,-71.9 291.4,-77.1 293.5,-86.3 296.3,-109.8 297,-111.9 297.7,-109.6 300.5,-83.9 301.9,-76 303.3,-71.4 307.5,-64.7 308.7,-48.1 40.5,-4.8"/>
<polygon transform="translate(325,274.9)" points="0,-1.3 7.7,-4.1 9.8,-4.6 29.4,-5.2 30.7,-3.2 1.3,1.5"/>
<polygon transform="translate(325,274.9)" points="39.2,-6.7 41.3,-7.4 42.7,-8.3 47.6,-12.9 49.7,-14.2 51.1,-14.2 54.6,-12.4 56,-12.1 60.9,-13.5 65.1,-14.4 69.3,-14 73.5,-15.1 75.6,-15.4 84,-14.4 89.7,-15.8 92.5,-17.4 98.1,-22.2 102.3,-24.3 104.4,-25.7 106.5,-27.6 111.4,-33.1 112.8,-34.3 114.2,-34.9 115.6,-34.8 117,-34 124,-27.9 126.1,-26.6 128.2,-25.6 131,-24.9 135.2,-24.3 140.1,-24.1 142.9,-24.5 145.7,-26 148.5,-28.8 151.3,-32.8 158.3,-44.2 160.4,-46.6 161.8,-47.3 162.5,-47.3 163.9,-46.6 165.3,-45.3 170.9,-38.7 173,-37.2 174.4,-36.9 175.8,-37.2 177.2,-38 181.4,-42 182.1,-42.5 182.8,-42.6 184.2,-41.8 188.4,-38.1 190.5,-36.7 192.6,-36.1 195.4,-36 197.5,-36.2 201.7,-37.6 203.8,-37.9 206.6,-37.6 210.8,-36.6 212.9,-36.7 216.4,-38.3 224.8,-43.1 227.6,-44 229.7,-43.8 234.6,-42.3 238.1,-41.6 240.9,-41.5 243,-41.9 245.1,-42.7 247.9,-44.6 250,-46.4 251.4,-48.1 253.5,-53.3 257.7,-69 258.4,-69.5 259.1,-68.5 260.5,-65.4 264.8,-54 266.2,-51.7 267.6,-50.5 269,-50.1 271.1,-50.2 276,-51 278.1,-52.2 279.5,-54 284.4,-64.2 285.8,-66.4 287.2,-67.6 289.3,-68.6 290.7,-70.3 291.4,-72 292.8,-77.4 296.3,-97.8 297,-99.8 297.7,-97.8 301.2,-76.4 302.6,-70.4 304,-67.2 306.1,-64.9 307.5,-62.9 308.7,-48.1 40.5,-4.8"/>
<polygon transform="translate(326.2,275.2)" points="0,-1.3 7.7,-4.2 9.8,-4.7 16.8,-5.1 25.2,-5.1 30.1,-5.3 31.4,-3.3 1.3,1.5"/>
<polygon transform="translate(326.2,275.2)" points="38.5,-6.7 41.3,-7.4 42.7,-8.1 48.3,-12.8 50.4,-13.8 55.3,-12.2 65.1,-14.9 67.9,-14.5 69.3,-14.5 74.9,-16 77,-15.9 83.3,-14.7 84.7,-14.9 86.8,-15.7 90.4,-16 92.5,-17 98.1,-21 103,-23.6 105.1,-25.3 111.4,-31.6 112.8,-32.5 114.2,-33 115.6,-32.9 117,-32.3 124,-27.2 126.1,-26 128.2,-25.1 131,-24.4 135.2,-24 138.7,-23.9 142.9,-24.3 145.7,-25.7 148.5,-28.2 151.3,-31.8 157.6,-41.2 159.7,-43.4 161.8,-44.6 162.5,-44.7 163.9,-44.3 169.5,-39.7 170.9,-39 172.3,-38.7 175.1,-38.7 177.2,-39.1 178.6,-39.8 181.4,-41.7 182.8,-42 184.2,-41.4 190.5,-36.4 191.9,-35.8 194,-35.6 198.9,-35.7 208,-37.4 211.5,-36.5 212.9,-36.4 215,-37.1 219.9,-39.5 224.1,-41.2 227.6,-42.1 230.4,-42.1 238.8,-41 240.9,-41.1 243,-41.5 245.8,-42.6 248.6,-44 250,-45 251.4,-46.8 253.5,-52.2 257,-64.7 257.7,-66.2 258.4,-66.4 259.8,-63.8 264.1,-52.8 264.8,-51.5 266.2,-49.8 267.6,-48.9 269.7,-48.5 272.5,-48.9 275.3,-49.6 277.4,-50.8 279.5,-53.7 284.4,-65.3 285.8,-67.7 286.5,-68.3 287.2,-68.3 289.3,-67.1 290,-67 290.7,-67.3 291.4,-68.5 292.8,-73.3 295.6,-87.6 296.3,-90.3 297,-91.3 297.7,-90.4 298.4,-87.8 301.2,-73.3 302.6,-67.7 303.3,-66.1 304,-65.1 305.4,-64.3 307.5,-61.5 308.7,-48.1 39.8,-4.7"/>
<polygon transform="translate(327.5,275.6)" points="0,-1.3 7,-3.8 9.8,-4.5 16.8,-5.2 25.2,-5.1 30.1,-5.3 31.4,-3.3 1.3,1.5"/>
<polygon transform="translate(327.5,275.6)" points="35.7,-6.1 39.2,-7.3 42.7,-8 48.3,-11.9 50.4,-12.7 53.9,-12.2 55.3,-12.3 60.9,-14.3 65.1,-14.8 68.6,-14.8 72.8,-16.3 74.9,-16.8 77,-16.6 82.6,-15 84,-15.3 86.8,-17.1 88.3,-17 90.4,-16.1 91.8,-16.3 103,-22.8 110.7,-29.9 112.1,-30.9 113.5,-31.4 114.9,-31.6 117,-30.9 124.7,-26.1 128.9,-24.5 132.4,-23.9 135.9,-23.6 140.1,-24.2 143.6,-24.3 146.4,-25.8 149.2,-28.3 158.3,-39.6 160.4,-41.4 162.5,-42.2 163.9,-42 167.4,-40 169.5,-39.4 170.9,-39.7 173.7,-40.8 175.1,-40.8 178.6,-40.2 181.4,-40.9 182.8,-41 184.9,-40.1 189.1,-36.9 191.2,-35.7 192.6,-35.4 196.1,-36.1 200.3,-35.2 203.1,-35.7 206.6,-38.2 208,-38.8 209.4,-38.6 212.2,-36.8 213.6,-36.4 215.7,-37 219.9,-39.5 223.4,-39.9 227.6,-40.9 232.5,-41.2 238.8,-40.6 242.3,-40.9 248.6,-43.3 250.7,-44.6 251.4,-45.5 252.8,-48.3 256.3,-58.2 257.7,-60.5 258.4,-60.7 259.1,-60.2 259.8,-59.1 263.4,-51.6 265.5,-48.9 266.9,-48 269,-47.4 271.1,-47.5 273.2,-48 275.3,-48.8 276.7,-49.7 278.8,-52.3 280.9,-56.8 284.4,-66.3 285.8,-69.3 286.5,-69.9 287.2,-69.5 290,-65.7 290.7,-65.4 291.4,-65.9 292.8,-69.3 295.6,-80.3 296.3,-82 297,-82.7 297.7,-82.1 298.4,-80.5 301.2,-69.4 302.6,-65 303.3,-63.7 304,-63.1 306.1,-61.9 307.5,-60.3 308.7,-48.1 37,-4.2"/>
<polygon transform="translate(328.7,275.9)" points="0,-1.2 7,-3.6 10.5,-4.4 18.2,-5.2 25.2,-5.1 30.1,-5.3 31.4,-3.3 1.3,1.5"/>
<polygon transform="translate(328.7,275.9)" points="34.3,-5.8 39.2,-7.9 40.6,-8.1 43.4,-8.1 48.3,-11 49.7,-11.5 53.9,-11.9 60.9,-14.5 67.2,-14.7 71.4,-16.6 74.2,-17.4 76.3,-17.3 82.6,-15.3 83.3,-15.5 84,-16.1 86.1,-18.4 86.8,-18.8 87.6,-18.8 91.1,-16.2 92.5,-16.4 96,-18.2 99.5,-20.6 103,-22.4 110,-28.6 112.1,-30 113.5,-30.5 114.9,-30.5 117,-29.9 124,-25.9 129.6,-23.9 135.2,-23.4 136.6,-23.6 140.1,-24.8 144.3,-24.4 146.4,-25.4 149.2,-27.5 156.9,-35.9 161.1,-39.4 162.5,-40 163.9,-40.1 167.4,-38.5 168.8,-38.6 170.2,-39.2 173.7,-42.3 174.4,-42.3 175.1,-42 178.6,-40.1 182.1,-39.9 183.5,-39.6 185.6,-38.6 189.8,-35.9 191.2,-35.3 192.6,-35.6 194.7,-37.2 196.1,-37.7 197.5,-37.3 200.3,-35.2 201.7,-34.7 203.1,-35.6 206.6,-40.3 208,-41.2 209.4,-40.8 212.9,-37 214.3,-36.3 215.7,-36.9 218.5,-39.7 219.9,-40.6 221.3,-40.5 224.1,-39.4 229.7,-40.3 233.2,-41.1 236.7,-40.2 240.2,-40.3 242.3,-40.7 245.8,-42.3 249.3,-43 250.7,-43.7 252.1,-45.2 256.3,-53.4 257.7,-55 258.4,-55.2 259.8,-54.3 262.7,-50.3 264.8,-48.3 268.3,-46.8 269.7,-46.7 271.1,-46.9 276,-49.2 277.4,-50.4 278.8,-52.3 280.9,-56.8 285.8,-69.7 286.5,-70.3 287.2,-69.7 290,-64.7 290.7,-64 291.4,-63.9 292.1,-64.5 292.8,-65.9 295.6,-73.8 296.3,-74.9 297,-75.3 297.7,-74.8 298.4,-73.7 301.2,-65.5 302.6,-62.4 303.3,-61.6 306.1,-60.5 307.5,-59.3 308.7,-48.1 35.6,-4"/>
<polygon transform="translate(330,276.2)" points="0,-1.1 7,-3.3 11.2,-4.2 20.3,-5.3 25.2,-5 29.4,-5.2 30.7,-3.2 1.3,1.5"/>
<polygon transform="translate(330,276.2)" points="33.6,-5.7 35.7,-6.4 38.5,-8.1 39.9,-8.7 41.3,-8.6 43.4,-8.2 44.8,-8.4 49,-10.4 53.2,-11.4 56,-13.2 60.9,-14.7 65.1,-14.3 66.5,-14.5 70,-16.7 74.2,-18.2 76.3,-17.9 81.2,-15.8 82.6,-15.6 83.3,-16 86.1,-20.1 86.8,-20.7 87.6,-20.6 88.3,-20.1 91.1,-16.6 91.8,-16.2 92.5,-16.2 96,-17.8 100.2,-21.3 103,-22.2 110,-28.2 112.1,-29.5 113.5,-29.9 116.3,-29.4 124,-25.4 130.3,-23.5 133.8,-23.2 135.9,-23.4 138.7,-25 140.1,-25.6 141.5,-25.4 143.6,-24.5 145,-24.5 147.1,-25.4 149.2,-26.8 154.1,-31.6 161.8,-37.9 163.2,-38.7 164.6,-38.4 166.7,-37.1 168.1,-36.9 169.5,-37.4 173,-39.8 173.7,-40.1 175.1,-40.1 179.3,-38.8 182.8,-38.6 190.5,-35 191.2,-35.1 191.9,-35.5 194.7,-39 196.1,-39.9 197.5,-39.2 200.3,-35.9 201.7,-34.9 202.4,-35.2 203.1,-36.2 206.6,-42.6 207.3,-43.4 208,-43.8 208.7,-43.7 209.4,-43.1 213.6,-36.9 214.3,-36.4 215,-36.5 216.4,-37.9 218.5,-41.1 219.9,-42.3 220.6,-42.2 221.3,-41.8 224.1,-39.2 225.5,-38.9 229.7,-39.7 232.5,-41.5 233.2,-41.7 236.7,-39.9 238.8,-39.9 241.6,-40.3 245.8,-42.9 250,-42.8 252.1,-43.8 256.3,-49.1 257.7,-50.2 258.4,-50.4 259.8,-50.2 262.7,-48.6 267.6,-46.8 269,-46.5 270.4,-46.6 276.7,-50.5 278.8,-52.8 280.9,-56.7 284.4,-65.3 285.8,-67.9 286.5,-68.3 287.2,-68 290,-63.5 290.7,-62.7 291.4,-62.4 292.1,-62.8 292.8,-63.9 294.9,-68.9 295.6,-70.2 296.3,-71 297,-71 297.7,-70.4 298.4,-69.3 301.2,-62.7 302.6,-60.4 304,-59.7 306.1,-59.6 307.5,-58.5 308.7,-48.1 34.9,-3.9"/>
<polygon transform="translate(331.2,276.6)" points="0,-1 8.4,-3.4 16.1,-4.6 19.6,-5.4 25.2,-5 29.4,-5.2 30.7,-4.8 26.5,-4.5 22.3,-5 20.9,-5 17.4,-4 9,-2.6 1.3,-0.6"/>
<polygon transform="translate(331.2,276.6)" points="33.6,-5.7 35.7,-6.6 39.9,-9.3 40.6,-9.3 43.4,-8.3 44.8,-8.1 51.8,-10.4 53.2,-11.2 56,-13.7 58.1,-13.7 60.9,-14.6 65.8,-14.3 67.2,-15 70,-17.5 74.2,-18.7 75.6,-18.5 81.2,-16 82.6,-15.8 84,-17.5 86.1,-21.5 86.8,-22.4 87.6,-22.2 91.1,-16.8 91.8,-16.2 93.2,-16.3 96.7,-18.1 99.5,-21.3 100.2,-21.8 102.3,-21.7 103.7,-22.5 110,-28 111.4,-29 112.8,-29.6 114.2,-29.5 115.6,-29.1 123.3,-25.2 126.1,-24.7 128.9,-23.5 131,-23.1 134.5,-23 135.9,-23.3 139.4,-26.1 140.1,-26.4 140.8,-26.2 143.6,-24.7 145,-24.3 147.8,-25.4 150.6,-27.1 154.1,-30.6 156.2,-31.5 158.3,-32.9 163.2,-38 163.9,-38 166.7,-35.5 168.1,-35.1 169.5,-35.3 173,-36.9 174.4,-37.2 179.3,-37 182.1,-37.6 189.1,-34.7 190.5,-34.6 191.9,-35.8 194.7,-40.6 195.4,-41.6 196.1,-42 196.8,-41.6 200.3,-36.4 201,-35.6 201.7,-35.1 202.4,-35.6 203.1,-36.7 206.6,-44.4 207.3,-45.7 208,-46.4 208.7,-46 209.4,-44.9 213.6,-37.3 214.3,-36.6 215,-36.6 215.7,-37.3 219.2,-43.3 219.9,-44 220.6,-43.7 224.1,-39.1 225.5,-38.5 228.3,-38.9 229.7,-39.3 232.5,-42.2 233.2,-42.4 236,-40.1 236.7,-39.7 238.1,-39.5 240.2,-39.7 241.6,-40.2 245.8,-43.5 246.5,-43.5 249.3,-42.5 250.7,-42.5 253.5,-43.7 258.4,-47.2 260.5,-48 264.1,-48.1 268.3,-46.6 269.7,-46.6 271.1,-47.3 273.9,-49.7 277.4,-52.3 278.8,-53.7 280.9,-56.7 284.4,-63.5 285.8,-65.3 286.5,-65.6 287.2,-65.4 287.9,-64.8 290,-62 290.7,-61.3 291.4,-61.3 292.1,-61.9 292.8,-63.3 294.9,-68.9 295.6,-70.4 296.3,-71.2 297,-70.8 297.7,-69.7 301.2,-61.2 302.6,-59 303.3,-58.6 306.1,-58.4 307.5,-57.5 308.7,-56.1 306.6,-57.2 304.5,-57.2 303.8,-57.6 303.1,-58.5 301.7,-61.6 298.2,-71.3 297.5,-72.2 296.8,-71 294,-62.3 292.6,-59.7 291.9,-59.5 291.2,-59.8 289.1,-62 288.4,-62.4 287,-62.3 285.6,-61.1 280.7,-55.2 272.3,-47.4 270.9,-46.5 269.5,-46.3 265.3,-48.1 263.9,-48.1 261.1,-46.8 256.9,-43.5 253.4,-42.1 251.3,-41.8 247.8,-43.2 247.1,-43.2 242.9,-39.8 241.5,-39.2 239.4,-39 238,-39.2 237.3,-39.6 234.5,-42.2 233.8,-41.9 231,-38.7 229.6,-38.1 227.5,-37.7 226.1,-38 225.4,-38.6 221.9,-43.6 221.2,-43.9 220.5,-43.1 217.7,-38 216.3,-36.2 215.6,-36.2 214.9,-36.9 213.5,-39.2 210.7,-44.8 210,-46 209.3,-46.4 208.6,-45.7 207.9,-44.3 204.4,-36.4 203.7,-35.2 203,-34.8 202.3,-35.2 201.6,-36.1 198.8,-40.5 198.1,-41.5 197.4,-42 196.7,-41.5 192.5,-34.3 191.8,-33.7 191.1,-33.5 186.2,-34.9 183.4,-36.1 179.9,-34.5 175.7,-34 171.5,-32.8 170.1,-32.8 168,-33.8 165.1,-37.2 164.4,-37.2 161.6,-33.1 159.5,-30.8 157.4,-29.6 155.3,-29.4 152.5,-26.7 150.4,-25.2 147.6,-24.1 146.2,-23.9 141.3,-26.1 140.6,-25.8 137.1,-22.9 135.7,-22.5 130.8,-22.7 127.3,-24.1 124.5,-24.4 116.1,-28.7 114,-29.1 112.6,-28.5 111.2,-27.6 104.9,-22 103.5,-21.2 101.4,-21.4 100.7,-20.9 97.9,-17.6 96.5,-16.7 94.4,-15.8 93,-15.9 92.3,-16.5 88.8,-22.1 88.1,-22.4 85.3,-17.2 83.9,-15.5 82.5,-15.6 76.9,-18.2 75.5,-18.4 71.3,-17.2 68.5,-14.6 67.1,-13.9 62.9,-14.1 59.4,-13.3 57.3,-13.3 53.8,-10.2 51.7,-9.2 46.1,-7.6 41.9,-9 41.2,-9 37,-6.2 34.9,-5.4"/></g>
<polygon fill="#fff" points="332,275.8 339.7,273.7 348.1,272.4 351.6,271.5 353,271.4 357.9,271.9 362.1,271.6 365.6,271.1 367.7,270.2 371.2,267.8 371.9,267.5 372.6,267.5 376.1,268.7 377.5,268.7 383.1,266.8 384.5,266.2 388,263.1 390.1,263.1 392.2,262.5 393.6,262.3 396.4,262.6 397.8,262.6 399.2,261.8 402,259.3 404.1,258.8 406.2,258.1 407.6,258.3 413.2,260.8 413.9,261.1 414.6,261 415.3,260.4 416,259.3 418.1,255.2 418.8,254.2 419.5,254.4 423,260 423.7,260.6 424.4,260.7 425.1,260.6 427.2,259.7 428.6,258.8 431.4,255.5 432.1,255 433.5,255.2 434.2,255.2 435.6,254.4 441.9,248.8 443.3,247.9 444.7,247.3 446.2,247.4 447.6,248 453.9,251.2 456,252.1 458.1,252.2 460.2,253.2 461.6,253.6 463.7,253.9 466.5,253.9 467.9,253.5 471.4,250.7 472.1,250.4 472.8,250.5 475.6,252.1 477,252.5 478.4,252.3 480.5,251.4 482.6,250.1 486.1,246.7 488.2,246.2 490.3,245 491.7,243.6 495.2,239.1 495.9,239.1 498.7,242.1 499.4,242.5 500.8,242.9 502.2,242.7 505,241.6 506.4,241.3 511.3,241 514.1,239.9 516.9,241.1 521.8,242.7 522.5,242.6 523.2,242 524.6,240 527.4,235.1 528.1,234.6 528.8,235.1 529.5,236 532.3,240.4 533,241.2 533.7,241.7 534.4,241.2 535.1,240.1 538.6,232.3 539.3,230.9 540,230.2 540.7,230.6 544.9,238.5 545.6,239.5 546.3,240.2 547,240.3 547.7,239.6 551.2,233.4 551.9,232.7 552.6,233 556.1,237.8 556.8,238.3 557.5,238.6 560.3,238.2 561.7,237.6 562.4,237 564.5,234.6 565.2,234.3 565.9,234.8 568,236.8 568.7,237.2 570.1,237.4 572.2,237.2 572.9,237 574.3,236.1 577.1,233.7 577.8,233.3 578.5,233.2 581.3,234.5 582,234.6 583.4,234.4 584.8,233.9 586.9,232.8 591.8,229.4 594.6,228.5 596,228.5 600.2,230.2 601.6,230.1 602.3,229.7 603.7,228.6 605.8,226.6 608.6,224.4 610.7,222.4 612.8,219.9 616.3,214.5 617.7,213.1 618.4,212.9 619.1,213 619.8,213.5 622,215.9 622.7,216.4 623.4,216.2 624.1,215.4 624.8,213.9 627.6,205.8 628.3,204.8 629,205.5 629.7,207.1 632.5,214.5 633.9,217.6 634.6,218.4 635.3,218.9 637.4,218.8 638.1,219 639.5,219.9 643.2,226.6 655.8,230.1 343.6,280.4 331,277"/>
<line class="g" x1="334.50" y1="277.50" x2="328.21" y2="275.76"/>
<line class="g" x1="381.43" y1="269.93" x2="373.13" y2="267.64"/>
<line class="g" x1="428.36" y1="262.36" x2="418.05" y2="259.51"/>
<line class="g" x1="475.29" y1="254.79" x2="462.96" y2="251.38"/>
<line class="g" x1="522.21" y1="247.21" x2="507.88" y2="243.25"/>
<line class="g" x1="569.14" y1="239.64" x2="557.83" y2="236.52"/>
<line class="g" x1="616.07" y1="232.07" x2="603.75" y2="228.67"/>
<line class="g" x1="663.00" y1="224.50" x2="649.67" y2="220.82"/>
<line class="a" x1="334.50" y1="277.50" x2="663.00" y2="224.50"/>
<line class="a" x1="334.50" y1="277.50" x2="83.00" y2="208.00"/>
<line class="a" x1="83.00" y1="208.00" x2="83.00" y2="54.50"/>
<line class="a" x1="334.50" y1="277.50" x2="342.21" y2="279.63"/>
<text class="t" x="348.5" y="295.8">0</text>
<line class="a" x1="381.43" y1="269.93" x2="389.14" y2="272.06"/>
<text class="t" x="395.4" y="288.2">500</text>
<line class="a" x1="428.36" y1="262.36" x2="436.07" y2="264.49"/>
<text class="t" x="442.4" y="280.7">1000</text>
<line class="a" x1="475.29" y1="254.79" x2="483.00" y2="256.92"/>
<text class="t" x="489.3" y="273.1">1500</text>
<line class="a" x1="522.21" y1="247.21" x2="529.93" y2="249.35"/>
<text class="t" x="536.2" y="265.5">2000</text>
<line class="a" x1="569.14" y1="239.64" x2="576.85" y2="241.77"/>
<text class="t" x="583.1" y="257.9">2500</text>
<line class="a" x1="616.07" y1="232.07" x2="623.78" y2="234.20"/>
<text class="t" x="630.1" y="250.4">3000</text>
<line class="a" x1="663.00" y1="224.50" x2="670.71" y2="226.63"/>
<text class="t" x="677.0" y="242.8">3500</text>
<line class="a" x1="334.50" y1="277.50" x2="326.60" y2="278.77"/>
<text class="t" text-anchor="end" x="319.5" y="294.6">0</text>
<line class="a" x1="284.20" y1="263.60" x2="276.30" y2="264.87"/>
<text class="t" text-anchor="end" x="269.2" y="280.7">20</text>
<line class="a" x1="233.90" y1="249.70" x2="226.00" y2="250.97"/>
<text class="t" text-anchor="end" x="218.9" y="266.8">40</text>
<line class="a" x1="183.60" y1="235.80" x2="175.70" y2="237.07"/>
<text class="t" text-anchor="end" x="168.6" y="252.9">60</text>
<line class="a" x1="133.30" y1="221.90" x2="125.40" y2="223.17"/>
<text class="t" text-anchor="end" x="118.3" y="239.0">80</text>
<line class="a" x1="83.00" y1="208.00" x2="75.10" y2="209.27"/>
<text class="t" text-anchor="end" x="68.0" y="225.1">100</text>
<line class="a" x1="83.00" y1="208.00" x2="74.71" y2="205.71"/>
<text class="t" text-anchor="end" x="68.2" y="209.5">0</text>
<line class="a" x1="83.00" y1="131.25" x2="74.71" y2="128.96"/>
<text class="t" text-anchor="end" x="68.2" y="132.8">0.5</text>
<line class="a" x1="83.00" y1="54.50" x2="74.71" y2="52.21"/>
<text class="t" text-anchor="end" x="68.2" y="56.0">1</text>
<line x1="302.2" y1="289.2" x2="236.6" y2="358.4" stroke="#111" stroke-width="1.1" stroke-dasharray="13.5 3.2 2 3.3"/>
<polygon points="228.6,365.4 233.8,352.6 236.9,357.9 243.9,359.4" fill="#111"/>
<text class="r" font-size="17.3" x="168.0" y="314.4">Apply Filter to</text>
<text class="r" font-size="17.3" x="168.0" y="334.1">Each Row</text>
<text class="r" font-size="20.4" x="2.2" y="429.4">X<tspan font-size="14.2" dy="-10.2" dx="0.5">SP</tspan><tspan dy="10.2" dx="1.6">(r,t,f)=</tspan></text>
<text class="r" font-size="100" transform="translate(93.75,438.7) scale(0.65,0.7695)" stroke="#111" stroke-width="0.7">{</text>
<text class="r" font-size="100" transform="translate(650.0,446.6) scale(0.61,0.778)" stroke="#111" stroke-width="0.7">}</text>
<circle cx="357.3" cy="435.4" r="3.7" fill="#111"/>
<circle cx="374.8" cy="435.4" r="3.7" fill="#111"/>
<circle cx="392.3" cy="435.4" r="3.7" fill="#111"/>
<line class="g" x1="205.40" y1="482.50" x2="147.80" y2="454.30"/>
<line class="g" x1="243.60" y1="472.10" x2="186.00" y2="443.90"/>
<line class="g" x1="281.80" y1="461.70" x2="224.20" y2="433.50"/>
<line class="g" x1="205.40" y1="482.50" x2="281.80" y2="461.70"/>
<line class="g" x1="176.60" y1="468.40" x2="253.00" y2="447.60"/>
<line class="g" x1="147.80" y1="454.30" x2="224.20" y2="433.50"/>
<line class="g" x1="186.00" y1="443.90" x2="186.00" y2="383.10"/>
<line class="g" x1="224.20" y1="433.50" x2="224.20" y2="372.70"/>
<line class="g" x1="281.80" y1="461.70" x2="281.80" y2="400.90"/>
<line class="g" x1="253.00" y1="447.60" x2="253.00" y2="386.80"/>
<line class="g" x1="147.80" y1="445.70" x2="224.20" y2="424.90"/>
<line class="g" x1="224.20" y1="424.90" x2="281.80" y2="453.10"/>
<line class="g" x1="147.80" y1="433.10" x2="224.20" y2="412.30"/>
<line class="g" x1="224.20" y1="412.30" x2="281.80" y2="440.50"/>
<line class="g" x1="147.80" y1="420.40" x2="224.20" y2="399.60"/>
<line class="g" x1="224.20" y1="399.60" x2="281.80" y2="427.80"/>
<line class="g" x1="147.80" y1="407.80" x2="224.20" y2="387.00"/>
<line class="g" x1="224.20" y1="387.00" x2="281.80" y2="415.20"/>
<line class="g" x1="147.80" y1="395.10" x2="224.20" y2="374.30"/>
<line class="g" x1="224.20" y1="374.30" x2="281.80" y2="402.50"/>
<g fill="url(#sg1)" >
<polygon transform="translate(148.4,420.7)" points="-0.6,-0.3 61.6,-17.2 63.9,-16.1 1.7,0.8"/>
<polygon transform="translate(149.5,421.2)" points="-0.6,-0.3 61.6,-17.2 63.9,-16.1 1.7,0.8"/>
<polygon transform="translate(150.7,421.8)" points="-0.6,-0.3 61.6,-17.2 63.9,-16.1 1.7,0.8"/>
<polygon transform="translate(151.8,422.4)" points="-0.6,-0.3 61.6,-17.2 63.9,-16.1 1.7,0.8"/>
<polygon transform="translate(153.0,422.9)" points="-0.6,-0.3 61.6,-17.2 63.9,-16.1 34.5,-8.0 1.7,0.8"/>
<polygon transform="translate(154.1,423.5)" points="-0.6,-0.3 61.6,-17.2 63.9,-16.4 35.6,-8.3 1.7,0.8"/>
<polygon transform="translate(155.3,424.1)" points="-0.6,-0.3 32.2,-9.1 61.6,-17.2 63.9,-17.6 52.6,-13.8 43.6,-11.1 35.6,-8.5 15.3,-2.8 1.7,0.8"/>
<polygon transform="translate(156.4,424.6)" points="-0.6,-0.3 33.3,-9.5 61.6,-17.6 63.9,-19.0 52.6,-14.6 47.0,-12.6 43.6,-11.6 35.6,-8.8 28.9,-6.7 24.3,-5.5 15.3,-2.8 1.7,0.8"/>
<polygon transform="translate(157.6,425.2)" points="-0.6,-0.3 13.0,-4.0 33.3,-9.7 41.3,-12.2 50.3,-15.0 61.6,-18.8 63.9,-19.9 52.6,-15.1 47.0,-12.9 43.6,-11.9 41.3,-10.9 35.6,-8.9 28.9,-6.7 24.3,-5.6 15.3,-2.8 1.7,0.8"/>
<polygon transform="translate(158.7,425.8)" points="-0.6,-0.3 13.0,-4.0 22.0,-6.6 26.6,-7.8 33.3,-9.9 41.3,-12.7 44.7,-13.7 50.3,-15.7 61.6,-20.1 63.9,-21.3 52.6,-15.8 47.0,-13.5 43.6,-12.4 41.3,-11.3 35.6,-9.1 28.9,-6.8 24.3,-5.7 15.3,-2.8 1.7,0.8"/>
<polygon transform="translate(159.9,426.3)" points="-0.6,-0.3 13.0,-4.0 22.0,-6.7 26.6,-7.9 33.3,-10.0 39.0,-12.1 41.3,-13.0 44.7,-14.1 50.3,-16.2 61.6,-21.0 63.9,-23.5 52.6,-17.1 47.0,-14.4 43.6,-13.2 41.3,-12.0 35.6,-9.4 28.9,-7.0 24.3,-5.8 15.3,-2.8 1.7,0.8"/>
<polygon transform="translate(161.0,426.9)" points="-0.6,-0.3 13.0,-4.0 22.0,-6.8 26.6,-8.0 33.3,-10.2 39.0,-12.5 41.3,-13.5 44.7,-14.6 50.3,-17.0 61.6,-22.4 63.9,-25.8 57.1,-21.2 52.6,-18.4 47.0,-15.3 43.6,-14.0 41.3,-12.6 37.9,-10.8 35.6,-9.7 33.4,-8.8 28.9,-7.2 24.3,-6.0 15.3,-2.8 1.7,0.8"/>
<polygon transform="translate(162.2,427.5)" points="-0.6,-0.3 13.0,-4.0 22.0,-6.9 26.6,-8.1 33.3,-10.5 39.0,-13.1 41.3,-14.3 44.7,-15.5 50.3,-18.2 61.6,-24.6 63.9,-27.4 57.1,-22.4 52.6,-19.2 47.0,-15.9 43.6,-14.6 41.3,-13.0 37.9,-11.1 35.6,-9.9 33.4,-8.9 28.9,-7.2 24.3,-6.1 15.3,-2.8 1.7,0.8"/>
<polygon transform="translate(163.4,428.0)" points="-0.6,-0.3 13.0,-4.0 22.0,-7.1 26.6,-8.3 31.1,-9.9 33.3,-10.9 35.6,-11.9 39.0,-13.7 41.3,-15.1 44.7,-16.4 50.3,-19.5 54.8,-22.4 61.6,-26.9 63.9,-27.4 61.7,-25.6 52.6,-19.1 47.0,-15.8 44.7,-15.0 43.6,-14.5 41.3,-12.9 37.9,-10.8 35.6,-9.7 33.4,-8.7 28.9,-7.0 24.3,-6.0 15.3,-2.8 1.7,0.8"/>
<polygon transform="translate(164.5,428.6)" points="-0.6,-0.3 13.0,-4.0 22.0,-7.2 26.6,-8.3 31.1,-10.0 33.3,-11.0 35.6,-12.2 39.0,-14.2 41.3,-15.7 44.7,-17.1 50.3,-20.4 54.8,-23.5 61.6,-28.6 63.9,-26.7 61.7,-25.0 52.6,-18.5 47.0,-15.3 44.7,-14.7 43.6,-14.2 42.4,-13.3 41.3,-12.5 37.9,-10.4 35.6,-9.3 33.4,-8.3 28.9,-6.7 24.3,-6.0 23.2,-5.6 15.3,-2.7 1.7,0.8"/>
<polygon transform="translate(165.7,429.1)" points="-0.6,-0.3 13.0,-3.9 22.0,-7.2 26.6,-8.2 31.1,-9.8 33.3,-10.8 35.6,-12.0 39.0,-14.0 41.3,-15.6 42.4,-16.1 44.7,-16.9 50.3,-20.2 59.4,-26.7 61.6,-28.5 63.9,-26.1 52.6,-17.9 47.0,-14.8 44.7,-14.3 43.6,-13.9 42.4,-12.9 41.3,-12.1 37.9,-10.0 35.6,-8.8 33.4,-7.9 28.9,-6.4 27.7,-6.2 24.3,-5.9 23.2,-5.5 15.3,-2.6 1.7,0.8"/>
<polygon transform="translate(166.8,429.7)" points="-0.6,-0.3 13.0,-3.8 20.9,-6.7 22.0,-7.1 26.6,-7.9 31.1,-9.4 33.3,-10.4 35.6,-11.6 39.0,-13.6 40.1,-14.4 41.3,-15.3 42.4,-15.8 44.7,-16.4 50.3,-19.6 59.4,-26.1 61.6,-27.9 63.9,-25.6 61.7,-23.9 54.9,-19.2 52.6,-17.4 47.0,-14.4 44.7,-14.1 43.6,-13.7 42.4,-12.6 41.3,-11.8 37.9,-9.6 36.8,-8.9 35.6,-8.4 33.4,-7.5 28.9,-6.1 27.7,-5.9 24.3,-5.8 23.2,-5.5 15.3,-2.5 1.7,0.8"/>
<polygon transform="translate(168.0,430.3)" points="-0.6,-0.3 13.0,-3.7 20.9,-6.7 22.0,-7.0 25.4,-7.3 26.6,-7.6 31.1,-9.0 33.3,-10.0 35.6,-11.1 39.0,-13.2 40.1,-14.0 41.3,-15.0 42.4,-15.4 44.7,-15.9 50.3,-19.0 61.6,-27.2 63.9,-26.5 61.7,-24.7 54.9,-19.7 52.6,-17.8 47.0,-14.5 44.7,-14.3 43.6,-13.9 42.4,-12.7 41.3,-11.9 37.9,-9.5 36.8,-8.8 35.6,-8.2 33.4,-7.3 28.9,-5.9 27.7,-5.8 24.3,-5.8 23.2,-5.5 15.3,-2.4 1.7,0.8"/>
<polygon transform="translate(169.1,430.8)" points="-0.6,-0.3 13.0,-3.6 20.9,-6.6 22.0,-6.9 25.4,-7.1 26.6,-7.2 31.1,-8.6 33.3,-9.5 34.5,-10.0 35.6,-10.7 39.0,-12.9 40.1,-13.7 41.3,-14.8 42.4,-15.2 44.7,-15.5 50.3,-18.6 52.6,-20.3 59.4,-25.0 61.6,-26.8 63.9,-28.0 61.7,-26.0 54.9,-20.5 52.6,-18.4 47.0,-14.9 45.8,-14.8 44.7,-14.8 43.6,-14.4 42.4,-13.1 41.3,-12.1 37.9,-9.5 36.8,-8.7 35.6,-8.1 33.4,-7.1 28.9,-5.8 27.7,-5.7 24.3,-5.9 23.2,-5.6 15.3,-2.3 1.7,0.8"/>
<polygon transform="translate(170.3,431.4)" points="-0.6,-0.3 13.0,-3.5 20.9,-6.6 22.0,-6.9 25.4,-6.9 26.6,-7.1 31.1,-8.4 33.3,-9.4 34.5,-9.9 35.6,-10.6 39.0,-13.0 40.1,-13.9 41.3,-15.1 42.4,-15.4 44.7,-15.7 50.3,-18.9 52.6,-20.8 59.4,-25.8 61.6,-27.7 63.9,-29.8 61.7,-27.6 54.9,-21.5 52.6,-19.2 49.2,-16.8 47.0,-15.4 45.8,-15.3 44.7,-15.3 43.6,-15.0 42.4,-13.5 41.3,-12.4 37.9,-9.5 36.8,-8.7 35.6,-8.1 33.4,-7.0 28.9,-5.7 27.7,-5.6 24.3,-5.9 23.2,-5.6 21.0,-4.6 15.3,-2.2 1.7,0.8"/>
<polygon transform="translate(171.4,432.0)" points="-0.6,-0.3 13.0,-3.4 20.9,-6.7 22.0,-7.0 25.4,-6.8 26.6,-6.9 31.1,-8.3 33.3,-9.3 34.5,-9.8 35.6,-10.6 39.0,-13.2 40.1,-14.2 41.3,-15.5 42.4,-15.9 43.5,-15.9 44.7,-16.1 50.3,-19.5 52.6,-21.6 59.4,-27.1 61.6,-29.1 63.9,-31.6 61.7,-29.2 54.9,-22.6 52.6,-20.0 49.2,-17.5 47.0,-15.9 45.8,-15.8 44.7,-15.9 43.6,-15.5 42.4,-13.9 41.3,-12.7 37.9,-9.6 36.8,-8.6 35.6,-8.0 33.4,-6.9 28.9,-5.5 27.7,-5.5 25.5,-5.9 24.3,-6.0 23.2,-5.7 21.0,-4.6 15.3,-2.1 1.7,0.8"/>
<polygon transform="translate(172.6,432.5)" points="-0.6,-0.3 13.0,-3.3 18.6,-5.7 20.9,-6.8 22.0,-7.1 25.4,-6.7 26.6,-6.8 31.1,-8.1 33.3,-9.2 34.5,-9.8 35.6,-10.7 39.0,-13.5 40.1,-14.6 41.3,-16.1 42.4,-16.5 43.5,-16.4 44.7,-16.5 46.9,-18.0 50.3,-20.3 52.6,-22.6 59.4,-28.7 61.6,-30.9 63.9,-33.4 61.7,-30.8 59.4,-28.5 57.1,-25.9 54.9,-23.6 52.6,-20.8 49.2,-18.0 47.0,-16.4 45.8,-16.3 44.7,-16.5 43.6,-16.1 42.4,-14.2 41.3,-12.9 37.9,-9.5 36.8,-8.5 35.6,-7.8 33.4,-6.6 28.9,-5.3 27.7,-5.3 25.5,-5.9 24.3,-6.1 23.2,-5.8 21.0,-4.6 15.3,-2.0 13.0,-1.4 1.7,0.8"/>
<polygon transform="translate(173.7,433.1)" points="-0.6,-0.3 13.0,-3.2 18.6,-5.7 20.9,-6.9 22.0,-7.1 23.2,-7.0 25.4,-6.6 26.6,-6.7 31.1,-8.0 33.3,-9.1 34.5,-9.8 35.6,-10.7 39.0,-13.8 40.1,-15.0 41.3,-16.7 42.4,-17.1 43.5,-16.9 44.7,-17.1 46.9,-18.6 50.3,-21.1 52.6,-23.7 59.4,-30.4 61.6,-32.8 63.9,-34.9 61.7,-32.1 59.4,-29.7 57.1,-26.9 54.9,-24.4 52.6,-21.3 49.2,-18.4 47.0,-16.6 45.8,-16.6 44.7,-16.9 43.6,-16.5 42.4,-14.5 41.3,-13.1 37.9,-9.3 36.8,-8.3 35.6,-7.6 33.4,-6.3 28.9,-5.0 27.7,-5.1 25.5,-5.9 24.3,-6.1 23.2,-5.8 21.0,-4.6 15.3,-1.9 13.0,-1.3 1.7,0.8"/>
<polygon transform="translate(174.9,433.7)" points="-0.6,-0.3 10.7,-2.6 13.0,-3.1 18.6,-5.7 20.9,-6.9 22.0,-7.2 23.2,-7.0 25.4,-6.5 26.6,-6.4 31.1,-7.8 33.3,-9.0 34.5,-9.6 35.6,-10.6 39.0,-14.1 40.1,-15.4 41.3,-17.2 42.4,-17.6 43.5,-17.4 44.7,-17.5 46.9,-19.1 50.3,-21.9 52.6,-24.7 54.8,-27.1 57.1,-29.6 59.4,-32.0 61.6,-34.5 63.9,-35.9 61.7,-33.0 59.4,-30.4 57.1,-27.5 54.9,-24.8 52.6,-21.5 49.2,-18.4 47.0,-16.6 45.8,-16.7 44.7,-17.1 43.6,-16.7 42.4,-14.5 41.3,-13.0 37.9,-9.0 36.8,-7.8 35.6,-7.1 33.4,-5.9 28.9,-4.7 27.7,-4.8 25.5,-5.8 24.3,-6.1 23.2,-5.8 21.0,-4.5 15.3,-1.7 13.0,-1.2 1.7,0.8"/>
<polygon transform="translate(176.0,434.2)" points="-0.6,-0.3 10.7,-2.5 13.0,-3.0 18.6,-5.7 20.9,-7.0 22.0,-7.2 23.2,-7.0 25.4,-6.2 26.6,-6.2 31.1,-7.5 33.3,-8.7 34.5,-9.4 35.6,-10.5 39.0,-14.2 40.1,-15.6 41.3,-17.6 42.4,-18.0 43.5,-17.7 44.7,-17.7 46.9,-19.5 50.3,-22.4 52.6,-25.5 54.8,-28.0 57.1,-30.8 59.4,-33.3 61.6,-36.0 63.9,-36.2 61.7,-33.2 59.4,-30.6 57.1,-27.6 54.9,-24.8 52.6,-21.3 49.2,-18.1 47.0,-16.3 45.8,-16.5 44.7,-17.0 43.6,-16.7 42.4,-14.3 41.3,-12.7 40.2,-11.4 37.9,-8.4 36.8,-7.2 35.6,-6.5 33.4,-5.2 28.9,-4.1 27.7,-4.4 25.5,-5.6 24.3,-6.0 23.2,-5.8 21.0,-4.4 15.3,-1.5 13.0,-1.0 9.6,-0.6 7.4,-0.1 1.7,0.8"/>
<polygon transform="translate(177.2,434.8)" points="-0.6,-0.3 10.7,-2.3 13.0,-2.8 18.6,-5.7 20.9,-7.0 22.0,-7.2 23.2,-6.9 25.4,-5.9 26.6,-5.8 31.1,-7.0 33.3,-8.2 34.5,-9.0 35.6,-10.1 39.0,-14.1 40.1,-15.6 41.3,-17.8 42.4,-18.2 43.5,-17.8 44.7,-17.7 46.9,-19.5 50.3,-22.6 52.6,-25.9 54.8,-28.6 57.1,-31.6 59.4,-34.1 61.6,-37.0 63.9,-36.7 61.7,-33.6 59.4,-31.0 57.1,-27.8 54.9,-24.9 52.6,-21.1 49.2,-17.9 47.0,-16.0 45.8,-16.3 44.7,-16.9 43.6,-16.7 42.4,-14.1 41.3,-12.3 40.2,-11.0 37.9,-7.9 36.8,-6.6 35.6,-5.8 33.4,-4.6 28.9,-3.6 27.7,-3.9 25.5,-5.4 24.3,-6.0 23.2,-5.7 21.0,-4.3 15.3,-1.3 13.0,-0.9 9.6,-0.4 7.4,0.0 1.7,0.8"/>
<polygon transform="translate(178.3,435.3)" points="-0.6,-0.3 5.1,-1.2 7.3,-1.7 10.7,-2.2 13.0,-2.6 18.6,-5.6 20.9,-6.9 22.0,-7.2 23.2,-6.7 25.4,-5.5 26.6,-5.3 31.1,-6.3 33.3,-7.6 34.5,-8.3 35.6,-9.6 37.9,-12.5 39.0,-13.8 40.1,-15.4 41.3,-17.8 42.4,-18.1 43.5,-17.6 44.7,-17.4 46.9,-19.2 50.3,-22.4 52.6,-25.9 54.8,-28.7 57.1,-31.8 59.4,-34.4 61.6,-37.3 63.9,-37.2 61.7,-34.1 59.4,-31.4 57.1,-28.0 54.9,-25.0 52.6,-21.0 49.2,-17.6 47.0,-15.7 45.8,-16.1 44.7,-16.9 43.6,-16.7 42.4,-13.9 41.3,-12.0 40.2,-10.6 37.9,-7.3 36.8,-5.9 35.6,-5.1 33.4,-3.8 28.9,-3.0 27.7,-3.4 25.5,-5.2 24.3,-5.9 23.2,-5.7 21.0,-4.2 15.3,-1.1 14.2,-0.8 9.6,-0.3 7.4,0.1 1.7,0.8"/>
<polygon transform="translate(179.5,435.9)" points="-0.6,-0.3 5.1,-1.1 7.3,-1.6 10.7,-2.0 13.0,-2.4 18.6,-5.5 20.9,-6.9 22.0,-7.1 23.2,-6.5 25.4,-5.0 26.6,-4.7 31.1,-5.7 33.3,-6.9 34.5,-7.7 35.6,-9.0 37.9,-12.1 39.0,-13.5 40.1,-15.2 41.3,-17.8 42.4,-18.1 43.5,-17.4 44.7,-17.1 46.9,-19.0 50.3,-22.3 52.6,-26.0 54.8,-28.9 57.1,-32.1 59.4,-34.8 61.6,-37.8 63.9,-37.7 61.7,-34.5 59.4,-31.7 57.1,-28.2 54.9,-25.0 52.6,-20.8 49.2,-17.3 47.0,-15.3 45.8,-15.8 44.7,-16.8 43.6,-16.7 42.4,-13.6 41.3,-11.7 40.2,-10.1 37.9,-6.6 36.8,-5.1 35.6,-4.3 33.4,-3.1 32.3,-2.8 30.0,-2.6 28.9,-2.4 27.7,-2.9 25.5,-5.0 24.3,-5.8 23.2,-5.7 21.0,-4.1 15.3,-0.8 14.2,-0.6 9.6,-0.2 7.4,0.2 1.7,0.8"/>
<polygon transform="translate(180.6,436.5)" points="-0.6,-0.3 5.1,-1.0 7.3,-1.5 11.9,-2.0 13.0,-2.2 18.6,-5.4 20.9,-6.8 22.0,-7.0 23.2,-6.4 25.4,-4.6 26.6,-4.2 31.1,-5.0 33.3,-6.2 34.5,-7.0 35.6,-8.4 37.9,-11.7 39.0,-13.2 40.1,-15.0 41.3,-17.8 42.4,-18.0 43.5,-17.2 44.7,-16.8 46.9,-18.7 50.3,-22.1 52.6,-26.1 54.8,-29.2 57.1,-32.5 59.4,-35.2 61.6,-38.4 63.9,-38.1 62.8,-36.6 61.7,-34.8 59.4,-31.9 57.1,-28.3 54.9,-24.9 52.6,-20.4 49.2,-16.8 47.0,-14.8 45.8,-15.5 44.7,-16.7 43.6,-16.6 42.4,-13.3 41.3,-11.2 40.2,-9.6 37.9,-5.8 36.8,-4.3 35.6,-3.5 33.4,-2.2 32.3,-2.0 30.0,-1.9 28.9,-1.7 27.7,-2.3 25.5,-4.8 24.3,-5.7 23.2,-5.6 21.0,-4.0 15.3,-0.6 14.2,-0.4 9.6,-0.1 7.4,0.3 1.7,0.8"/>
<polygon transform="translate(181.8,437.0)" points="-0.6,-0.3 5.1,-0.9 7.3,-1.3 11.9,-1.7 13.0,-2.0 18.6,-5.2 20.9,-6.8 22.0,-6.9 23.2,-6.1 25.4,-4.0 26.6,-3.5 27.7,-3.8 30.0,-3.9 31.1,-4.2 33.3,-5.5 34.5,-6.3 35.6,-7.7 37.9,-11.3 39.0,-12.8 40.1,-14.8 41.3,-17.8 42.4,-18.0 43.5,-17.0 44.7,-16.4 46.9,-18.4 50.3,-21.9 52.6,-26.2 54.8,-29.4 57.1,-32.9 59.4,-35.6 61.6,-38.9 63.9,-38.1 62.8,-36.5 61.7,-34.7 59.4,-31.8 57.1,-28.1 54.9,-24.6 52.6,-19.8 49.2,-16.1 48.1,-15.0 47.0,-14.1 45.8,-15.0 44.7,-16.4 43.6,-16.4 42.4,-12.8 41.3,-10.6 40.2,-8.9 37.9,-4.9 36.8,-3.3 35.6,-2.4 33.4,-1.2 32.3,-1.0 30.0,-1.1 28.9,-0.9 27.7,-1.7 25.5,-4.5 24.3,-5.5 23.2,-5.5 21.0,-3.8 15.3,-0.3 13.0,-0.0 9.6,0.0 7.4,0.4 2.9,0.7 1.7,0.8"/>
<polygon transform="translate(182.9,437.6)" points="-0.6,-0.3 5.1,-0.8 7.3,-1.2 11.9,-1.5 13.0,-1.7 18.6,-5.1 20.9,-6.7 22.0,-6.8 23.2,-5.9 25.4,-3.5 26.6,-2.9 27.7,-3.0 30.0,-3.1 31.1,-3.3 33.3,-4.6 34.5,-5.4 35.6,-6.9 37.9,-10.7 39.0,-12.3 40.1,-14.4 41.3,-17.8 42.4,-17.8 43.5,-16.6 44.7,-15.9 46.9,-17.9 50.3,-21.6 52.6,-26.1 54.8,-29.4 57.1,-33.1 59.4,-35.9 60.5,-37.7 61.6,-39.2 63.9,-38.0 62.8,-36.4 61.7,-34.5 59.4,-31.6 57.1,-27.7 54.9,-24.1 52.6,-19.1 50.3,-16.6 48.1,-14.2 47.0,-13.3 45.8,-14.4 44.7,-16.0 43.6,-16.1 42.4,-12.3 41.3,-9.9 40.2,-8.1 37.9,-3.9 36.8,-2.2 35.6,-1.3 33.4,-0.1 32.3,0.0 30.0,-0.2 28.9,-0.1 27.7,-1.0 25.5,-4.1 24.3,-5.4 23.2,-5.4 21.0,-3.6 15.3,0.0 14.2,0.2 13.0,0.2 9.6,0.2 7.4,0.5 2.9,0.7 1.7,0.8"/>
<polygon transform="translate(184.1,438.2)" points="-0.6,-0.3 0.6,-0.4 5.1,-0.7 7.3,-1.1 10.7,-1.1 13.0,-1.4 18.6,-4.9 20.9,-6.6 22.0,-6.7 23.2,-5.6 25.4,-2.8 26.6,-2.1 27.7,-2.2 30.0,-2.2 31.1,-2.3 33.3,-3.6 34.5,-4.4 35.6,-6.0 37.9,-10.0 39.0,-11.7 40.1,-14.0 41.3,-17.5 42.4,-17.5 43.5,-16.1 44.7,-15.2 45.8,-16.1 46.9,-17.3 50.3,-21.0 52.6,-25.7 54.8,-29.2 57.1,-32.9 59.4,-35.8 60.5,-37.7 61.6,-39.2 63.9,-37.8 62.8,-36.3 61.7,-34.3 59.4,-31.4 57.1,-27.3 54.9,-23.6 52.6,-18.3 50.3,-15.7 48.1,-13.4 47.0,-12.5 45.8,-13.7 44.7,-15.6 43.6,-15.8 42.4,-11.7 41.3,-9.2 40.2,-7.3 37.9,-2.8 36.8,-1.0 35.6,-0.2 33.4,1.1 32.3,1.1 30.0,0.8 28.9,0.8 27.7,-0.2 25.5,-3.8 24.3,-5.2 23.2,-5.2 21.0,-3.4 18.7,-2.0 16.4,-0.3 15.3,0.3 14.2,0.5 13.0,0.5 9.6,0.4 7.4,0.6 2.9,0.7 1.7,0.8"/>
<polygon transform="translate(185.2,438.7)" points="-0.6,-0.3 0.6,-0.4 5.1,-0.6 7.3,-0.9 10.7,-0.9 11.9,-0.9 13.0,-1.1 18.6,-4.8 20.9,-6.5 22.0,-6.5 23.2,-5.3 25.4,-2.1 26.6,-1.2 27.7,-1.3 30.0,-1.1 31.1,-1.2 33.3,-2.5 34.5,-3.3 35.6,-5.0 37.9,-9.3 39.0,-11.0 40.1,-13.4 41.3,-17.3 42.4,-17.2 43.5,-15.5 44.7,-14.5 45.8,-15.4 48.0,-17.7 50.3,-20.3 52.6,-25.3 54.8,-28.8 57.1,-32.7 59.4,-35.6 60.5,-37.5 61.6,-39.1 63.9,-37.7 62.8,-36.1 61.7,-34.1 59.4,-31.1 57.1,-26.9 54.9,-23.0 52.6,-17.5 49.2,-13.7 48.1,-12.5 47.0,-11.6 45.8,-13.0 44.7,-15.2 43.6,-15.5 42.4,-11.1 41.3,-8.4 40.2,-6.5 37.9,-1.7 36.8,0.2 35.6,1.1 33.4,2.3 32.3,2.3 30.0,1.8 28.9,1.8 27.7,0.6 25.5,-3.4 24.3,-5.0 23.2,-5.1 21.0,-3.2 18.7,-1.8 16.4,-0.0 15.3,0.7 14.2,0.8 13.0,0.8 9.6,0.5 7.4,0.7 2.9,0.7 1.7,0.8"/>
<polygon transform="translate(186.4,439.3)" points="-0.6,-0.3 0.6,-0.4 5.1,-0.5 7.3,-0.8 10.7,-0.6 11.9,-0.6 13.0,-0.8 14.1,-1.5 16.4,-3.1 18.6,-4.6 20.9,-6.4 22.0,-6.3 23.2,-4.9 25.4,-1.3 26.6,-0.3 27.7,-0.3 30.0,-0.0 31.1,-0.1 33.3,-1.3 34.5,-2.1 35.6,-3.9 37.9,-8.4 39.0,-10.3 40.1,-12.8 41.3,-17.0 42.4,-16.8 43.5,-14.8 44.7,-13.6 45.8,-14.5 48.0,-16.9 50.3,-19.5 52.6,-24.7 54.8,-28.4 57.1,-32.5 59.4,-35.4 60.5,-37.4 61.6,-39.0 63.9,-37.6 62.8,-35.9 61.7,-33.8 59.4,-30.8 57.1,-26.4 54.9,-22.5 52.6,-16.6 49.2,-12.7 48.1,-11.6 47.0,-10.7 45.8,-12.4 44.7,-14.8 43.6,-15.2 42.4,-10.5 41.3,-7.6 40.2,-5.6 37.9,-0.5 36.8,1.5 35.6,2.4 33.4,3.6 32.3,3.5 30.0,2.9 28.9,2.8 27.7,1.5 25.5,-3.1 24.3,-4.8 23.2,-5.0 21.0,-3.0 18.7,-1.5 16.4,0.3 15.3,1.0 14.2,1.2 13.0,1.1 9.6,0.7 7.4,0.9 2.9,0.7 1.7,0.8"/>
<polygon transform="translate(187.5,439.9)" points="-0.6,-0.3 0.6,-0.4 5.1,-0.4 7.3,-0.6 10.7,-0.3 11.9,-0.3 13.0,-0.5 14.1,-1.2 16.4,-2.9 18.6,-4.4 20.9,-6.2 22.0,-6.2 23.2,-4.6 25.4,-0.5 26.6,0.7 27.7,0.7 30.0,1.1 31.1,1.2 33.3,-0.1 34.5,-0.9 35.6,-2.8 37.9,-7.6 39.0,-9.5 40.1,-12.2 41.3,-16.7 42.4,-16.4 43.5,-14.2 44.7,-12.8 45.8,-13.6 46.9,-14.8 50.3,-18.6 52.6,-24.2 54.8,-28.0 57.1,-32.2 59.4,-35.2 60.5,-37.2 61.6,-38.8 63.9,-37.4 62.8,-35.7 61.7,-33.5 59.4,-30.3 57.1,-25.8 54.9,-21.7 52.6,-15.6 50.3,-13.0 48.1,-10.6 47.0,-9.7 45.8,-11.6 44.7,-14.4 43.6,-14.9 42.4,-9.8 41.3,-6.8 40.2,-4.6 37.9,0.8 36.8,2.9 35.6,3.8 34.5,4.4 33.4,5.0 32.3,4.8 30.0,4.0 28.9,3.9 27.7,2.4 25.5,-2.7 24.3,-4.6 23.2,-4.8 21.0,-2.8 18.7,-1.2 16.4,0.7 15.3,1.4 14.2,1.5 13.0,1.4 9.6,0.9 7.4,1.0 2.9,0.8 1.7,0.8"/>
<polygon transform="translate(188.7,440.4)" points="-0.6,-0.3 0.6,-0.4 5.1,-0.2 7.3,-0.4 10.7,-0.0 11.9,0.0 13.0,-0.1 14.1,-0.8 16.4,-2.6 18.6,-4.2 20.9,-6.1 22.0,-6.0 23.2,-4.2 25.4,0.3 26.6,1.7 27.7,1.7 30.0,2.4 31.1,2.5 33.3,1.2 34.5,0.4 35.6,-1.6 37.9,-6.7 39.0,-8.8 40.1,-11.6 41.3,-16.4 42.4,-16.0 43.5,-13.5 44.7,-11.9 45.8,-12.7 46.9,-13.9 50.3,-17.8 52.6,-23.6 54.8,-27.5 57.1,-31.9 59.4,-35.0 60.5,-37.1 61.6,-38.7 63.9,-36.8 62.8,-35.0 61.7,-32.7 59.4,-29.5 57.1,-24.8 54.9,-20.7 52.6,-14.3 50.3,-11.7 48.1,-9.3 47.0,-8.5 45.8,-10.6 44.7,-13.7 43.6,-14.4 42.4,-8.9 41.3,-5.7 40.2,-3.4 37.9,2.3 36.8,4.5 35.6,5.3 34.5,6.0 33.4,6.5 32.3,6.3 30.0,5.3 28.9,5.1 27.7,3.4 25.5,-2.2 24.3,-4.4 23.2,-4.7 21.0,-2.5 18.7,-0.9 16.4,1.1 15.3,1.8 14.2,1.9 13.0,1.8 9.6,1.1 7.4,1.2 2.9,0.8 1.7,0.8"/>
<polygon transform="translate(189.8,441.0)" points="-0.6,-0.3 0.6,-0.4 5.1,-0.1 7.3,-0.2 10.7,0.3 11.9,0.4 13.0,0.3 14.1,-0.4 16.4,-2.4 18.6,-3.9 20.9,-6.0 22.0,-5.8 23.2,-3.8 25.4,1.3 26.6,2.7 27.7,2.9 30.0,3.7 31.1,3.8 32.2,3.3 33.3,2.6 34.5,1.8 35.6,-0.3 37.9,-5.7 39.0,-7.9 40.1,-10.9 41.3,-16.0 42.4,-15.5 43.5,-12.7 44.7,-10.9 45.8,-11.7 48.0,-14.1 50.3,-16.8 52.6,-22.9 54.8,-26.9 57.1,-31.5 59.4,-34.6 60.5,-36.8 61.6,-38.5 63.9,-35.9 62.8,-34.1 61.7,-31.7 59.4,-28.5 57.1,-23.7 54.9,-19.4 52.6,-12.8 51.5,-11.5 48.1,-7.9 47.0,-7.1 45.8,-9.5 44.7,-13.0 43.6,-13.8 42.4,-8.0 41.3,-4.6 40.2,-2.2 37.9,3.8 36.8,6.1 35.6,7.0 34.5,7.7 33.4,8.1 32.3,7.8 30.0,6.6 28.9,6.3 27.7,4.5 25.5,-1.7 24.3,-4.1 23.2,-4.5 21.0,-2.3 18.7,-0.6 16.4,1.5 15.3,2.3 14.2,2.3 13.0,2.1 9.6,1.3 7.4,1.3 2.9,0.8 1.7,0.8"/>
<polygon transform="translate(191.0,441.6)" points="-0.6,-0.3 0.6,-0.4 5.1,0.1 7.3,-0.0 10.7,0.6 11.9,0.8 13.0,0.7 14.1,-0.1 16.4,-2.1 18.6,-3.7 20.9,-5.8 22.0,-5.5 23.2,-3.3 25.4,2.3 26.6,3.9 27.7,4.1 30.0,5.1 31.1,5.4 32.2,4.9 33.3,4.2 34.5,3.3 35.6,1.1 37.9,-4.6 39.0,-6.9 40.1,-10.1 41.3,-15.5 42.4,-14.9 43.5,-11.8 44.7,-9.6 45.8,-10.5 48.0,-12.8 50.3,-15.5 52.6,-21.8 54.8,-26.0 57.1,-30.7 59.4,-33.8 60.5,-36.1 61.6,-37.9 63.9,-35.0 62.8,-33.2 61.7,-30.7 59.4,-27.4 57.1,-22.4 54.9,-18.1 52.6,-11.3 51.5,-9.9 48.1,-6.5 47.0,-5.7 45.8,-8.4 44.7,-12.2 43.6,-13.2 42.4,-7.0 41.3,-3.4 40.2,-0.9 37.9,5.5 36.8,7.9 35.6,8.8 34.5,9.4 33.4,9.8 32.3,9.4 30.0,8.0 28.9,7.7 27.7,5.6 25.5,-1.2 24.3,-3.8 23.2,-4.2 21.0,-2.0 18.7,-0.2 16.4,1.9 15.3,2.8 14.2,2.8 13.0,2.5 9.6,1.5 7.4,1.5 2.9,0.8 1.7,0.8"/>
<polygon transform="translate(192.2,442.1)" points="-0.6,-0.3 0.6,-0.3 5.1,0.2 7.3,0.2 10.7,1.0 11.9,1.2 13.0,1.2 14.1,0.4 16.4,-1.7 18.6,-3.4 20.9,-5.6 22.0,-5.2 23.2,-2.8 25.4,3.3 26.6,5.2 27.7,5.5 30.0,6.7 31.1,7.0 32.2,6.5 33.3,5.9 34.5,5.0 35.6,2.7 37.9,-3.3 39.0,-5.7 40.1,-9.1 41.3,-14.9 42.4,-14.1 43.5,-10.7 44.7,-8.3 45.8,-9.1 49.2,-12.6 50.3,-14.0 52.6,-20.6 54.8,-24.8 57.1,-29.6 59.4,-32.9 60.5,-35.2 61.6,-37.0 63.9,-34.3 62.8,-32.4 61.7,-29.8 59.4,-26.4 57.1,-21.2 54.9,-16.8 52.6,-9.7 51.5,-8.4 48.1,-5.0 47.0,-4.3 45.8,-7.3 44.7,-11.5 43.6,-12.6 42.4,-6.0 41.3,-2.2 40.2,0.4 37.9,7.2 36.8,9.7 35.6,10.6 34.5,11.2 33.4,11.6 32.3,11.1 30.0,9.5 28.9,9.0 27.7,6.8 25.5,-0.6 24.3,-3.6 23.2,-4.0 21.0,-1.7 18.7,0.1 16.4,2.4 15.3,3.2 14.2,3.2 13.0,2.9 9.6,1.8 7.4,1.7 2.9,0.8 1.7,0.8"/>
<polygon transform="translate(193.3,442.7)" points="-0.6,-0.3 0.6,-0.3 5.1,0.4 7.3,0.4 10.7,1.4 11.9,1.6 13.0,1.6 14.1,0.8 16.4,-1.4 18.6,-3.1 20.9,-5.4 22.0,-5.0 23.2,-2.3 25.4,4.5 26.6,6.5 27.7,6.9 30.0,8.3 31.1,8.7 32.2,8.3 33.3,7.6 34.5,6.8 35.6,4.4 37.9,-2.0 39.0,-4.5 40.1,-8.1 41.3,-14.3 42.4,-13.3 43.5,-9.5 44.7,-6.8 45.8,-7.6 49.2,-11.0 50.3,-12.4 52.6,-19.2 54.8,-23.5 57.1,-28.5 59.4,-31.8 60.5,-34.3 61.6,-36.2 63.9,-34.1 62.8,-32.1 61.7,-29.3 59.4,-25.8 57.1,-20.3 56.0,-17.9 54.9,-15.8 52.6,-8.4 51.5,-7.1 48.1,-3.7 47.0,-3.0 45.8,-6.4 44.7,-11.0 43.6,-12.2 42.4,-5.2 41.3,-1.2 40.2,1.6 37.9,8.8 36.8,11.5 35.6,12.4 34.5,13.0 33.4,13.4 32.3,12.8 30.0,11.0 28.9,10.4 27.7,7.9 25.5,-0.1 24.3,-3.3 23.2,-3.9 21.0,-1.4 18.7,0.5 16.4,2.9 15.3,3.7 14.2,3.7 13.0,3.4 9.6,2.0 7.4,1.9 2.9,0.9 1.7,0.8"/>
<polygon transform="translate(194.5,443.2)" points="-0.6,-0.3 0.6,-0.3 5.1,0.6 7.3,0.6 10.7,1.8 11.9,2.1 13.0,2.1 14.1,1.3 16.4,-1.0 18.6,-2.8 20.9,-5.2 22.0,-4.7 23.2,-1.7 25.4,5.6 26.6,7.9 27.7,8.4 30.0,10.0 31.1,10.5 32.2,10.1 33.3,9.5 34.5,8.6 35.6,6.0 37.9,-0.7 39.0,-3.4 40.1,-7.1 41.3,-13.8 42.4,-12.6 43.5,-8.4 44.7,-5.4 45.8,-6.1 49.2,-9.5 50.3,-10.8 52.6,-18.0 54.8,-22.3 57.1,-27.5 59.4,-30.9 60.5,-33.5 61.6,-35.5 63.9,-34.0 62.8,-31.9 61.7,-29.0 59.4,-25.2 57.1,-19.5 56.0,-17.0 54.9,-14.9 52.6,-7.1 51.5,-5.8 48.1,-2.5 47.0,-1.8 45.8,-5.5 44.7,-10.5 43.6,-11.9 42.4,-4.4 41.3,-0.1 40.2,2.8 37.9,10.4 36.8,13.3 35.6,14.2 34.5,14.8 33.4,15.2 32.3,14.5 30.0,12.5 28.9,11.9 27.7,9.1 25.5,0.4 24.3,-3.1 23.2,-3.7 21.0,-1.1 18.7,0.8 16.4,3.3 15.3,4.3 14.2,4.2 13.0,3.8 10.8,2.7 9.6,2.3 8.5,2.1 7.4,2.1 2.9,0.9 1.7,0.8"/>
<polygon transform="translate(195.6,443.8)" points="-0.6,-0.3 0.6,-0.3 5.1,0.8 7.3,0.9 10.7,2.2 11.9,2.6 13.0,2.6 14.1,1.7 16.4,-0.7 18.6,-2.5 20.9,-5.0 22.0,-4.4 23.2,-1.2 25.4,6.8 26.6,9.3 27.7,9.8 30.0,11.7 31.1,12.3 32.2,11.9 33.3,11.2 34.5,10.3 35.6,7.7 37.9,0.5 39.0,-2.3 40.1,-6.3 41.3,-13.4 42.4,-12.1 43.5,-7.5 44.7,-4.2 45.8,-4.9 49.2,-8.2 50.3,-9.5 52.6,-16.9 53.7,-19.0 54.8,-21.5 57.1,-26.9 59.4,-30.4 60.5,-33.2 61.6,-35.2 63.9,-34.0 62.8,-31.7 61.7,-28.6 59.4,-24.7 57.1,-18.7 56.0,-16.1 54.9,-13.9 52.6,-5.8 51.5,-4.5 48.1,-1.2 47.0,-0.6 45.8,-4.5 44.7,-10.0 43.6,-11.6 42.4,-3.5 41.3,1.0 40.2,4.1 37.9,12.2 36.8,15.2 35.6,16.1 34.5,16.7 33.4,17.1 32.3,16.3 30.0,14.0 28.9,13.4 27.7,10.4 25.5,1.0 24.3,-2.8 23.2,-3.5 21.0,-0.8 18.7,1.2 16.4,3.8 15.3,4.8 14.2,4.7 13.0,4.2 10.8,3.0 9.6,2.5 8.5,2.3 7.4,2.3 2.9,0.9 1.7,0.8"/>
<polygon transform="translate(196.8,444.4)" points="-0.6,-0.3 0.6,-0.2 5.1,0.9 6.2,1.0 7.3,1.1 8.5,1.6 10.7,2.7 11.9,3.1 13.0,3.1 14.1,2.2 16.4,-0.3 18.6,-2.2 20.9,-4.8 22.0,-4.2 23.2,-0.7 25.4,8.0 26.6,10.7 27.7,11.3 30.0,13.4 31.1,14.1 32.2,13.7 33.3,13.1 34.5,12.1 35.6,9.3 37.9,1.7 39.0,-1.2 40.1,-5.5 41.3,-13.0 42.4,-11.6 43.5,-6.6 44.7,-3.0 45.8,-3.6 49.2,-7.0 50.3,-8.2 52.6,-16.0 53.7,-18.2 54.8,-20.7 57.1,-26.4 59.4,-30.1 60.5,-33.0 61.6,-35.2 63.9,-34.0 62.8,-31.6 61.7,-28.3 59.4,-24.1 57.1,-17.8 56.0,-15.1 54.9,-12.9 52.6,-4.4 51.5,-3.1 48.1,0.2 47.0,0.8 45.8,-3.5 44.7,-9.4 43.6,-11.2 42.4,-2.6 41.3,2.2 40.2,5.4 37.9,14.0 36.8,17.1 35.6,18.1 34.5,18.7 33.4,19.1 32.3,18.2 30.0,15.7 28.9,14.9 27.7,11.7 25.5,1.6 24.3,-2.5 23.2,-3.3 21.0,-0.5 18.7,1.6 16.4,4.4 15.3,5.4 14.2,5.2 13.0,4.7 10.8,3.4 9.6,2.8 8.5,2.6 7.4,2.5 2.9,0.9 1.7,0.8"/>
<polygon transform="translate(197.9,444.9)" points="-0.6,-0.3 0.6,-0.2 5.1,1.2 6.2,1.2 7.3,1.4 8.5,1.9 10.7,3.1 11.9,3.6 13.0,3.7 14.1,2.7 16.4,0.1 18.6,-1.9 20.9,-4.6 22.0,-3.9 23.2,-0.2 25.4,9.3 26.6,12.2 27.7,12.9 30.0,15.2 31.1,16.0 32.2,15.6 33.3,15.0 34.5,14.0 35.6,11.0 37.9,3.0 39.0,-0.1 40.1,-4.7 41.3,-12.7 42.4,-11.1 43.5,-5.6 44.7,-1.7 45.8,-2.3 49.2,-5.6 50.3,-6.9 52.6,-15.0 53.7,-17.2 54.8,-19.8 57.1,-25.8 59.4,-29.8 60.5,-32.9 61.6,-35.1 63.9,-33.9 62.8,-31.3 61.7,-27.8 59.4,-23.5 57.1,-16.9 56.0,-14.1 54.9,-11.8 52.6,-2.9 51.5,-1.7 48.1,1.6 47.0,2.2 45.8,-2.5 44.7,-8.9 43.6,-10.8 42.4,-1.7 41.3,3.4 40.2,6.8 37.9,15.9 36.8,19.2 35.6,20.2 34.5,20.8 33.4,21.2 32.3,20.2 30.0,17.4 28.9,16.6 27.7,13.1 25.5,2.2 24.3,-2.2 23.2,-3.1 21.0,-0.1 18.7,2.0 16.4,4.9 15.3,6.0 14.2,5.8 13.0,5.2 10.8,3.7 9.6,3.1 8.5,2.8 7.4,2.7 2.9,1.0 1.7,0.8"/>
<polygon transform="translate(199.1,445.5)" points="-0.6,-0.3 0.6,-0.2 5.1,1.4 6.2,1.4 7.3,1.7 8.5,2.2 10.7,3.6 11.9,4.1 13.0,4.3 14.1,3.2 16.4,0.5 18.6,-1.6 20.9,-4.5 22.0,-3.7 23.2,0.4 25.4,10.6 26.6,13.8 27.7,14.6 30.0,17.1 31.1,18.0 32.2,17.6 33.3,17.0 34.5,16.0 35.6,12.8 37.9,4.3 39.0,1.0 40.1,-3.8 41.3,-12.3 42.4,-10.6 43.5,-4.7 44.7,-0.4 45.8,-1.0 49.2,-4.2 50.3,-5.5 52.6,-14.0 53.7,-16.2 54.8,-19.0 57.1,-25.2 59.4,-29.4 60.5,-32.7 61.6,-35.1 62.8,-34.4 61.6,-31.9 60.5,-28.4 58.2,-24.1 56.0,-17.5 54.9,-14.7 53.7,-12.3 51.5,-3.5 50.3,-2.2 46.9,1.0 45.8,1.6 44.7,-3.1 43.5,-9.4 42.4,-11.4 41.3,-2.3 40.2,2.8 39.0,6.3 36.8,15.3 35.6,18.7 34.5,19.6 33.4,20.3 32.2,20.6 31.1,19.7 28.8,16.9 27.7,16.0 26.6,12.5 24.3,1.6 23.2,-2.8 22.1,-3.7 19.8,-0.7 17.5,1.5 15.3,4.4 14.1,5.4 13.0,5.2 11.9,4.7 9.6,3.2 8.5,2.5 7.4,2.3 6.2,2.2 1.7,0.4 0.6,0.3"/>
</g>
<line class="a2" x1="205.40" y1="482.50" x2="281.80" y2="461.70"/>
<line class="a2" x1="205.40" y1="482.50" x2="147.80" y2="454.30"/>
<line class="a2" x1="147.80" y1="454.30" x2="147.80" y2="393.50"/>
<line class="a2" x1="205.40" y1="482.50" x2="207.56" y2="483.56"/>
<line class="a2" x1="243.60" y1="472.10" x2="245.76" y2="473.16"/>
<line class="a2" x1="281.80" y1="461.70" x2="283.96" y2="462.76"/>
<line class="a2" x1="205.40" y1="482.50" x2="203.08" y2="483.13"/>
<line class="a2" x1="176.60" y1="468.40" x2="174.28" y2="469.03"/>
<line class="a2" x1="147.80" y1="454.30" x2="145.48" y2="454.93"/>
<line class="a2" x1="147.80" y1="445.70" x2="145.46" y2="444.56"/>
<text class="s" text-anchor="end" x="141.0" y="449.4">-4</text>
<line class="a2" x1="147.80" y1="433.10" x2="145.46" y2="431.96"/>
<text class="s" text-anchor="end" x="141.0" y="436.8">-2</text>
<line class="a2" x1="147.80" y1="420.40" x2="145.46" y2="419.26"/>
<text class="s" text-anchor="end" x="141.0" y="424.1">0</text>
<line class="a2" x1="147.80" y1="407.80" x2="145.46" y2="406.66"/>
<text class="s" text-anchor="end" x="141.0" y="411.5">2</text>
<line class="a2" x1="147.80" y1="395.10" x2="145.46" y2="393.96"/>
<text class="s" text-anchor="end" x="141.0" y="398.8">4</text>
<text class="s" text-anchor="middle" x="134.6" y="468.3">10</text>
<text class="s" text-anchor="middle" x="166.6" y="482.2">5</text>
<text class="s" text-anchor="middle" x="196.2" y="497.0">0</text>
<text class="s" text-anchor="middle" x="213.2" y="498.1">0</text>
<text class="s" text-anchor="middle" x="261.3" y="488.1">2000</text>
<text class="s" text-anchor="middle" x="300.2" y="475.6">4000</text>
<line class="g" x1="531.90" y1="483.40" x2="474.10" y2="453.90"/>
<line class="g" x1="570.75" y1="472.55" x2="512.95" y2="443.05"/>
<line class="g" x1="609.60" y1="461.70" x2="551.80" y2="432.20"/>
<line class="g" x1="531.90" y1="483.40" x2="609.60" y2="461.70"/>
<line class="g" x1="503.00" y1="468.65" x2="580.70" y2="446.95"/>
<line class="g" x1="474.10" y1="453.90" x2="551.80" y2="432.20"/>
<line class="g" x1="512.95" y1="443.05" x2="512.95" y2="379.05"/>
<line class="g" x1="551.80" y1="432.20" x2="551.80" y2="368.20"/>
<line class="g" x1="609.60" y1="461.70" x2="609.60" y2="397.70"/>
<line class="g" x1="580.70" y1="446.95" x2="580.70" y2="382.95"/>
<line class="g" x1="474.10" y1="446.80" x2="551.80" y2="425.10"/>
<line class="g" x1="551.80" y1="425.10" x2="609.60" y2="454.60"/>
<line class="g" x1="474.10" y1="422.20" x2="551.80" y2="400.50"/>
<line class="g" x1="551.80" y1="400.50" x2="609.60" y2="430.00"/>
<line class="g" x1="474.10" y1="397.30" x2="551.80" y2="375.60"/>
<line class="g" x1="551.80" y1="375.60" x2="609.60" y2="405.10"/>
<g fill="url(#sg2)" >
<polygon transform="translate(474.7,422.5)" points="-0.6,-0.3 61.6,-17.7 63.9,-18.2 52.6,-14.4 37.9,-9.6 18.7,-3.9 1.7,0.9"/>
<polygon transform="translate(475.8,423.1)" points="-0.6,-0.3 34.5,-10.2 61.6,-18.4 63.9,-18.9 52.6,-14.8 37.9,-9.7 26.6,-6.3 1.7,1.0"/>
<polygon transform="translate(477.0,423.7)" points="-0.6,-0.3 16.4,-5.1 35.6,-10.8 50.3,-15.6 61.6,-19.4 63.9,-20.0 52.6,-15.4 37.9,-9.9 27.7,-6.7 1.7,1.0"/>
<polygon transform="translate(478.1,424.3)" points="-0.6,-0.2 24.3,-7.5 35.6,-10.9 50.3,-16.0 61.6,-20.1 63.9,-21.6 53.7,-16.9 46.9,-14.1 37.9,-10.2 27.7,-6.8 9.6,-1.2 1.7,1.1"/>
<polygon transform="translate(479.3,424.9)" points="-0.6,-0.1 25.4,-7.9 35.6,-11.1 50.3,-16.6 61.6,-21.1 63.9,-23.2 53.7,-17.9 51.5,-16.9 46.9,-15.1 41.3,-12.1 37.9,-10.4 27.7,-7.0 22.1,-5.3 9.6,-1.1 1.7,1.3"/>
<polygon transform="translate(480.5,425.4)" points="-0.6,-0.0 7.3,-2.4 25.4,-8.0 35.6,-11.4 44.6,-15.3 51.4,-18.0 61.6,-22.7 63.9,-24.2 58.2,-21.0 53.7,-18.6 51.5,-17.6 48.1,-16.5 46.9,-16.0 45.8,-15.4 40.2,-11.7 37.9,-10.5 35.6,-9.7 27.7,-7.1 22.1,-5.3 9.6,-1.0 1.7,1.4"/>
<polygon transform="translate(481.6,426.0)" points="-0.6,0.1 7.3,-2.3 19.8,-6.4 25.4,-8.2 35.6,-11.6 39.0,-13.2 44.6,-16.3 49.2,-18.1 51.4,-19.1 61.6,-24.3 63.9,-24.2 58.2,-21.0 53.7,-18.6 51.5,-17.8 48.1,-17.1 46.9,-16.7 45.8,-16.1 44.7,-15.2 41.3,-12.4 40.2,-11.6 37.9,-10.4 35.6,-9.5 31.1,-8.2 26.6,-6.7 22.1,-5.4 9.6,-1.0 1.7,1.5"/>
<polygon transform="translate(482.8,426.6)" points="-0.6,0.2 7.3,-2.2 19.8,-6.5 25.4,-8.2 33.3,-10.9 35.6,-11.7 37.8,-12.9 43.5,-16.6 44.6,-17.2 45.8,-17.7 49.2,-18.7 51.4,-19.7 55.9,-22.1 61.6,-25.4 63.9,-24.3 58.2,-21.0 53.7,-18.7 52.6,-18.3 51.5,-18.0 48.1,-18.0 46.9,-17.7 45.8,-17.0 44.7,-16.0 41.3,-12.5 40.2,-11.6 37.9,-10.2 35.6,-9.4 31.1,-8.2 26.6,-6.7 20.9,-5.1 9.6,-0.8 1.7,1.7"/>
<polygon transform="translate(483.9,427.2)" points="-0.6,0.4 7.3,-2.1 19.8,-6.6 24.3,-7.9 28.8,-9.4 33.3,-10.7 35.6,-11.5 37.8,-12.8 39.0,-13.6 42.4,-16.4 43.5,-17.3 44.6,-17.9 45.8,-18.3 49.2,-18.9 51.4,-19.8 55.9,-22.2 61.6,-25.4 63.9,-24.3 58.2,-21.1 53.7,-18.8 52.6,-18.4 51.5,-18.3 48.1,-19.0 46.9,-18.8 45.8,-18.1 44.7,-16.9 41.3,-12.6 40.2,-11.5 39.0,-10.6 37.9,-9.9 35.6,-9.2 31.1,-8.4 26.6,-6.7 22.1,-5.6 19.8,-4.9 9.6,-0.7 1.7,1.9"/>
<polygon transform="translate(485.1,427.8)" points="-0.6,0.5 7.3,-2.0 18.6,-6.3 24.3,-7.9 28.8,-9.4 33.3,-10.5 35.6,-11.3 37.8,-12.8 39.0,-13.7 42.4,-17.2 43.5,-18.2 44.6,-18.9 45.8,-19.2 49.2,-19.2 50.3,-19.4 51.4,-19.9 55.9,-22.2 61.6,-25.4 63.9,-24.4 58.2,-21.1 54.9,-19.3 53.7,-18.8 52.6,-18.5 51.5,-18.6 48.1,-19.8 46.9,-19.7 45.8,-18.9 44.7,-17.6 41.3,-12.7 40.2,-11.4 39.0,-10.4 37.9,-9.7 36.8,-9.3 35.6,-9.0 32.2,-8.9 31.1,-8.7 30.0,-8.4 27.7,-7.3 25.5,-6.4 22.1,-5.8 19.8,-5.2 9.6,-0.6 1.7,2.1"/>
<polygon transform="translate(486.2,428.4)" points="-0.6,0.7 7.3,-1.9 17.5,-6.1 19.8,-6.8 24.3,-7.9 28.8,-9.6 33.3,-10.4 35.6,-11.1 36.7,-11.8 37.8,-12.7 39.0,-13.8 42.4,-18.1 43.5,-19.2 44.6,-19.9 45.8,-20.1 49.2,-19.5 50.3,-19.6 51.4,-19.9 55.9,-22.2 61.6,-25.5 63.9,-24.7 58.2,-21.3 54.9,-19.5 53.7,-19.0 52.6,-18.8 51.5,-18.8 49.2,-19.9 48.1,-20.4 46.9,-20.3 45.8,-19.5 44.7,-18.0 41.3,-12.7 40.2,-11.3 39.0,-10.2 37.9,-9.5 36.8,-9.1 35.6,-9.0 34.5,-9.0 32.2,-9.3 31.1,-9.3 30.0,-8.9 26.6,-6.9 25.5,-6.5 24.3,-6.3 22.1,-6.1 19.8,-5.6 17.6,-4.6 13.0,-2.0 9.6,-0.4 1.7,2.4"/>
<polygon transform="translate(487.4,429.0)" points="-0.6,0.9 7.3,-1.8 17.5,-6.4 19.8,-7.0 23.2,-7.6 25.4,-8.4 27.7,-9.5 28.8,-9.9 29.9,-10.1 33.3,-10.2 34.5,-10.5 35.6,-10.9 36.7,-11.6 37.8,-12.6 39.0,-13.9 42.4,-18.8 43.5,-20.1 44.6,-20.9 45.8,-21.0 49.2,-19.7 50.3,-19.7 51.4,-20.0 52.5,-20.5 55.9,-22.3 61.6,-25.5 63.9,-25.6 58.2,-22.1 53.7,-19.6 52.6,-19.3 51.5,-19.3 49.2,-20.3 48.1,-20.7 46.9,-20.5 45.8,-19.7 44.7,-18.2 41.3,-12.7 40.2,-11.3 39.0,-10.2 37.9,-9.4 36.8,-9.1 35.6,-9.0 34.5,-9.3 32.2,-10.0 31.1,-10.1 30.0,-9.7 26.6,-7.2 25.5,-6.7 24.3,-6.5 20.9,-6.4 19.8,-6.2 18.7,-5.7 14.2,-2.7 10.8,-0.8 8.5,0.2 1.7,2.6"/>
<polygon transform="translate(488.6,429.6)" points="-0.6,1.2 7.3,-1.6 10.7,-3.2 15.2,-5.7 17.5,-6.8 19.8,-7.3 22.0,-7.5 23.2,-7.7 24.3,-8.1 27.7,-10.1 28.8,-10.4 29.9,-10.5 32.2,-10.2 33.3,-10.1 34.5,-10.3 35.6,-10.7 36.7,-11.4 37.8,-12.5 39.0,-13.9 42.4,-19.2 43.5,-20.7 44.6,-21.5 45.8,-21.5 46.9,-21.1 49.2,-20.0 50.3,-19.9 51.4,-20.2 52.5,-20.7 55.9,-22.5 61.6,-25.8 63.9,-26.9 58.2,-23.1 53.7,-20.3 52.6,-19.9 51.5,-19.8 49.2,-20.5 48.1,-20.6 46.9,-20.3 45.8,-19.4 44.7,-17.9 41.3,-12.7 40.2,-11.2 39.0,-10.1 37.9,-9.4 36.8,-9.1 35.6,-9.2 34.5,-9.6 32.2,-10.9 31.1,-11.1 30.0,-10.7 26.6,-7.6 25.5,-7.0 24.3,-6.8 20.9,-7.1 19.8,-6.9 18.7,-6.4 17.6,-5.6 14.2,-2.8 13.0,-2.0 10.8,-0.7 8.5,0.4 1.7,2.9"/>
<polygon transform="translate(489.7,430.2)" points="-0.6,1.4 6.2,-1.0 8.5,-2.0 11.9,-3.9 16.4,-6.9 17.5,-7.4 18.6,-7.6 22.0,-7.7 23.2,-7.9 24.3,-8.4 27.7,-10.9 28.8,-11.3 29.9,-11.2 32.2,-10.5 33.3,-10.2 34.5,-10.3 35.6,-10.6 36.7,-11.3 37.8,-12.4 39.0,-13.9 42.4,-19.4 43.5,-20.9 44.6,-21.7 45.8,-21.9 46.9,-21.5 49.2,-20.5 50.3,-20.5 51.4,-20.8 55.9,-23.3 61.6,-26.8 63.9,-28.3 58.2,-24.1 53.7,-21.1 52.6,-20.5 51.5,-20.2 49.2,-20.4 48.1,-20.2 46.9,-19.7 45.8,-18.7 41.3,-12.5 40.2,-11.1 39.0,-10.1 37.9,-9.3 36.8,-9.1 35.6,-9.4 34.5,-10.0 32.2,-11.8 31.1,-12.1 30.0,-11.6 26.6,-8.0 25.5,-7.3 24.3,-7.1 20.9,-7.8 19.8,-7.7 18.7,-7.2 17.6,-6.2 14.2,-3.0 11.9,-1.3 8.5,0.6 1.7,3.2"/>
<polygon transform="translate(490.9,430.8)" points="-0.6,1.7 6.2,-0.8 8.5,-1.9 10.7,-3.2 11.9,-4.0 15.2,-6.8 16.4,-7.6 17.5,-8.1 18.6,-8.2 22.0,-8.0 23.2,-8.2 24.3,-8.8 27.7,-11.9 28.8,-12.3 29.9,-12.1 32.2,-10.8 33.3,-10.4 34.5,-10.3 35.6,-10.6 36.7,-11.3 37.8,-12.4 39.0,-13.8 42.4,-19.1 43.5,-20.6 44.6,-21.5 45.8,-21.8 46.9,-21.7 49.2,-21.0 50.3,-21.1 51.4,-21.5 55.9,-24.3 61.6,-28.1 63.9,-29.4 58.2,-25.0 52.6,-21.0 51.5,-20.5 49.2,-20.0 48.1,-19.6 46.9,-18.9 45.8,-17.8 40.2,-10.9 39.0,-9.9 37.9,-9.2 36.8,-9.0 35.6,-9.4 34.5,-10.2 32.2,-12.4 31.1,-12.9 30.0,-12.4 28.9,-11.1 27.7,-9.5 26.6,-8.2 25.5,-7.5 24.3,-7.4 20.9,-8.5 19.8,-8.5 18.7,-7.9 17.6,-6.9 14.2,-3.1 11.9,-1.2 8.5,0.7 1.7,3.5"/>
<polygon transform="translate(492.0,431.3)" points="-0.6,2.0 6.2,-0.6 9.6,-2.5 11.9,-4.1 15.2,-7.4 16.4,-8.3 17.5,-8.9 18.6,-9.0 22.0,-8.3 23.2,-8.5 24.3,-9.1 27.7,-12.8 28.8,-13.3 29.9,-12.9 32.2,-11.2 33.3,-10.5 34.5,-10.3 35.6,-10.5 36.7,-11.2 37.8,-12.3 39.0,-13.7 43.5,-19.9 44.6,-20.9 45.8,-21.4 46.9,-21.5 49.2,-21.4 50.3,-21.7 51.4,-22.3 55.9,-25.3 61.6,-29.5 63.9,-30.2 59.4,-26.5 56.0,-23.9 52.6,-21.2 51.5,-20.5 49.2,-19.6 48.1,-18.9 46.9,-17.9 45.8,-16.8 40.2,-10.6 39.0,-9.6 37.9,-8.9 36.8,-8.8 35.6,-9.2 34.5,-10.2 32.2,-12.7 31.1,-13.2 30.0,-12.7 28.9,-11.3 27.7,-9.7 26.6,-8.4 25.5,-7.6 24.3,-7.6 20.9,-9.1 19.8,-9.1 18.7,-8.5 17.6,-7.4 15.3,-4.5 14.2,-3.2 13.0,-2.1 11.9,-1.2 8.5,0.8 4.0,2.9 1.7,3.8"/>
<polygon transform="translate(493.2,431.9)" points="-0.6,2.3 6.2,-0.5 9.6,-2.4 11.9,-4.3 15.2,-8.0 16.4,-9.1 17.5,-9.6 18.6,-9.7 22.0,-8.6 23.2,-8.7 24.3,-9.4 25.4,-10.7 26.5,-12.2 27.7,-13.6 28.8,-14.0 29.9,-13.6 32.2,-11.4 33.3,-10.6 34.5,-10.2 35.6,-10.4 36.7,-11.1 37.8,-12.1 43.5,-19.0 44.6,-20.1 45.8,-20.8 46.9,-21.2 49.2,-21.7 50.3,-22.2 55.9,-26.2 61.6,-30.6 63.9,-31.0 58.2,-26.2 56.0,-24.5 52.6,-21.5 51.5,-20.6 49.2,-19.3 48.1,-18.4 44.7,-14.8 40.2,-10.3 39.0,-9.3 37.9,-8.6 36.8,-8.5 35.6,-9.0 34.5,-9.9 32.2,-12.5 31.1,-13.1 30.0,-12.6 28.9,-11.2 27.7,-9.6 26.6,-8.3 25.5,-7.7 24.3,-7.7 23.2,-8.2 22.1,-9.0 20.9,-9.5 19.8,-9.6 18.7,-9.0 17.6,-7.8 15.3,-4.6 14.2,-3.3 13.0,-2.1 11.9,-1.2 9.6,0.2 7.4,1.5 4.0,3.3 1.7,4.2"/>
<polygon transform="translate(494.3,432.5)" points="-0.6,2.7 1.7,1.8 6.2,-0.3 9.6,-2.4 10.7,-3.3 11.9,-4.4 13.0,-5.7 15.2,-8.6 16.4,-9.7 17.5,-10.3 18.6,-10.2 22.0,-8.7 23.2,-8.8 24.3,-9.5 25.4,-10.9 26.5,-12.5 27.7,-13.9 28.8,-14.4 29.9,-13.8 32.2,-11.4 33.3,-10.4 34.5,-10.0 35.6,-10.1 36.7,-10.8 37.8,-11.8 43.5,-18.0 44.6,-19.1 45.8,-20.1 46.9,-20.7 49.2,-21.7 50.3,-22.4 53.7,-25.1 57.1,-27.7 61.6,-31.3 63.9,-32.2 58.2,-27.2 56.0,-25.4 52.6,-22.1 51.5,-21.1 49.2,-19.4 48.1,-18.3 44.7,-14.5 39.0,-9.1 37.9,-8.4 36.8,-8.3 35.6,-8.7 34.5,-9.6 32.2,-12.0 31.1,-12.5 30.0,-12.1 28.9,-10.9 27.7,-9.4 26.6,-8.2 25.5,-7.7 24.3,-7.8 23.2,-8.4 22.1,-9.2 20.9,-9.7 19.8,-9.8 18.7,-9.2 17.6,-7.9 15.3,-4.7 14.2,-3.3 13.0,-2.2 11.9,-1.4 8.5,0.9 5.1,2.9 2.9,4.1 1.7,4.6"/>
<polygon transform="translate(495.5,433.1)" points="-0.6,3.0 1.7,2.1 5.1,0.3 7.3,-1.0 9.6,-2.4 10.7,-3.3 11.9,-4.4 13.0,-5.8 15.2,-8.9 16.4,-10.2 17.5,-10.8 18.6,-10.7 19.8,-10.2 20.9,-9.4 22.0,-8.9 23.2,-8.9 24.3,-9.5 25.4,-10.8 26.5,-12.4 27.7,-13.8 28.8,-14.2 29.9,-13.7 32.2,-11.1 33.3,-10.1 34.5,-9.7 35.6,-9.8 36.7,-10.5 37.8,-11.5 42.4,-16.0 45.8,-19.6 46.9,-20.5 49.2,-21.8 50.3,-22.7 53.7,-25.7 55.9,-27.4 61.6,-32.1 63.9,-33.7 58.2,-28.4 56.0,-26.4 51.5,-21.8 49.2,-19.9 44.7,-14.5 42.4,-12.4 39.0,-9.0 37.9,-8.2 36.8,-8.0 35.6,-8.3 34.5,-9.1 32.2,-11.2 31.1,-11.7 30.0,-11.3 27.7,-8.9 26.6,-8.0 25.5,-7.6 24.3,-7.8 22.1,-9.2 20.9,-9.7 19.8,-9.7 18.7,-9.1 17.6,-7.8 15.3,-4.6 14.2,-3.3 13.0,-2.3 9.6,-0.2 5.1,3.2 2.9,4.5 1.7,5.0"/>
<polygon transform="translate(496.6,433.7)" points="-0.6,3.4 0.6,2.9 2.8,1.8 6.2,-0.3 9.6,-2.5 10.7,-3.4 11.9,-4.5 13.0,-5.9 15.2,-9.1 16.4,-10.3 17.5,-11.0 18.6,-10.9 19.8,-10.4 20.9,-9.6 22.0,-9.0 23.2,-8.9 24.3,-9.4 25.4,-10.5 26.5,-12.0 27.7,-13.3 28.8,-13.7 29.9,-13.2 32.2,-10.8 33.3,-9.9 34.5,-9.4 35.6,-9.5 36.7,-10.3 42.4,-15.7 45.8,-19.5 46.9,-20.6 49.2,-22.3 50.3,-23.3 53.7,-26.5 55.9,-28.4 61.6,-33.4 63.9,-35.4 58.2,-29.7 56.0,-27.6 52.6,-23.8 49.2,-20.4 44.7,-14.6 42.4,-12.5 39.0,-8.9 37.9,-8.0 36.8,-7.7 35.6,-8.0 34.5,-8.6 32.2,-10.3 31.1,-10.6 30.0,-10.4 27.7,-8.4 26.6,-7.7 25.5,-7.5 24.3,-7.7 22.1,-9.1 20.9,-9.4 19.8,-9.4 18.7,-8.7 17.6,-7.4 15.3,-4.5 14.2,-3.3 13.0,-2.5 10.8,-1.4 9.6,-0.7 5.1,3.4 4.0,4.2 2.9,4.9 1.7,5.4"/>
<polygon transform="translate(497.8,434.3)" points="-0.6,3.8 0.6,3.3 2.8,2.0 7.3,-1.4 10.7,-3.5 11.9,-4.5 13.0,-5.8 15.2,-9.0 16.4,-10.2 17.5,-10.9 18.6,-10.9 19.8,-10.4 22.0,-9.0 23.2,-8.8 24.3,-9.2 25.4,-10.1 27.7,-12.5 28.8,-12.9 29.9,-12.4 32.2,-10.3 33.3,-9.5 34.5,-9.2 35.6,-9.3 36.7,-10.2 40.1,-13.6 42.4,-15.6 46.9,-21.1 49.2,-23.0 53.7,-27.6 55.9,-29.6 61.6,-34.9 63.9,-36.9 58.2,-30.8 56.0,-28.7 52.6,-24.6 49.2,-21.0 44.7,-14.7 42.4,-12.5 39.0,-8.7 37.9,-7.7 36.8,-7.4 35.6,-7.6 34.5,-8.0 32.2,-9.3 31.1,-9.6 30.0,-9.4 27.7,-7.9 26.6,-7.4 25.5,-7.3 24.3,-7.6 22.1,-8.8 20.9,-9.0 19.8,-8.8 18.7,-8.1 15.3,-4.3 14.2,-3.3 13.0,-2.7 10.8,-2.0 9.6,-1.4 8.5,-0.3 5.1,3.6 4.0,4.5 2.9,5.3 1.7,5.8"/>
<polygon transform="translate(499.0,434.9)" points="-0.6,4.2 0.6,3.7 1.7,3.0 2.8,2.2 7.3,-1.9 8.5,-2.6 10.7,-3.6 11.9,-4.5 13.0,-5.7 15.2,-8.6 16.4,-9.9 17.5,-10.6 18.6,-10.6 19.8,-10.3 22.0,-8.9 23.2,-8.7 24.3,-8.9 25.4,-9.6 27.7,-11.5 28.8,-11.8 29.9,-11.4 32.2,-9.8 33.3,-9.2 34.5,-8.9 35.6,-9.1 36.7,-10.0 40.1,-13.6 42.4,-15.8 46.9,-21.6 50.3,-24.9 53.7,-28.8 55.9,-30.8 61.6,-36.5 63.9,-38.2 58.2,-31.8 56.0,-29.5 52.6,-25.2 49.2,-21.5 44.7,-14.8 42.4,-12.5 39.0,-8.4 37.9,-7.4 36.8,-7.0 35.6,-7.1 34.5,-7.4 32.2,-8.3 31.1,-8.6 30.0,-8.4 27.7,-7.3 26.6,-7.1 25.5,-7.2 24.3,-7.5 22.1,-8.5 20.9,-8.5 19.8,-8.2 18.7,-7.4 16.4,-5.0 15.3,-4.0 14.2,-3.3 13.0,-2.9 10.8,-2.8 9.6,-2.2 8.5,-0.9 5.1,3.8 4.0,4.9 2.9,5.7 1.7,6.3"/>
<polygon transform="translate(500.1,435.5)" points="-0.6,4.6 0.6,4.1 1.7,3.4 2.8,2.4 6.2,-1.4 7.3,-2.5 8.5,-3.2 10.7,-3.9 11.9,-4.5 13.0,-5.4 16.4,-9.3 17.5,-10.0 18.6,-10.2 19.8,-10.0 22.0,-8.8 23.2,-8.5 24.3,-8.6 25.4,-9.0 27.7,-10.5 28.8,-10.8 29.9,-10.5 32.2,-9.2 33.3,-8.7 34.5,-8.6 35.6,-8.9 36.7,-9.9 40.1,-13.7 42.4,-15.9 46.9,-22.2 50.3,-25.8 53.7,-29.8 55.9,-32.0 61.6,-38.1 63.9,-39.0 58.2,-32.4 56.0,-30.1 52.6,-25.6 49.2,-21.7 44.7,-14.7 42.4,-12.3 39.0,-8.0 37.9,-6.9 36.8,-6.5 35.6,-6.5 34.5,-6.8 32.2,-7.5 31.1,-7.7 30.0,-7.6 27.7,-6.9 26.6,-6.8 25.5,-7.0 22.1,-8.1 20.9,-8.0 19.8,-7.5 18.7,-6.7 16.4,-4.5 15.3,-3.8 14.2,-3.3 13.0,-3.2 10.8,-3.6 9.6,-3.1 8.5,-1.7 6.3,2.2 5.1,3.9 4.0,5.2 2.9,6.1 1.7,6.7"/>
<polygon transform="translate(501.3,436.1)" points="-0.6,5.1 0.6,4.5 1.7,3.7 2.8,2.6 6.2,-2.1 7.3,-3.4 8.5,-4.0 10.7,-4.1 11.9,-4.5 13.0,-5.2 14.1,-6.2 16.4,-8.6 17.5,-9.4 18.6,-9.7 19.8,-9.7 22.0,-8.7 23.2,-8.3 24.3,-8.3 25.4,-8.5 27.7,-9.6 28.8,-9.8 29.9,-9.5 32.2,-8.6 33.3,-8.3 34.5,-8.2 35.6,-8.5 36.7,-9.6 40.1,-13.7 42.4,-16.0 46.9,-22.7 50.3,-26.4 53.7,-30.7 55.9,-33.0 61.6,-39.3 63.9,-38.3 62.8,-37.2 58.2,-31.9 56.0,-29.6 52.6,-25.1 49.2,-21.2 44.7,-14.0 42.4,-11.5 39.0,-7.1 37.9,-6.0 36.8,-5.6 35.6,-5.7 31.1,-6.8 30.0,-6.8 27.7,-6.3 26.6,-6.4 25.5,-6.7 23.2,-7.5 22.1,-7.7 20.9,-7.4 19.8,-6.8 18.7,-6.0 16.4,-4.1 15.3,-3.5 14.2,-3.2 13.0,-3.5 11.9,-4.0 10.8,-4.4 9.6,-3.9 8.5,-2.3 6.3,2.2 5.1,4.1 4.0,5.6 2.9,6.6 1.7,7.2"/>
<polygon transform="translate(502.4,436.7)" points="-0.6,5.6 0.6,5.0 1.7,4.1 2.8,2.8 3.9,1.0 6.2,-2.9 7.3,-4.3 8.5,-4.8 10.7,-4.4 11.9,-4.5 13.0,-4.9 14.1,-5.7 16.4,-7.9 17.5,-8.7 18.6,-9.1 19.8,-9.3 23.2,-8.1 24.3,-8.0 25.4,-8.0 27.7,-8.8 28.8,-8.9 29.9,-8.7 32.2,-7.9 33.3,-7.7 34.5,-7.7 35.6,-8.0 36.7,-9.2 40.1,-13.4 42.4,-15.9 46.9,-22.9 50.3,-26.8 53.7,-31.3 55.9,-33.6 61.6,-40.1 63.9,-37.3 62.8,-36.2 58.2,-31.1 56.0,-28.9 51.5,-23.0 50.3,-21.9 49.2,-20.5 44.7,-13.1 42.4,-10.7 39.0,-6.2 37.9,-5.0 36.8,-4.7 35.6,-4.8 31.1,-6.0 30.0,-6.1 27.7,-5.8 26.6,-6.0 23.2,-7.2 22.1,-7.4 20.9,-6.9 19.8,-6.3 16.4,-3.7 15.3,-3.2 14.2,-3.2 13.0,-3.6 11.9,-4.3 10.8,-4.9 9.6,-4.4 8.5,-2.7 6.3,2.3 5.1,4.4 4.0,6.0 2.9,7.1 1.7,7.8"/>
<polygon transform="translate(503.6,437.2)" points="-0.6,6.1 0.6,5.4 1.7,4.4 2.8,3.0 3.9,1.0 6.2,-3.5 7.3,-5.1 8.5,-5.5 9.6,-5.2 10.7,-4.6 11.9,-4.4 13.0,-4.7 14.1,-5.3 16.4,-7.2 17.5,-8.0 18.6,-8.6 19.8,-8.9 20.9,-8.7 23.2,-7.9 24.3,-7.6 25.4,-7.5 27.7,-8.0 28.8,-8.0 33.3,-6.9 34.5,-6.8 35.6,-7.2 36.7,-8.3 40.1,-12.7 42.4,-15.1 46.9,-22.4 50.3,-26.3 53.7,-30.8 55.9,-33.1 60.5,-38.4 61.6,-39.5 63.9,-36.4 62.8,-35.3 58.2,-30.4 56.0,-28.2 51.5,-22.3 50.3,-21.2 49.2,-19.8 44.7,-12.2 43.6,-10.9 42.4,-9.8 39.0,-5.2 37.9,-4.0 36.8,-3.7 35.6,-3.8 31.1,-5.3 30.0,-5.5 27.7,-5.4 26.6,-5.7 23.2,-7.0 22.1,-7.1 20.9,-6.6 19.8,-5.9 16.4,-3.3 15.3,-3.0 14.2,-3.0 13.0,-3.6 11.9,-4.4 10.8,-5.0 9.6,-4.5 8.5,-2.7 6.3,2.5 5.1,4.8 4.0,6.5 2.9,7.6 1.7,8.3"/>
<polygon transform="translate(504.7,437.8)" points="-0.6,6.6 0.6,5.9 1.7,4.8 2.8,3.2 3.9,1.1 6.2,-3.9 7.3,-5.6 8.5,-6.0 9.6,-5.5 10.7,-4.8 11.9,-4.3 13.0,-4.4 14.1,-4.8 17.5,-7.5 18.6,-8.1 19.8,-8.6 20.9,-8.4 24.3,-7.2 25.4,-7.0 27.7,-7.3 28.8,-7.2 33.3,-5.9 34.5,-5.9 35.6,-6.2 36.7,-7.4 40.1,-11.8 42.4,-14.3 46.9,-21.7 48.0,-23.0 49.2,-24.2 53.7,-30.1 55.9,-32.3 60.5,-37.4 61.6,-38.5 63.9,-35.7 62.8,-34.7 58.2,-29.8 56.0,-27.8 51.5,-21.8 50.3,-20.7 49.2,-19.3 44.7,-11.5 43.6,-10.1 42.4,-9.0 39.0,-4.3 37.9,-3.0 36.8,-2.8 35.6,-3.0 31.1,-4.7 30.0,-5.0 27.7,-5.0 26.6,-5.4 24.3,-6.5 23.2,-6.9 22.1,-7.0 20.9,-6.4 17.6,-3.8 16.4,-3.0 15.3,-2.8 14.2,-2.8 13.0,-3.3 11.9,-4.2 10.8,-4.7 9.6,-4.2 8.5,-2.3 6.3,3.0 5.1,5.3 4.0,7.0 2.9,8.1 1.7,8.9"/>
<polygon transform="translate(505.9,438.4)" points="-0.6,7.1 0.6,6.4 1.7,5.3 2.8,3.6 3.9,1.3 6.2,-3.9 7.3,-5.7 8.5,-6.2 9.6,-5.6 10.7,-4.7 11.9,-4.2 13.0,-4.2 14.1,-4.5 17.5,-7.0 18.6,-7.8 19.8,-8.3 20.9,-8.2 24.3,-6.9 25.4,-6.6 27.7,-6.6 28.8,-6.5 33.3,-5.0 34.5,-4.9 35.6,-5.2 36.7,-6.4 40.1,-10.9 41.2,-12.1 42.4,-13.4 46.9,-21.0 48.0,-22.3 49.2,-23.5 53.7,-29.4 55.9,-31.5 60.5,-36.5 61.6,-37.5 63.9,-35.5 62.8,-34.5 58.2,-29.6 56.0,-27.6 51.5,-21.5 50.3,-20.3 49.2,-19.0 44.7,-10.8 43.6,-9.4 42.4,-8.3 39.0,-3.4 37.9,-2.2 36.8,-2.0 35.6,-2.2 31.1,-4.2 30.0,-4.5 27.7,-4.7 26.6,-5.2 24.3,-6.4 23.2,-6.8 22.1,-6.9 20.9,-6.2 17.6,-3.5 16.4,-2.8 15.3,-2.5 14.2,-2.6 13.0,-2.9 11.9,-3.6 10.8,-3.9 9.6,-3.3 8.5,-1.5 6.3,3.6 5.1,5.9 4.0,7.6 2.9,8.7 1.7,9.5"/>
<polygon transform="translate(507.0,439.0)" points="-0.6,7.7 0.6,7.0 1.7,5.8 2.8,4.1 3.9,1.8 6.2,-3.5 7.3,-5.3 8.5,-5.9 9.6,-5.3 10.7,-4.5 11.9,-4.0 13.0,-3.9 14.1,-4.2 15.2,-4.9 18.6,-7.5 19.8,-8.1 20.9,-8.1 22.0,-7.7 24.3,-6.6 25.4,-6.2 27.7,-6.1 28.8,-5.9 33.3,-4.2 34.5,-4.0 35.6,-4.2 36.7,-5.4 40.1,-10.1 41.2,-11.3 42.4,-12.6 46.9,-20.5 48.0,-21.8 49.2,-22.9 53.7,-28.9 55.9,-31.0 60.5,-35.9 61.6,-36.9 63.9,-35.1 62.8,-34.1 58.2,-29.3 57.1,-28.4 56.0,-27.3 51.5,-21.1 50.3,-20.0 49.2,-18.6 44.7,-10.1 43.6,-8.7 42.4,-7.5 39.0,-2.5 37.9,-1.2 36.8,-1.1 35.6,-1.4 31.1,-3.7 30.0,-4.1 27.7,-4.4 26.6,-4.9 24.3,-6.3 23.2,-6.8 22.1,-6.9 20.9,-6.2 17.6,-3.4 16.4,-2.6 15.3,-2.3 14.2,-2.2 13.0,-2.4 11.9,-2.7 10.8,-2.8 9.6,-2.1 8.5,-0.3 5.1,6.6 4.0,8.2 2.9,9.3 1.7,10.1"/>
<polygon transform="translate(508.2,439.6)" points="-0.6,8.3 0.6,7.5 1.7,6.4 2.8,4.7 3.9,2.4 6.2,-2.6 7.3,-4.5 8.5,-5.1 9.6,-4.8 10.7,-4.1 11.9,-3.7 13.0,-3.7 14.1,-4.0 15.2,-4.7 18.6,-7.4 19.8,-8.1 20.9,-8.0 22.0,-7.6 24.3,-6.3 25.4,-5.9 27.7,-5.7 28.8,-5.4 33.3,-3.4 34.5,-3.2 35.6,-3.4 36.7,-4.6 40.1,-9.5 41.2,-10.6 42.4,-12.0 46.9,-20.2 48.0,-21.5 49.2,-22.6 53.7,-28.7 55.9,-30.8 60.5,-35.7 61.6,-36.7 63.9,-34.6 62.8,-33.7 58.2,-28.9 57.1,-28.0 56.0,-26.9 51.5,-20.6 50.3,-19.5 49.2,-18.1 48.1,-16.1 45.8,-11.4 44.7,-9.4 43.6,-7.9 42.4,-6.7 39.0,-1.5 37.9,-0.2 36.8,-0.1 35.6,-0.5 31.1,-3.2 30.0,-3.7 27.7,-4.1 26.6,-4.7 24.3,-6.2 23.2,-6.7 22.1,-6.8 20.9,-6.1 17.6,-3.2 16.4,-2.5 14.2,-1.8 11.9,-1.7 10.8,-1.5 9.6,-0.5 8.5,1.2 5.1,7.3 4.0,8.8 2.9,10.0 1.7,10.7"/>
<polygon transform="translate(509.4,440.2)" points="-0.6,8.9 0.6,8.1 1.7,7.0 2.8,5.4 6.2,-1.4 7.3,-3.2 8.5,-4.0 9.6,-3.9 10.7,-3.6 11.9,-3.4 13.0,-3.5 14.1,-3.8 15.2,-4.6 18.6,-7.3 19.8,-8.0 20.9,-8.0 22.0,-7.5 24.3,-6.1 25.4,-5.6 27.7,-5.3 28.8,-4.9 33.3,-2.6 34.5,-2.3 35.6,-2.4 36.7,-3.7 40.1,-8.7 41.2,-9.9 42.4,-11.3 46.9,-19.7 48.0,-21.1 49.2,-22.2 53.7,-28.4 54.8,-29.6 55.9,-30.5 60.5,-35.3 61.6,-36.3 63.9,-34.2 62.8,-33.3 58.2,-28.6 57.1,-27.7 56.0,-26.6 51.5,-20.2 50.3,-19.1 49.2,-17.6 48.1,-15.6 45.8,-10.7 44.7,-8.6 43.6,-7.1 42.4,-5.9 39.0,-0.6 37.9,0.8 36.8,0.8 35.6,0.4 31.1,-2.7 30.0,-3.2 27.7,-3.7 26.6,-4.4 24.3,-6.1 23.2,-6.7 22.1,-6.9 20.9,-6.1 17.6,-3.1 16.4,-2.3 11.9,-0.6 10.8,-0.0 9.6,1.1 5.1,8.1 4.0,9.5 2.9,10.6 1.7,11.3"/>
<polygon transform="translate(510.5,440.8)" points="-0.6,9.5 0.6,8.8 1.7,7.7 2.8,6.1 6.2,0.0 7.3,-1.7 8.5,-2.6 9.6,-2.9 11.9,-3.0 14.1,-3.6 15.2,-4.4 18.6,-7.3 19.8,-8.0 20.9,-7.9 22.0,-7.4 24.3,-5.8 25.4,-5.2 27.7,-4.8 28.8,-4.4 33.3,-1.7 34.5,-1.3 35.6,-1.4 36.7,-2.7 40.1,-7.9 41.2,-9.1 42.4,-10.6 43.5,-12.6 45.8,-17.2 46.9,-19.3 48.0,-20.7 49.2,-21.8 53.7,-28.1 54.8,-29.2 55.9,-30.1 60.5,-34.9 61.6,-35.8 63.9,-33.9 62.8,-33.0 58.2,-28.3 57.1,-27.4 56.0,-26.3 51.5,-19.8 50.3,-18.7 49.2,-17.2 48.1,-15.1 45.8,-10.1 44.7,-7.9 43.6,-6.3 42.4,-5.1 39.0,0.4 37.9,1.8 36.8,1.8 35.6,1.3 31.1,-2.2 30.0,-2.8 27.7,-3.4 26.6,-4.1 24.3,-6.0 23.2,-6.7 22.1,-6.9 20.9,-6.1 17.6,-3.0 16.4,-2.2 14.2,-1.0 11.9,0.4 10.8,1.4 9.6,2.6 5.1,8.9 4.0,10.2 2.9,11.3 1.7,12.0"/>
<polygon transform="translate(511.7,441.4)" points="-0.6,10.2 0.6,9.4 1.7,8.3 2.8,6.9 7.3,-0.1 8.5,-1.2 9.6,-1.8 14.1,-3.5 15.2,-4.3 18.6,-7.3 19.8,-8.0 20.9,-7.9 22.0,-7.3 24.3,-5.6 25.4,-4.9 27.7,-4.4 28.8,-3.9 33.3,-0.8 34.5,-0.3 35.6,-0.4 36.7,-1.7 40.1,-7.1 41.2,-8.3 42.4,-9.8 43.5,-11.9 45.8,-16.7 46.9,-18.8 48.0,-20.3 49.2,-21.4 53.7,-27.8 54.8,-28.9 55.9,-29.7 60.5,-34.5 61.6,-35.4 63.9,-34.1 62.8,-33.2 58.2,-28.4 57.1,-27.6 56.0,-26.5 51.5,-19.7 50.3,-18.6 49.2,-17.1 48.1,-14.9 45.8,-9.6 44.7,-7.3 43.6,-5.8 42.4,-4.5 39.0,1.3 37.9,2.7 36.8,2.7 35.6,2.1 31.1,-1.7 30.0,-2.4 27.7,-3.1 26.6,-3.9 24.3,-6.0 23.2,-6.8 22.1,-7.0 20.9,-6.2 17.6,-3.0 16.4,-2.0 14.2,-0.7 11.9,1.4 10.8,2.6 7.4,7.0 4.0,10.9 2.9,12.0 1.7,12.7"/>
<polygon transform="translate(512.8,442.0)" points="-0.6,10.8 0.6,10.1 1.7,9.0 2.8,7.7 7.3,1.4 8.5,0.2 9.6,-0.7 11.9,-2.2 14.1,-3.3 15.2,-4.2 18.6,-7.3 19.8,-8.1 20.9,-7.9 22.0,-7.2 24.3,-5.3 25.4,-4.6 27.7,-4.0 28.8,-3.4 33.3,0.1 34.5,0.6 35.6,0.6 36.7,-0.8 40.1,-6.3 41.2,-7.5 42.4,-9.1 43.5,-11.2 45.8,-16.3 46.9,-18.4 48.0,-19.9 49.2,-21.0 53.7,-27.5 54.8,-28.6 55.9,-29.5 60.5,-34.2 61.6,-35.0 63.9,-35.2 62.8,-34.3 58.2,-29.3 57.1,-28.4 56.0,-27.2 51.5,-20.2 50.3,-19.0 49.2,-17.4 48.1,-15.0 45.8,-9.5 44.7,-7.1 43.6,-5.5 42.4,-4.2 39.0,1.9 37.9,3.4 36.8,3.3 35.6,2.7 31.1,-1.4 30.0,-2.1 27.7,-2.9 26.6,-3.8 24.3,-6.0 23.2,-6.9 22.1,-7.1 20.9,-6.3 17.6,-2.9 16.4,-1.9 15.3,-1.3 14.2,-0.4 11.9,2.2 8.5,6.8 7.4,8.0 4.0,11.6 2.9,12.7 1.7,13.4"/>
<polygon transform="translate(514.0,442.6)" points="-0.6,11.5 0.6,10.8 1.7,9.7 5.1,5.8 8.5,1.4 9.6,0.2 11.9,-1.8 14.1,-3.2 15.2,-4.1 18.6,-7.4 19.8,-8.1 20.9,-7.9 22.0,-7.2 24.3,-5.1 25.4,-4.3 27.7,-3.6 28.8,-2.9 33.3,0.9 34.5,1.5 35.6,1.5 36.7,0.1 40.1,-5.7 41.2,-6.9 42.4,-8.5 43.5,-10.8 45.8,-16.0 46.9,-18.3 48.0,-19.8 49.2,-20.9 53.7,-27.6 54.8,-28.8 55.9,-29.6 60.5,-34.4 61.6,-35.3 63.9,-36.6 62.8,-35.7 58.2,-30.4 57.1,-29.4 56.0,-28.2 51.5,-20.8 50.3,-19.5 49.2,-17.9 48.1,-15.4 45.8,-9.6 44.7,-7.0 43.6,-5.3 42.4,-3.9 39.0,2.5 37.9,4.0 36.8,4.0 35.6,3.3 31.1,-1.1 30.0,-1.9 27.7,-2.7 26.6,-3.7 24.3,-6.1 23.2,-7.0 22.1,-7.2 20.9,-6.4 16.4,-1.8 15.3,-1.1 14.2,-0.1 13.0,1.3 8.5,7.8 6.3,9.9 4.0,12.3 2.9,13.4 1.7,14.2"/>
<polygon transform="translate(515.1,443.1)" points="-0.6,12.2 0.6,11.5 1.7,10.5 5.1,6.8 6.2,5.6 9.6,1.0 11.9,-1.5 13.0,-2.4 14.1,-3.1 15.2,-4.1 18.6,-7.5 19.8,-8.3 20.9,-8.0 22.0,-7.2 24.3,-5.0 25.4,-4.1 27.7,-3.3 28.8,-2.6 33.3,1.5 34.5,2.2 35.6,2.2 36.7,0.7 40.1,-5.3 41.2,-6.7 42.4,-8.3 43.5,-10.7 45.8,-16.2 46.9,-18.6 48.0,-20.2 49.1,-21.4 53.7,-28.4 54.8,-29.6 55.9,-30.5 60.5,-35.5 61.6,-36.4 63.9,-37.9 62.8,-36.9 58.2,-31.4 57.1,-30.4 56.0,-29.1 51.5,-21.3 50.3,-20.0 49.2,-18.2 48.1,-15.6 45.8,-9.5 44.7,-6.9 43.6,-5.0 42.4,-3.6 39.0,3.1 37.9,4.7 36.8,4.7 35.6,3.9 31.1,-0.8 30.0,-1.6 28.9,-2.0 27.7,-2.6 26.6,-3.6 24.3,-6.1 23.2,-7.1 22.1,-7.4 20.9,-6.5 16.4,-1.8 15.3,-1.0 14.2,0.1 13.0,1.6 9.6,7.0 8.5,8.6 6.3,10.7 2.9,14.1 1.7,14.9"/>
<polygon transform="translate(516.3,443.7)" points="-0.6,13.0 0.6,12.2 1.7,11.2 3.9,8.8 6.2,6.6 10.7,0.1 11.9,-1.3 13.0,-2.3 14.1,-3.0 18.6,-7.6 19.8,-8.4 20.9,-8.2 22.0,-7.3 24.3,-4.9 25.4,-3.9 27.7,-3.1 28.8,-2.3 33.3,2.1 34.5,2.8 35.6,2.8 36.7,1.3 40.1,-5.1 41.2,-6.5 42.4,-8.2 43.5,-10.7 45.8,-16.5 46.9,-19.0 48.0,-20.7 49.2,-21.9 53.7,-29.4 54.8,-30.6 55.9,-31.5 60.5,-36.8 61.6,-37.8 63.9,-38.7 62.8,-37.7 58.2,-32.0 57.1,-31.0 56.0,-29.7 54.9,-27.8 52.6,-23.4 51.5,-21.6 50.3,-20.2 49.2,-18.4 48.1,-15.7 45.8,-9.3 44.7,-6.5 43.6,-4.6 42.4,-3.1 39.0,3.9 37.9,5.6 36.8,5.5 35.6,4.7 31.1,-0.4 30.0,-1.3 28.9,-1.7 27.7,-2.3 26.6,-3.4 24.3,-6.1 23.2,-7.2 22.1,-7.5 20.9,-6.6 16.4,-1.7 15.3,-0.8 14.2,0.3 13.0,1.9 9.6,7.7 8.5,9.4 6.3,11.4 2.9,14.9 1.7,15.7"/>
<polygon transform="translate(517.5,444.3)" points="-0.6,13.7 0.6,12.9 3.9,9.5 6.2,7.4 7.3,5.8 10.7,0.4 11.9,-1.1 13.0,-2.2 14.1,-2.9 18.6,-7.7 19.8,-8.6 20.9,-8.3 22.0,-7.3 24.3,-4.8 25.4,-3.7 26.5,-3.2 27.7,-2.8 28.8,-2.0 33.3,2.7 34.5,3.5 35.6,3.5 36.7,1.9 40.1,-4.8 41.2,-6.2 42.4,-8.0 43.5,-10.7 45.8,-16.8 46.9,-19.4 48.0,-21.2 49.1,-22.5 53.7,-30.3 54.8,-31.6 55.9,-32.5 60.5,-38.1 61.6,-39.1 63.9,-39.2 62.8,-38.2 58.2,-32.4 57.1,-31.4 56.0,-30.0 54.9,-28.1 52.6,-23.6 51.5,-21.6 50.3,-20.3 49.2,-18.4 48.1,-15.5 45.8,-8.9 44.7,-6.0 43.6,-4.0 42.4,-2.5 39.0,4.8 37.9,6.5 36.8,6.4 35.6,5.5 31.1,0.1 30.0,-0.9 28.9,-1.4 27.7,-2.0 26.6,-3.2 24.3,-6.1 23.2,-7.2 22.1,-7.6 20.9,-6.7 16.4,-1.6 15.3,-0.7 14.2,0.5 13.0,2.2 9.6,8.4 8.5,10.0 7.4,11.1 6.3,12.1 2.9,15.6 1.7,16.5"/>
<polygon transform="translate(518.6,444.9)" points="-0.6,14.5 0.6,13.7 3.9,10.2 6.2,8.2 7.3,6.5 10.7,0.8 11.9,-0.9 13.0,-2.0 14.1,-2.8 18.6,-7.8 19.8,-8.7 20.9,-8.4 22.0,-7.3 24.3,-4.6 25.4,-3.5 26.5,-2.9 27.7,-2.5 28.8,-1.6 33.3,3.5 34.5,4.3 35.6,4.4 36.7,2.7 40.1,-4.3 41.2,-5.8 42.4,-7.7 43.5,-10.4 45.8,-16.8 46.9,-19.6 48.0,-21.4 49.2,-22.7 50.3,-24.6 52.5,-29.0 53.7,-30.9 54.8,-32.2 55.9,-33.2 60.5,-38.9 61.6,-39.9 63.9,-40.1 62.8,-39.1 58.2,-33.0 57.1,-32.0 56.0,-30.6 54.9,-28.6 52.6,-23.9 51.5,-21.9 50.3,-20.5 49.2,-18.5 48.1,-15.6 45.8,-8.6 44.7,-5.6 43.6,-3.5 42.4,-2.0 39.0,5.6 37.9,7.4 36.8,7.3 35.6,6.3 31.1,0.5 30.0,-0.5 28.9,-1.0 27.7,-1.8 26.6,-3.0 24.3,-6.1 23.2,-7.3 22.1,-7.8 20.9,-6.8 16.4,-1.5 15.3,-0.6 14.2,0.7 13.0,2.5 9.6,8.9 8.5,10.7 7.4,11.8 6.3,12.7 2.9,16.4 1.7,17.3"/>
<polygon transform="translate(519.8,445.5)" points="-0.6,15.3 0.6,14.5 3.9,10.9 5.1,10.0 6.2,8.9 7.3,7.2 10.7,1.1 11.9,-0.7 13.0,-1.9 14.1,-2.7 18.6,-7.9 19.8,-8.8 20.9,-8.4 22.0,-7.3 24.3,-4.4 25.4,-3.2 26.5,-2.5 27.7,-2.1 28.8,-1.1 33.3,4.3 34.5,5.2 35.6,5.3 36.7,3.6 40.1,-3.7 41.2,-5.2 42.4,-7.2 43.5,-10.1 45.8,-16.7 46.9,-19.6 48.0,-21.4 49.2,-22.8 50.3,-24.8 52.5,-29.3 53.7,-31.2 54.8,-32.6 55.9,-33.6 60.5,-39.4 61.6,-40.4 63.9,-41.2 62.8,-40.1 58.2,-33.8 57.1,-32.8 56.0,-31.3 54.9,-29.2 52.6,-24.4 51.5,-22.3 50.3,-20.8 49.2,-18.8 48.1,-15.7 45.8,-8.4 44.7,-5.3 43.6,-3.1 42.4,-1.5 39.0,6.4 37.9,8.3 36.8,8.1 35.6,7.1 31.1,0.9 30.0,-0.2 28.9,-0.7 27.7,-1.5 26.6,-2.9 24.3,-6.2 23.2,-7.4 22.1,-7.9 20.9,-6.9 17.6,-2.6 16.4,-1.4 15.3,-0.5 14.2,0.9 13.0,2.8 9.6,9.5 8.5,11.3 7.4,12.5 6.3,13.4 2.9,17.2 1.7,18.1"/>
<polygon transform="translate(520.9,446.1)" points="-0.6,16.1 0.6,15.2 3.9,11.6 5.1,10.6 6.2,9.5 7.3,7.8 10.7,1.3 11.9,-0.5 13.0,-1.8 14.1,-2.6 18.6,-8.0 19.8,-8.9 20.9,-8.5 22.0,-7.3 24.3,-4.2 25.4,-2.9 26.5,-2.2 27.7,-1.7 28.8,-0.7 33.3,5.1 34.5,6.1 35.6,6.2 36.7,4.4 40.1,-3.1 41.2,-4.7 42.4,-6.8 43.5,-9.8 45.8,-16.7 46.9,-19.7 48.0,-21.7 49.2,-23.1 50.3,-25.1 52.5,-29.8 53.7,-31.8 54.8,-33.2 55.9,-34.2 60.5,-40.3 61.6,-41.3 63.9,-42.2 62.8,-41.1 58.2,-34.7 57.1,-33.6 56.0,-32.1 54.9,-29.9 52.6,-24.8 51.5,-22.6 50.3,-21.1 49.2,-19.0 48.1,-15.8 45.8,-8.2 44.7,-4.9 43.6,-2.7 42.4,-1.0 39.0,7.2 37.9,9.2 36.8,9.0 35.6,7.9 31.1,1.4 30.0,0.2 28.9,-0.4 27.7,-1.2 26.6,-2.7 24.3,-6.2 23.2,-7.5 22.1,-8.0 20.9,-7.0 17.6,-2.6 16.4,-1.3 15.3,-0.3 14.2,1.0 13.0,3.0 9.6,10.0 8.5,11.9 7.4,13.1 6.3,14.1 2.9,18.1 1.7,19.0"/>
<polygon transform="translate(522.1,446.7)" points="-0.6,16.9 0.6,16.1 3.9,12.2 5.1,11.3 6.2,10.1 7.3,8.3 10.7,1.6 11.9,-0.3 13.0,-1.6 14.1,-2.5 15.2,-3.8 18.6,-8.1 19.8,-9.1 20.9,-8.6 22.0,-7.3 24.3,-4.1 25.4,-2.7 26.5,-1.9 27.7,-1.4 28.8,-0.2 33.3,5.9 34.5,7.0 35.6,7.1 36.7,5.2 40.1,-2.6 41.2,-4.3 42.4,-6.4 43.5,-9.6 45.8,-16.9 46.9,-19.9 48.0,-22.0 49.2,-23.4 50.3,-25.6 52.5,-30.4 53.7,-32.5 54.8,-34.0 55.9,-35.0 60.5,-41.3 61.6,-42.3 63.9,-43.2 62.8,-42.1 58.2,-35.4 57.1,-34.3 56.0,-32.8 54.9,-30.5 52.6,-25.2 51.5,-23.0 50.3,-21.4 49.2,-19.2 48.1,-15.8 45.8,-7.9 44.7,-4.5 43.6,-2.2 42.4,-0.4 39.0,8.1 37.9,10.2 36.8,9.9 35.6,8.8 31.1,1.8 30.0,0.6 28.9,-0.1 27.7,-1.0 26.6,-2.5 24.3,-6.2 23.2,-7.6 22.1,-8.2 20.9,-7.1 17.6,-2.5 16.4,-1.2 15.3,-0.2 14.2,1.2 13.0,3.3 9.6,10.6 8.5,12.5 7.4,13.8 6.3,14.8 2.9,18.9 1.7,19.8"/>
<polygon transform="translate(523.2,447.3)" points="-0.6,17.8 0.6,16.9 3.9,12.9 5.1,11.9 6.2,10.7 7.3,8.9 10.7,1.8 11.9,-0.1 13.0,-1.5 14.1,-2.5 15.2,-3.8 18.6,-8.2 19.8,-9.2 20.9,-8.7 22.0,-7.4 24.3,-3.9 25.4,-2.4 26.5,-1.6 27.7,-1.0 28.8,0.2 33.3,6.7 34.5,7.8 35.6,8.0 36.7,6.1 40.1,-2.2 41.2,-3.9 42.4,-6.1 43.5,-9.4 45.8,-17.0 46.9,-20.2 48.0,-22.3 49.2,-23.8 50.3,-26.0 52.5,-31.1 53.7,-33.3 54.8,-34.8 55.9,-35.8 60.5,-42.3 61.6,-43.4 63.9,-43.9 62.8,-42.8 58.2,-35.9 57.1,-34.8 56.0,-33.2 54.9,-30.9 52.6,-25.5 51.5,-23.1 50.3,-21.5 49.2,-19.2 48.1,-15.8 45.8,-7.5 44.7,-4.0 43.6,-1.6 42.4,0.2 39.0,9.1 37.9,11.2 36.8,10.9 35.6,9.7 31.1,2.3 30.0,1.0 28.9,0.3 27.7,-0.7 26.6,-2.3 24.3,-6.2 23.2,-7.7 22.1,-8.3 20.9,-7.2 17.6,-2.5 16.4,-1.1 15.3,-0.1 14.2,1.4 13.0,3.6 9.6,11.2 8.5,13.2 7.4,14.5 6.3,15.5 2.9,19.8 1.7,20.7"/>
<polygon transform="translate(524.4,447.9)" points="-0.6,18.6 0.6,17.7 3.9,13.6 5.1,12.6 6.2,11.4 7.3,9.4 10.7,2.1 11.9,0.1 13.0,-1.4 14.1,-2.4 15.2,-3.7 18.6,-8.3 19.8,-9.4 20.9,-8.8 22.0,-7.4 24.3,-3.7 25.4,-2.2 26.5,-1.3 27.7,-0.6 28.8,0.7 33.3,7.6 34.5,8.8 35.6,9.0 36.7,6.9 40.1,-1.6 41.2,-3.4 42.4,-5.7 43.5,-9.1 45.8,-17.0 46.9,-20.4 48.0,-22.6 49.2,-24.1 50.3,-26.4 52.5,-31.7 53.7,-33.9 54.8,-35.5 55.9,-36.6 60.5,-43.3 61.6,-44.4 63.9,-44.6 62.8,-43.5 58.2,-36.5 57.1,-35.3 56.0,-33.7 54.9,-31.3 52.6,-25.7 51.5,-23.3 50.3,-21.6 49.2,-19.3 48.1,-15.7 45.8,-7.1 44.7,-3.4 43.6,-1.0 42.4,0.9 39.0,10.1 37.9,12.3 36.8,12.0 35.6,10.6 31.1,2.9 30.0,1.4 28.9,0.7 27.7,-0.3 26.6,-2.1 24.3,-6.2 23.2,-7.8 22.1,-8.4 20.9,-7.3 17.6,-2.4 16.4,-0.9 15.3,0.1 14.2,1.6 13.0,3.8 9.6,11.7 8.5,13.8 7.4,15.2 6.3,16.3 2.9,20.6 1.7,21.6"/>
<polygon transform="translate(525.5,448.5)" points="-0.6,19.5 0.6,18.6 3.9,14.3 5.1,13.3 6.2,12.0 7.3,10.0 10.7,2.4 11.9,0.2 13.0,-1.2 14.1,-2.2 15.2,-3.7 18.6,-8.4 19.8,-9.5 20.9,-8.9 22.0,-7.4 24.3,-3.5 25.4,-1.8 26.5,-0.9 27.7,-0.2 28.8,1.2 33.3,8.5 34.5,9.8 35.6,10.0 36.7,7.9 40.1,-0.9 41.2,-2.8 42.4,-5.2 43.5,-8.7 45.8,-16.9 46.9,-20.4 48.0,-22.7 49.1,-24.3 50.3,-26.6 52.5,-32.1 53.7,-34.4 54.8,-36.0 55.9,-37.1 60.5,-44.0 61.6,-45.1 62.7,-45.2 61.6,-44.1 57.1,-37.1 56.0,-35.9 54.8,-34.3 53.7,-31.9 51.4,-26.3 50.3,-23.9 49.2,-22.2 48.0,-19.9 46.9,-16.3 44.7,-7.7 43.5,-4.0 42.4,-1.6 41.3,0.3 37.9,9.5 36.7,11.7 35.6,11.4 34.5,10.1 30.0,2.3 28.8,0.9 27.7,0.1 26.6,-0.9 25.4,-2.7 23.2,-6.8 22.1,-8.4 20.9,-9.0 19.8,-7.9 16.4,-3.0 15.3,-1.5 14.1,-0.5 13.0,1.0 11.9,3.2 8.5,11.1 7.4,13.3 6.2,14.6 5.1,15.7 1.7,20.1 0.6,21.0"/>
</g>
<line class="a2" x1="531.90" y1="483.40" x2="609.60" y2="461.70"/>
<line class="a2" x1="531.90" y1="483.40" x2="474.10" y2="453.90"/>
<line class="a2" x1="474.10" y1="453.90" x2="474.10" y2="389.90"/>
<line class="a2" x1="531.90" y1="483.40" x2="534.04" y2="484.49"/>
<line class="a2" x1="570.75" y1="472.55" x2="572.89" y2="473.64"/>
<line class="a2" x1="609.60" y1="461.70" x2="611.74" y2="462.79"/>
<line class="a2" x1="531.90" y1="483.40" x2="529.59" y2="484.05"/>
<line class="a2" x1="503.00" y1="468.65" x2="500.69" y2="469.30"/>
<line class="a2" x1="474.10" y1="453.90" x2="471.79" y2="454.55"/>
<line class="a2" x1="474.10" y1="446.80" x2="471.78" y2="445.62"/>
<text class="s" text-anchor="end" x="468.0" y="450.5">-5</text>
<line class="a2" x1="474.10" y1="422.20" x2="471.78" y2="421.02"/>
<text class="s" text-anchor="end" x="468.0" y="425.9">0</text>
<line class="a2" x1="474.10" y1="397.30" x2="471.78" y2="396.12"/>
<text class="s" text-anchor="end" x="468.0" y="401.0">5</text>
<text class="s" text-anchor="middle" x="459.5" y="468.1">10</text>
<text class="s" text-anchor="middle" x="493.1" y="483.1">5</text>
<text class="s" text-anchor="middle" x="522.5" y="498.0">0</text>
<text class="s" text-anchor="middle" x="539.6" y="498.9">0</text>
<text class="s" text-anchor="middle" x="587.9" y="488.7">2000</text>
<text class="s" text-anchor="middle" x="626.4" y="475.6">4000</text>
<text class="s" x="438.2" y="375.7" style="font-size:11.4px">×<tspan x="447.2">10</tspan><tspan x="461.3" y="371.2" style="font-size:8.9px">-4</tspan></text>
</svg></body></html>
